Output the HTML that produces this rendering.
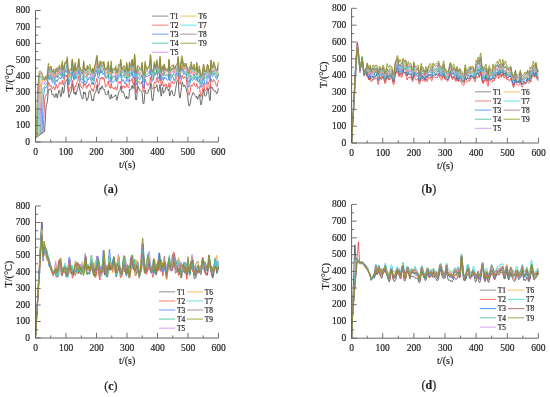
<!DOCTYPE html>
<html><head><meta charset="utf-8"><title>Temperature curves</title>
<style>
html,body{margin:0;padding:0;background:#fff;}
body{width:550px;height:397px;overflow:hidden;}
svg{display:block;}
text{font-family:"Liberation Serif","Times New Roman",serif;fill:#1e1e1e;stroke:#1e1e1e;stroke-width:0.18px;}
.tk text{font-size:9.5px;}
.ti{font-size:10.1px;}
.pl{font-size:12px;}
.lg{font-size:7.4px;}
</style></head><body>
<svg width="550" height="397" viewBox="0 0 550 397">
<defs><filter id="soft" x="-2%" y="-2%" width="104%" height="104%"><feGaussianBlur stdDeviation="0.3"/></filter></defs>
<rect width="550" height="397" fill="#fff"/>
<g fill="none" stroke-width="0.85" stroke-linejoin="round" filter="url(#soft)"><polyline points="35.5,137.1 35.8,136.9 36.1,136.7 36.4,136.5 36.7,136.3 37.0,136.1 37.3,135.9 37.6,135.7 37.9,135.6 38.2,135.4 38.5,135.2 38.9,135.0 39.2,134.8 39.5,134.6 39.8,134.4 40.1,134.2 40.4,134.0 40.7,133.9 41.0,133.7 41.3,133.5 41.6,133.3 41.9,133.1 42.2,132.9 42.5,132.7 42.8,132.5 43.1,132.3 43.4,132.2 43.7,132.0 44.0,131.8 44.3,131.6 44.6,131.4 44.9,125.5 45.3,119.8 45.6,114.2 45.9,109.2 46.2,104.8 46.5,104.5 46.8,104.0 47.1,102.7 47.4,100.5 47.7,97.9 48.0,94.3 48.3,90.6 48.6,89.2 48.9,89.8 49.2,89.9 49.5,89.3 49.8,89.1 50.1,88.8 50.4,88.9 50.7,88.8 51.0,89.7 51.4,91.1 51.7,92.6 52.0,94.1 52.3,95.0 52.6,95.0 52.9,95.0 53.2,94.7 53.5,94.4 53.8,94.8 54.1,95.9 54.4,97.2 54.7,97.5 55.0,97.0 55.3,95.7 55.6,94.4 55.9,93.5 56.2,93.6 56.5,94.8 56.8,96.3 57.1,97.8 57.4,97.9 57.8,95.8 58.1,93.7 58.4,93.0 58.7,91.9 59.0,90.6 59.3,89.9 59.6,90.5 59.9,92.1 60.2,94.3 60.5,96.2 60.8,96.8 61.1,96.6 61.4,95.4 61.7,93.2 62.0,89.9 62.3,87.0 62.6,87.7 62.9,90.4 63.2,92.4 63.5,93.4 63.8,92.7 64.2,90.6 64.5,87.3 64.8,84.5 65.1,82.8 65.4,81.7 65.7,81.1 66.0,81.0 66.3,80.9 66.6,80.1 66.9,79.2 67.2,79.4 67.5,82.7 67.8,87.5 68.1,91.6 68.4,94.6 68.7,96.6 69.0,97.4 69.3,97.1 69.6,96.0 69.9,94.3 70.3,92.8 70.6,92.0 70.9,91.9 71.2,91.9 71.5,90.5 71.8,87.4 72.1,84.6 72.4,83.5 72.7,84.5 73.0,87.0 73.3,89.7 73.6,91.9 73.9,93.1 74.2,93.9 74.5,93.9 74.8,92.7 75.1,91.9 75.4,93.1 75.7,94.7 76.0,94.8 76.3,93.6 76.7,92.0 77.0,90.6 77.3,89.4 77.6,88.7 77.9,88.1 78.2,86.8 78.5,84.2 78.8,83.4 79.1,85.6 79.4,87.8 79.7,89.2 80.0,90.6 80.3,92.1 80.6,93.6 80.9,94.9 81.2,95.6 81.5,96.3 81.8,97.5 82.1,98.4 82.4,99.0 82.7,99.1 83.1,98.1 83.4,94.3 83.7,91.9 84.0,93.5 84.3,94.1 84.6,93.2 84.9,92.4 85.2,92.6 85.5,94.2 85.8,96.2 86.1,97.9 86.4,99.6 86.7,100.8 87.0,100.3 87.3,98.7 87.6,98.5 87.9,98.8 88.2,97.9 88.5,95.5 88.8,93.0 89.2,91.5 89.5,90.7 89.8,90.5 90.1,91.0 90.4,92.0 90.7,93.2 91.0,94.8 91.3,96.6 91.6,98.6 91.9,100.2 92.2,100.4 92.5,99.2 92.8,99.5 93.1,100.8 93.4,100.6 93.7,98.9 94.0,96.9 94.3,94.9 94.6,93.5 94.9,92.8 95.2,92.8 95.6,92.6 95.9,91.5 96.2,90.0 96.5,88.2 96.8,86.1 97.1,84.8 97.4,86.2 97.7,89.2 98.0,91.6 98.3,93.0 98.6,93.7 98.9,93.4 99.2,92.2 99.5,90.5 99.8,88.9 100.1,87.6 100.4,87.9 100.7,89.3 101.0,89.4 101.3,88.2 101.6,86.9 102.0,86.0 102.3,85.9 102.6,86.8 102.9,88.4 103.2,89.4 103.5,89.2 103.8,89.1 104.1,89.2 104.4,89.3 104.7,90.4 105.0,92.3 105.3,93.9 105.6,94.8 105.9,95.1 106.2,95.1 106.5,94.9 106.8,94.6 107.1,94.2 107.4,93.8 107.7,92.9 108.1,90.9 108.4,90.6 108.7,93.3 109.0,95.7 109.3,96.8 109.6,97.3 109.9,98.2 110.2,99.0 110.5,99.0 110.8,97.3 111.1,94.6 111.4,94.6 111.7,96.8 112.0,98.2 112.3,97.8 112.6,97.2 112.9,97.2 113.2,97.0 113.5,96.9 113.8,97.0 114.1,96.5 114.5,96.2 114.8,96.0 115.1,95.7 115.4,95.3 115.7,94.7 116.0,96.1 116.3,98.5 116.6,99.8 116.9,100.3 117.2,99.4 117.5,98.1 117.8,96.4 118.1,94.7 118.4,93.2 118.7,92.0 119.0,91.4 119.3,91.3 119.6,90.9 119.9,90.5 120.2,89.5 120.5,87.1 120.9,86.0 121.2,88.2 121.5,90.7 121.8,92.1 122.1,92.4 122.4,92.0 122.7,91.4 123.0,91.2 123.3,91.8 123.6,92.8 123.9,93.3 124.2,93.8 124.5,95.7 124.8,96.9 125.1,97.1 125.4,97.5 125.7,98.3 126.0,98.9 126.3,97.7 126.6,96.0 127.0,97.0 127.3,98.7 127.6,99.1 127.9,98.7 128.2,98.4 128.5,98.5 128.8,98.2 129.1,95.7 129.4,91.3 129.7,89.3 130.0,90.1 130.3,89.8 130.6,89.2 130.9,89.3 131.2,88.9 131.5,87.9 131.8,86.3 132.1,85.3 132.4,85.9 132.7,87.6 133.0,88.7 133.4,88.3 133.7,87.1 134.0,85.7 134.3,83.8 134.6,82.5 134.9,86.2 135.2,93.0 135.5,97.5 135.8,99.6 136.1,100.2 136.4,99.9 136.7,97.8 137.0,94.4 137.3,90.8 137.6,88.2 137.9,86.8 138.2,86.3 138.5,86.9 138.8,87.9 139.1,89.0 139.4,90.0 139.8,90.4 140.1,90.3 140.4,90.4 140.7,90.9 141.0,91.3 141.3,91.4 141.6,91.3 141.9,91.5 142.2,93.5 142.5,97.2 142.8,101.0 143.1,103.2 143.4,104.0 143.7,103.7 144.0,102.3 144.3,99.9 144.6,96.2 144.9,92.0 145.2,90.3 145.5,91.6 145.8,92.8 146.2,93.1 146.5,93.4 146.8,93.7 147.1,93.9 147.4,93.7 147.7,93.2 148.0,92.4 148.3,91.0 148.6,90.0 148.9,89.4 149.2,89.1 149.5,89.2 149.8,88.6 150.1,86.3 150.4,83.5 150.7,84.3 151.0,88.8 151.3,92.9 151.6,95.7 151.9,98.4 152.3,100.4 152.6,101.0 152.9,100.3 153.2,98.6 153.5,96.7 153.8,93.6 154.1,89.9 154.4,87.4 154.7,87.0 155.0,87.4 155.3,87.5 155.6,87.4 155.9,87.3 156.2,86.7 156.5,85.4 156.8,84.7 157.1,86.0 157.4,88.7 157.7,90.5 158.0,91.4 158.3,91.8 158.7,91.7 159.0,90.6 159.3,88.7 159.6,86.3 159.9,84.6 160.2,85.4 160.5,89.4 160.8,93.8 161.1,96.1 161.4,96.1 161.7,93.8 162.0,90.4 162.3,87.7 162.6,87.5 162.9,89.4 163.2,91.9 163.5,93.3 163.8,92.8 164.1,91.6 164.4,91.3 164.7,91.4 165.1,90.7 165.4,89.2 165.7,87.6 166.0,86.5 166.3,86.3 166.6,86.9 166.9,87.8 167.2,88.5 167.5,89.1 167.8,89.4 168.1,90.2 168.4,90.7 168.7,89.3 169.0,88.9 169.3,92.7 169.6,95.8 169.9,95.9 170.2,94.8 170.5,93.2 170.8,91.8 171.2,90.9 171.5,90.4 171.8,90.2 172.1,90.7 172.4,92.1 172.7,93.6 173.0,94.7 173.3,95.0 173.6,95.4 173.9,96.0 174.2,96.0 174.5,95.3 174.8,94.1 175.1,92.6 175.4,90.7 175.7,88.6 176.0,86.8 176.3,84.8 176.6,82.9 176.9,81.5 177.2,80.8 177.6,80.2 177.9,79.5 178.2,80.6 178.5,84.6 178.8,89.8 179.1,93.6 179.4,95.9 179.7,97.6 180.0,98.1 180.3,96.7 180.6,94.0 180.9,92.3 181.2,90.6 181.5,87.6 181.8,84.2 182.1,82.3 182.4,82.3 182.7,83.1 183.0,84.8 183.3,86.1 183.6,86.5 184.0,86.4 184.3,85.7 184.6,85.1 184.9,85.1 185.2,85.9 185.5,87.3 185.8,87.9 186.1,87.8 186.4,88.9 186.7,91.0 187.0,92.5 187.3,93.6 187.6,95.5 187.9,98.3 188.2,101.3 188.5,103.8 188.8,105.5 189.1,106.2 189.4,106.0 189.7,105.1 190.1,104.2 190.4,103.0 190.7,100.7 191.0,98.4 191.3,97.1 191.6,96.5 191.9,95.9 192.2,95.1 192.5,94.2 192.8,93.1 193.1,92.5 193.4,92.8 193.7,93.2 194.0,93.3 194.3,94.1 194.6,95.1 194.9,95.3 195.2,95.6 195.5,95.9 195.8,96.4 196.1,97.5 196.5,97.4 196.8,96.4 197.1,97.7 197.4,99.4 197.7,99.3 198.0,98.3 198.3,97.3 198.6,96.6 198.9,95.6 199.2,94.4 199.5,94.7 199.8,96.7 200.1,99.6 200.4,102.3 200.7,104.0 201.0,104.9 201.3,104.6 201.6,103.4 201.9,101.5 202.2,99.2 202.5,96.9 202.9,94.4 203.2,91.8 203.5,89.6 203.8,89.0 204.1,90.8 204.4,93.4 204.7,95.5 205.0,96.3 205.3,96.2 205.6,95.8 205.9,95.4 206.2,95.3 206.5,95.0 206.8,93.6 207.1,90.9 207.4,88.7 207.7,87.9 208.0,87.7 208.3,88.7 208.6,91.3 209.0,94.6 209.3,97.7 209.6,99.8 209.9,100.7 210.2,99.8 210.5,95.7 210.8,89.4 211.1,86.6 211.4,87.2 211.7,87.1 212.0,87.0 212.3,87.4 212.6,88.0 212.9,89.1 213.2,89.8 213.5,89.8 213.8,90.4 214.1,91.0 214.4,91.1 214.7,91.1 215.0,90.9 215.4,90.8 215.7,91.4 216.0,92.2 216.3,93.0 216.6,93.7 216.9,93.7 217.2,93.1 217.5,92.1 217.8,91.0 218.1,89.6 218.4,88.1" stroke="#4d4d4d"/><polyline points="35.5,137.2 35.8,137.0 36.1,136.9 36.4,136.7 36.7,136.5 37.0,136.3 37.3,136.1 37.6,135.9 37.9,135.7 38.2,135.5 38.5,135.3 38.9,135.2 39.2,135.0 39.5,134.8 39.8,134.6 40.1,134.4 40.4,134.2 40.7,134.0 41.0,133.8 41.3,133.6 41.6,133.5 41.9,133.3 42.2,133.1 42.5,132.9 42.8,132.7 43.1,132.5 43.4,125.9 43.7,119.7 44.0,113.6 44.3,107.4 44.6,100.8 44.9,98.4 45.3,96.7 45.6,95.5 45.9,95.0 46.2,95.0 46.5,95.2 46.8,95.0 47.1,94.1 47.4,92.3 47.7,89.9 48.0,86.3 48.3,83.1 48.6,82.0 48.9,82.9 49.2,84.0 49.5,85.1 49.8,86.0 50.1,86.6 50.4,86.4 50.7,85.8 51.0,85.5 51.4,86.5 51.7,87.9 52.0,88.6 52.3,88.6 52.6,88.3 52.9,87.8 53.2,87.1 53.5,86.5 53.8,86.9 54.1,88.3 54.4,89.7 54.7,90.1 55.0,89.2 55.3,88.1 55.6,86.5 55.9,85.0 56.2,84.5 56.5,85.0 56.8,86.5 57.1,87.9 57.4,88.4 57.8,87.5 58.1,86.8 58.4,86.7 58.7,86.1 59.0,84.6 59.3,82.8 59.6,82.1 59.9,82.0 60.2,82.6 60.5,83.5 60.8,84.1 61.1,84.3 61.4,84.2 61.7,83.5 62.0,82.0 62.3,80.3 62.6,81.4 62.9,83.7 63.2,84.8 63.5,84.7 63.8,83.2 64.2,80.7 64.5,78.3 64.8,76.7 65.1,75.3 65.4,74.9 65.7,75.3 66.0,76.1 66.3,76.6 66.6,76.0 66.9,74.8 67.2,75.2 67.5,78.6 67.8,83.3 68.1,87.2 68.4,89.5 68.7,91.0 69.0,91.9 69.3,91.5 69.6,90.2 69.9,88.5 70.3,87.3 70.6,87.0 70.9,87.4 71.2,87.4 71.5,86.1 71.8,83.4 72.1,80.6 72.4,80.2 72.7,81.8 73.0,84.4 73.3,87.4 73.6,89.6 73.9,90.4 74.2,90.3 74.5,89.6 74.8,87.8 75.1,85.9 75.4,86.1 75.7,86.9 76.0,86.3 76.3,84.5 76.7,82.9 77.0,82.2 77.3,81.6 77.6,80.9 77.9,80.4 78.2,79.1 78.5,76.8 78.8,76.0 79.1,78.4 79.4,80.8 79.7,82.2 80.0,83.6 80.3,85.1 80.6,86.0 80.9,86.4 81.2,87.0 81.5,87.5 81.8,87.6 82.1,87.7 82.4,88.1 82.7,88.6 83.1,87.7 83.4,84.3 83.7,82.4 84.0,84.6 84.3,85.5 84.6,84.6 84.9,83.7 85.2,83.5 85.5,84.3 85.8,85.6 86.1,86.7 86.4,87.9 86.7,88.5 87.0,87.8 87.3,85.8 87.6,85.2 87.9,86.2 88.2,86.1 88.5,85.0 88.8,84.1 89.2,83.7 89.5,83.7 89.8,84.3 90.1,85.4 90.4,86.5 90.7,87.1 91.0,87.4 91.3,88.2 91.6,89.3 91.9,90.6 92.2,90.5 92.5,89.3 92.8,89.8 93.1,91.5 93.4,91.5 93.7,90.0 94.0,88.5 94.3,87.0 94.6,85.4 94.9,84.2 95.2,83.6 95.6,82.9 95.9,82.2 96.2,81.4 96.5,79.9 96.8,78.6 97.1,78.7 97.4,80.1 97.7,82.7 98.0,85.0 98.3,86.2 98.6,86.4 98.9,85.6 99.2,84.4 99.5,82.8 99.8,80.4 100.1,78.2 100.4,78.0 100.7,78.8 101.0,78.9 101.3,78.1 101.6,77.1 102.0,76.8 102.3,77.0 102.6,78.0 102.9,79.1 103.2,79.1 103.5,78.4 103.8,77.7 104.1,78.4 104.4,80.0 104.7,81.8 105.0,83.7 105.3,85.6 105.6,87.0 105.9,87.1 106.2,86.4 106.5,85.7 106.8,84.9 107.1,84.5 107.4,84.1 107.7,83.3 108.1,81.4 108.4,81.0 108.7,83.8 109.0,85.9 109.3,87.0 109.6,87.7 109.9,88.1 110.2,88.3 110.5,88.2 110.8,86.1 111.1,83.3 111.4,84.0 111.7,86.9 112.0,88.1 112.3,87.9 112.6,87.9 112.9,88.1 113.2,88.4 113.5,88.4 113.8,87.8 114.1,87.7 114.5,88.7 114.8,89.2 115.1,88.7 115.4,87.8 115.7,86.8 116.0,87.7 116.3,89.7 116.6,90.3 116.9,89.9 117.2,88.9 117.5,87.2 117.8,85.3 118.1,83.5 118.4,82.3 118.7,81.7 119.0,81.5 119.3,82.0 119.6,82.8 119.9,83.4 120.2,82.8 120.5,81.3 120.9,81.4 121.2,84.3 121.5,87.1 121.8,88.7 122.1,88.9 122.4,87.9 122.7,86.7 123.0,85.9 123.3,85.8 123.6,86.4 123.9,86.3 124.2,86.2 124.5,87.3 124.8,87.8 125.1,87.2 125.4,86.9 125.7,87.2 126.0,87.3 126.3,85.6 126.6,83.7 127.0,84.4 127.3,86.3 127.6,87.0 127.9,87.0 128.2,87.4 128.5,87.8 128.8,87.7 129.1,85.6 129.4,81.6 129.7,79.8 130.0,80.5 130.3,80.8 130.6,81.0 130.9,81.0 131.2,80.6 131.5,80.0 131.8,78.8 132.1,78.4 132.4,80.0 132.7,82.5 133.0,84.0 133.4,84.4 133.7,83.6 134.0,81.9 134.3,79.4 134.6,77.4 134.9,80.5 135.2,86.4 135.5,90.2 135.8,91.9 136.1,92.5 136.4,92.4 136.7,91.0 137.0,88.2 137.3,85.0 137.6,83.0 137.9,81.8 138.2,81.1 138.5,81.0 138.8,81.8 139.1,82.7 139.4,82.9 139.8,83.0 140.1,83.3 140.4,83.4 140.7,83.6 141.0,83.8 141.3,83.2 141.6,82.0 141.9,81.3 142.2,82.6 142.5,85.9 142.8,88.9 143.1,90.9 143.4,91.7 143.7,91.7 144.0,90.8 144.3,88.7 144.6,85.1 144.9,81.2 145.2,79.3 145.5,80.1 145.8,81.4 146.2,81.8 146.5,82.5 146.8,83.5 147.1,84.5 147.4,85.4 147.7,85.8 148.0,85.2 148.3,84.2 148.6,83.6 148.9,83.4 149.2,83.6 149.5,83.7 149.8,82.8 150.1,80.2 150.4,76.9 150.7,77.2 151.0,80.7 151.3,83.6 151.6,85.9 151.9,87.7 152.3,88.7 152.6,89.0 152.9,89.0 153.2,88.6 153.5,87.7 153.8,86.0 154.1,83.6 154.4,82.0 154.7,81.9 155.0,82.5 155.3,83.1 155.6,83.2 155.9,82.5 156.2,80.9 156.5,78.8 156.8,77.5 157.1,77.8 157.4,79.3 157.7,80.9 158.0,82.1 158.3,82.7 158.7,82.7 159.0,82.0 159.3,80.0 159.6,76.8 159.9,73.9 160.2,74.1 160.5,77.7 160.8,82.1 161.1,85.1 161.4,85.9 161.7,84.9 162.0,83.0 162.3,81.5 162.6,81.6 162.9,83.3 163.2,85.8 163.5,87.1 163.8,86.2 164.1,84.6 164.4,84.7 164.7,85.6 165.1,85.5 165.4,84.5 165.7,83.9 166.0,83.9 166.3,84.5 166.6,85.5 166.9,86.7 167.2,87.3 167.5,87.4 167.8,87.3 168.1,87.3 168.4,87.0 168.7,84.6 169.0,82.9 169.3,86.1 169.6,88.7 169.9,88.6 170.2,87.4 170.5,85.8 170.8,84.1 171.2,82.4 171.5,81.4 171.8,81.0 172.1,81.1 172.4,82.1 172.7,83.3 173.0,83.7 173.3,83.2 173.6,83.4 173.9,83.8 174.2,83.6 174.5,82.8 174.8,82.0 175.1,81.0 175.4,80.3 175.7,79.8 176.0,79.2 176.3,78.5 176.6,77.5 176.9,76.7 177.2,76.0 177.6,74.6 177.9,73.1 178.2,73.1 178.5,75.8 178.8,79.4 179.1,82.1 179.4,83.6 179.7,84.2 180.0,84.5 180.3,84.0 180.6,82.2 180.9,81.0 181.2,80.0 181.5,77.8 181.8,76.0 182.1,75.2 182.4,75.8 182.7,76.9 183.0,77.9 183.3,78.8 183.6,78.7 184.0,78.1 184.3,77.4 184.6,76.7 184.9,76.7 185.2,77.0 185.5,77.6 185.8,77.9 186.1,78.4 186.4,80.0 186.7,82.4 187.0,84.6 187.3,86.1 187.6,87.9 187.9,89.9 188.2,92.0 188.5,93.7 188.8,94.9 189.1,95.3 189.4,94.5 189.7,92.7 190.1,91.5 190.4,90.0 190.7,87.6 191.0,85.5 191.3,84.9 191.6,85.0 191.9,85.9 192.2,86.2 192.5,85.5 192.8,84.9 193.1,84.5 193.4,83.8 193.7,83.1 194.0,82.7 194.3,83.8 194.6,85.4 194.9,86.0 195.2,86.4 195.5,86.6 195.8,86.6 196.1,86.4 196.5,85.0 196.8,83.5 197.1,85.2 197.4,87.6 197.7,88.4 198.0,88.3 198.3,88.2 198.6,87.9 198.9,87.2 199.2,86.5 199.5,87.4 199.8,89.5 200.1,92.2 200.4,94.6 200.7,96.1 201.0,96.8 201.3,96.3 201.6,95.1 201.9,93.3 202.2,91.4 202.5,89.2 202.9,87.2 203.2,85.1 203.5,83.4 203.8,83.1 204.1,84.9 204.4,87.7 204.7,89.6 205.0,90.2 205.3,90.4 205.6,90.4 205.9,90.3 206.2,90.2 206.5,89.6 206.8,87.8 207.1,84.7 207.4,82.8 207.7,82.1 208.0,81.8 208.3,81.9 208.6,83.1 209.0,85.0 209.3,87.1 209.6,88.8 209.9,89.2 210.2,88.4 210.5,84.7 210.8,79.5 211.1,78.6 211.4,80.6 211.7,81.3 212.0,81.4 212.3,81.6 212.6,81.9 212.9,82.0 213.2,81.0 213.5,79.7 213.8,79.6 214.1,80.1 214.4,80.3 214.7,80.5 215.0,81.2 215.4,82.6 215.7,83.5 216.0,84.3 216.3,85.5 216.6,86.0 216.9,86.5 217.2,86.2 217.5,84.8 217.8,83.0 218.1,81.7 218.4,80.3" stroke="#f04242"/><polyline points="35.5,137.4 35.8,137.2 36.1,137.0 36.4,136.8 36.7,136.6 37.0,136.5 37.3,136.3 37.6,136.1 37.9,135.9 38.2,135.7 38.5,135.5 38.9,135.3 39.2,135.1 39.5,134.9 39.8,134.8 40.1,134.6 40.4,134.4 40.7,134.2 41.0,134.0 41.3,133.8 41.6,133.6 41.9,133.4 42.2,125.5 42.5,118.3 42.8,111.4 43.1,104.2 43.4,97.0 43.7,94.9 44.0,92.9 44.3,90.9 44.6,89.5 44.9,88.2 45.3,87.4 45.6,87.1 45.9,87.3 46.2,87.9 46.5,88.1 46.8,88.0 47.1,86.9 47.4,85.1 47.7,82.7 48.0,79.4 48.3,76.2 48.6,75.6 48.9,77.2 49.2,78.7 49.5,79.4 49.8,79.6 50.1,79.2 50.4,78.5 50.7,77.7 51.0,77.8 51.4,79.1 51.7,80.8 52.0,82.0 52.3,82.5 52.6,82.4 52.9,81.9 53.2,81.0 53.5,80.5 53.8,80.8 54.1,82.0 54.4,83.7 54.7,84.6 55.0,84.1 55.3,82.8 55.6,81.4 55.9,80.3 56.2,79.8 56.5,80.2 56.8,81.0 57.1,81.7 57.4,81.3 57.8,79.7 58.1,78.9 58.4,79.1 58.7,79.1 59.0,78.4 59.3,77.9 59.6,77.4 59.9,77.4 60.2,78.0 60.5,78.8 60.8,79.0 61.1,78.6 61.4,78.0 61.7,77.0 62.0,74.9 62.3,72.8 62.6,74.0 62.9,76.9 63.2,78.5 63.5,78.7 63.8,78.1 64.2,76.4 64.5,74.3 64.8,72.3 65.1,70.8 65.4,70.7 65.7,71.4 66.0,72.0 66.3,72.4 66.6,71.9 66.9,70.3 67.2,69.8 67.5,72.5 67.8,76.6 68.1,79.9 68.4,82.5 68.7,84.4 69.0,85.1 69.3,84.3 69.6,83.2 69.9,81.8 70.3,80.6 70.6,80.2 70.9,80.3 71.2,80.1 71.5,78.3 71.8,74.8 72.1,72.0 72.4,71.8 72.7,73.7 73.0,76.5 73.3,78.5 73.6,79.7 73.9,80.2 74.2,79.7 74.5,78.7 74.8,77.2 75.1,76.0 75.4,76.6 75.7,78.3 76.0,79.2 76.3,78.9 76.7,77.8 77.0,76.6 77.3,76.0 77.6,75.6 77.9,75.2 78.2,74.1 78.5,71.8 78.8,70.1 79.1,71.6 79.4,73.7 79.7,75.3 80.0,77.0 80.3,78.7 80.6,80.0 80.9,80.9 81.2,81.6 81.5,81.9 81.8,82.3 82.1,82.7 82.4,82.8 82.7,82.9 83.1,82.0 83.4,78.5 83.7,76.5 84.0,79.8 84.3,81.7 84.6,81.2 84.9,80.9 85.2,81.3 85.5,81.7 85.8,82.3 86.1,83.0 86.4,83.5 86.7,83.4 87.0,82.0 87.3,79.3 87.6,78.8 87.9,79.8 88.2,79.8 88.5,79.0 88.8,78.1 89.2,77.3 89.5,77.3 89.8,77.4 90.1,77.9 90.4,78.4 90.7,79.0 91.0,80.0 91.3,81.3 91.6,82.9 91.9,84.4 92.2,84.0 92.5,82.3 92.8,82.9 93.1,84.9 93.4,85.0 93.7,83.5 94.0,81.6 94.3,79.7 94.6,78.2 94.9,77.0 95.2,76.0 95.6,75.0 95.9,73.8 96.2,72.5 96.5,71.2 96.8,70.2 97.1,70.2 97.4,72.0 97.7,75.0 98.0,77.5 98.3,78.3 98.6,78.2 98.9,77.6 99.2,76.4 99.5,74.9 99.8,73.0 100.1,71.0 100.4,71.1 100.7,72.5 101.0,72.9 101.3,72.4 101.6,71.4 102.0,70.9 102.3,71.5 102.6,72.7 102.9,74.0 103.2,74.4 103.5,73.5 103.8,73.0 104.1,73.7 104.4,74.7 104.7,75.6 105.0,76.5 105.3,77.4 105.6,78.1 105.9,78.1 106.2,78.0 106.5,78.1 106.8,78.2 107.1,78.0 107.4,77.9 107.7,77.4 108.1,75.5 108.4,74.7 108.7,77.5 109.0,80.0 109.3,81.1 109.6,81.7 109.9,82.0 110.2,82.2 110.5,82.0 110.8,79.8 111.1,77.1 111.4,78.0 111.7,81.1 112.0,82.7 112.3,82.4 112.6,81.7 112.9,81.4 113.2,81.6 113.5,81.6 113.8,81.4 114.1,81.2 114.5,80.9 114.8,80.8 115.1,80.4 115.4,79.2 115.7,77.6 116.0,78.7 116.3,80.9 116.6,81.9 116.9,81.8 117.2,81.3 117.5,80.5 117.8,79.5 118.1,78.2 118.4,77.3 118.7,76.5 119.0,76.0 119.3,75.8 119.6,76.2 119.9,76.5 120.2,76.0 120.5,74.3 120.9,74.3 121.2,77.6 121.5,80.3 121.8,81.3 122.1,81.6 122.4,81.2 122.7,80.4 123.0,79.5 123.3,79.8 123.6,80.9 123.9,81.3 124.2,81.8 124.5,83.4 124.8,84.2 125.1,83.9 125.4,83.5 125.7,82.9 126.0,82.2 126.3,79.8 126.6,77.1 127.0,77.6 127.3,79.8 127.6,80.7 127.9,81.0 128.2,81.3 128.5,81.7 128.8,81.3 129.1,78.8 129.4,75.0 129.7,74.2 130.0,75.5 130.3,75.8 130.6,75.9 130.9,76.2 131.2,75.9 131.5,74.9 131.8,73.1 132.1,72.2 132.4,73.6 132.7,76.4 133.0,78.1 133.4,78.3 133.7,77.2 134.0,75.5 134.3,72.5 134.6,69.8 134.9,72.7 135.2,78.6 135.5,82.2 135.8,83.8 136.1,84.6 136.4,85.1 136.7,84.4 137.0,82.0 137.3,79.1 137.6,77.5 137.9,77.1 138.2,76.9 138.5,77.3 138.8,78.2 139.1,78.9 139.4,79.6 139.8,79.6 140.1,79.2 140.4,78.8 140.7,78.5 141.0,78.2 141.3,77.4 141.6,76.3 141.9,75.4 142.2,76.5 142.5,79.7 142.8,83.5 143.1,86.3 143.4,88.1 143.7,88.0 144.0,86.7 144.3,84.8 144.6,81.6 144.9,77.2 145.2,74.9 145.5,76.0 145.8,76.8 146.2,76.6 146.5,76.3 146.8,76.5 147.1,76.8 147.4,76.8 147.7,76.3 148.0,75.8 148.3,75.5 148.6,75.7 148.9,75.9 149.2,76.0 149.5,75.9 149.8,75.3 150.1,72.8 150.4,69.2 150.7,69.2 151.0,73.1 151.3,76.3 151.6,78.4 151.9,80.3 152.3,81.3 152.6,81.1 152.9,80.9 153.2,80.5 153.5,79.5 153.8,77.6 154.1,75.1 154.4,73.6 154.7,73.9 155.0,74.5 155.3,74.6 155.6,74.3 155.9,73.7 156.2,72.6 156.5,71.2 156.8,70.0 157.1,71.0 157.4,73.5 157.7,75.6 158.0,76.9 158.3,78.1 158.7,78.7 159.0,78.3 159.3,76.5 159.6,73.7 159.9,71.0 160.2,70.7 160.5,73.8 160.8,77.7 161.1,80.1 161.4,81.0 161.7,80.3 162.0,78.7 162.3,77.3 162.6,77.1 162.9,78.1 163.2,79.8 163.5,80.5 163.8,79.2 164.1,77.4 164.4,77.3 164.7,78.4 165.1,78.8 165.4,78.2 165.7,77.8 166.0,77.8 166.3,78.0 166.6,78.7 166.9,79.6 167.2,80.1 167.5,80.3 167.8,80.3 168.1,80.0 168.4,79.3 168.7,76.1 169.0,74.0 169.3,77.3 169.6,80.5 169.9,81.1 170.2,80.7 170.5,80.0 170.8,79.2 171.2,78.2 171.5,77.4 171.8,76.7 172.1,76.0 172.4,76.2 172.7,76.8 173.0,77.2 173.3,77.4 173.6,78.5 173.9,80.1 174.2,80.6 174.5,80.2 174.8,79.6 175.1,78.9 175.4,77.6 175.7,76.5 176.0,75.6 176.3,74.1 176.6,73.0 176.9,72.7 177.2,71.9 177.6,70.4 177.9,68.6 178.2,68.3 178.5,70.5 178.8,74.1 179.1,76.7 179.4,78.2 179.7,79.3 180.0,79.1 180.3,77.4 180.6,74.0 180.9,72.1 181.2,71.4 181.5,69.5 181.8,67.5 182.1,67.1 182.4,68.0 182.7,69.8 183.0,71.6 183.3,73.2 183.6,74.3 184.0,74.5 184.3,73.9 184.6,72.9 184.9,72.6 185.2,73.3 185.5,74.1 185.8,74.1 186.1,73.9 186.4,75.2 186.7,77.3 187.0,79.4 187.3,81.1 187.6,82.5 187.9,83.9 188.2,85.2 188.5,86.6 188.8,87.3 189.1,86.8 189.4,85.4 189.7,84.3 190.1,82.9 190.4,81.1 190.7,79.4 191.0,78.2 191.3,78.2 191.6,78.9 191.9,79.9 192.2,80.4 192.5,80.3 192.8,80.0 193.1,79.7 193.4,79.4 193.7,78.5 194.0,77.6 194.3,77.7 194.6,78.7 194.9,79.6 195.2,79.8 195.5,79.8 195.8,80.3 196.1,80.1 196.5,78.6 196.8,77.2 197.1,78.8 197.4,81.0 197.7,81.5 198.0,81.7 198.3,82.2 198.6,82.0 198.9,80.8 199.2,79.4 199.5,79.7 199.8,81.9 200.1,84.4 200.4,86.2 200.7,87.2 201.0,87.5 201.3,86.9 201.6,85.8 201.9,84.4 202.2,83.2 202.5,82.0 202.9,80.6 203.2,79.1 203.5,77.8 203.8,77.9 204.1,79.9 204.4,82.2 204.7,83.8 205.0,84.4 205.3,84.2 205.6,84.0 205.9,83.9 206.2,83.3 206.5,82.6 206.8,81.3 207.1,78.7 207.4,76.9 207.7,76.3 208.0,75.6 208.3,75.6 208.6,76.6 209.0,78.1 209.3,79.7 209.6,81.3 209.9,81.8 210.2,80.8 210.5,77.0 210.8,71.7 211.1,71.4 211.4,74.1 211.7,75.1 212.0,75.5 212.3,76.0 212.6,76.6 212.9,76.6 213.2,75.2 213.5,73.7 213.8,73.3 214.1,73.8 214.4,74.4 214.7,74.8 215.0,75.3 215.4,76.2 215.7,77.1 216.0,78.1 216.3,78.9 216.6,79.3 216.9,79.4 217.2,78.9 217.5,77.8 217.8,76.3 218.1,74.8 218.4,73.2" stroke="#3380ee"/><polyline points="35.5,137.6 35.8,137.4 36.1,137.2 36.4,137.0 36.7,136.8 37.0,136.6 37.3,136.4 37.6,136.2 37.9,136.0 38.2,135.9 38.5,135.7 38.9,135.5 39.2,135.3 39.5,135.1 39.8,134.9 40.1,134.7 40.4,134.5 40.7,134.3 41.0,125.3 41.3,116.4 41.6,107.6 41.9,99.2 42.2,91.5 42.5,90.3 42.8,89.7 43.1,88.6 43.4,88.0 43.7,88.1 44.0,87.6 44.3,86.6 44.6,86.4 44.9,86.1 45.3,85.4 45.6,84.7 45.9,84.3 46.2,83.9 46.5,83.6 46.8,83.3 47.1,82.6 47.4,81.8 47.7,80.0 48.0,76.9 48.3,74.5 48.6,74.6 48.9,76.2 49.2,77.2 49.5,77.7 49.8,78.3 50.1,78.0 50.4,76.5 50.7,74.7 51.0,74.2 51.4,75.4 51.7,77.4 52.0,79.0 52.3,80.0 52.6,80.2 52.9,79.2 53.2,77.7 53.5,76.6 53.8,77.1 54.1,78.8 54.4,80.1 54.7,80.6 55.0,79.8 55.3,78.4 55.6,77.1 55.9,76.0 56.2,75.3 56.5,75.9 56.8,77.1 57.1,78.0 57.4,77.9 57.8,76.5 58.1,76.2 58.4,76.8 58.7,76.2 59.0,74.1 59.3,72.7 59.6,72.3 59.9,72.3 60.2,73.5 60.5,74.7 60.8,75.4 61.1,75.4 61.4,74.8 61.7,73.3 62.0,70.7 62.3,68.9 62.6,70.6 62.9,73.6 63.2,75.5 63.5,76.1 63.8,75.8 64.2,74.5 64.5,72.3 64.8,70.4 65.1,69.8 65.4,70.0 65.7,70.1 66.0,70.1 66.3,69.5 66.6,68.5 66.9,66.9 67.2,66.4 67.5,69.7 67.8,74.4 68.1,77.4 68.4,79.5 68.7,80.9 69.0,81.5 69.3,81.2 69.6,80.2 69.9,78.9 70.3,78.1 70.6,77.5 70.9,76.9 71.2,75.6 71.5,73.1 71.8,69.7 72.1,67.2 72.4,67.3 72.7,69.9 73.0,73.5 73.3,76.5 73.6,78.4 73.9,79.0 74.2,78.3 74.5,76.3 74.8,73.7 75.1,71.9 75.4,72.9 75.7,75.5 76.0,76.6 76.3,75.7 76.7,74.5 77.0,73.3 77.3,72.5 77.6,72.1 77.9,71.7 78.2,70.5 78.5,67.6 78.8,66.0 79.1,67.8 79.4,70.0 79.7,71.1 80.0,72.4 80.3,74.3 80.6,76.5 80.9,77.9 81.2,78.5 81.5,79.1 81.8,79.1 82.1,79.0 82.4,79.6 82.7,79.9 83.1,78.4 83.4,73.7 83.7,71.5 84.0,74.6 84.3,76.6 84.6,76.4 84.9,76.1 85.2,76.4 85.5,76.7 85.8,76.7 86.1,77.0 86.4,77.8 86.7,78.5 87.0,77.7 87.3,74.9 87.6,73.8 87.9,75.1 88.2,74.9 88.5,74.2 88.8,73.7 89.2,74.0 89.5,74.5 89.8,74.4 90.1,74.1 90.4,74.2 90.7,75.1 91.0,76.7 91.3,78.3 91.6,79.8 91.9,80.4 92.2,79.7 92.5,77.9 92.8,78.5 93.1,80.6 93.4,80.7 93.7,79.6 94.0,78.0 94.3,76.3 94.6,75.0 94.9,73.9 95.2,72.8 95.6,71.1 95.9,69.6 96.2,68.6 96.5,67.4 96.8,66.2 97.1,66.2 97.4,68.1 97.7,70.9 98.0,72.7 98.3,73.3 98.6,73.8 98.9,74.5 99.2,74.5 99.5,73.4 99.8,70.8 100.1,68.5 100.4,68.9 100.7,70.9 101.0,72.4 101.3,72.8 101.6,72.4 102.0,71.6 102.3,71.1 102.6,71.5 102.9,71.6 103.2,70.7 103.5,69.2 103.8,68.4 104.1,69.6 104.4,71.9 104.7,73.7 105.0,74.7 105.3,75.6 105.6,76.7 105.9,77.3 106.2,77.2 106.5,76.7 106.8,76.1 107.1,75.4 107.4,74.7 107.7,73.7 108.1,71.6 108.4,70.8 108.7,73.9 109.0,76.4 109.3,77.2 109.6,77.2 109.9,77.3 110.2,78.2 110.5,78.7 110.8,76.8 111.1,74.0 111.4,74.7 111.7,78.0 112.0,79.4 112.3,78.7 112.6,77.6 112.9,77.0 113.2,77.3 113.5,77.0 113.8,76.5 114.1,76.2 114.5,76.6 114.8,77.2 115.1,77.4 115.4,76.5 115.7,75.5 116.0,77.5 116.3,80.1 116.6,80.5 116.9,80.2 117.2,79.8 117.5,78.9 117.8,77.1 118.1,75.1 118.4,74.2 118.7,74.3 119.0,74.2 119.3,73.7 119.6,74.0 119.9,74.6 120.2,74.1 120.5,71.8 120.9,71.2 121.2,74.3 121.5,77.0 121.8,77.9 122.1,78.0 122.4,77.7 122.7,77.3 123.0,76.8 123.3,76.3 123.6,76.0 123.9,75.0 124.2,74.6 124.5,76.2 124.8,77.7 125.1,77.8 125.4,77.6 125.7,77.9 126.0,77.1 126.3,74.3 126.6,71.6 127.0,72.8 127.3,76.1 127.6,77.8 127.9,77.6 128.2,77.3 128.5,77.0 128.8,76.9 129.1,75.0 129.4,71.5 129.7,71.1 130.0,73.4 130.3,73.9 130.6,73.4 130.9,73.7 131.2,74.0 131.5,73.1 131.8,70.7 132.1,68.9 132.4,69.2 132.7,71.1 133.0,72.4 133.4,72.4 133.7,71.9 134.0,70.8 134.3,68.0 134.6,64.8 134.9,67.3 135.2,73.6 135.5,77.9 135.8,80.1 136.1,81.3 136.4,81.2 136.7,79.9 137.0,77.6 137.3,74.9 137.6,73.4 137.9,72.8 138.2,72.6 138.5,72.7 138.8,73.5 139.1,74.7 139.4,76.0 139.8,76.6 140.1,76.6 140.4,76.5 140.7,76.6 141.0,76.9 141.3,76.8 141.6,75.8 141.9,74.3 142.2,73.8 142.5,75.5 142.8,78.4 143.1,80.9 143.4,81.9 143.7,81.8 144.0,81.0 144.3,79.4 144.6,77.2 144.9,73.9 145.2,71.7 145.5,72.8 145.8,74.2 146.2,74.5 146.5,74.3 146.8,74.0 147.1,73.9 147.4,74.0 147.7,74.0 148.0,73.7 148.3,73.7 148.6,73.5 148.9,73.1 149.2,73.1 149.5,73.0 149.8,71.9 150.1,68.7 150.4,64.4 150.7,65.0 151.0,69.8 151.3,73.5 151.6,75.7 151.9,77.5 152.3,78.6 152.6,79.3 152.9,79.5 153.2,78.8 153.5,77.4 153.8,75.0 154.1,72.7 154.4,71.7 154.7,72.5 155.0,74.1 155.3,75.0 155.6,75.0 155.9,74.2 156.2,73.0 156.5,70.7 156.8,68.6 157.1,68.7 157.4,70.5 157.7,72.0 158.0,73.0 158.3,73.8 158.7,74.0 159.0,73.8 159.3,72.2 159.6,69.3 159.9,66.1 160.2,66.3 160.5,70.3 160.8,74.9 161.1,77.4 161.4,77.2 161.7,75.8 162.0,74.1 162.3,73.0 162.6,73.4 162.9,74.7 163.2,75.7 163.5,75.2 163.8,73.1 164.1,71.4 164.4,72.1 164.7,74.4 165.1,75.8 165.4,75.9 165.7,75.3 166.0,74.9 166.3,75.0 166.6,75.2 166.9,75.3 167.2,75.5 167.5,76.1 167.8,76.6 168.1,76.4 168.4,75.5 168.7,72.3 169.0,70.2 169.3,74.0 169.6,77.7 169.9,78.0 170.2,77.0 170.5,75.1 170.8,74.0 171.2,74.3 171.5,75.4 171.8,76.1 172.1,75.9 172.4,75.7 172.7,75.4 173.0,74.4 173.3,73.6 173.6,74.1 173.9,75.3 174.2,75.7 174.5,75.8 174.8,75.8 175.1,75.4 175.4,74.6 175.7,73.7 176.0,72.7 176.3,71.5 176.6,70.7 176.9,69.9 177.2,68.9 177.6,67.7 177.9,65.6 178.2,64.8 178.5,67.8 178.8,72.5 179.1,75.9 179.4,77.2 179.7,77.3 180.0,76.4 180.3,74.3 180.6,71.0 180.9,69.2 181.2,69.1 181.5,67.8 181.8,66.5 182.1,66.5 182.4,67.0 182.7,68.2 183.0,69.7 183.3,70.9 183.6,71.5 184.0,72.0 184.3,72.3 184.6,71.9 184.9,71.3 185.2,71.0 185.5,71.2 185.8,71.6 186.1,71.5 186.4,72.7 186.7,75.5 187.0,77.2 187.3,78.0 187.6,78.7 187.9,79.5 188.2,80.7 188.5,81.7 188.8,82.6 189.1,82.5 189.4,81.1 189.7,79.6 190.1,78.5 190.4,77.4 190.7,75.9 191.0,75.2 191.3,75.6 191.6,76.5 191.9,77.5 192.2,78.3 192.5,78.2 192.8,77.7 193.1,77.1 193.4,76.3 193.7,75.0 194.0,73.9 194.3,74.5 194.6,76.7 194.9,78.2 195.2,77.8 195.5,77.3 195.8,76.8 196.1,75.9 196.5,74.2 196.8,72.9 197.1,75.2 197.4,78.2 197.7,79.3 198.0,79.4 198.3,78.8 198.6,78.0 198.9,76.7 199.2,75.3 199.5,75.7 199.8,78.3 200.1,80.6 200.4,82.3 200.7,83.4 201.0,83.9 201.3,83.9 201.6,83.5 201.9,82.2 202.2,80.5 202.5,79.5 202.9,78.5 203.2,76.7 203.5,74.0 203.8,73.0 204.1,74.9 204.4,77.4 204.7,78.7 205.0,78.7 205.3,78.2 205.6,77.5 205.9,76.9 206.2,77.2 206.5,77.4 206.8,76.3 207.1,73.6 207.4,71.8 207.7,71.9 208.0,72.2 208.3,72.8 208.6,73.8 209.0,75.1 209.3,76.3 209.6,77.6 209.9,78.3 210.2,77.8 210.5,74.2 210.8,68.3 211.1,67.7 211.4,70.8 211.7,72.4 212.0,73.0 212.3,73.8 212.6,73.9 212.9,73.0 213.2,71.5 213.5,70.7 213.8,71.1 214.1,72.3 214.4,73.2 214.7,73.5 215.0,73.4 215.4,73.6 215.7,74.1 216.0,74.4 216.3,75.0 216.6,76.1 216.9,76.9 217.2,77.4 217.5,77.0 217.8,75.8 218.1,74.2 218.4,72.7" stroke="#30b47f"/><polyline points="35.5,137.7 35.8,137.5 36.1,137.3 36.4,137.2 36.7,137.0 37.0,136.8 37.3,136.6 37.6,136.4 37.9,136.2 38.2,136.0 38.5,135.8 38.9,135.6 39.2,135.5 39.5,135.3 39.8,135.1 40.1,125.2 40.4,115.7 40.7,106.0 41.0,96.3 41.3,87.3 41.6,85.2 41.9,83.8 42.2,83.0 42.5,82.9 42.8,83.3 43.1,83.3 43.4,83.4 43.7,83.7 44.0,84.1 44.3,84.1 44.6,83.0 44.9,82.0 45.3,81.5 45.6,81.5 45.9,81.3 46.2,81.1 46.5,80.8 46.8,80.6 47.1,79.6 47.4,78.3 47.7,76.1 48.0,72.8 48.3,69.9 48.6,70.0 48.9,72.6 49.2,74.5 49.5,75.3 49.8,75.9 50.1,76.5 50.4,75.7 50.7,73.3 51.0,72.2 51.4,73.2 51.7,75.0 52.0,76.5 52.3,77.7 52.6,77.9 52.9,77.0 53.2,75.8 53.5,74.7 53.8,74.9 54.1,76.8 54.4,78.2 54.7,78.0 55.0,76.8 55.3,75.6 55.6,75.0 55.9,74.7 56.2,74.6 56.5,74.8 56.8,75.7 57.1,76.8 57.4,75.7 57.8,73.3 58.1,72.6 58.4,73.5 58.7,73.6 59.0,72.4 59.3,71.3 59.6,71.2 59.9,71.9 60.2,72.8 60.5,73.3 60.8,73.4 61.1,73.0 61.4,72.3 61.7,71.8 62.0,70.1 62.3,68.4 62.6,70.0 62.9,72.5 63.2,73.4 63.5,73.5 63.8,73.2 64.2,71.8 64.5,70.2 64.8,68.9 65.1,67.8 65.4,67.7 65.7,67.9 66.0,67.6 66.3,67.3 66.6,66.7 66.9,65.1 67.2,64.6 67.5,67.8 67.8,72.1 68.1,75.0 68.4,76.8 68.7,77.5 69.0,77.2 69.3,76.4 69.6,75.0 69.9,73.9 70.3,73.8 70.6,74.5 70.9,74.6 71.2,73.8 71.5,72.2 71.8,69.4 72.1,66.5 72.4,65.7 72.7,67.7 73.0,71.2 73.3,74.5 73.6,76.1 73.9,76.3 74.2,75.8 74.5,74.2 74.8,71.0 75.1,68.6 75.4,69.6 75.7,72.2 76.0,73.4 76.3,73.1 76.7,72.2 77.0,71.2 77.3,70.6 77.6,70.5 77.9,70.3 78.2,69.0 78.5,65.5 78.8,63.6 79.1,66.3 79.4,69.4 79.7,71.0 80.0,72.2 80.3,73.3 80.6,74.2 80.9,74.9 81.2,75.7 81.5,76.0 81.8,76.0 82.1,76.4 82.4,76.9 82.7,77.3 83.1,76.2 83.4,71.6 83.7,68.7 84.0,71.5 84.3,73.1 84.6,72.1 84.9,71.2 85.2,71.6 85.5,72.7 85.8,73.8 86.1,75.1 86.4,76.1 86.7,76.4 87.0,75.3 87.3,72.6 87.6,72.2 87.9,73.6 88.2,73.8 88.5,73.5 88.8,73.0 89.2,72.1 89.5,71.6 89.8,72.1 90.1,73.1 90.4,74.4 90.7,75.6 91.0,76.6 91.3,77.3 91.6,77.7 91.9,78.0 92.2,76.9 92.5,75.1 92.8,75.9 93.1,78.5 93.4,78.7 93.7,77.2 94.0,75.5 94.3,74.2 94.6,73.1 94.9,72.2 95.2,71.3 95.6,70.4 95.9,68.8 96.2,66.7 96.5,64.4 96.8,62.4 97.1,62.0 97.4,64.2 97.7,67.8 98.0,70.6 98.3,72.3 98.6,72.7 98.9,72.1 99.2,71.1 99.5,70.1 99.8,68.8 100.1,67.6 100.4,68.7 100.7,70.8 101.0,71.7 101.3,71.0 101.6,69.5 102.0,68.4 102.3,68.6 102.6,69.5 102.9,70.1 103.2,70.0 103.5,68.6 103.8,67.3 104.1,67.9 104.4,69.9 104.7,71.5 105.0,72.4 105.3,73.1 105.6,73.4 105.9,73.5 106.2,73.7 106.5,74.0 106.8,73.6 107.1,73.0 107.4,72.9 107.7,72.0 108.1,69.1 108.4,68.1 108.7,71.3 109.0,73.1 109.3,73.5 109.6,73.9 109.9,74.2 110.2,74.4 110.5,73.7 110.8,71.3 111.1,68.5 111.4,70.2 111.7,74.7 112.0,76.9 112.3,76.5 112.6,75.9 112.9,75.9 113.2,76.1 113.5,76.2 113.8,76.2 114.1,76.0 114.5,75.6 114.8,75.2 115.1,74.7 115.4,73.7 115.7,72.6 116.0,74.4 116.3,77.2 116.6,78.5 116.9,78.0 117.2,76.5 117.5,75.0 117.8,73.9 118.1,73.2 118.4,72.5 118.7,71.8 119.0,71.4 119.3,71.6 119.6,72.2 119.9,72.5 120.2,71.6 120.5,69.5 120.9,69.1 121.2,71.7 121.5,74.0 121.8,75.2 122.1,75.6 122.4,75.4 122.7,75.0 123.0,74.6 123.3,74.7 123.6,74.5 123.9,73.0 124.2,71.8 124.5,73.1 124.8,74.5 125.1,75.0 125.4,75.1 125.7,75.0 126.0,73.8 126.3,70.8 126.6,68.5 127.0,69.6 127.3,72.3 127.6,74.1 127.9,74.6 128.2,74.9 128.5,75.1 128.8,74.6 129.1,72.1 129.4,67.8 129.7,67.3 130.0,70.1 130.3,71.2 130.6,71.1 130.9,70.9 131.2,70.6 131.5,69.1 131.8,66.6 132.1,65.5 132.4,67.1 132.7,69.9 133.0,71.8 133.4,72.0 133.7,70.8 134.0,68.6 134.3,64.8 134.6,61.4 134.9,64.5 135.2,71.2 135.5,75.1 135.8,76.9 136.1,78.1 136.4,78.6 136.7,77.7 137.0,74.8 137.3,71.5 137.6,70.7 137.9,71.0 138.2,70.9 138.5,71.3 138.8,72.4 139.1,73.8 139.4,74.8 139.8,74.9 140.1,74.6 140.4,74.3 140.7,73.3 141.0,72.1 141.3,71.3 141.6,69.8 141.9,68.0 142.2,68.4 142.5,71.4 142.8,75.2 143.1,77.8 143.4,79.0 143.7,79.4 144.0,79.2 144.3,77.8 144.6,74.8 144.9,70.5 145.2,68.4 145.5,69.4 145.8,70.3 146.2,70.8 146.5,71.5 146.8,71.7 147.1,71.8 147.4,71.5 147.7,71.6 148.0,72.0 148.3,72.1 148.6,72.3 148.9,72.1 149.2,71.6 149.5,71.0 149.8,69.8 150.1,66.3 150.4,61.5 150.7,61.6 151.0,66.6 151.3,70.8 151.6,73.5 151.9,75.7 152.3,76.6 152.6,75.9 152.9,74.9 153.2,74.2 153.5,73.4 153.8,71.4 154.1,68.8 154.4,67.6 154.7,68.3 155.0,69.7 155.3,70.0 155.6,69.9 155.9,69.6 156.2,68.5 156.5,66.6 156.8,65.2 157.1,65.9 157.4,68.4 157.7,71.0 158.0,73.0 158.3,73.7 158.7,74.0 159.0,73.1 159.3,70.9 159.6,67.3 159.9,64.0 160.2,64.2 160.5,68.5 160.8,73.0 161.1,75.6 161.4,76.7 161.7,76.5 162.0,75.2 162.3,74.0 162.6,73.7 162.9,74.7 163.2,75.8 163.5,74.7 163.8,71.3 164.1,68.6 164.4,69.1 164.7,71.3 165.1,72.5 165.4,72.8 165.7,72.9 166.0,72.9 166.3,73.3 166.6,74.5 166.9,75.0 167.2,75.0 167.5,74.9 167.8,74.7 168.1,74.5 168.4,73.6 168.7,70.1 169.0,67.6 169.3,71.8 169.6,75.8 169.9,76.0 170.2,75.4 170.5,74.8 170.8,73.8 171.2,72.9 171.5,72.3 171.8,71.7 172.1,71.6 172.4,71.8 172.7,71.8 173.0,71.0 173.3,70.6 173.6,71.7 173.9,73.0 174.2,73.4 174.5,72.9 174.8,71.7 175.1,70.9 175.4,70.4 175.7,70.0 176.0,69.9 176.3,69.9 176.6,69.5 176.9,69.0 177.2,68.1 177.6,66.2 177.9,63.5 178.2,62.3 178.5,64.8 178.8,69.5 179.1,73.5 179.4,75.5 179.7,76.2 180.0,76.0 180.3,74.2 180.6,70.6 180.9,68.3 181.2,67.1 181.5,64.5 181.8,62.5 182.1,62.7 182.4,64.8 182.7,67.0 183.0,68.8 183.3,70.4 183.6,71.2 184.0,70.7 184.3,69.3 184.6,68.1 184.9,67.8 185.2,68.4 185.5,69.4 185.8,69.4 186.1,68.2 186.4,68.7 186.7,70.6 187.0,71.5 187.3,71.9 187.6,72.7 187.9,74.5 188.2,76.4 188.5,77.7 188.8,78.5 189.1,78.3 189.4,77.2 189.7,75.8 190.1,74.5 190.4,73.1 190.7,71.9 191.0,71.4 191.3,71.8 191.6,73.1 191.9,74.1 192.2,74.6 192.5,75.1 192.8,75.2 193.1,74.5 193.4,73.6 193.7,72.5 194.0,71.7 194.3,72.2 194.6,73.8 194.9,74.6 195.2,74.5 195.5,74.2 195.8,73.7 196.1,73.4 196.5,71.3 196.8,69.4 197.1,71.8 197.4,74.7 197.7,74.8 198.0,74.0 198.3,73.3 198.6,72.7 198.9,71.7 199.2,70.7 199.5,70.8 199.8,73.0 200.1,75.7 200.4,77.8 200.7,79.5 201.0,80.5 201.3,80.9 201.6,80.5 201.9,79.1 202.2,77.4 202.5,76.3 202.9,75.6 203.2,73.7 203.5,70.9 203.8,69.9 204.1,71.6 204.4,74.6 204.7,76.2 205.0,76.4 205.3,75.5 205.6,74.3 205.9,74.1 206.2,74.6 206.5,74.7 206.8,73.6 207.1,71.5 207.4,70.4 207.7,70.7 208.0,70.3 208.3,70.5 208.6,72.0 209.0,73.8 209.3,75.8 209.6,77.7 209.9,78.3 210.2,77.2 210.5,72.7 210.8,66.4 211.1,66.2 211.4,69.6 211.7,70.4 212.0,70.5 212.3,71.0 212.6,71.8 212.9,72.1 213.2,71.4 213.5,70.1 213.8,69.5 214.1,70.2 214.4,70.9 214.7,70.9 215.0,71.1 215.4,71.5 215.7,72.0 216.0,72.7 216.3,73.2 216.6,73.3 216.9,73.1 217.2,72.8 217.5,72.2 217.8,71.5 218.1,70.3 218.4,69.4" stroke="#c97be6"/><polyline points="35.5,137.9 35.8,137.7 36.1,137.5 36.4,137.3 36.7,137.1 37.0,136.9 37.3,136.8 37.6,136.6 37.9,136.4 38.2,136.2 38.5,136.0 38.9,135.8 39.2,125.6 39.5,115.3 39.8,105.4 40.1,95.6 40.4,86.0 40.7,83.8 41.0,82.0 41.3,80.3 41.6,79.2 41.9,78.5 42.2,79.0 42.5,80.5 42.8,81.9 43.1,82.0 43.4,81.7 43.7,81.4 44.0,81.1 44.3,80.7 44.6,80.2 44.9,80.1 45.3,80.2 45.6,79.7 45.9,79.2 46.2,79.1 46.5,79.6 46.8,80.2 47.1,79.9 47.4,78.3 47.7,76.4 48.0,73.4 48.3,70.8 48.6,70.5 48.9,71.8 49.2,72.9 49.5,73.6 49.8,73.6 50.1,73.1 50.4,72.1 50.7,70.9 51.0,70.8 51.4,72.4 51.7,74.4 52.0,75.0 52.3,75.4 52.6,75.4 52.9,74.9 53.2,73.9 53.5,73.2 53.8,73.5 54.1,74.7 54.4,75.9 54.7,76.4 55.0,75.8 55.3,74.4 55.6,73.0 55.9,72.3 56.2,72.5 56.5,73.1 56.8,73.9 57.1,74.5 57.4,73.5 57.8,71.5 58.1,70.9 58.4,71.8 58.7,72.1 59.0,71.2 59.3,70.2 59.6,69.9 59.9,70.4 60.2,71.1 60.5,71.1 60.8,70.8 61.1,70.6 61.4,70.2 61.7,68.9 62.0,66.6 62.3,64.6 62.6,66.4 62.9,70.1 63.2,72.2 63.5,72.2 63.8,70.7 64.2,69.4 64.5,68.0 64.8,66.4 65.1,65.1 65.4,64.8 65.7,65.2 66.0,65.7 66.3,65.7 66.6,64.8 66.9,62.5 67.2,61.6 67.5,64.8 67.8,69.4 68.1,72.7 68.4,75.1 68.7,76.8 69.0,77.4 69.3,76.5 69.6,74.8 69.9,73.6 70.3,73.4 70.6,73.5 70.9,73.4 71.2,72.6 71.5,70.7 71.8,67.3 72.1,64.2 72.4,63.5 72.7,65.1 73.0,67.8 73.3,70.3 73.6,71.8 73.9,72.0 74.2,71.7 74.5,71.3 74.8,69.7 75.1,68.3 75.4,69.5 75.7,72.0 76.0,73.3 76.3,73.3 76.7,72.7 77.0,71.5 77.3,70.0 77.6,69.4 77.9,69.4 78.2,68.3 78.5,65.0 78.8,63.3 79.1,65.8 79.4,68.0 79.7,68.5 80.0,69.0 80.3,70.0 80.6,71.2 80.9,72.0 81.2,72.3 81.5,72.4 81.8,72.9 82.1,73.7 82.4,74.3 82.7,74.6 83.1,73.9 83.4,70.3 83.7,67.6 84.0,70.4 84.3,72.4 84.6,72.2 84.9,72.3 85.2,72.8 85.5,73.2 85.8,73.7 86.1,74.3 86.4,74.8 86.7,75.4 87.0,74.7 87.3,71.6 87.6,71.0 87.9,72.7 88.2,72.5 88.5,71.7 88.8,70.9 89.2,70.3 89.5,70.0 89.8,70.7 90.1,71.7 90.4,73.1 90.7,73.6 91.0,73.0 91.3,72.6 91.6,73.3 91.9,74.8 92.2,74.8 92.5,72.9 92.8,73.2 93.1,75.1 93.4,75.2 93.7,73.8 94.0,72.3 94.3,70.6 94.6,69.2 94.9,68.1 95.2,66.6 95.6,65.9 95.9,65.4 96.2,64.2 96.5,62.4 96.8,60.6 97.1,60.6 97.4,63.3 97.7,67.4 98.0,70.2 98.3,71.4 98.6,71.7 98.9,71.0 99.2,69.6 99.5,67.9 99.8,66.2 100.1,65.2 100.4,66.9 100.7,69.3 101.0,69.8 101.3,69.0 101.6,68.1 102.0,67.8 102.3,67.7 102.6,67.6 102.9,67.1 103.2,66.1 103.5,64.8 103.8,64.4 104.1,65.3 104.4,66.7 104.7,68.1 105.0,69.7 105.3,71.8 105.6,73.4 105.9,73.5 106.2,72.8 106.5,72.0 106.8,71.5 107.1,71.1 107.4,70.3 107.7,69.2 108.1,66.8 108.4,66.1 108.7,69.8 109.0,72.7 109.3,73.8 109.6,73.9 109.9,73.8 110.2,73.7 110.5,73.3 110.8,71.1 111.1,68.0 111.4,68.7 111.7,72.1 112.0,73.5 112.3,73.0 112.6,72.1 112.9,71.9 113.2,72.0 113.5,72.3 113.8,72.5 114.1,72.4 114.5,72.5 114.8,72.8 115.1,73.2 115.4,72.9 115.7,71.7 116.0,72.6 116.3,74.1 116.6,74.4 116.9,74.5 117.2,74.8 117.5,74.7 117.8,73.9 118.1,73.0 118.4,71.5 118.7,70.2 119.0,69.6 119.3,69.9 119.6,70.8 119.9,71.3 120.2,69.4 120.5,65.6 120.9,64.2 121.2,67.3 121.5,70.8 121.8,72.8 122.1,73.3 122.4,72.2 122.7,71.3 123.0,70.9 123.3,71.0 123.6,71.2 123.9,70.6 124.2,70.2 124.5,71.5 124.8,72.8 125.1,73.2 125.4,73.8 125.7,74.8 126.0,74.4 126.3,71.0 126.6,67.1 127.0,67.7 127.3,71.1 127.6,72.6 127.9,73.0 128.2,74.0 128.5,75.2 128.8,75.7 129.1,73.7 129.4,69.0 129.7,67.3 130.0,69.1 130.3,70.2 130.6,70.2 130.9,69.5 131.2,68.6 131.5,66.2 131.8,63.7 132.1,63.3 132.4,65.8 132.7,68.9 133.0,70.6 133.4,70.2 133.7,68.5 134.0,66.4 134.3,63.0 134.6,59.8 134.9,63.4 135.2,70.7 135.5,74.7 135.8,76.0 136.1,76.4 136.4,76.4 136.7,75.5 137.0,73.5 137.3,71.2 137.6,70.2 137.9,69.7 138.2,69.1 138.5,69.8 138.8,71.1 139.1,72.4 139.4,72.6 139.8,72.5 140.1,72.6 140.4,72.6 140.7,72.3 141.0,71.8 141.3,71.1 141.6,70.0 141.9,69.0 142.2,69.4 142.5,71.7 142.8,74.3 143.1,76.2 143.4,77.3 143.7,77.5 144.0,77.5 144.3,76.4 144.6,73.9 144.9,69.6 145.2,67.2 145.5,67.9 145.8,69.0 146.2,69.6 146.5,70.4 146.8,70.8 147.1,70.9 147.4,70.6 147.7,69.7 148.0,68.7 148.3,68.1 148.6,68.0 148.9,68.1 149.2,67.6 149.5,67.6 149.8,67.5 150.1,64.7 150.4,60.3 150.7,60.4 151.0,65.4 151.3,69.5 151.6,71.8 151.9,73.2 152.3,73.6 152.6,73.6 152.9,73.9 153.2,74.5 153.5,74.4 153.8,72.2 154.1,68.7 154.4,67.2 154.7,68.1 155.0,69.4 155.3,69.4 155.6,68.6 155.9,67.7 156.2,66.1 156.5,63.9 156.8,62.5 157.1,63.9 157.4,67.4 157.7,70.1 158.0,71.1 158.3,71.1 158.7,70.9 159.0,70.1 159.3,67.8 159.6,64.3 159.9,61.4 160.2,61.5 160.5,65.4 160.8,70.5 161.1,74.1 161.4,74.8 161.7,73.6 162.0,71.7 162.3,70.7 162.6,70.9 162.9,72.3 163.2,73.7 163.5,73.2 163.8,70.9 164.1,69.3 164.4,69.4 164.7,70.4 165.1,70.8 165.4,70.4 165.7,70.0 166.0,69.9 166.3,70.8 166.6,71.8 166.9,72.0 167.2,71.9 167.5,71.8 167.8,72.1 168.1,72.4 168.4,71.7 168.7,68.4 169.0,65.8 169.3,69.5 169.6,73.3 169.9,73.9 170.2,73.2 170.5,72.0 170.8,71.3 171.2,70.9 171.5,70.4 171.8,69.5 172.1,69.2 172.4,70.0 172.7,70.6 173.0,70.3 173.3,70.2 173.6,71.2 173.9,72.3 174.2,72.0 174.5,71.7 174.8,71.2 175.1,70.1 175.4,69.1 175.7,68.9 176.0,69.2 176.3,69.4 176.6,68.7 176.9,68.2 177.2,68.2 177.6,66.5 177.9,63.1 178.2,61.6 178.5,63.9 178.8,67.9 179.1,71.2 179.4,73.1 179.7,73.7 180.0,73.9 180.3,72.3 180.6,68.3 180.9,66.3 181.2,65.9 181.5,64.0 181.8,62.0 182.1,62.0 182.4,63.9 182.7,66.3 183.0,68.2 183.3,69.3 183.6,69.6 184.0,69.0 184.3,67.4 184.6,66.3 184.9,66.3 185.2,67.2 185.5,68.0 185.8,67.5 186.1,66.4 186.4,67.0 186.7,68.7 187.0,69.8 187.3,70.6 187.6,71.8 187.9,73.0 188.2,74.5 188.5,76.0 188.8,76.4 189.1,75.6 189.4,74.4 189.7,73.5 190.1,72.5 190.4,70.3 190.7,67.7 191.0,66.6 191.3,68.0 191.6,70.9 191.9,72.9 192.2,73.0 192.5,72.4 192.8,72.0 193.1,72.0 193.4,71.8 193.7,70.5 194.0,68.4 194.3,68.8 194.6,71.3 194.9,73.1 195.2,73.6 195.5,74.0 195.8,74.0 196.1,72.9 196.5,70.0 196.8,67.5 197.1,69.7 197.4,72.8 197.7,73.7 198.0,73.6 198.3,73.5 198.6,73.0 198.9,71.4 199.2,70.3 199.5,71.3 199.8,73.9 200.1,76.3 200.4,77.5 200.7,78.0 201.0,78.4 201.3,78.3 201.6,77.3 201.9,76.3 202.2,75.5 202.5,74.2 202.9,72.9 203.2,71.5 203.5,70.0 203.8,69.5 204.1,71.0 204.4,73.1 204.7,74.2 205.0,74.1 205.3,73.4 205.6,72.7 205.9,72.5 206.2,72.8 206.5,72.8 206.8,71.5 207.1,69.3 207.4,68.2 207.7,68.8 208.0,69.7 208.3,70.4 208.6,71.1 209.0,72.6 209.3,74.0 209.6,75.0 209.9,75.3 210.2,74.5 210.5,71.1 210.8,65.0 211.1,64.7 211.4,68.8 211.7,70.5 212.0,70.4 212.3,70.4 212.6,70.4 212.9,69.8 213.2,68.2 213.5,66.9 213.8,66.6 214.1,67.5 214.4,68.6 214.7,69.2 215.0,69.8 215.4,70.6 215.7,71.4 216.0,72.4 216.3,73.3 216.6,73.6 216.9,73.2 217.2,72.3 217.5,71.0 217.8,69.4 218.1,68.3 218.4,67.6" stroke="#efa63c"/><polyline points="35.5,138.1 35.8,137.9 36.1,137.7 36.4,137.5 36.7,137.3 37.0,137.1 37.3,136.9 37.6,136.7 37.9,136.5 38.2,126.1 38.5,115.5 38.9,105.0 39.2,94.6 39.5,83.9 39.8,80.7 40.1,78.4 40.4,77.2 40.7,76.8 41.0,77.4 41.3,77.4 41.6,77.0 41.9,77.1 42.2,77.6 42.5,78.6 42.8,79.5 43.1,79.5 43.4,79.2 43.7,78.9 44.0,79.3 44.3,79.7 44.6,79.3 44.9,78.8 45.3,78.5 45.6,78.6 45.9,79.1 46.2,79.1 46.5,78.8 46.8,78.7 47.1,78.7 47.4,77.5 47.7,74.7 48.0,71.0 48.3,67.5 48.6,67.9 48.9,70.8 49.2,72.5 49.5,72.6 49.8,72.5 50.1,72.4 50.4,71.4 50.7,69.9 51.0,69.2 51.4,70.0 51.7,71.7 52.0,73.0 52.3,73.6 52.6,74.0 52.9,73.9 53.2,72.9 53.5,72.2 53.8,72.6 54.1,73.2 54.4,72.9 54.7,72.5 55.0,72.7 55.3,72.6 55.6,72.1 55.9,71.5 56.2,71.2 56.5,71.1 56.8,71.3 57.1,71.5 57.4,70.8 57.8,69.2 58.1,68.5 58.4,69.6 58.7,70.2 59.0,69.8 59.3,69.1 59.6,68.3 59.9,68.7 60.2,70.0 60.5,71.0 60.8,71.5 61.1,71.4 61.4,70.6 61.7,68.9 62.0,66.2 62.3,63.5 62.6,64.5 62.9,67.8 63.2,69.5 63.5,70.0 63.8,70.0 64.2,69.0 64.5,67.5 64.8,66.5 65.1,65.8 65.4,64.9 65.7,65.2 66.0,65.8 66.3,65.8 66.6,64.2 66.9,60.9 67.2,59.5 67.5,62.4 67.8,66.8 68.1,69.9 68.4,72.0 68.7,73.5 69.0,74.1 69.3,74.5 69.6,74.5 69.9,73.7 70.3,72.8 70.6,72.3 70.9,72.2 71.2,71.8 71.5,69.5 71.8,65.5 72.1,62.5 72.4,62.3 72.7,64.6 73.0,68.1 73.3,71.0 73.6,72.0 73.9,71.7 74.2,71.2 74.5,70.4 74.8,68.0 75.1,65.5 75.4,66.2 75.7,68.9 76.0,70.4 76.3,69.9 76.7,68.5 77.0,67.6 77.3,67.2 77.6,67.1 77.9,67.1 78.2,65.3 78.5,61.4 78.8,60.0 79.1,63.4 79.4,66.7 79.7,67.9 80.0,68.6 80.3,69.2 80.6,70.0 80.9,71.3 81.2,72.4 81.5,73.2 81.8,73.6 82.1,73.5 82.4,73.5 82.7,73.2 83.1,71.3 83.4,65.9 83.7,62.7 84.0,66.1 84.3,69.1 84.6,69.6 84.9,69.4 85.2,69.4 85.5,70.1 85.8,70.9 86.1,71.8 86.4,72.4 86.7,72.6 87.0,71.5 87.3,68.6 87.6,68.4 87.9,70.6 88.2,70.9 88.5,70.1 88.8,69.0 89.2,68.2 89.5,68.1 89.8,68.6 90.1,69.1 90.4,69.8 90.7,70.5 91.0,71.1 91.3,72.1 91.6,73.2 91.9,74.1 92.2,73.5 92.5,71.2 92.8,71.7 93.1,74.3 93.4,74.4 93.7,72.6 94.0,70.8 94.3,69.6 94.6,68.8 94.9,67.5 95.2,65.7 95.6,64.1 95.9,62.8 96.2,61.8 96.5,60.8 96.8,59.7 97.1,60.3 97.4,62.8 97.7,66.6 98.0,69.7 98.3,71.5 98.6,71.8 98.9,71.0 99.2,69.6 99.5,67.9 99.8,66.5 100.1,65.5 100.4,66.9 100.7,68.7 101.0,68.5 101.3,67.6 101.6,67.0 102.0,66.0 102.3,65.6 102.6,65.9 102.9,65.9 103.2,64.8 103.5,63.5 103.8,63.7 104.1,65.2 104.4,67.6 104.7,69.7 105.0,70.5 105.3,70.4 105.6,70.4 105.9,70.2 106.2,70.1 106.5,70.0 106.8,69.7 107.1,69.3 107.4,69.1 107.7,68.5 108.1,65.8 108.4,65.1 108.7,69.1 109.0,71.7 109.3,71.8 109.6,71.3 109.9,71.2 110.2,71.8 110.5,71.7 110.8,68.7 111.1,64.9 111.4,65.3 111.7,69.1 112.0,71.7 112.3,72.7 112.6,73.6 112.9,73.6 113.2,72.8 113.5,72.1 113.8,71.3 114.1,70.5 114.5,70.4 114.8,70.9 115.1,71.2 115.4,70.5 115.7,69.0 116.0,70.2 116.3,72.1 116.6,72.2 116.9,71.9 117.2,71.5 117.5,71.3 117.8,70.8 118.1,69.8 118.4,69.0 118.7,68.8 119.0,68.8 119.3,68.9 119.6,69.0 119.9,68.6 120.2,66.8 120.5,63.9 120.9,63.4 121.2,67.0 121.5,69.9 121.8,71.1 122.1,72.2 122.4,72.6 122.7,71.8 123.0,70.4 123.3,69.9 123.6,70.1 123.9,69.5 124.2,69.7 124.5,72.2 124.8,73.7 125.1,73.7 125.4,73.3 125.7,72.9 126.0,72.2 126.3,68.9 126.6,65.4 127.0,66.4 127.3,69.4 127.6,70.6 127.9,71.0 128.2,72.2 128.5,73.5 128.8,73.6 129.1,70.4 129.4,64.8 129.7,63.8 130.0,66.6 130.3,67.9 130.6,68.5 130.9,69.2 131.2,69.3 131.5,67.3 131.8,64.1 132.1,62.4 132.4,64.1 132.7,66.8 133.0,68.4 133.4,68.6 133.7,67.9 134.0,65.9 134.3,61.4 134.6,56.1 134.9,58.1 135.2,65.0 135.5,70.4 135.8,73.9 136.1,76.0 136.4,76.8 136.7,75.9 137.0,72.7 137.3,69.3 137.6,68.0 137.9,68.8 138.2,69.3 138.5,69.4 138.8,70.2 139.1,70.8 139.4,70.8 139.8,70.5 140.1,70.4 140.4,70.5 140.7,70.6 141.0,70.8 141.3,69.7 141.6,67.0 141.9,64.9 142.2,65.2 142.5,68.3 142.8,72.0 143.1,74.6 143.4,76.2 143.7,76.8 144.0,76.8 144.3,75.4 144.6,72.2 144.9,67.4 145.2,65.1 145.5,67.0 145.8,69.1 146.2,69.9 146.5,70.0 146.8,69.8 147.1,69.6 147.4,69.7 147.7,69.2 148.0,68.5 148.3,68.0 148.6,67.5 148.9,66.8 149.2,66.5 149.5,66.5 149.8,65.8 150.1,62.7 150.4,58.1 150.7,58.5 151.0,63.4 151.3,66.9 151.6,69.0 151.9,70.7 152.3,71.8 152.6,73.0 152.9,73.9 153.2,73.7 153.5,72.4 153.8,69.7 154.1,66.4 154.4,65.3 154.7,67.3 155.0,69.7 155.3,69.9 155.6,68.8 155.9,67.0 156.2,64.9 156.5,63.0 156.8,62.2 157.1,63.6 157.4,66.1 157.7,68.4 158.0,70.0 158.3,70.7 158.7,71.2 159.0,71.3 159.3,69.9 159.6,66.0 159.9,61.4 160.2,60.2 160.5,64.2 160.8,69.3 161.1,72.1 161.4,72.8 161.7,72.2 162.0,70.7 162.3,69.2 162.6,69.0 162.9,70.1 163.2,70.9 163.5,70.0 163.8,67.3 164.1,65.1 164.4,66.1 164.7,68.8 165.1,70.2 165.4,70.2 165.7,70.2 166.0,70.7 166.3,71.0 166.6,70.6 166.9,70.0 167.2,70.0 167.5,71.0 167.8,71.8 168.1,72.2 168.4,70.8 168.7,65.7 169.0,61.9 169.3,66.3 169.6,71.3 169.9,72.3 170.2,71.6 170.5,70.7 170.8,69.8 171.2,69.3 171.5,69.1 171.8,68.6 172.1,68.3 172.4,69.0 172.7,69.7 173.0,69.1 173.3,67.9 173.6,68.1 173.9,68.7 174.2,68.5 174.5,68.0 174.8,67.6 175.1,67.9 175.4,68.4 175.7,68.6 176.0,68.0 176.3,67.2 176.6,67.0 176.9,67.3 177.2,67.1 177.6,65.6 177.9,62.5 178.2,60.7 178.5,62.9 178.8,67.3 179.1,70.6 179.4,72.2 179.7,72.7 180.0,72.4 180.3,70.1 180.6,66.4 180.9,65.1 181.2,65.0 181.5,63.0 181.8,60.8 182.1,60.1 182.4,61.2 182.7,62.9 183.0,64.6 183.3,65.7 183.6,65.9 184.0,65.8 184.3,66.0 184.6,66.2 184.9,65.9 185.2,65.5 185.5,65.0 185.8,63.9 186.1,63.0 186.4,64.3 186.7,67.0 187.0,68.7 187.3,69.7 187.6,70.7 187.9,72.4 188.2,74.0 188.5,75.2 188.8,75.3 189.1,73.9 189.4,71.9 189.7,70.4 190.1,69.7 190.4,68.7 190.7,66.6 191.0,65.7 191.3,66.8 191.6,69.0 191.9,70.8 192.2,71.5 192.5,71.5 192.8,71.2 193.1,70.5 193.4,69.8 193.7,68.8 194.0,68.2 194.3,69.0 194.6,70.3 194.9,70.9 195.2,71.3 195.5,71.5 195.8,71.4 196.1,71.0 196.5,69.0 196.8,66.3 197.1,67.7 197.4,71.3 197.7,72.6 198.0,72.7 198.3,72.9 198.6,72.6 198.9,71.3 199.2,69.2 199.5,68.9 199.8,71.3 200.1,74.0 200.4,76.2 200.7,77.1 201.0,77.9 201.3,78.7 201.6,78.1 201.9,75.7 202.2,73.3 202.5,72.3 202.9,71.7 203.2,70.1 203.5,68.1 203.8,67.3 204.1,69.5 204.4,72.8 204.7,74.5 205.0,74.2 205.3,73.4 205.6,72.8 205.9,72.5 206.2,72.3 206.5,72.1 206.8,70.5 207.1,68.0 207.4,66.7 207.7,67.2 208.0,67.8 208.3,68.6 208.6,69.8 209.0,71.1 209.3,72.4 209.6,73.7 209.9,74.4 210.2,73.8 210.5,69.9 210.8,63.3 211.1,63.1 211.4,67.9 211.7,69.1 212.0,68.4 212.3,68.4 212.6,68.5 212.9,67.7 213.2,65.8 213.5,64.1 213.8,64.1 214.1,65.5 214.4,66.9 214.7,67.3 215.0,67.2 215.4,67.8 215.7,69.2 216.0,70.5 216.3,71.3 216.6,71.4 216.9,70.8 217.2,70.0 217.5,69.3 217.8,68.4 218.1,67.5 218.4,67.1" stroke="#3cd4d4"/><polyline points="35.5,138.2 35.8,138.0 36.1,137.8 36.4,137.7 36.7,137.5 37.0,137.3 37.3,127.4 37.6,117.4 37.9,106.7 38.2,95.8 38.5,84.3 38.9,80.0 39.2,77.2 39.5,75.5 39.8,74.2 40.1,73.0 40.4,72.6 40.7,73.0 41.0,74.1 41.3,74.8 41.6,74.9 41.9,75.2 42.2,76.3 42.5,77.3 42.8,78.3 43.1,78.4 43.4,79.1 43.7,80.0 44.0,80.3 44.3,79.8 44.6,78.6 44.9,77.4 45.3,76.5 45.6,76.0 45.9,76.9 46.2,78.2 46.5,79.0 46.8,79.4 47.1,78.7 47.4,77.0 47.7,74.3 48.0,70.7 48.3,67.4 48.6,66.9 48.9,68.7 49.2,70.0 49.5,70.4 49.8,70.1 50.1,69.5 50.4,68.2 50.7,66.8 51.0,66.8 51.4,68.3 51.7,69.7 52.0,70.9 52.3,71.8 52.6,72.6 52.9,72.4 53.2,71.5 53.5,70.9 53.8,70.8 54.1,71.9 54.4,73.4 54.7,74.3 55.0,74.7 55.3,73.6 55.6,71.8 55.9,69.7 56.2,68.2 56.5,68.3 56.8,70.0 57.1,71.9 57.4,72.0 57.8,70.7 58.1,69.9 58.4,70.5 58.7,70.6 59.0,69.4 59.3,68.1 59.6,67.1 59.9,67.5 60.2,68.6 60.5,69.5 60.8,69.8 61.1,69.3 61.4,68.4 61.7,67.1 62.0,65.0 62.3,63.4 62.6,65.8 62.9,69.0 63.2,70.1 63.5,70.2 63.8,69.6 64.2,67.6 64.5,65.2 64.8,63.5 65.1,62.7 65.4,62.0 65.7,61.8 66.0,62.7 66.3,63.9 66.6,63.6 66.9,60.6 67.2,59.0 67.5,62.4 67.8,66.9 68.1,69.2 68.4,70.5 68.7,72.0 69.0,73.3 69.3,73.1 69.6,71.5 69.9,69.9 70.3,69.4 70.6,69.1 70.9,69.2 71.2,69.1 71.5,67.4 71.8,63.7 72.1,60.5 72.4,60.3 72.7,62.8 73.0,66.1 73.3,68.9 73.6,70.2 73.9,70.3 74.2,69.9 74.5,69.0 74.8,66.5 75.1,64.7 75.4,66.5 75.7,69.8 76.0,71.1 76.3,70.3 76.7,69.3 77.0,68.8 77.3,68.6 77.6,67.8 77.9,67.0 78.2,65.0 78.5,61.0 78.8,59.4 79.1,63.2 79.4,66.4 79.7,67.2 80.0,68.1 80.3,69.0 80.6,69.4 80.9,69.6 81.2,70.0 81.5,71.3 81.8,73.0 82.1,74.0 82.4,74.0 82.7,73.0 83.1,70.8 83.4,65.6 83.7,62.5 84.0,66.3 84.3,69.1 84.6,68.9 84.9,68.5 85.2,69.2 85.5,70.1 85.8,70.4 86.1,70.5 86.4,70.2 86.7,70.3 87.0,69.7 87.3,67.2 87.6,66.8 87.9,68.4 88.2,68.2 88.5,67.5 88.8,67.5 89.2,67.5 89.5,68.2 89.8,68.8 90.1,68.9 90.4,69.6 90.7,70.5 91.0,71.1 91.3,71.2 91.6,71.6 91.9,72.1 92.2,70.9 92.5,68.2 92.8,68.9 93.1,72.4 93.4,73.3 93.7,72.0 94.0,70.2 94.3,68.5 94.6,67.1 94.9,65.8 95.2,64.7 95.6,63.7 95.9,62.3 96.2,60.6 96.5,58.5 96.8,56.9 97.1,57.2 97.4,59.4 97.7,63.1 98.0,66.6 98.3,68.2 98.6,68.0 98.9,67.4 99.2,66.7 99.5,65.9 99.8,64.6 100.1,62.7 100.4,62.6 100.7,64.2 101.0,64.9 101.3,65.6 101.6,66.3 102.0,66.8 102.3,66.9 102.6,66.5 102.9,65.8 103.2,64.3 103.5,62.2 103.8,61.9 104.1,63.9 104.4,66.2 104.7,67.7 105.0,68.6 105.3,69.2 105.6,69.9 105.9,70.3 106.2,69.9 106.5,68.8 106.8,68.3 107.1,68.7 107.4,68.4 107.7,66.8 108.1,63.1 108.4,62.1 108.7,66.2 109.0,69.5 109.3,70.7 109.6,71.1 109.9,71.4 110.2,71.7 110.5,71.3 110.8,68.5 111.1,65.2 111.4,66.4 111.7,70.5 112.0,72.7 112.3,72.4 112.6,71.2 112.9,70.2 113.2,69.8 113.5,69.2 113.8,68.7 114.1,68.5 114.5,69.0 114.8,69.6 115.1,69.8 115.4,69.2 115.7,68.4 116.0,69.8 116.3,71.7 116.6,72.6 116.9,73.0 117.2,72.5 117.5,72.1 117.8,71.7 118.1,70.2 118.4,68.5 118.7,67.6 119.0,67.3 119.3,66.8 119.6,66.5 119.9,66.5 120.2,65.3 120.5,62.2 120.9,61.6 121.2,65.6 121.5,68.8 121.8,69.6 122.1,69.2 122.4,68.1 122.7,67.8 123.0,68.6 123.3,69.6 123.6,70.3 123.9,70.0 124.2,70.2 124.5,71.7 124.8,72.2 125.1,71.6 125.4,71.3 125.7,70.6 126.0,69.2 126.3,66.1 126.6,63.6 127.0,65.4 127.3,69.1 127.6,71.0 127.9,71.1 128.2,71.1 128.5,71.2 128.8,70.8 129.1,68.3 129.4,63.4 129.7,63.1 130.0,66.6 130.3,67.4 130.6,66.8 130.9,66.3 131.2,65.7 131.5,63.6 131.8,61.1 132.1,59.9 132.4,61.2 132.7,64.0 133.0,66.2 133.4,66.6 133.7,66.0 134.0,64.0 134.3,59.4 134.6,55.0 134.9,58.3 135.2,65.6 135.5,70.0 135.8,72.4 136.1,73.7 136.4,73.8 136.7,72.8 137.0,70.8 137.3,67.7 137.6,66.3 137.9,66.3 138.2,66.2 138.5,66.3 138.8,66.9 139.1,67.6 139.4,68.3 139.8,69.2 140.1,69.5 140.4,69.3 140.7,69.2 141.0,69.3 141.3,69.2 141.6,67.3 141.9,65.1 142.2,66.0 142.5,69.1 142.8,71.7 143.1,72.9 143.4,73.6 143.7,74.1 144.0,74.3 144.3,73.2 144.6,70.3 144.9,66.0 145.2,63.6 145.5,65.0 145.8,66.8 146.2,67.7 146.5,68.6 146.8,68.8 147.1,68.8 147.4,68.8 147.7,68.4 148.0,68.0 148.3,67.7 148.6,67.0 148.9,66.4 149.2,66.0 149.5,65.3 149.8,63.6 150.1,59.9 150.4,55.5 150.7,56.2 151.0,61.9 151.3,66.3 151.6,68.8 151.9,70.1 152.3,70.5 152.6,70.5 152.9,70.1 153.2,69.6 153.5,68.8 153.8,67.1 154.1,64.6 154.4,63.7 154.7,64.8 155.0,66.5 155.3,67.6 155.6,68.1 155.9,67.6 156.2,66.1 156.5,63.6 156.8,61.6 157.1,62.3 157.4,64.7 157.7,66.6 158.0,67.9 158.3,68.7 158.7,69.0 159.0,68.9 159.3,67.4 159.6,64.0 159.9,59.5 160.2,58.7 160.5,63.3 160.8,68.5 161.1,70.7 161.4,70.6 161.7,69.5 162.0,68.2 162.3,67.2 162.6,67.1 162.9,68.5 163.2,70.1 163.5,69.9 163.8,67.4 164.1,65.6 164.4,66.7 164.7,69.2 165.1,70.4 165.4,69.8 165.7,69.2 166.0,69.4 166.3,69.9 166.6,70.2 166.9,70.6 167.2,70.7 167.5,70.4 167.8,70.3 168.1,70.6 168.4,69.3 168.7,64.0 169.0,60.1 169.3,64.9 169.6,70.3 169.9,71.4 170.2,71.2 170.5,71.0 170.8,70.5 171.2,69.7 171.5,68.9 171.8,68.4 172.1,68.7 172.4,69.2 172.7,68.9 173.0,67.1 173.3,65.1 173.6,65.6 173.9,67.9 174.2,69.5 174.5,69.6 174.8,69.0 175.1,68.4 175.4,67.3 175.7,66.0 176.0,65.1 176.3,64.9 176.6,64.7 176.9,64.2 177.2,63.7 177.6,61.8 177.9,58.7 178.2,57.2 178.5,60.2 178.8,65.0 179.1,68.4 179.4,70.1 179.7,71.2 180.0,71.2 180.3,69.2 180.6,65.3 180.9,63.6 181.2,63.5 181.5,61.4 181.8,58.9 182.1,58.5 182.4,60.1 182.7,61.7 183.0,63.2 183.3,64.3 183.6,65.4 184.0,66.1 184.3,66.1 184.6,65.5 184.9,65.3 185.2,65.2 185.5,65.8 185.8,66.2 186.1,65.4 186.4,65.5 186.7,66.7 187.0,67.5 187.3,68.2 187.6,69.4 187.9,70.6 188.2,71.8 188.5,72.8 188.8,73.5 189.1,73.1 189.4,71.7 189.7,70.4 190.1,69.3 190.4,68.1 190.7,66.4 191.0,64.7 191.3,64.8 191.6,66.2 191.9,67.8 192.2,69.1 192.5,69.5 192.8,69.4 193.1,69.2 193.4,68.4 193.7,66.9 194.0,65.4 194.3,66.6 194.6,69.1 194.9,70.2 195.2,70.1 195.5,70.3 195.8,70.3 196.1,68.8 196.5,65.3 196.8,62.3 197.1,65.0 197.4,69.4 197.7,71.1 198.0,71.2 198.3,70.7 198.6,70.3 198.9,69.5 199.2,68.5 199.5,68.8 199.8,70.9 200.1,73.5 200.4,75.1 200.7,75.8 201.0,76.5 201.3,77.0 201.6,76.6 201.9,75.3 202.2,73.1 202.5,71.0 202.9,69.0 203.2,66.9 203.5,64.7 203.8,64.5 204.1,66.6 204.4,69.7 204.7,71.6 205.0,71.7 205.3,71.4 205.6,71.3 205.9,71.5 206.2,71.6 206.5,71.0 206.8,69.0 207.1,66.0 207.4,64.4 207.7,64.7 208.0,65.1 208.3,66.1 208.6,68.1 209.0,70.0 209.3,71.4 209.6,71.8 209.9,71.7 210.2,70.6 210.5,66.5 210.8,60.0 211.1,60.4 211.4,65.5 211.7,67.1 212.0,66.8 212.3,67.0 212.6,67.7 212.9,67.4 213.2,65.2 213.5,62.9 213.8,62.7 214.1,64.6 214.4,66.3 214.7,66.8 215.0,66.9 215.4,67.6 215.7,68.6 216.0,69.6 216.3,70.2 216.6,70.1 216.9,69.6 217.2,69.1 217.5,68.2 217.8,66.9 218.1,65.5 218.4,64.6" stroke="#a86c6c"/><polyline points="35.5,138.4 35.8,138.2 36.1,138.0 36.4,127.5 36.7,116.8 37.0,106.2 37.3,96.2 37.6,86.4 37.9,83.9 38.2,81.8 38.5,78.3 38.9,74.5 39.2,72.0 39.5,71.2 39.8,71.4 40.1,71.2 40.4,71.0 40.7,71.0 41.0,71.7 41.3,72.4 41.6,72.5 41.9,72.4 42.2,73.3 42.5,74.8 42.8,76.4 43.1,76.6 43.4,76.5 43.7,76.8 44.0,77.8 44.3,79.3 44.6,79.8 44.9,79.5 45.3,79.0 45.6,78.1 45.9,77.0 46.2,76.8 46.5,76.6 46.8,75.8 47.1,74.8 47.4,73.4 47.7,71.2 48.0,67.2 48.3,63.6 48.6,63.3 48.9,65.5 49.2,67.5 49.5,68.4 49.8,68.5 50.1,68.2 50.4,67.7 50.7,66.5 51.0,66.0 51.4,67.3 51.7,69.3 52.0,70.5 52.3,70.9 52.6,71.4 52.9,71.9 53.2,70.4 53.5,68.8 53.8,69.0 54.1,70.3 54.4,71.0 54.7,71.3 55.0,71.7 55.3,71.1 55.6,69.8 55.9,68.7 56.2,68.6 56.5,69.2 56.8,69.4 57.1,69.5 57.4,68.7 57.8,67.1 58.1,67.0 58.4,68.2 58.7,68.4 59.0,67.0 59.3,65.2 59.6,64.8 59.9,65.8 60.2,66.8 60.5,67.0 60.8,67.6 61.1,67.9 61.4,67.8 61.7,67.0 62.0,64.0 62.3,60.7 62.6,62.8 62.9,66.7 63.2,68.6 63.5,68.8 63.8,67.8 64.2,66.2 64.5,64.4 64.8,63.0 65.1,62.3 65.4,61.9 65.7,61.9 66.0,62.0 66.3,62.2 66.6,61.2 66.9,58.1 67.2,56.7 67.5,59.9 67.8,65.3 68.1,69.1 68.4,70.9 68.7,71.1 69.0,71.1 69.3,70.9 69.6,70.8 69.9,70.2 70.3,69.5 70.6,69.3 70.9,70.0 71.2,70.2 71.5,67.7 71.8,62.9 72.1,59.4 72.4,58.9 72.7,61.5 73.0,66.3 73.3,70.7 73.6,72.5 73.9,71.9 74.2,70.5 74.5,68.8 74.8,65.7 75.1,62.3 75.4,63.1 75.7,67.0 76.0,69.3 76.3,69.2 76.7,68.8 77.0,67.8 77.3,66.7 77.6,66.2 77.9,65.6 78.2,63.5 78.5,59.5 78.8,58.5 79.1,62.9 79.4,66.1 79.7,66.5 80.0,67.0 80.3,67.8 80.6,68.8 80.9,69.9 81.2,70.3 81.5,70.5 81.8,71.0 82.1,71.0 82.4,70.5 82.7,70.0 83.1,68.5 83.4,63.8 83.7,60.7 84.0,64.1 84.3,66.2 84.6,66.7 84.9,68.0 85.2,68.9 85.5,69.9 85.8,70.8 86.1,70.9 86.4,70.2 86.7,69.3 87.0,67.7 87.3,65.1 87.6,66.0 87.9,68.4 88.2,68.5 88.5,67.7 88.8,66.6 89.2,65.5 89.5,64.7 89.8,64.3 90.1,64.5 90.4,66.3 90.7,68.8 91.0,70.3 91.3,70.1 91.6,70.0 91.9,71.4 92.2,71.4 92.5,68.6 92.8,68.1 93.1,70.7 93.4,71.7 93.7,70.9 94.0,69.2 94.3,67.1 94.6,65.4 94.9,64.7 95.2,64.3 95.6,62.8 95.9,60.5 96.2,58.4 96.5,57.0 96.8,55.6 97.1,55.0 97.4,57.1 97.7,60.9 98.0,64.1 98.3,65.9 98.6,67.1 98.9,67.8 99.2,67.0 99.5,65.1 99.8,62.8 100.1,60.7 100.4,61.3 100.7,64.0 101.0,65.1 101.3,64.2 101.6,62.4 102.0,61.5 102.3,62.1 102.6,63.2 102.9,63.9 103.2,63.6 103.5,62.2 103.8,61.6 104.1,63.3 104.4,66.3 104.7,68.1 105.0,68.6 105.3,68.6 105.6,68.5 105.9,68.6 106.2,68.8 106.5,68.3 106.8,67.4 107.1,66.4 107.4,65.9 107.7,65.5 108.1,62.6 108.4,61.5 108.7,65.5 109.0,68.5 109.3,68.7 109.6,68.0 109.9,68.7 110.2,70.4 110.5,70.1 110.8,66.1 111.1,60.9 111.4,61.5 111.7,66.8 112.0,70.5 112.3,70.9 112.6,69.7 112.9,68.5 113.2,68.4 113.5,68.7 113.8,68.8 114.1,68.5 114.5,68.9 114.8,69.6 115.1,69.3 115.4,67.8 115.7,65.9 116.0,67.3 116.3,70.7 116.6,72.4 116.9,72.8 117.2,72.1 117.5,70.5 117.8,68.7 118.1,66.6 118.4,64.9 118.7,64.2 119.0,64.9 119.3,65.9 119.6,66.0 119.9,65.7 120.2,63.9 120.5,60.0 120.9,59.0 121.2,63.0 121.5,66.8 121.8,68.7 122.1,69.7 122.4,69.7 122.7,68.1 123.0,66.6 123.3,66.9 123.6,67.5 123.9,66.0 124.2,65.4 124.5,68.1 124.8,69.9 125.1,70.8 125.4,71.5 125.7,71.1 126.0,69.2 126.3,65.6 126.6,62.4 127.0,63.5 127.3,66.7 127.6,68.4 127.9,68.7 128.2,68.9 128.5,70.3 128.8,70.9 129.1,67.7 129.4,62.2 129.7,61.6 130.0,64.9 130.3,65.4 130.6,64.8 130.9,65.0 131.2,65.3 131.5,63.8 131.8,60.5 132.1,59.1 132.4,61.4 132.7,64.7 133.0,66.7 133.4,66.8 133.7,65.1 134.0,61.9 134.3,57.3 134.6,53.8 134.9,58.2 135.2,66.4 135.5,70.6 135.8,71.6 136.1,72.0 136.4,72.1 136.7,71.1 137.0,68.4 137.3,65.7 137.6,65.4 137.9,66.1 138.2,66.4 138.5,66.5 138.8,66.7 139.1,67.3 139.4,68.4 139.8,69.2 140.1,69.4 140.4,69.0 140.7,68.9 141.0,68.5 141.3,66.8 141.6,64.2 141.9,62.2 142.2,62.4 142.5,65.0 142.8,68.9 143.1,72.2 143.4,74.4 143.7,75.3 144.0,74.6 144.3,72.4 144.6,67.9 144.9,62.6 145.2,61.3 145.5,63.5 145.8,65.4 146.2,66.9 146.5,68.3 146.8,68.8 147.1,68.6 147.4,68.1 147.7,67.7 148.0,67.3 148.3,66.8 148.6,66.3 148.9,66.2 149.2,66.3 149.5,65.8 149.8,64.1 150.1,59.6 150.4,54.5 150.7,55.7 151.0,62.0 151.3,66.6 151.6,69.3 151.9,71.0 152.3,72.2 152.6,72.2 152.9,71.6 153.2,70.7 153.5,69.1 153.8,66.2 154.1,63.0 154.4,61.4 154.7,62.7 155.0,65.5 155.3,67.3 155.6,67.4 155.9,66.0 156.2,63.7 156.5,61.3 156.8,59.6 157.1,60.8 157.4,63.6 157.7,65.4 158.0,66.6 158.3,66.8 158.7,66.5 159.0,66.2 159.3,64.7 159.6,60.8 159.9,56.2 160.2,56.6 160.5,61.9 160.8,67.6 161.1,70.9 161.4,71.7 161.7,70.3 162.0,67.6 162.3,65.9 162.6,65.9 162.9,67.7 163.2,69.2 163.5,69.1 163.8,66.4 164.1,64.0 164.4,64.2 164.7,65.6 165.1,67.0 165.4,68.4 165.7,68.7 166.0,68.4 166.3,68.6 166.6,69.3 166.9,69.0 167.2,68.3 167.5,68.7 167.8,69.6 168.1,69.8 168.4,67.8 168.7,62.5 169.0,59.1 169.3,64.5 169.6,69.8 169.9,70.7 170.2,69.6 170.5,68.2 170.8,66.8 171.2,66.1 171.5,65.8 171.8,65.7 172.1,66.1 172.4,66.0 172.7,65.3 173.0,64.6 173.3,64.6 173.6,65.7 173.9,66.5 174.2,66.7 174.5,67.3 174.8,67.8 175.1,67.9 175.4,67.4 175.7,66.6 176.0,65.6 176.3,65.2 176.6,65.2 176.9,64.9 177.2,64.1 177.6,62.1 177.9,58.4 178.2,56.4 178.5,59.1 178.8,64.6 179.1,68.6 179.4,70.1 179.7,70.6 180.0,70.3 180.3,68.1 180.6,63.7 180.9,61.2 181.2,60.1 181.5,57.6 181.8,55.7 182.1,56.1 182.4,57.8 182.7,59.6 183.0,61.4 183.3,63.8 183.6,66.3 184.0,67.4 184.3,66.4 184.6,64.2 184.9,63.1 185.2,63.9 185.5,64.8 185.8,64.7 186.1,63.8 186.4,64.7 186.7,66.5 187.0,66.7 187.3,66.6 187.6,67.3 187.9,68.3 188.2,69.0 188.5,70.0 188.8,70.6 189.1,69.9 189.4,68.1 189.7,66.6 190.1,66.0 190.4,65.6 190.7,64.0 191.0,61.9 191.3,61.7 191.6,63.0 191.9,65.6 192.2,68.2 192.5,69.4 192.8,68.8 193.1,67.7 193.4,66.5 193.7,65.1 194.0,64.2 194.3,65.5 194.6,67.8 194.9,69.2 195.2,69.3 195.5,69.1 195.8,69.1 196.1,68.6 196.5,66.0 196.8,63.7 197.1,66.6 197.4,70.8 197.7,72.0 198.0,71.9 198.3,71.5 198.6,70.2 198.9,68.1 199.2,66.0 199.5,65.9 199.8,68.4 200.1,71.6 200.4,73.7 200.7,74.6 201.0,74.9 201.3,74.7 201.6,74.7 201.9,74.8 202.2,73.6 202.5,71.5 202.9,68.9 203.2,66.1 203.5,64.4 203.8,64.8 204.1,67.5 204.4,69.9 204.7,70.9 205.0,71.5 205.3,71.6 205.6,70.7 205.9,69.6 206.2,69.5 206.5,69.7 206.8,68.3 207.1,65.7 207.4,64.4 207.7,64.8 208.0,64.9 208.3,65.6 208.6,67.5 209.0,69.8 209.3,71.3 209.6,71.8 209.9,72.2 210.2,71.7 210.5,67.6 210.8,60.7 211.1,60.5 211.4,65.1 211.7,66.8 212.0,66.9 212.3,67.1 212.6,67.0 212.9,65.9 213.2,63.9 213.5,62.0 213.8,61.6 214.1,62.5 214.4,63.6 214.7,64.5 215.0,65.9 215.4,67.4 215.7,68.9 216.0,69.6 216.3,70.1 216.6,70.6 216.9,70.1 217.2,69.2 217.5,68.3 217.8,66.3 218.1,63.8 218.4,62.1" stroke="#8e8e22"/></g>
<path d="M35.50,10.50V142.00H218.40" fill="none" stroke="#626262" stroke-width="1"/><path d="M35.50,142.00h5.2M35.50,133.78h2.6M35.50,125.56h5.2M35.50,117.34h2.6M35.50,109.12h5.2M35.50,100.91h2.6M35.50,92.69h5.2M35.50,84.47h2.6M35.50,76.25h5.2M35.50,68.03h2.6M35.50,59.81h5.2M35.50,51.59h2.6M35.50,43.38h5.2M35.50,35.16h2.6M35.50,26.94h5.2M35.50,18.72h2.6M35.50,10.50h5.2M35.50,142.00v-5.2M50.74,142.00v-2.6M65.98,142.00v-5.2M81.22,142.00v-2.6M96.47,142.00v-5.2M111.71,142.00v-2.6M126.95,142.00v-5.2M142.19,142.00v-2.6M157.43,142.00v-5.2M172.68,142.00v-2.6M187.92,142.00v-5.2M203.16,142.00v-2.6M218.40,142.00v-5.2" fill="none" stroke="#626262" stroke-width="0.9"/><g class="tk"><text x="30.10" y="144.70" text-anchor="end">0</text><text x="30.10" y="128.26" text-anchor="end">100</text><text x="30.10" y="111.83" text-anchor="end">200</text><text x="30.10" y="95.39" text-anchor="end">300</text><text x="30.10" y="78.95" text-anchor="end">400</text><text x="30.10" y="62.51" text-anchor="end">500</text><text x="30.10" y="46.08" text-anchor="end">600</text><text x="30.10" y="29.64" text-anchor="end">700</text><text x="30.10" y="13.20" text-anchor="end">800</text><text x="35.50" y="154.50" text-anchor="middle">0</text><text x="65.98" y="154.50" text-anchor="middle">100</text><text x="96.47" y="154.50" text-anchor="middle">200</text><text x="126.95" y="154.50" text-anchor="middle">300</text><text x="157.43" y="154.50" text-anchor="middle">400</text><text x="187.92" y="154.50" text-anchor="middle">500</text><text x="218.40" y="154.50" text-anchor="middle">600</text></g><text class="ti" x="127.15" y="167.50" text-anchor="middle">t/(s)</text><text class="ti" transform="translate(12.80,78.30) rotate(-90)" text-anchor="middle">T/(°C)</text><text class="pl" x="110.80" y="193.10" text-anchor="middle">(<tspan font-weight="bold">a</tspan>)</text><g><path d="M152.20,16.10h16.2" stroke="#a8a8a8" stroke-width="1.3"/><text class="lg" x="170.20" y="18.80">T1</text><path d="M152.20,25.15h16.2" stroke="#ff9a9a" stroke-width="1.3"/><text class="lg" x="170.20" y="27.85">T2</text><path d="M152.20,34.20h16.2" stroke="#8ab4f8" stroke-width="1.3"/><text class="lg" x="170.20" y="36.90">T3</text><path d="M152.20,43.25h16.2" stroke="#86d8b4" stroke-width="1.3"/><text class="lg" x="170.20" y="45.95">T4</text><path d="M152.20,52.30h16.2" stroke="#e2b0f4" stroke-width="1.3"/><text class="lg" x="170.20" y="55.00">T5</text><path d="M180.40,16.10h16.2" stroke="#f4cf8a" stroke-width="1.3"/><text class="lg" x="198.40" y="18.80">T6</text><path d="M180.40,25.15h16.2" stroke="#8ae8e8" stroke-width="1.3"/><text class="lg" x="198.40" y="27.85">T7</text><path d="M180.40,34.20h16.2" stroke="#caa8a8" stroke-width="1.3"/><text class="lg" x="198.40" y="36.90">T8</text><path d="M180.40,43.25h16.2" stroke="#bcbc70" stroke-width="1.3"/><text class="lg" x="198.40" y="45.95">T9</text></g>
<g fill="none" stroke-width="0.85" stroke-linejoin="round" filter="url(#soft)"><polyline points="351.6,142.5 351.9,137.4 352.2,132.2 352.5,127.1 352.8,122.0 353.2,116.8 353.5,111.7 353.8,106.6 354.1,101.4 354.4,95.7 354.7,88.0 355.0,80.3 355.3,72.6 355.6,64.8 356.0,59.4 356.3,55.3 356.6,51.2 356.9,47.2 357.2,43.1 357.5,44.0 357.8,48.0 358.1,52.1 358.5,56.2 358.8,58.8 359.1,61.3 359.4,63.9 359.7,66.5 360.0,69.1 360.3,67.7 360.6,66.3 360.9,64.9 361.3,63.5 361.6,62.1 361.9,60.7 362.2,59.3 362.5,62.1 362.8,64.9 363.1,67.6 363.4,70.4 363.7,73.2 364.1,76.0 364.4,74.9 364.7,73.8 365.0,72.7 365.3,71.6 365.6,71.9 365.9,72.4 366.2,74.1 366.6,74.3 366.9,73.3 367.2,72.9 367.5,74.2 367.8,75.2 368.1,75.7 368.4,76.9 368.7,78.8 369.0,79.8 369.4,79.4 369.7,77.8 370.0,76.3 370.3,76.4 370.6,76.6 370.9,76.8 371.2,77.2 371.5,76.8 371.8,76.7 372.2,76.9 372.5,76.3 372.8,75.8 373.1,76.6 373.4,77.6 373.7,78.3 374.0,78.0 374.3,77.4 374.7,76.8 375.0,76.8 375.3,77.0 375.6,76.4 375.9,75.9 376.2,75.0 376.5,74.1 376.8,74.6 377.1,75.8 377.5,77.2 377.8,78.5 378.1,79.9 378.4,80.4 378.7,80.4 379.0,78.7 379.3,76.4 379.6,75.9 379.9,76.9 380.3,78.1 380.6,78.6 380.9,78.5 381.2,78.3 381.5,78.4 381.8,77.9 382.1,77.3 382.4,76.8 382.8,76.7 383.1,77.2 383.4,77.7 383.7,78.1 384.0,78.8 384.3,80.1 384.6,80.9 384.9,81.4 385.2,81.7 385.6,81.5 385.9,80.7 386.2,78.8 386.5,77.0 386.8,76.1 387.1,75.6 387.4,76.0 387.7,77.3 388.0,78.5 388.4,79.0 388.7,78.9 389.0,79.4 389.3,79.4 389.6,78.6 389.9,77.8 390.2,77.5 390.5,76.7 390.8,75.9 391.2,75.3 391.5,75.3 391.8,76.5 392.1,77.6 392.4,78.5 392.7,79.7 393.0,81.3 393.3,82.1 393.7,82.0 394.0,81.5 394.3,79.8 394.6,77.9 394.9,75.8 395.2,74.1 395.5,72.5 395.8,72.5 396.1,72.6 396.5,71.6 396.8,70.0 397.1,68.2 397.4,68.0 397.7,67.8 398.0,68.9 398.3,70.8 398.6,73.3 398.9,74.5 399.3,73.8 399.6,73.2 399.9,73.1 400.2,73.1 400.5,73.2 400.8,73.4 401.1,73.6 401.4,73.9 401.8,74.5 402.1,74.3 402.4,73.7 402.7,72.4 403.0,70.0 403.3,69.4 403.6,70.9 403.9,72.5 404.2,72.7 404.6,72.7 404.9,73.4 405.2,73.3 405.5,72.3 405.8,71.8 406.1,72.2 406.4,73.6 406.7,75.4 407.0,76.0 407.4,75.8 407.7,74.8 408.0,73.4 408.3,73.2 408.6,74.0 408.9,74.6 409.2,74.8 409.5,74.6 409.9,74.9 410.2,74.9 410.5,75.1 410.8,74.7 411.1,74.6 411.4,75.1 411.7,76.2 412.0,77.6 412.3,79.3 412.7,79.9 413.0,79.0 413.3,76.6 413.6,73.7 413.9,72.6 414.2,74.0 414.5,75.5 414.8,75.9 415.1,75.8 415.5,75.9 415.8,76.1 416.1,76.3 416.4,76.2 416.7,76.0 417.0,76.2 417.3,76.1 417.6,76.0 417.9,75.7 418.3,75.8 418.6,77.9 418.9,80.3 419.2,81.1 419.5,81.1 419.8,80.7 420.1,79.8 420.4,78.1 420.8,76.1 421.1,74.9 421.4,74.6 421.7,75.5 422.0,77.1 422.3,78.3 422.6,78.6 422.9,78.6 423.2,77.9 423.6,77.1 423.9,77.3 424.2,78.4 424.5,79.8 424.8,80.1 425.1,79.3 425.4,77.9 425.7,77.1 426.0,76.4 426.4,76.5 426.7,77.1 427.0,77.6 427.3,77.5 427.6,76.9 427.9,76.4 428.2,75.8 428.5,75.0 428.9,74.4 429.2,74.6 429.5,75.5 429.8,75.4 430.1,75.0 430.4,75.3 430.7,75.7 431.0,76.6 431.3,77.5 431.7,77.8 432.0,77.5 432.3,77.0 432.6,75.9 432.9,75.0 433.2,74.9 433.5,75.2 433.8,75.4 434.1,74.8 434.5,74.4 434.8,74.7 435.1,74.7 435.4,75.2 435.7,75.4 436.0,74.9 436.3,74.7 436.6,75.0 437.0,75.3 437.3,75.5 437.6,75.6 437.9,74.8 438.2,73.7 438.5,73.2 438.8,72.9 439.1,73.0 439.4,74.4 439.8,75.5 440.1,75.4 440.4,75.1 440.7,75.5 441.0,76.4 441.3,76.8 441.6,77.1 441.9,77.4 442.2,77.7 442.6,77.4 442.9,76.7 443.2,76.0 443.5,74.4 443.8,73.9 444.1,76.1 444.4,77.6 444.7,77.4 445.1,77.0 445.4,77.5 445.7,78.3 446.0,79.4 446.3,79.5 446.6,79.2 446.9,79.5 447.2,79.8 447.5,79.5 447.9,79.6 448.2,78.8 448.5,77.9 448.8,77.3 449.1,76.2 449.4,74.4 449.7,73.6 450.0,73.0 450.3,72.4 450.7,72.9 451.0,74.0 451.3,75.7 451.6,77.1 451.9,77.4 452.2,77.9 452.5,77.9 452.8,77.3 453.1,76.6 453.5,76.1 453.8,76.0 454.1,76.7 454.4,77.3 454.7,77.5 455.0,77.5 455.3,77.9 455.6,78.9 456.0,79.7 456.3,79.0 456.6,77.7 456.9,76.8 457.2,76.9 457.5,78.1 457.8,79.7 458.1,80.7 458.4,80.8 458.8,80.0 459.1,78.8 459.4,77.9 459.7,77.7 460.0,77.8 460.3,77.8 460.6,78.0 460.9,78.4 461.2,79.3 461.6,80.4 461.9,81.3 462.2,81.8 462.5,82.0 462.8,82.0 463.1,82.0 463.4,81.9 463.7,82.3 464.1,81.9 464.4,80.3 464.7,78.1 465.0,76.2 465.3,76.7 465.6,78.4 465.9,78.9 466.2,79.6 466.5,79.7 466.9,78.7 467.2,78.2 467.5,77.9 467.8,77.6 468.1,77.9 468.4,78.3 468.7,78.4 469.0,78.8 469.3,79.1 469.7,79.1 470.0,78.0 470.3,75.6 470.6,75.0 470.9,76.0 471.2,75.9 471.5,75.5 471.8,76.1 472.2,76.6 472.5,76.9 472.8,76.9 473.1,76.4 473.4,76.1 473.7,76.7 474.0,78.1 474.3,78.6 474.6,79.0 475.0,79.2 475.3,77.4 475.6,76.0 475.9,74.6 476.2,73.2 476.5,73.6 476.8,73.6 477.1,74.3 477.4,74.0 477.8,73.1 478.1,72.5 478.4,73.4 478.7,74.8 479.0,76.2 479.3,77.0 479.6,76.6 479.9,75.1 480.2,73.0 480.6,71.4 480.9,71.9 481.2,74.1 481.5,76.5 481.8,78.1 482.1,79.9 482.4,80.9 482.7,81.8 483.1,82.4 483.4,81.8 483.7,80.6 484.0,80.3 484.3,80.6 484.6,80.4 484.9,79.9 485.2,78.7 485.5,77.0 485.9,75.6 486.2,76.0 486.5,77.8 486.8,79.1 487.1,79.6 487.4,80.4 487.7,81.1 488.0,81.3 488.3,80.6 488.7,78.2 489.0,76.9 489.3,77.8 489.6,78.1 489.9,78.1 490.2,78.9 490.5,79.7 490.8,79.9 491.2,79.7 491.5,79.3 491.8,79.4 492.1,79.2 492.4,78.4 492.7,77.6 493.0,76.9 493.3,77.5 493.6,78.5 494.0,79.1 494.3,79.3 494.6,78.5 494.9,77.3 495.2,76.4 495.5,75.0 495.8,74.3 496.1,74.3 496.4,74.6 496.8,74.3 497.1,73.5 497.4,72.5 497.7,72.7 498.0,73.7 498.3,75.1 498.6,75.3 498.9,75.3 499.3,75.0 499.6,74.2 499.9,73.0 500.2,72.2 500.5,73.2 500.8,74.3 501.1,75.1 501.4,75.7 501.7,75.5 502.1,74.5 502.4,73.4 502.7,72.5 503.0,72.2 503.3,73.4 503.6,74.8 503.9,75.5 504.2,75.4 504.5,75.1 504.9,74.7 505.2,73.7 505.5,73.0 505.8,73.7 506.1,75.2 506.4,76.5 506.7,77.5 507.0,78.5 507.4,78.1 507.7,77.4 508.0,77.6 508.3,77.9 508.6,77.7 508.9,76.6 509.2,75.6 509.5,75.8 509.8,76.5 510.2,76.6 510.5,76.1 510.8,76.0 511.1,76.9 511.4,78.7 511.7,80.5 512.0,81.4 512.3,81.9 512.6,82.5 513.0,83.8 513.3,84.9 513.6,85.5 513.9,84.0 514.2,82.5 514.5,81.5 514.8,81.0 515.1,80.0 515.4,78.9 515.8,80.0 516.1,82.0 516.4,82.4 516.7,82.3 517.0,82.7 517.3,83.0 517.6,82.5 517.9,81.7 518.3,81.3 518.6,82.2 518.9,82.7 519.2,81.9 519.5,81.1 519.8,80.1 520.1,79.4 520.4,80.0 520.7,81.6 521.1,82.9 521.4,84.1 521.7,84.6 522.0,84.6 522.3,83.5 522.6,83.3 522.9,83.6 523.2,83.1 523.5,82.9 523.9,82.9 524.2,82.8 524.5,82.4 524.8,83.1 525.1,83.6 525.4,83.8 525.7,82.7 526.0,82.0 526.4,81.8 526.7,81.6 527.0,81.2 527.3,79.7 527.6,78.9 527.9,79.7 528.2,80.5 528.5,80.2 528.8,80.2 529.2,80.8 529.5,81.2 529.8,80.3 530.1,78.6 530.4,78.5 530.7,79.1 531.0,78.7 531.3,77.1 531.6,75.5 532.0,75.2 532.3,75.3 532.6,74.7 532.9,74.0 533.2,72.9 533.5,72.7 533.8,73.7 534.1,75.1 534.5,76.4 534.8,76.8 535.1,75.7 535.4,74.0 535.7,72.6 536.0,72.4 536.3,73.2 536.6,74.8 536.9,76.7 537.3,77.7 537.6,78.3 537.9,78.4 538.2,77.9 538.5,78.1" stroke="#4d4d4d"/><polyline points="351.6,142.5 351.9,136.5 352.2,130.5 352.5,124.5 352.8,118.5 353.2,112.5 353.5,106.5 353.8,100.5 354.1,95.4 354.4,90.4 354.7,85.4 355.0,80.4 355.3,75.4 355.6,70.4 356.0,65.4 356.3,60.4 356.6,55.4 356.9,50.3 357.2,45.2 357.5,42.1 357.8,45.6 358.1,49.2 358.5,52.7 358.8,56.1 359.1,59.4 359.4,62.8 359.7,66.1 360.0,69.5 360.3,67.7 360.6,65.8 360.9,64.0 361.3,62.2 361.6,60.4 361.9,58.6 362.2,56.8 362.5,59.5 362.8,62.1 363.1,64.8 363.4,67.4 363.7,70.1 364.1,72.8 364.4,72.0 364.7,71.2 365.0,70.4 365.3,69.7 365.6,71.1 365.9,72.3 366.2,75.0 366.6,76.3 366.9,75.4 367.2,74.7 367.5,76.0 367.8,77.4 368.1,78.1 368.4,79.0 368.7,79.6 369.0,79.9 369.4,79.8 369.7,78.8 370.0,77.1 370.3,77.6 370.6,79.6 370.9,81.2 371.2,81.6 371.5,81.5 371.8,81.3 372.2,80.1 372.5,79.5 372.8,79.1 373.1,78.9 373.4,79.4 373.7,80.1 374.0,79.8 374.3,78.8 374.7,78.6 375.0,78.8 375.3,78.8 375.6,78.5 375.9,77.7 376.2,77.8 376.5,78.3 376.8,78.6 377.1,79.3 377.5,81.3 377.8,83.6 378.1,84.5 378.4,84.0 378.7,83.0 379.0,80.9 379.3,78.6 379.6,77.5 379.9,77.5 380.3,77.8 380.6,78.4 380.9,78.5 381.2,79.1 381.5,79.8 381.8,79.3 382.1,78.6 382.4,77.4 382.8,76.5 383.1,76.0 383.4,77.0 383.7,78.5 384.0,79.3 384.3,80.7 384.6,82.2 384.9,83.7 385.2,83.4 385.6,82.5 385.9,81.0 386.2,79.5 386.5,78.3 386.8,77.9 387.1,77.5 387.4,77.7 387.7,78.1 388.0,79.0 388.4,79.6 388.7,79.8 389.0,79.9 389.3,79.9 389.6,79.7 389.9,79.8 390.2,79.5 390.5,79.0 390.8,78.3 391.2,77.6 391.5,77.3 391.8,77.3 392.1,78.4 392.4,80.3 392.7,82.1 393.0,83.5 393.3,84.3 393.7,84.8 394.0,84.0 394.3,82.5 394.6,80.2 394.9,77.8 395.2,75.7 395.5,73.9 395.8,73.5 396.1,73.6 396.5,73.2 396.8,71.9 397.1,70.8 397.4,71.7 397.7,72.2 398.0,73.1 398.3,74.6 398.6,76.2 398.9,76.7 399.3,76.4 399.6,75.0 399.9,73.6 400.2,73.8 400.5,74.8 400.8,75.9 401.1,76.8 401.4,77.6 401.8,77.4 402.1,76.0 402.4,74.8 402.7,73.2 403.0,71.6 403.3,71.1 403.6,71.7 403.9,72.5 404.2,73.0 404.6,73.2 404.9,73.0 405.2,73.0 405.5,73.9 405.8,74.9 406.1,76.0 406.4,77.6 406.7,79.0 407.0,80.0 407.4,79.7 407.7,78.4 408.0,77.1 408.3,77.0 408.6,77.3 408.9,77.8 409.2,77.8 409.5,77.4 409.9,77.6 410.2,78.2 410.5,77.5 410.8,76.7 411.1,76.9 411.4,77.4 411.7,78.7 412.0,80.4 412.3,81.7 412.7,81.6 413.0,80.9 413.3,78.4 413.6,75.1 413.9,73.9 414.2,75.5 414.5,77.3 414.8,78.3 415.1,78.7 415.5,78.9 415.8,79.6 416.1,80.0 416.4,80.2 416.7,79.9 417.0,79.0 417.3,78.7 417.6,78.2 417.9,78.4 418.3,79.9 418.6,81.3 418.9,83.1 419.2,84.1 419.5,84.0 419.8,83.8 420.1,82.6 420.4,81.0 420.8,79.2 421.1,77.6 421.4,77.0 421.7,78.5 422.0,80.2 422.3,80.8 422.6,80.5 422.9,79.5 423.2,79.5 423.6,79.7 423.9,80.1 424.2,80.8 424.5,81.0 424.8,81.4 425.1,81.1 425.4,80.0 425.7,78.8 426.0,78.2 426.4,78.7 426.7,80.5 427.0,81.6 427.3,81.0 427.6,80.2 427.9,79.7 428.2,78.6 428.5,77.6 428.9,77.6 429.2,78.0 429.5,78.2 429.8,77.7 430.1,77.0 430.4,77.3 430.7,78.1 431.0,79.2 431.3,80.2 431.7,80.8 432.0,80.6 432.3,79.8 432.6,78.4 432.9,77.1 433.2,76.8 433.5,77.1 433.8,77.3 434.1,77.2 434.5,76.9 434.8,76.7 435.1,76.7 435.4,77.3 435.7,77.8 436.0,77.9 436.3,77.6 436.6,77.8 437.0,78.1 437.3,77.5 437.6,77.5 437.9,77.5 438.2,75.7 438.5,74.8 438.8,74.3 439.1,74.8 439.4,76.3 439.8,77.7 440.1,78.2 440.4,77.8 440.7,78.3 441.0,79.1 441.3,79.7 441.6,80.4 441.9,79.9 442.2,78.6 442.6,77.7 442.9,77.0 443.2,75.9 443.5,74.4 443.8,74.0 444.1,76.7 444.4,79.2 444.7,78.9 445.1,78.8 445.4,78.6 445.7,78.8 446.0,79.4 446.3,80.0 446.6,80.4 446.9,81.0 447.2,81.4 447.5,81.2 447.9,80.9 448.2,80.6 448.5,80.0 448.8,78.9 449.1,77.8 449.4,77.3 449.7,76.4 450.0,74.9 450.3,74.5 450.7,74.9 451.0,76.4 451.3,77.9 451.6,78.3 451.9,78.6 452.2,79.4 452.5,79.5 452.8,78.8 453.1,77.2 453.5,75.9 453.8,76.1 454.1,78.1 454.4,78.9 454.7,79.0 455.0,79.5 455.3,80.4 455.6,81.3 456.0,81.7 456.3,81.1 456.6,79.9 456.9,79.2 457.2,78.6 457.5,79.4 457.8,80.5 458.1,81.0 458.4,81.3 458.8,81.4 459.1,81.1 459.4,80.5 459.7,79.8 460.0,79.9 460.3,80.9 460.6,81.8 460.9,82.1 461.2,82.4 461.6,83.3 461.9,83.9 462.2,84.0 462.5,84.7 462.8,85.1 463.1,85.3 463.4,85.5 463.7,85.4 464.1,84.3 464.4,82.2 464.7,79.5 465.0,76.7 465.3,76.2 465.6,78.0 465.9,80.4 466.2,81.6 466.5,82.2 466.9,82.2 467.2,81.8 467.5,81.6 467.8,81.7 468.1,81.2 468.4,80.2 468.7,79.7 469.0,80.0 469.3,80.7 469.7,81.2 470.0,80.6 470.3,78.8 470.6,77.7 470.9,77.5 471.2,78.1 471.5,78.6 471.8,78.6 472.2,78.3 472.5,77.8 472.8,77.5 473.1,77.7 473.4,77.5 473.7,78.4 474.0,79.6 474.3,80.5 474.6,81.3 475.0,81.9 475.3,80.8 475.6,79.1 475.9,77.0 476.2,76.0 476.5,76.7 476.8,77.1 477.1,78.2 477.4,78.3 477.8,77.3 478.1,76.7 478.4,76.7 478.7,76.8 479.0,77.1 479.3,77.5 479.6,76.7 479.9,75.5 480.2,73.7 480.6,72.2 480.9,72.5 481.2,74.1 481.5,76.3 481.8,78.9 482.1,81.3 482.4,82.0 482.7,83.1 483.1,83.6 483.4,82.7 483.7,81.5 484.0,80.4 484.3,80.7 484.6,81.3 484.9,81.4 485.2,80.2 485.5,78.1 485.9,77.0 486.2,77.9 486.5,79.9 486.8,81.5 487.1,83.3 487.4,84.8 487.7,85.6 488.0,86.3 488.3,85.6 488.7,82.0 489.0,79.5 489.3,79.1 489.6,79.2 489.9,79.5 490.2,80.3 490.5,81.1 490.8,81.2 491.2,81.4 491.5,82.0 491.8,82.3 492.1,82.0 492.4,81.7 492.7,80.7 493.0,79.6 493.3,80.0 493.6,80.9 494.0,80.9 494.3,80.8 494.6,80.4 494.9,79.3 495.2,78.3 495.5,78.0 495.8,77.9 496.1,77.1 496.4,76.3 496.8,76.2 497.1,75.5 497.4,74.0 497.7,74.2 498.0,76.2 498.3,78.1 498.6,79.0 498.9,78.4 499.3,76.9 499.6,75.6 499.9,74.6 500.2,74.7 500.5,75.3 500.8,76.1 501.1,77.3 501.4,77.6 501.7,77.3 502.1,75.8 502.4,74.8 502.7,73.5 503.0,73.1 503.3,74.8 503.6,76.3 503.9,77.5 504.2,78.2 504.5,77.5 504.9,76.5 505.2,75.5 505.5,75.6 505.8,75.9 506.1,77.2 506.4,78.3 506.7,79.0 507.0,79.9 507.4,79.6 507.7,79.2 508.0,79.9 508.3,79.9 508.6,79.6 508.9,80.0 509.2,80.8 509.5,81.1 509.8,80.5 510.2,79.7 510.5,78.8 510.8,78.0 511.1,78.4 511.4,79.7 511.7,80.9 512.0,82.4 512.3,83.5 512.6,84.8 513.0,85.9 513.3,87.2 513.6,87.7 513.9,86.9 514.2,85.6 514.5,83.6 514.8,82.5 515.1,81.3 515.4,80.0 515.8,81.0 516.1,83.4 516.4,84.2 516.7,83.9 517.0,83.9 517.3,84.3 517.6,84.4 517.9,84.6 518.3,85.3 518.6,85.3 518.9,85.2 519.2,84.6 519.5,83.6 519.8,82.9 520.1,82.3 520.4,81.7 520.7,82.7 521.1,84.8 521.4,86.5 521.7,86.9 522.0,87.3 522.3,87.1 522.6,86.4 522.9,86.6 523.2,85.7 523.5,84.8 523.9,84.3 524.2,83.5 524.5,82.6 524.8,82.6 525.1,83.0 525.4,83.4 525.7,83.3 526.0,83.3 526.4,83.4 526.7,82.9 527.0,82.3 527.3,81.6 527.6,81.5 527.9,82.0 528.2,82.4 528.5,82.7 528.8,83.2 529.2,83.1 529.5,82.8 529.8,82.1 530.1,80.4 530.4,81.1 530.7,82.1 531.0,81.4 531.3,79.8 531.6,78.6 532.0,77.9 532.3,77.2 532.6,76.8 532.9,76.0 533.2,75.1 533.5,75.5 533.8,76.5 534.1,77.0 534.5,77.0 534.8,77.0 535.1,76.5 535.4,75.7 535.7,74.7 536.0,74.4 536.3,75.2 536.6,76.7 536.9,78.7 537.3,80.0 537.6,80.3 537.9,79.9 538.2,79.9 538.5,80.0" stroke="#f04242"/><polyline points="351.6,142.5 351.9,136.6 352.2,130.7 352.5,124.8 352.8,118.9 353.2,113.0 353.5,107.1 353.8,101.2 354.1,95.3 354.4,89.3 354.7,83.4 355.0,77.4 355.3,71.4 355.6,65.5 356.0,60.7 356.3,56.8 356.6,52.9 356.9,49.0 357.2,45.0 357.5,43.9 357.8,48.4 358.1,52.8 358.5,57.2 358.8,59.8 359.1,62.3 359.4,64.8 359.7,67.3 360.0,69.8 360.3,68.1 360.6,66.4 360.9,64.7 361.3,62.9 361.6,61.2 361.9,59.5 362.2,57.8 362.5,60.8 362.8,63.8 363.1,66.8 363.4,69.9 363.7,72.9 364.1,75.9 364.4,74.9 364.7,74.0 365.0,73.0 365.3,72.1 365.6,72.4 365.9,72.7 366.2,74.2 366.6,74.4 366.9,72.7 367.2,71.6 367.5,72.9 367.8,74.5 368.1,75.4 368.4,76.1 368.7,76.9 369.0,77.2 369.4,76.7 369.7,74.9 370.0,74.0 370.3,75.1 370.6,77.4 370.9,78.7 371.2,79.0 371.5,78.9 371.8,78.4 372.2,77.8 372.5,76.9 372.8,76.4 373.1,76.3 373.4,76.9 373.7,77.2 374.0,76.9 374.3,75.7 374.7,73.8 375.0,72.3 375.3,72.1 375.6,72.2 375.9,72.0 376.2,72.0 376.5,73.0 376.8,74.3 377.1,75.4 377.5,76.9 377.8,78.2 378.1,79.3 378.4,79.8 378.7,78.7 379.0,76.9 379.3,74.9 379.6,74.1 379.9,74.4 380.3,74.5 380.6,74.7 380.9,75.2 381.2,75.9 381.5,76.6 381.8,76.4 382.1,75.5 382.4,74.2 382.8,73.3 383.1,73.7 383.4,74.2 383.7,74.2 384.0,74.7 384.3,76.0 384.6,77.5 384.9,78.5 385.2,79.1 385.6,79.3 385.9,78.8 386.2,77.6 386.5,75.9 386.8,74.7 387.1,74.2 387.4,74.5 387.7,75.6 388.0,77.0 388.4,77.9 388.7,77.8 389.0,77.0 389.3,76.0 389.6,75.4 389.9,75.3 390.2,75.7 390.5,75.1 390.8,74.3 391.2,74.0 391.5,74.0 391.8,74.6 392.1,75.4 392.4,77.3 392.7,78.6 393.0,80.3 393.3,81.1 393.7,81.1 394.0,80.2 394.3,78.1 394.6,75.3 394.9,72.8 395.2,71.3 395.5,70.1 395.8,69.7 396.1,69.6 396.5,69.4 396.8,68.4 397.1,66.2 397.4,65.9 397.7,66.1 398.0,66.6 398.3,67.9 398.6,70.6 398.9,72.7 399.3,72.2 399.6,71.2 399.9,71.0 400.2,70.9 400.5,71.3 400.8,71.9 401.1,72.7 401.4,73.7 401.8,73.6 402.1,72.2 402.4,71.1 402.7,69.7 403.0,67.3 403.3,66.6 403.6,68.0 403.9,69.1 404.2,69.6 404.6,70.1 404.9,70.2 405.2,69.6 405.5,68.9 405.8,68.6 406.1,69.2 406.4,71.4 406.7,73.9 407.0,75.0 407.4,74.5 407.7,73.4 408.0,72.2 408.3,72.1 408.6,72.8 408.9,72.8 409.2,72.8 409.5,73.3 409.9,73.6 410.2,73.3 410.5,73.2 410.8,72.8 411.1,73.4 411.4,74.0 411.7,75.7 412.0,77.4 412.3,78.0 412.7,78.1 413.0,77.5 413.3,75.4 413.6,73.0 413.9,72.1 414.2,73.5 414.5,74.9 414.8,74.6 415.1,73.3 415.5,72.5 415.8,72.9 416.1,73.9 416.4,74.1 416.7,74.0 417.0,73.9 417.3,73.6 417.6,73.3 417.9,73.5 418.3,74.7 418.6,76.8 418.9,79.1 419.2,80.7 419.5,81.3 419.8,81.1 420.1,79.7 420.4,77.0 420.8,74.6 421.1,73.6 421.4,73.6 421.7,74.5 422.0,76.0 422.3,76.8 422.6,77.0 422.9,76.6 423.2,76.3 423.6,76.5 423.9,77.3 424.2,77.9 424.5,78.2 424.8,78.5 425.1,77.9 425.4,76.7 425.7,75.6 426.0,75.6 426.4,76.1 426.7,76.9 427.0,77.6 427.3,77.8 427.6,77.7 427.9,76.4 428.2,75.4 428.5,75.3 428.9,75.1 429.2,75.1 429.5,75.4 429.8,75.1 430.1,74.4 430.4,74.0 430.7,74.4 431.0,75.0 431.3,75.4 431.7,76.1 432.0,76.2 432.3,75.6 432.6,74.3 432.9,73.0 433.2,72.3 433.5,72.2 433.8,72.2 434.1,72.3 434.5,73.0 434.8,73.0 435.1,73.0 435.4,73.8 435.7,74.9 436.0,75.2 436.3,74.1 436.6,73.1 437.0,72.4 437.3,71.9 437.6,72.0 437.9,71.7 438.2,70.8 438.5,70.2 438.8,70.2 439.1,71.3 439.4,72.6 439.8,73.6 440.1,74.2 440.4,74.1 440.7,74.4 441.0,75.4 441.3,76.3 441.6,76.5 441.9,75.7 442.2,75.0 442.6,74.2 442.9,73.5 443.2,72.3 443.5,71.0 443.8,71.1 444.1,72.8 444.4,74.4 444.7,75.3 445.1,75.1 445.4,75.5 445.7,76.1 446.0,77.1 446.3,77.4 446.6,77.8 446.9,78.4 447.2,79.0 447.5,79.6 447.9,79.6 448.2,79.3 448.5,78.7 448.8,77.6 449.1,76.5 449.4,74.7 449.7,73.1 450.0,72.6 450.3,71.9 450.7,71.4 451.0,72.2 451.3,73.4 451.6,73.9 451.9,74.2 452.2,74.7 452.5,74.7 452.8,74.4 453.1,73.7 453.5,72.7 453.8,73.2 454.1,74.6 454.4,75.3 454.7,75.2 455.0,75.4 455.3,76.1 455.6,76.7 456.0,77.1 456.3,77.3 456.6,76.0 456.9,74.6 457.2,74.3 457.5,75.5 457.8,76.7 458.1,78.0 458.4,79.4 458.8,79.6 459.1,79.0 459.4,77.7 459.7,76.4 460.0,75.9 460.3,76.4 460.6,77.3 460.9,77.7 461.2,78.3 461.6,78.9 461.9,79.7 462.2,80.2 462.5,80.4 462.8,80.8 463.1,81.2 463.4,81.0 463.7,80.7 464.1,80.2 464.4,78.9 464.7,77.0 465.0,75.3 465.3,75.5 465.6,76.9 465.9,78.0 466.2,78.6 466.5,78.9 466.9,79.0 467.2,78.6 467.5,77.7 467.8,76.3 468.1,75.7 468.4,75.4 468.7,75.6 469.0,76.3 469.3,77.0 469.7,77.1 470.0,76.7 470.3,75.8 470.6,76.0 470.9,77.2 471.2,77.0 471.5,76.5 471.8,75.8 472.2,75.2 472.5,75.0 472.8,75.0 473.1,75.0 473.4,74.9 473.7,75.5 474.0,76.5 474.3,77.3 474.6,77.7 475.0,78.0 475.3,77.6 475.6,76.6 475.9,74.9 476.2,73.7 476.5,74.3 476.8,73.9 477.1,73.2 477.4,71.8 477.8,70.3 478.1,69.4 478.4,69.6 478.7,71.1 479.0,72.4 479.3,72.7 479.6,72.7 479.9,71.6 480.2,69.5 480.6,68.1 480.9,68.9 481.2,70.9 481.5,73.0 481.8,75.8 482.1,77.8 482.4,78.9 482.7,79.6 483.1,79.5 483.4,78.8 483.7,78.0 484.0,77.5 484.3,77.8 484.6,78.5 484.9,78.7 485.2,77.9 485.5,76.9 485.9,76.2 486.2,76.1 486.5,77.2 486.8,78.3 487.1,79.1 487.4,79.5 487.7,79.7 488.0,80.1 488.3,80.1 488.7,77.7 489.0,75.3 489.3,75.3 489.6,76.6 489.9,77.5 490.2,78.2 490.5,78.9 490.8,79.2 491.2,78.7 491.5,78.7 491.8,78.3 492.1,78.1 492.4,77.5 492.7,76.3 493.0,75.0 493.3,75.5 493.6,75.9 494.0,75.8 494.3,75.8 494.6,76.0 494.9,75.9 495.2,74.6 495.5,73.6 495.8,73.3 496.1,73.0 496.4,72.6 496.8,71.9 497.1,71.8 497.4,71.7 497.7,71.9 498.0,73.0 498.3,74.3 498.6,74.5 498.9,72.9 499.3,71.3 499.6,70.6 499.9,70.3 500.2,70.2 500.5,70.6 500.8,71.9 501.1,72.6 501.4,72.4 501.7,72.8 502.1,72.2 502.4,70.6 502.7,69.4 503.0,69.8 503.3,71.6 503.6,72.8 503.9,73.6 504.2,73.7 504.5,73.5 504.9,73.1 505.2,72.3 505.5,72.1 505.8,72.5 506.1,73.0 506.4,74.0 506.7,75.0 507.0,75.2 507.4,75.4 507.7,75.8 508.0,76.3 508.3,76.8 508.6,76.5 508.9,75.8 509.2,75.4 509.5,75.6 509.8,75.1 510.2,74.4 510.5,73.9 510.8,74.1 511.1,75.8 511.4,77.2 511.7,78.3 512.0,79.5 512.3,81.0 512.6,82.3 513.0,83.3 513.3,84.2 513.6,84.6 513.9,84.0 514.2,82.4 514.5,80.6 514.8,79.6 515.1,78.3 515.4,77.7 515.8,79.6 516.1,81.3 516.4,81.9 516.7,82.4 517.0,82.6 517.3,82.4 517.6,81.6 517.9,81.6 518.3,82.3 518.6,82.2 518.9,82.0 519.2,81.4 519.5,80.0 519.8,78.4 520.1,77.4 520.4,77.8 520.7,79.6 521.1,81.7 521.4,82.5 521.7,83.7 522.0,84.5 522.3,84.0 522.6,83.3 522.9,82.9 523.2,82.7 523.5,81.8 523.9,81.3 524.2,81.1 524.5,81.4 524.8,81.8 525.1,81.4 525.4,81.2 525.7,80.8 526.0,80.4 526.4,80.3 526.7,80.4 527.0,79.9 527.3,78.3 527.6,77.7 527.9,79.1 528.2,79.7 528.5,79.4 528.8,79.3 529.2,79.3 529.5,79.3 529.8,77.9 530.1,75.3 530.4,75.8 530.7,77.1 531.0,76.9 531.3,76.0 531.6,75.2 532.0,74.6 532.3,74.2 532.6,73.7 532.9,72.4 533.2,71.2 533.5,71.7 533.8,73.2 534.1,74.2 534.5,74.5 534.8,74.8 535.1,74.2 535.4,72.8 535.7,72.3 536.0,72.3 536.3,73.2 536.6,75.1 536.9,76.4 537.3,77.2 537.6,77.6 537.9,77.8 538.2,78.4 538.5,78.7" stroke="#3380ee"/><polyline points="351.6,142.5 351.9,137.1 352.2,131.8 352.5,126.4 352.8,121.1 353.2,115.7 353.5,110.4 353.8,105.0 354.1,99.6 354.4,94.2 354.7,88.7 355.0,83.2 355.3,77.6 355.6,72.1 356.0,66.6 356.3,61.1 356.6,55.8 356.9,50.6 357.2,45.3 357.5,47.6 357.8,51.2 358.1,54.8 358.5,58.4 358.8,60.6 359.1,62.8 359.4,65.0 359.7,67.2 360.0,69.4 360.3,67.6 360.6,65.8 360.9,64.0 361.3,62.1 361.6,60.3 361.9,58.5 362.2,56.7 362.5,59.4 362.8,62.1 363.1,64.8 363.4,67.6 363.7,70.3 364.1,73.0 364.4,71.9 364.7,70.8 365.0,69.7 365.3,68.6 365.6,69.1 365.9,69.5 366.2,71.5 366.6,72.1 366.9,71.3 367.2,70.9 367.5,71.5 367.8,71.8 368.1,72.2 368.4,72.6 368.7,73.3 369.0,73.6 369.4,73.2 369.7,72.1 370.0,71.1 370.3,71.6 370.6,73.1 370.9,74.2 371.2,74.5 371.5,74.1 371.8,73.5 372.2,73.2 372.5,73.3 372.8,73.1 373.1,73.7 373.4,74.7 373.7,75.0 374.0,74.6 374.3,74.0 374.7,72.8 375.0,71.6 375.3,71.4 375.6,71.7 375.9,71.6 376.2,71.3 376.5,71.5 376.8,73.0 377.1,74.8 377.5,76.3 377.8,78.3 378.1,79.3 378.4,79.3 378.7,77.9 379.0,75.4 379.3,73.0 379.6,72.2 379.9,72.0 380.3,72.1 380.6,72.4 380.9,73.5 381.2,74.4 381.5,74.9 381.8,75.2 382.1,75.1 382.4,74.3 382.8,73.8 383.1,74.0 383.4,74.3 383.7,75.3 384.0,76.4 384.3,77.4 384.6,78.8 384.9,79.4 385.2,78.9 385.6,78.2 385.9,77.5 386.2,76.4 386.5,74.6 386.8,73.0 387.1,72.5 387.4,72.4 387.7,73.7 388.0,75.6 388.4,76.6 388.7,77.0 389.0,76.7 389.3,75.9 389.6,74.9 389.9,73.9 390.2,73.4 390.5,73.9 390.8,74.1 391.2,73.6 391.5,73.0 391.8,73.6 392.1,74.8 392.4,76.1 392.7,77.7 393.0,78.9 393.3,79.6 393.7,79.1 394.0,77.6 394.3,75.6 394.6,73.4 394.9,70.7 395.2,69.2 395.5,68.0 395.8,67.1 396.1,66.2 396.5,65.3 396.8,64.7 397.1,63.9 397.4,64.4 397.7,65.0 398.0,66.0 398.3,67.6 398.6,69.6 398.9,70.5 399.3,69.9 399.6,69.1 399.9,68.9 400.2,69.3 400.5,69.8 400.8,70.5 401.1,71.2 401.4,71.6 401.8,71.4 402.1,70.6 402.4,69.3 402.7,67.5 403.0,65.2 403.3,65.3 403.6,67.1 403.9,68.0 404.2,68.2 404.6,68.0 404.9,68.0 405.2,67.7 405.5,67.4 405.8,67.9 406.1,69.4 406.4,71.0 406.7,72.4 407.0,73.1 407.4,73.4 407.7,72.3 408.0,71.1 408.3,70.7 408.6,70.7 408.9,70.7 409.2,71.1 409.5,71.6 409.9,71.3 410.2,71.0 410.5,70.8 410.8,70.3 411.1,70.0 411.4,70.5 411.7,72.1 412.0,73.2 412.3,74.0 412.7,74.6 413.0,74.6 413.3,74.1 413.6,72.3 413.9,71.6 414.2,73.5 414.5,75.0 414.8,74.7 415.1,74.3 415.5,74.4 415.8,74.6 416.1,74.6 416.4,74.9 416.7,74.9 417.0,74.6 417.3,74.0 417.6,73.4 417.9,73.1 418.3,73.9 418.6,75.7 418.9,78.1 419.2,79.7 419.5,80.4 419.8,80.1 420.1,79.5 420.4,78.1 420.8,75.4 421.1,73.3 421.4,72.6 421.7,72.5 422.0,73.4 422.3,74.1 422.6,73.7 422.9,73.4 423.2,73.6 423.6,73.9 423.9,74.4 424.2,75.5 424.5,76.0 424.8,76.5 425.1,76.6 425.4,76.0 425.7,74.6 426.0,73.6 426.4,73.6 426.7,73.9 427.0,75.1 427.3,75.8 427.6,75.2 427.9,73.6 428.2,72.5 428.5,72.1 428.9,72.2 429.2,72.5 429.5,72.2 429.8,71.6 430.1,71.6 430.4,72.1 430.7,72.4 431.0,73.1 431.3,74.2 431.7,75.1 432.0,74.7 432.3,73.4 432.6,71.2 432.9,70.0 433.2,69.7 433.5,70.2 433.8,71.0 434.1,71.8 434.5,72.2 434.8,72.1 435.1,72.2 435.4,72.1 435.7,71.6 436.0,71.1 436.3,70.8 436.6,70.3 437.0,70.5 437.3,71.6 437.6,71.7 437.9,70.4 438.2,69.3 438.5,68.3 438.8,68.2 439.1,69.5 439.4,71.0 439.8,72.1 440.1,72.6 440.4,72.4 440.7,72.7 441.0,73.1 441.3,73.4 441.6,74.3 441.9,74.4 442.2,73.5 442.6,72.3 442.9,71.1 443.2,69.7 443.5,68.0 443.8,67.7 444.1,70.6 444.4,73.6 444.7,74.8 445.1,74.9 445.4,74.8 445.7,75.1 446.0,75.8 446.3,76.3 446.6,76.6 446.9,77.3 447.2,77.5 447.5,77.0 447.9,76.8 448.2,77.0 448.5,76.6 448.8,76.0 449.1,75.8 449.4,74.9 449.7,73.3 450.0,71.5 450.3,70.4 450.7,70.3 451.0,71.2 451.3,72.2 451.6,72.7 451.9,73.1 452.2,73.2 452.5,73.3 452.8,73.5 453.1,73.2 453.5,72.3 453.8,72.2 454.1,72.9 454.4,73.4 454.7,73.4 455.0,73.5 455.3,74.3 455.6,75.2 456.0,75.7 456.3,74.9 456.6,73.4 456.9,72.9 457.2,73.2 457.5,74.4 457.8,75.5 458.1,76.7 458.4,77.2 458.8,76.3 459.1,75.5 459.4,74.5 459.7,74.5 460.0,75.1 460.3,75.1 460.6,75.1 460.9,75.9 461.2,77.0 461.6,77.8 461.9,78.7 462.2,79.5 462.5,80.2 462.8,80.8 463.1,81.2 463.4,81.5 463.7,80.9 464.1,79.5 464.4,77.7 464.7,74.7 465.0,71.8 465.3,71.2 465.6,72.4 465.9,73.7 466.2,75.0 466.5,75.9 466.9,76.2 467.2,76.0 467.5,75.1 467.8,74.7 468.1,74.2 468.4,74.0 468.7,74.3 469.0,74.4 469.3,74.5 469.7,74.6 470.0,73.7 470.3,72.0 470.6,72.0 470.9,73.7 471.2,74.3 471.5,73.9 471.8,73.4 472.2,73.3 472.5,73.3 472.8,72.7 473.1,72.2 473.4,72.3 473.7,73.5 474.0,75.8 474.3,77.5 474.6,78.3 475.0,78.2 475.3,75.6 475.6,73.1 475.9,71.2 476.2,69.8 476.5,69.9 476.8,70.2 477.1,70.8 477.4,69.6 477.8,68.6 478.1,68.0 478.4,68.2 478.7,69.7 479.0,70.7 479.3,70.6 479.6,70.9 479.9,70.0 480.2,67.4 480.6,65.2 480.9,64.9 481.2,67.2 481.5,71.7 481.8,74.5 482.1,75.4 482.4,76.4 482.7,77.6 483.1,77.7 483.4,76.7 483.7,75.5 484.0,75.5 484.3,76.5 484.6,77.2 484.9,77.3 485.2,76.5 485.5,74.9 485.9,73.8 486.2,73.8 486.5,74.7 486.8,76.1 487.1,77.6 487.4,78.5 487.7,79.0 488.0,79.3 488.3,77.9 488.7,74.9 489.0,72.1 489.3,71.5 489.6,72.7 489.9,73.6 490.2,74.9 490.5,76.0 490.8,76.3 491.2,76.0 491.5,76.2 491.8,76.6 492.1,76.9 492.4,76.0 492.7,74.3 493.0,72.7 493.3,72.7 493.6,73.8 494.0,75.1 494.3,75.6 494.6,74.8 494.9,73.7 495.2,73.0 495.5,71.8 495.8,70.8 496.1,70.5 496.4,69.8 496.8,69.8 497.1,69.4 497.4,68.9 497.7,69.2 498.0,70.4 498.3,72.1 498.6,72.5 498.9,71.6 499.3,70.6 499.6,69.3 499.9,68.6 500.2,69.3 500.5,69.8 500.8,70.7 501.1,72.3 501.4,72.9 501.7,73.1 502.1,72.3 502.4,71.0 502.7,70.0 503.0,70.5 503.3,72.1 503.6,73.2 503.9,73.1 504.2,72.2 504.5,71.3 504.9,70.6 505.2,70.5 505.5,70.6 505.8,70.7 506.1,71.7 506.4,73.8 506.7,75.2 507.0,75.2 507.4,74.5 507.7,74.5 508.0,74.9 508.3,74.8 508.6,74.6 508.9,74.4 509.2,74.3 509.5,73.9 509.8,73.5 510.2,72.9 510.5,72.0 510.8,72.3 511.1,74.1 511.4,76.3 511.7,77.7 512.0,78.5 512.3,79.4 512.6,80.1 513.0,80.3 513.3,80.9 513.6,81.1 513.9,80.1 514.2,79.3 514.5,78.5 514.8,77.7 515.1,76.8 515.4,76.1 515.8,77.1 516.1,78.7 516.4,79.6 516.7,80.6 517.0,81.3 517.3,81.4 517.6,81.1 517.9,80.6 518.3,80.0 518.6,79.8 518.9,79.8 519.2,79.7 519.5,78.9 519.8,77.3 520.1,76.0 520.4,76.2 520.7,77.6 521.1,79.9 521.4,81.6 521.7,82.1 522.0,82.1 522.3,81.2 522.6,81.0 522.9,80.9 523.2,81.5 523.5,81.6 523.9,80.4 524.2,79.6 524.5,79.4 524.8,79.1 525.1,78.7 525.4,78.1 525.7,77.7 526.0,78.2 526.4,78.8 526.7,79.3 527.0,79.1 527.3,78.3 527.6,77.1 527.9,77.3 528.2,77.9 528.5,78.0 528.8,78.0 529.2,78.7 529.5,78.6 529.8,76.4 530.1,74.6 530.4,75.5 530.7,76.7 531.0,76.4 531.3,74.9 531.6,74.3 532.0,74.0 532.3,73.4 532.6,72.6 532.9,70.9 533.2,70.0 533.5,70.0 533.8,70.4 534.1,70.4 534.5,70.6 534.8,71.0 535.1,71.3 535.4,70.7 535.7,69.7 536.0,69.6 536.3,70.7 536.6,72.9 536.9,75.2 537.3,76.4 537.6,77.1 537.9,77.1 538.2,76.3 538.5,76.1" stroke="#30b47f"/><polyline points="351.6,142.5 351.9,136.9 352.2,131.2 352.5,125.6 352.8,120.0 353.2,114.3 353.5,108.7 353.8,103.0 354.1,97.4 354.4,91.8 354.7,86.1 355.0,80.5 355.3,74.8 355.6,69.2 356.0,63.5 356.3,58.1 356.6,53.1 356.9,48.0 357.2,45.0 357.5,47.5 357.8,50.0 358.1,52.5 358.5,55.0 358.8,58.6 359.1,62.2 359.4,65.8 359.7,69.4 360.0,73.0 360.3,71.1 360.6,69.1 360.9,67.2 361.3,65.3 361.6,63.4 361.9,61.5 362.2,59.5 362.5,61.8 362.8,64.1 363.1,66.4 363.4,68.7 363.7,71.0 364.1,73.3 364.4,72.5 364.7,71.6 365.0,70.8 365.3,70.0 365.6,70.2 365.9,70.3 366.2,71.2 366.6,71.3 366.9,69.8 367.2,68.5 367.5,69.6 367.8,70.5 368.1,70.8 368.4,72.4 368.7,74.0 369.0,74.9 369.4,74.1 369.7,72.6 370.0,71.4 370.3,72.3 370.6,74.0 370.9,75.0 371.2,75.5 371.5,75.6 371.8,75.0 372.2,73.6 372.5,72.6 372.8,71.6 373.1,71.4 373.4,72.0 373.7,72.7 374.0,72.8 374.3,72.2 374.7,70.6 375.0,69.7 375.3,69.4 375.6,69.6 375.9,69.8 376.2,69.7 376.5,69.6 376.8,70.7 377.1,72.3 377.5,74.6 377.8,77.4 378.1,78.4 378.4,78.4 378.7,77.1 379.0,74.8 379.3,72.3 379.6,70.2 379.9,70.0 380.3,71.4 380.6,72.2 380.9,72.6 381.2,74.0 381.5,75.1 381.8,75.0 382.1,73.6 382.4,71.9 382.8,71.2 383.1,72.0 383.4,72.7 383.7,73.1 384.0,73.7 384.3,74.7 384.6,75.7 384.9,76.2 385.2,76.7 385.6,76.9 385.9,76.4 386.2,74.8 386.5,73.5 386.8,72.6 387.1,72.2 387.4,72.5 387.7,73.1 388.0,73.7 388.4,74.5 388.7,75.3 389.0,75.1 389.3,73.5 389.6,72.3 389.9,71.9 390.2,72.1 390.5,72.7 390.8,72.5 391.2,72.2 391.5,72.0 391.8,71.9 392.1,72.8 392.4,73.8 392.7,74.8 393.0,76.2 393.3,77.9 393.7,78.4 394.0,77.3 394.3,75.4 394.6,72.7 394.9,70.4 395.2,68.8 395.5,67.1 395.8,67.1 396.1,67.0 396.5,66.4 396.8,64.6 397.1,62.6 397.4,62.4 397.7,62.2 398.0,63.1 398.3,65.2 398.6,67.6 398.9,69.8 399.3,70.3 399.6,69.3 399.9,67.8 400.2,67.5 400.5,68.7 400.8,70.0 401.1,70.7 401.4,71.1 401.8,71.0 402.1,69.6 402.4,66.8 402.7,64.8 403.0,63.4 403.3,63.2 403.6,64.7 403.9,66.1 404.2,66.5 404.6,66.3 404.9,65.7 405.2,66.0 405.5,66.3 405.8,66.7 406.1,68.1 406.4,70.0 406.7,71.5 407.0,72.6 407.4,72.3 407.7,71.8 408.0,71.2 408.3,69.9 408.6,70.2 408.9,71.2 409.2,71.5 409.5,71.5 409.9,71.0 410.2,71.0 410.5,71.3 410.8,70.7 411.1,69.8 411.4,69.7 411.7,70.8 412.0,73.0 412.3,74.3 412.7,74.6 413.0,74.1 413.3,72.2 413.6,69.0 413.9,67.4 414.2,68.9 414.5,71.1 414.8,72.1 415.1,72.1 415.5,71.7 415.8,71.7 416.1,72.3 416.4,72.2 416.7,71.8 417.0,72.4 417.3,73.2 417.6,73.1 417.9,72.5 418.3,72.3 418.6,73.8 418.9,76.0 419.2,77.4 419.5,78.1 419.8,78.5 420.1,77.9 420.4,76.1 420.8,73.3 421.1,71.5 421.4,71.5 421.7,72.8 422.0,74.7 422.3,75.9 422.6,75.7 422.9,75.2 423.2,74.9 423.6,75.1 423.9,76.0 424.2,75.7 424.5,75.6 424.8,75.8 425.1,75.4 425.4,74.1 425.7,72.9 426.0,72.6 426.4,73.6 426.7,74.5 427.0,75.5 427.3,76.1 427.6,75.0 427.9,73.7 428.2,72.8 428.5,72.1 428.9,71.5 429.2,71.3 429.5,71.2 429.8,71.4 430.1,71.2 430.4,70.6 430.7,70.5 431.0,71.7 431.3,72.6 431.7,72.6 432.0,72.1 432.3,71.0 432.6,70.0 432.9,69.7 433.2,69.9 433.5,70.4 433.8,70.5 434.1,70.0 434.5,69.5 434.8,69.4 435.1,69.9 435.4,70.5 435.7,70.5 436.0,69.7 436.3,69.1 436.6,69.4 437.0,69.7 437.3,69.6 437.6,69.4 437.9,68.8 438.2,67.3 438.5,66.1 438.8,66.1 439.1,67.5 439.4,69.4 439.8,70.9 440.1,71.6 440.4,72.0 440.7,72.1 441.0,72.8 441.3,74.3 441.6,74.4 441.9,73.1 442.2,71.1 442.6,69.6 442.9,68.7 443.2,68.3 443.5,67.1 443.8,66.9 444.1,69.3 444.4,71.3 444.7,72.1 445.1,72.5 445.4,72.5 445.7,73.0 446.0,73.9 446.3,74.1 446.6,74.7 446.9,75.5 447.2,75.8 447.5,76.3 447.9,76.7 448.2,76.0 448.5,75.3 448.8,74.1 449.1,73.1 449.4,71.9 449.7,70.2 450.0,68.4 450.3,67.5 450.7,67.8 451.0,69.2 451.3,70.7 451.6,71.6 451.9,72.4 452.2,73.0 452.5,73.0 452.8,72.2 453.1,71.0 453.5,70.2 453.8,69.9 454.1,71.0 454.4,71.5 454.7,70.7 455.0,71.3 455.3,73.4 455.6,74.7 456.0,74.7 456.3,73.4 456.6,72.1 456.9,71.5 457.2,71.4 457.5,72.2 457.8,73.9 458.1,75.5 458.4,75.9 458.8,75.6 459.1,74.6 459.4,73.7 459.7,73.5 460.0,73.7 460.3,74.4 460.6,74.8 460.9,75.0 461.2,75.8 461.6,76.6 461.9,77.7 462.2,78.3 462.5,78.2 462.8,78.6 463.1,79.0 463.4,79.0 463.7,78.6 464.1,78.2 464.4,76.7 464.7,73.7 465.0,71.3 465.3,71.3 465.6,72.8 465.9,74.1 466.2,75.6 466.5,76.1 466.9,75.4 467.2,74.3 467.5,73.5 467.8,73.1 468.1,72.3 468.4,71.9 468.7,72.4 469.0,73.1 469.3,73.6 469.7,73.2 470.0,72.2 470.3,70.8 470.6,71.2 470.9,72.5 471.2,72.5 471.5,71.8 471.8,71.7 472.2,71.4 472.5,70.7 472.8,70.8 473.1,71.3 473.4,71.6 473.7,72.5 474.0,73.7 474.3,74.4 474.6,75.0 475.0,76.1 475.3,74.2 475.6,72.2 475.9,70.5 476.2,68.9 476.5,68.8 476.8,68.3 477.1,68.2 477.4,67.4 477.8,66.0 478.1,65.9 478.4,66.1 478.7,66.5 479.0,67.7 479.3,68.2 479.6,67.6 479.9,65.9 480.2,63.5 480.6,62.5 480.9,62.9 481.2,65.3 481.5,68.7 481.8,71.5 482.1,74.0 482.4,75.5 482.7,75.9 483.1,75.9 483.4,74.5 483.7,73.1 484.0,72.6 484.3,73.3 484.6,74.4 484.9,75.1 485.2,74.4 485.5,72.4 485.9,70.5 486.2,70.6 486.5,72.0 486.8,72.7 487.1,73.8 487.4,75.3 487.7,77.2 488.0,77.9 488.3,77.1 488.7,74.4 489.0,71.9 489.3,71.8 489.6,72.4 489.9,72.6 490.2,73.2 490.5,73.4 490.8,73.1 491.2,73.1 491.5,73.7 491.8,75.2 492.1,76.2 492.4,75.4 492.7,73.1 493.0,71.4 493.3,71.5 493.6,72.7 494.0,73.2 494.3,72.5 494.6,72.4 494.9,72.5 495.2,72.0 495.5,70.9 495.8,69.5 496.1,68.7 496.4,69.0 496.8,69.1 497.1,69.2 497.4,68.8 497.7,68.8 498.0,69.9 498.3,71.2 498.6,70.9 498.9,69.6 499.3,68.3 499.6,67.2 499.9,66.7 500.2,67.0 500.5,67.8 500.8,68.3 501.1,68.8 501.4,69.2 501.7,70.0 502.1,69.8 502.4,67.7 502.7,66.4 503.0,66.7 503.3,68.2 503.6,69.7 503.9,70.8 504.2,71.3 504.5,70.7 504.9,70.1 505.2,70.4 505.5,70.4 505.8,70.2 506.1,70.9 506.4,71.6 506.7,72.0 507.0,72.9 507.4,73.2 507.7,73.3 508.0,73.9 508.3,74.5 508.6,73.3 508.9,72.0 509.2,71.8 509.5,71.6 509.8,71.4 510.2,70.4 510.5,69.2 510.8,69.6 511.1,71.3 511.4,73.3 511.7,75.8 512.0,77.9 512.3,78.7 512.6,79.0 513.0,79.7 513.3,80.0 513.6,79.9 513.9,79.7 514.2,79.0 514.5,78.6 514.8,78.4 515.1,76.1 515.4,74.8 515.8,76.4 516.1,78.9 516.4,79.9 516.7,79.5 517.0,79.1 517.3,79.3 517.6,79.2 517.9,78.6 518.3,78.3 518.6,78.0 518.9,77.6 519.2,76.7 519.5,76.3 519.8,74.7 520.1,73.0 520.4,73.2 520.7,75.1 521.1,77.7 521.4,80.0 521.7,80.7 522.0,80.4 522.3,80.7 522.6,80.8 522.9,80.6 523.2,80.5 523.5,79.7 523.9,79.3 524.2,78.9 524.5,78.6 524.8,78.2 525.1,78.4 525.4,78.4 525.7,77.9 526.0,77.7 526.4,77.4 526.7,78.1 527.0,77.8 527.3,75.9 527.6,74.7 527.9,75.2 528.2,75.8 528.5,75.7 528.8,75.6 529.2,76.1 529.5,76.5 529.8,75.4 530.1,73.4 530.4,73.6 530.7,74.5 531.0,73.8 531.3,72.8 531.6,72.8 532.0,72.5 532.3,72.3 532.6,71.5 532.9,69.8 533.2,68.7 533.5,69.1 533.8,70.4 534.1,71.6 534.5,72.4 534.8,72.7 535.1,71.5 535.4,69.0 535.7,67.3 536.0,66.6 536.3,67.0 536.6,69.2 536.9,71.7 537.3,74.2 537.6,75.2 537.9,74.9 538.2,74.7 538.5,74.7" stroke="#c97be6"/><polyline points="351.6,142.5 351.9,137.5 352.2,132.6 352.5,127.6 352.8,122.6 353.2,117.6 353.5,112.7 353.8,107.7 354.1,102.7 354.4,96.7 354.7,89.6 355.0,82.4 355.3,75.3 355.6,68.1 356.0,62.2 356.3,57.0 356.6,51.8 356.9,46.6 357.2,47.0 357.5,48.8 357.8,50.5 358.1,52.2 358.5,54.0 358.8,56.7 359.1,59.4 359.4,62.1 359.7,64.8 360.0,67.5 360.3,66.3 360.6,65.1 360.9,63.9 361.3,62.7 361.6,61.5 361.9,60.3 362.2,59.1 362.5,61.8 362.8,64.5 363.1,67.2 363.4,69.9 363.7,72.7 364.1,75.4 364.4,74.6 364.7,73.9 365.0,73.2 365.3,72.4 365.6,72.1 365.9,71.4 366.2,70.8 366.6,69.6 366.9,67.2 367.2,66.2 367.5,67.7 367.8,69.0 368.1,70.3 368.4,71.8 368.7,72.9 369.0,73.2 369.4,72.4 369.7,70.7 370.0,69.4 370.3,69.1 370.6,70.5 370.9,72.2 371.2,72.9 371.5,72.9 371.8,72.7 372.2,71.9 372.5,71.2 372.8,70.7 373.1,71.4 373.4,72.0 373.7,72.1 374.0,71.6 374.3,70.6 374.7,69.4 375.0,69.0 375.3,69.7 375.6,70.5 375.9,70.4 376.2,69.9 376.5,69.7 376.8,70.4 377.1,72.0 377.5,74.3 377.8,76.1 378.1,77.0 378.4,76.6 378.7,75.5 379.0,73.8 379.3,71.7 379.6,70.2 379.9,69.6 380.3,69.8 380.6,70.3 380.9,71.3 381.2,72.2 381.5,73.3 381.8,73.8 382.1,72.8 382.4,70.9 382.8,68.9 383.1,68.5 383.4,69.8 383.7,71.4 384.0,72.3 384.3,73.1 384.6,74.4 384.9,76.0 385.2,76.1 385.6,75.5 385.9,74.6 386.2,72.6 386.5,71.1 386.8,70.3 387.1,69.8 387.4,70.8 387.7,72.0 388.0,73.4 388.4,74.5 388.7,74.5 389.0,73.1 389.3,71.4 389.6,70.8 389.9,71.0 390.2,71.5 390.5,71.8 390.8,71.7 391.2,71.0 391.5,70.2 391.8,70.9 392.1,72.1 392.4,73.6 392.7,75.5 393.0,77.1 393.3,77.9 393.7,77.0 394.0,75.8 394.3,74.3 394.6,71.3 394.9,68.3 395.2,66.2 395.5,64.8 395.8,64.3 396.1,63.6 396.5,63.0 396.8,62.4 397.1,61.4 397.4,62.0 397.7,61.9 398.0,61.6 398.3,62.8 398.6,64.5 398.9,65.6 399.3,65.5 399.6,65.0 399.9,64.7 400.2,65.2 400.5,66.1 400.8,67.2 401.1,68.1 401.4,69.1 401.8,69.3 402.1,68.5 402.4,67.9 402.7,66.1 403.0,63.4 403.3,63.6 403.6,64.6 403.9,65.2 404.2,65.7 404.6,65.3 404.9,64.6 405.2,64.8 405.5,65.1 405.8,65.9 406.1,66.9 406.4,68.6 406.7,70.8 407.0,72.2 407.4,71.3 407.7,69.8 408.0,68.9 408.3,68.7 408.6,68.9 408.9,69.3 409.2,69.6 409.5,69.2 409.9,68.8 410.2,68.9 410.5,69.2 410.8,68.8 411.1,68.3 411.4,68.7 411.7,70.0 412.0,71.0 412.3,71.7 412.7,71.6 413.0,71.1 413.3,70.0 413.6,67.4 413.9,66.5 414.2,68.5 414.5,70.3 414.8,71.1 415.1,71.3 415.5,70.8 415.8,70.3 416.1,70.6 416.4,71.2 416.7,71.3 417.0,71.1 417.3,70.5 417.6,69.7 417.9,69.5 418.3,69.3 418.6,70.3 418.9,72.5 419.2,74.5 419.5,75.9 419.8,76.1 420.1,75.1 420.4,72.7 420.8,70.0 421.1,68.0 421.4,67.3 421.7,68.5 422.0,70.3 422.3,71.0 422.6,70.9 422.9,70.8 423.2,71.1 423.6,71.2 423.9,72.1 424.2,73.8 424.5,75.2 424.8,75.8 425.1,75.6 425.4,73.9 425.7,72.0 426.0,71.2 426.4,71.4 426.7,72.2 427.0,73.2 427.3,72.7 427.6,71.7 427.9,70.8 428.2,69.5 428.5,69.2 428.9,69.8 429.2,70.3 429.5,70.8 429.8,70.6 430.1,69.9 430.4,69.9 430.7,69.6 431.0,70.3 431.3,71.4 431.7,72.1 432.0,72.1 432.3,70.8 432.6,68.8 432.9,67.6 433.2,67.9 433.5,68.0 433.8,68.4 434.1,68.6 434.5,69.0 434.8,69.6 435.1,69.5 435.4,69.1 435.7,69.0 436.0,68.8 436.3,68.5 436.6,67.8 437.0,67.4 437.3,68.2 437.6,68.3 437.9,67.3 438.2,65.9 438.5,65.0 438.8,64.7 439.1,65.5 439.4,66.5 439.8,67.8 440.1,68.6 440.4,69.2 440.7,69.9 441.0,71.0 441.3,71.8 441.6,72.2 441.9,72.4 442.2,71.8 442.6,70.4 442.9,69.4 443.2,68.5 443.5,66.8 443.8,66.5 444.1,68.9 444.4,70.9 444.7,71.7 445.1,71.7 445.4,71.7 445.7,72.3 446.0,73.0 446.3,73.8 446.6,74.6 446.9,75.2 447.2,75.3 447.5,75.5 447.9,75.3 448.2,74.7 448.5,74.1 448.8,72.9 449.1,71.4 449.4,70.0 449.7,68.3 450.0,66.5 450.3,65.7 450.7,66.6 451.0,68.1 451.3,69.1 451.6,70.0 451.9,71.1 452.2,71.7 452.5,71.4 452.8,70.6 453.1,69.4 453.5,68.5 453.8,69.4 454.1,70.6 454.4,70.9 454.7,70.5 455.0,70.3 455.3,71.3 455.6,72.3 456.0,72.7 456.3,72.0 456.6,70.2 456.9,68.7 457.2,68.8 457.5,69.6 457.8,71.0 458.1,72.4 458.4,72.7 458.8,73.2 459.1,73.3 459.4,72.7 459.7,72.5 460.0,72.8 460.3,72.9 460.6,73.7 460.9,74.6 461.2,75.1 461.6,75.3 461.9,76.0 462.2,76.9 462.5,77.2 462.8,77.7 463.1,78.4 463.4,78.3 463.7,77.9 464.1,77.3 464.4,75.8 464.7,72.9 465.0,70.0 465.3,69.2 465.6,70.4 465.9,71.8 466.2,73.3 466.5,74.2 466.9,74.1 467.2,73.8 467.5,73.0 467.8,72.5 468.1,72.3 468.4,71.9 468.7,71.9 469.0,72.5 469.3,73.1 469.7,72.6 470.0,71.4 470.3,69.2 470.6,69.3 470.9,70.6 471.2,71.0 471.5,70.8 471.8,71.0 472.2,71.7 472.5,71.4 472.8,71.1 473.1,70.6 473.4,69.8 473.7,70.4 474.0,72.3 474.3,73.6 474.6,74.1 475.0,74.5 475.3,72.5 475.6,70.3 475.9,68.6 476.2,66.7 476.5,67.5 476.8,67.7 477.1,67.2 477.4,65.8 477.8,63.9 478.1,61.9 478.4,61.7 478.7,63.0 479.0,64.4 479.3,65.1 479.6,65.4 479.9,64.5 480.2,62.4 480.6,60.5 480.9,60.7 481.2,62.6 481.5,65.7 481.8,69.0 482.1,71.4 482.4,73.0 482.7,73.7 483.1,73.2 483.4,72.2 483.7,71.2 484.0,70.9 484.3,71.3 484.6,72.2 484.9,72.7 485.2,72.3 485.5,71.0 485.9,70.1 486.2,71.0 486.5,71.8 486.8,72.3 487.1,73.3 487.4,74.8 487.7,76.1 488.0,76.8 488.3,75.4 488.7,71.9 489.0,69.7 489.3,70.9 489.6,72.4 489.9,72.7 490.2,73.6 490.5,74.5 490.8,74.5 491.2,74.4 491.5,74.3 491.8,74.1 492.1,73.9 492.4,73.4 492.7,72.0 493.0,70.4 493.3,70.6 493.6,71.5 494.0,72.1 494.3,72.4 494.6,71.8 494.9,70.5 495.2,69.1 495.5,67.9 495.8,67.2 496.1,66.9 496.4,66.8 496.8,66.5 497.1,65.7 497.4,65.1 497.7,65.1 498.0,66.2 498.3,67.3 498.6,67.5 498.9,67.2 499.3,66.5 499.6,66.0 499.9,65.9 500.2,66.0 500.5,66.7 500.8,67.9 501.1,69.4 501.4,70.2 501.7,69.6 502.1,68.4 502.4,66.7 502.7,65.5 503.0,65.8 503.3,67.0 503.6,68.4 503.9,68.7 504.2,68.5 504.5,68.1 504.9,67.7 505.2,67.2 505.5,67.0 505.8,67.2 506.1,67.8 506.4,69.1 506.7,71.0 507.0,71.9 507.4,72.1 507.7,72.6 508.0,73.2 508.3,73.5 508.6,72.8 508.9,71.9 509.2,71.8 509.5,72.3 509.8,72.2 510.2,71.5 510.5,70.3 510.8,69.1 511.1,69.9 511.4,72.2 511.7,74.3 512.0,75.7 512.3,77.2 512.6,78.7 513.0,79.8 513.3,79.4 513.6,78.7 513.9,77.7 514.2,76.3 514.5,75.0 514.8,74.9 515.1,74.9 515.4,74.6 515.8,76.6 516.1,78.4 516.4,79.2 516.7,79.1 517.0,78.8 517.3,78.9 517.6,78.5 517.9,78.3 518.3,78.4 518.6,78.0 518.9,77.5 519.2,76.7 519.5,76.1 519.8,74.5 520.1,72.5 520.4,72.4 520.7,74.5 521.1,76.6 521.4,78.5 521.7,80.0 522.0,80.2 522.3,79.9 522.6,79.7 522.9,79.2 523.2,78.9 523.5,78.4 523.9,77.7 524.2,77.4 524.5,77.2 524.8,77.3 525.1,77.7 525.4,78.2 525.7,78.3 526.0,78.0 526.4,78.0 526.7,78.4 527.0,78.0 527.3,75.9 527.6,74.8 527.9,76.1 528.2,76.9 528.5,76.9 528.8,76.6 529.2,76.1 529.5,76.1 529.8,74.7 530.1,72.2 530.4,72.6 530.7,73.7 531.0,73.2 531.3,71.9 531.6,70.8 532.0,70.6 532.3,70.5 532.6,69.9 532.9,68.3 533.2,66.7 533.5,66.5 533.8,67.7 534.1,68.8 534.5,69.5 534.8,70.3 535.1,70.6 535.4,68.7 535.7,66.5 536.0,65.7 536.3,66.7 536.6,69.1 536.9,71.6 537.3,72.9 537.6,73.6 537.9,73.9 538.2,73.6 538.5,73.1" stroke="#efa63c"/><polyline points="351.6,142.5 351.9,137.6 352.2,132.7 352.5,127.8 352.8,122.9 353.2,118.0 353.5,113.1 353.8,108.2 354.1,103.3 354.4,98.3 354.7,93.0 355.0,87.8 355.3,82.5 355.6,77.2 356.0,71.9 356.3,66.7 356.6,62.0 356.9,57.3 357.2,52.5 357.5,48.8 357.8,51.9 358.1,55.0 358.5,58.1 358.8,60.1 359.1,62.1 359.4,64.1 359.7,66.1 360.0,68.1 360.3,66.9 360.6,65.7 360.9,64.5 361.3,63.4 361.6,62.2 361.9,61.0 362.2,59.8 362.5,62.5 362.8,65.3 363.1,68.0 363.4,70.7 363.7,73.5 364.1,76.2 364.4,75.0 364.7,73.8 365.0,72.6 365.3,71.4 365.6,70.9 365.9,70.2 366.2,70.3 366.6,69.6 366.9,67.0 367.2,65.6 367.5,66.8 367.8,67.4 368.1,67.9 368.4,69.2 368.7,70.6 369.0,71.4 369.4,70.9 369.7,69.5 370.0,68.5 370.3,68.5 370.6,70.0 370.9,71.1 371.2,72.3 371.5,72.5 371.8,71.1 372.2,69.5 372.5,68.6 372.8,68.0 373.1,68.0 373.4,69.2 373.7,70.2 374.0,70.0 374.3,68.8 374.7,67.7 375.0,67.6 375.3,68.1 375.6,69.0 375.9,69.7 376.2,69.3 376.5,68.1 376.8,68.2 377.1,71.0 377.5,74.6 377.8,76.5 378.1,76.7 378.4,76.2 378.7,74.8 379.0,72.6 379.3,70.6 379.6,69.4 379.9,68.9 380.3,68.9 380.6,70.2 380.9,71.3 381.2,72.0 381.5,72.5 381.8,72.4 382.1,70.9 382.4,69.0 382.8,67.7 383.1,67.8 383.4,68.4 383.7,69.3 384.0,70.9 384.3,72.6 384.6,73.5 384.9,74.5 385.2,75.4 385.6,74.9 385.9,73.9 386.2,72.3 386.5,70.4 386.8,69.3 387.1,68.8 387.4,69.0 387.7,70.0 388.0,71.4 388.4,72.1 388.7,71.8 389.0,71.2 389.3,70.8 389.6,71.1 389.9,71.3 390.2,71.6 390.5,71.6 390.8,70.9 391.2,70.6 391.5,70.4 391.8,70.6 392.1,71.8 392.4,73.3 392.7,74.5 393.0,75.7 393.3,76.4 393.7,76.8 394.0,76.0 394.3,73.9 394.6,71.2 394.9,68.1 395.2,66.2 395.5,64.7 395.8,63.7 396.1,62.8 396.5,62.1 396.8,61.8 397.1,60.2 397.4,59.9 397.7,59.9 398.0,60.8 398.3,62.6 398.6,65.1 398.9,67.3 399.3,67.6 399.6,66.2 399.9,65.0 400.2,64.8 400.5,65.6 400.8,66.8 401.1,68.4 401.4,69.7 401.8,69.3 402.1,68.4 402.4,66.7 402.7,64.8 403.0,63.0 403.3,63.0 403.6,63.4 403.9,63.9 404.2,63.9 404.6,63.8 404.9,62.8 405.2,61.9 405.5,62.5 405.8,63.8 406.1,65.1 406.4,66.7 406.7,68.2 407.0,69.3 407.4,69.8 407.7,68.9 408.0,67.5 408.3,67.7 408.6,68.8 408.9,69.5 409.2,69.4 409.5,68.8 409.9,68.4 410.2,68.2 410.5,67.6 410.8,66.7 411.1,66.5 411.4,67.3 411.7,68.6 412.0,70.1 412.3,71.6 412.7,72.3 413.0,71.5 413.3,69.7 413.6,67.2 413.9,65.9 414.2,67.2 414.5,69.1 414.8,69.9 415.1,69.3 415.5,69.4 415.8,70.1 416.1,70.5 416.4,70.0 416.7,69.3 417.0,69.7 417.3,70.1 417.6,69.4 417.9,69.3 418.3,70.3 418.6,72.0 418.9,74.1 419.2,75.6 419.5,76.3 419.8,76.3 420.1,74.9 420.4,72.7 420.8,70.2 421.1,68.1 421.4,67.8 421.7,69.3 422.0,71.0 422.3,71.8 422.6,71.1 422.9,70.1 423.2,69.9 423.6,70.4 423.9,71.3 424.2,72.5 424.5,73.1 424.8,73.1 425.1,72.9 425.4,72.5 425.7,71.1 426.0,70.0 426.4,70.7 426.7,71.7 427.0,72.5 427.3,72.8 427.6,72.0 427.9,70.8 428.2,70.2 428.5,69.9 428.9,69.2 429.2,68.6 429.5,67.9 429.8,67.4 430.1,67.6 430.4,68.0 430.7,68.7 431.0,69.8 431.3,70.7 431.7,71.1 432.0,70.7 432.3,69.8 432.6,68.5 432.9,67.1 433.2,66.3 433.5,66.6 433.8,67.2 434.1,67.4 434.5,68.3 434.8,69.0 435.1,69.5 435.4,69.4 435.7,68.9 436.0,68.5 436.3,68.0 436.6,67.7 437.0,67.3 437.3,67.0 437.6,67.0 437.9,66.3 438.2,64.6 438.5,63.7 438.8,63.6 439.1,64.9 439.4,67.2 439.8,68.8 440.1,69.4 440.4,68.8 440.7,68.9 441.0,70.5 441.3,72.4 441.6,73.2 441.9,72.4 442.2,70.3 442.6,68.2 442.9,67.2 443.2,66.7 443.5,65.0 443.8,64.6 444.1,67.3 444.4,69.1 444.7,69.8 445.1,70.7 445.4,70.9 445.7,71.1 446.0,71.5 446.3,72.4 446.6,73.4 446.9,73.7 447.2,73.8 447.5,74.0 447.9,73.7 448.2,73.3 448.5,73.0 448.8,72.0 449.1,70.3 449.4,68.6 449.7,66.9 450.0,65.4 450.3,65.2 450.7,65.8 451.0,66.6 451.3,67.9 451.6,69.3 451.9,70.1 452.2,69.9 452.5,69.7 452.8,69.7 453.1,68.6 453.5,67.6 453.8,67.6 454.1,68.3 454.4,69.1 454.7,69.3 455.0,70.3 455.3,72.2 455.6,73.5 456.0,73.6 456.3,72.6 456.6,70.9 456.9,70.0 457.2,70.5 457.5,72.2 457.8,73.4 458.1,73.9 458.4,74.1 458.8,74.3 459.1,73.3 459.4,71.4 459.7,70.5 460.0,70.9 460.3,71.7 460.6,72.8 460.9,72.9 461.2,73.7 461.6,74.7 461.9,75.6 462.2,76.4 462.5,76.1 462.8,76.1 463.1,77.1 463.4,77.7 463.7,77.0 464.1,75.8 464.4,74.3 464.7,71.7 465.0,69.1 465.3,68.9 465.6,70.6 465.9,72.4 466.2,73.5 466.5,73.8 466.9,74.0 467.2,73.6 467.5,72.5 467.8,71.8 468.1,70.9 468.4,70.2 468.7,69.8 469.0,69.9 469.3,71.2 469.7,71.9 470.0,70.6 470.3,68.6 470.6,68.7 470.9,69.8 471.2,69.9 471.5,69.4 471.8,69.5 472.2,69.6 472.5,69.6 472.8,69.8 473.1,69.6 473.4,69.2 473.7,69.9 474.0,72.2 474.3,74.4 474.6,75.0 475.0,74.5 475.3,72.7 475.6,70.8 475.9,68.2 476.2,65.5 476.5,65.9 476.8,66.0 477.1,65.6 477.4,64.4 477.8,62.7 478.1,61.9 478.4,62.7 478.7,64.2 479.0,65.1 479.3,65.3 479.6,65.2 479.9,63.3 480.2,60.1 480.6,57.9 480.9,57.9 481.2,59.3 481.5,62.3 481.8,65.5 482.1,68.1 482.4,69.8 482.7,71.5 483.1,71.9 483.4,70.9 483.7,69.7 484.0,69.8 484.3,70.5 484.6,72.0 484.9,72.5 485.2,71.3 485.5,69.5 485.9,68.2 486.2,68.6 486.5,69.8 486.8,70.7 487.1,71.2 487.4,72.4 487.7,74.4 488.0,75.2 488.3,74.6 488.7,71.9 489.0,69.1 489.3,68.8 489.6,70.3 489.9,71.5 490.2,72.5 490.5,73.6 490.8,73.8 491.2,73.9 491.5,73.7 491.8,73.5 492.1,73.5 492.4,72.6 492.7,70.5 493.0,69.3 493.3,69.6 493.6,71.1 494.0,72.4 494.3,72.5 494.6,72.3 494.9,71.9 495.2,70.3 495.5,68.7 495.8,67.5 496.1,67.1 496.4,66.4 496.8,66.3 497.1,65.5 497.4,64.5 497.7,64.4 498.0,66.2 498.3,67.8 498.6,67.7 498.9,66.7 499.3,65.5 499.6,64.5 499.9,64.1 500.2,64.5 500.5,65.1 500.8,66.2 501.1,66.9 501.4,67.9 501.7,68.3 502.1,67.5 502.4,66.1 502.7,64.6 503.0,64.4 503.3,65.8 503.6,67.3 503.9,67.9 504.2,68.1 504.5,68.1 504.9,67.9 505.2,67.2 505.5,66.8 505.8,66.5 506.1,67.3 506.4,68.0 506.7,68.5 507.0,68.7 507.4,68.7 507.7,68.8 508.0,70.1 508.3,71.0 508.6,70.5 508.9,69.5 509.2,69.0 509.5,69.2 509.8,69.4 510.2,69.0 510.5,67.3 510.8,66.8 511.1,68.1 511.4,70.0 511.7,72.3 512.0,73.9 512.3,75.2 512.6,76.6 513.0,77.4 513.3,78.1 513.6,78.4 513.9,77.5 514.2,75.8 514.5,74.2 514.8,73.0 515.1,71.7 515.4,71.4 515.8,73.8 516.1,75.7 516.4,76.5 516.7,77.2 517.0,77.6 517.3,77.5 517.6,77.2 517.9,77.3 518.3,77.6 518.6,77.3 518.9,77.1 519.2,77.0 519.5,76.3 519.8,74.9 520.1,72.8 520.4,72.1 520.7,74.3 521.1,77.0 521.4,77.8 521.7,78.7 522.0,79.5 522.3,79.4 522.6,79.3 522.9,79.0 523.2,78.8 523.5,78.6 523.9,77.8 524.2,77.0 524.5,76.9 524.8,77.8 525.1,77.4 525.4,76.2 525.7,75.6 526.0,74.6 526.4,74.2 526.7,74.4 527.0,74.5 527.3,73.5 527.6,72.5 527.9,73.2 528.2,74.3 528.5,74.4 528.8,74.5 529.2,75.2 529.5,75.0 529.8,73.5 530.1,72.0 530.4,73.3 530.7,74.7 531.0,74.5 531.3,73.4 531.6,72.2 532.0,71.1 532.3,71.0 532.6,70.9 532.9,68.9 533.2,67.4 533.5,67.5 533.8,68.1 534.1,68.9 534.5,69.4 534.8,69.5 535.1,68.6 535.4,67.2 535.7,65.7 536.0,64.6 536.3,65.6 536.6,68.3 536.9,70.8 537.3,72.0 537.6,72.6 537.9,72.6 538.2,72.3 538.5,71.5" stroke="#3cd4d4"/><polyline points="351.6,142.5 351.9,137.3 352.2,132.2 352.5,127.0 352.8,121.9 353.2,116.8 353.5,111.6 353.8,106.5 354.1,101.3 354.4,96.1 354.7,90.7 355.0,85.3 355.3,79.9 355.6,74.5 356.0,69.1 356.3,63.7 356.6,57.9 356.9,52.1 357.2,46.7 357.5,48.2 357.8,49.7 358.1,51.1 358.5,52.6 358.8,56.4 359.1,60.2 359.4,64.0 359.7,67.8 360.0,71.5 360.3,70.0 360.6,68.5 360.9,67.0 361.3,65.5 361.6,64.0 361.9,62.5 362.2,60.9 362.5,63.3 362.8,65.7 363.1,68.1 363.4,70.4 363.7,72.8 364.1,75.2 364.4,74.4 364.7,73.6 365.0,72.8 365.3,72.0 365.6,71.0 365.9,69.9 366.2,68.8 366.6,67.5 366.9,65.1 367.2,63.3 367.5,65.2 367.8,66.7 368.1,68.0 368.4,69.1 368.7,69.3 369.0,69.6 369.4,69.3 369.7,68.0 370.0,66.9 370.3,67.7 370.6,69.9 370.9,71.6 371.2,72.1 371.5,71.9 371.8,71.1 372.2,69.4 372.5,68.1 372.8,67.6 373.1,67.7 373.4,68.6 373.7,69.7 374.0,70.6 374.3,70.6 374.7,69.3 375.0,68.6 375.3,68.9 375.6,69.3 375.9,68.8 376.2,68.1 376.5,68.1 376.8,68.6 377.1,69.9 377.5,71.4 377.8,73.1 378.1,74.5 378.4,74.3 378.7,72.6 379.0,70.6 379.3,68.8 379.6,67.7 379.9,67.7 380.3,68.9 380.6,69.8 380.9,70.0 381.2,70.1 381.5,70.5 381.8,70.3 382.1,70.0 382.4,68.9 382.8,67.8 383.1,67.5 383.4,67.8 383.7,69.4 384.0,71.0 384.3,71.9 384.6,72.9 384.9,74.0 385.2,74.0 385.6,73.4 385.9,72.2 386.2,70.1 386.5,68.6 386.8,68.5 387.1,68.6 387.4,69.2 387.7,70.4 388.0,71.2 388.4,71.3 388.7,71.1 389.0,70.6 389.3,69.5 389.6,68.7 389.9,69.1 390.2,69.2 390.5,69.4 390.8,69.3 391.2,69.1 391.5,68.5 391.8,68.9 392.1,69.9 392.4,70.8 392.7,72.5 393.0,74.6 393.3,76.0 393.7,75.9 394.0,74.5 394.3,72.0 394.6,69.0 394.9,66.2 395.2,64.5 395.5,63.0 395.8,62.2 396.1,61.6 396.5,61.3 396.8,60.1 397.1,58.1 397.4,58.1 397.7,59.0 398.0,60.4 398.3,62.5 398.6,64.5 398.9,65.6 399.3,65.5 399.6,64.9 399.9,64.4 400.2,64.4 400.5,65.3 400.8,66.3 401.1,66.5 401.4,66.4 401.8,65.5 402.1,64.0 402.4,62.8 402.7,61.6 403.0,59.7 403.3,59.3 403.6,60.1 403.9,61.4 404.2,62.2 404.6,62.0 404.9,61.1 405.2,60.6 405.5,60.4 405.8,60.9 406.1,62.6 406.4,64.7 406.7,66.2 407.0,67.6 407.4,67.8 407.7,67.2 408.0,66.2 408.3,65.8 408.6,66.2 408.9,67.1 409.2,67.3 409.5,67.3 409.9,66.4 410.2,65.9 410.5,66.1 410.8,66.0 411.1,66.1 411.4,67.6 411.7,68.9 412.0,69.9 412.3,70.1 412.7,69.7 413.0,69.4 413.3,68.3 413.6,65.3 413.9,63.1 414.2,64.8 414.5,67.0 414.8,67.2 415.1,66.6 415.5,66.5 415.8,67.3 416.1,68.0 416.4,68.8 416.7,69.7 417.0,69.9 417.3,68.8 417.6,67.9 417.9,67.3 418.3,67.6 418.6,69.9 418.9,73.2 419.2,75.4 419.5,75.9 419.8,75.9 420.1,74.8 420.4,72.3 420.8,69.4 421.1,66.9 421.4,66.0 421.7,67.6 422.0,69.9 422.3,70.8 422.6,70.8 422.9,70.3 423.2,70.2 423.6,70.9 423.9,71.9 424.2,72.9 424.5,74.1 424.8,74.5 425.1,73.8 425.4,71.8 425.7,69.8 426.0,69.4 426.4,70.2 426.7,71.3 427.0,72.4 427.3,72.4 427.6,70.9 427.9,68.9 428.2,67.6 428.5,66.5 428.9,66.0 429.2,65.8 429.5,66.2 429.8,66.5 430.1,66.8 430.4,67.4 430.7,68.0 431.0,69.3 431.3,70.6 431.7,71.0 432.0,70.0 432.3,68.3 432.6,66.9 432.9,66.1 433.2,65.9 433.5,65.8 433.8,65.9 434.1,65.8 434.5,65.9 434.8,65.9 435.1,66.1 435.4,66.4 435.7,65.9 436.0,65.4 436.3,65.3 436.6,65.2 437.0,65.8 437.3,66.4 437.6,66.4 437.9,65.9 438.2,64.5 438.5,63.3 438.8,63.4 439.1,64.8 439.4,65.6 439.8,66.1 440.1,66.3 440.4,66.5 440.7,67.2 441.0,68.3 441.3,69.2 441.6,69.6 441.9,69.1 442.2,67.9 442.6,66.5 442.9,65.9 443.2,65.3 443.5,63.8 443.8,64.1 444.1,67.2 444.4,68.6 444.7,69.4 445.1,69.5 445.4,69.5 445.7,70.2 446.0,71.3 446.3,71.5 446.6,72.1 446.9,72.9 447.2,73.7 447.5,74.1 447.9,73.3 448.2,72.1 448.5,70.6 448.8,69.5 449.1,68.1 449.4,66.4 449.7,64.7 450.0,63.6 450.3,63.4 450.7,64.2 451.0,65.5 451.3,67.2 451.6,68.7 451.9,70.1 452.2,71.2 452.5,70.9 452.8,69.5 453.1,68.5 453.5,67.6 453.8,67.3 454.1,68.6 454.4,69.2 454.7,68.9 455.0,69.0 455.3,70.2 455.6,71.1 456.0,71.0 456.3,70.5 456.6,69.3 456.9,68.7 457.2,68.8 457.5,69.4 457.8,71.1 458.1,72.0 458.4,72.3 458.8,71.8 459.1,70.3 459.4,69.3 459.7,69.2 460.0,69.1 460.3,70.0 460.6,71.6 460.9,72.9 461.2,73.6 461.6,73.8 461.9,74.2 462.2,74.2 462.5,73.8 462.8,74.8 463.1,76.2 463.4,76.6 463.7,76.7 464.1,76.3 464.4,74.5 464.7,71.0 465.0,67.9 465.3,67.5 465.6,69.7 465.9,72.4 466.2,73.6 466.5,74.5 466.9,74.5 467.2,73.6 467.5,72.7 467.8,71.7 468.1,70.2 468.4,69.7 468.7,69.6 469.0,69.7 469.3,69.9 469.7,70.2 470.0,69.3 470.3,67.2 470.6,66.8 470.9,68.2 471.2,68.7 471.5,68.9 471.8,68.6 472.2,68.0 472.5,68.1 472.8,68.4 473.1,67.5 473.4,67.1 473.7,68.3 474.0,70.2 474.3,71.7 474.6,71.6 475.0,71.5 475.3,69.3 475.6,67.7 475.9,66.1 476.2,64.4 476.5,64.9 476.8,64.7 477.1,64.2 477.4,62.9 477.8,61.4 478.1,59.8 478.4,59.9 478.7,61.4 479.0,62.9 479.3,63.8 479.6,63.3 479.9,61.9 480.2,59.6 480.6,57.5 480.9,58.0 481.2,60.9 481.5,64.2 481.8,67.4 482.1,69.5 482.4,70.3 482.7,70.4 483.1,70.5 483.4,69.6 483.7,68.6 484.0,68.5 484.3,68.5 484.6,69.1 484.9,69.8 485.2,69.6 485.5,68.8 485.9,68.1 486.2,68.8 486.5,69.9 486.8,71.1 487.1,72.4 487.4,73.4 487.7,74.4 488.0,75.2 488.3,74.2 488.7,71.2 489.0,68.4 489.3,68.5 489.6,69.5 489.9,70.4 490.2,71.0 490.5,71.7 490.8,71.9 491.2,72.1 491.5,72.5 491.8,72.3 492.1,72.1 492.4,71.0 492.7,69.1 493.0,67.2 493.3,67.2 493.6,68.0 494.0,68.6 494.3,69.4 494.6,69.8 494.9,69.1 495.2,67.9 495.5,66.6 495.8,65.5 496.1,65.5 496.4,65.4 496.8,65.3 497.1,64.9 497.4,64.5 497.7,64.9 498.0,66.4 498.3,68.0 498.6,67.6 498.9,66.2 499.3,65.3 499.6,64.8 499.9,64.2 500.2,63.8 500.5,64.7 500.8,66.3 501.1,67.1 501.4,67.0 501.7,66.7 502.1,66.1 502.4,65.0 502.7,63.5 503.0,63.4 503.3,64.9 503.6,66.2 503.9,66.8 504.2,67.1 504.5,67.5 504.9,67.1 505.2,66.1 505.5,66.0 505.8,66.9 506.1,67.7 506.4,68.1 506.7,68.7 507.0,69.1 507.4,68.3 507.7,68.4 508.0,70.3 508.3,70.7 508.6,70.3 508.9,70.2 509.2,70.3 509.5,69.9 509.8,69.5 510.2,69.2 510.5,68.5 510.8,68.1 511.1,68.9 511.4,70.5 511.7,72.5 512.0,74.2 512.3,75.4 512.6,76.3 513.0,77.4 513.3,78.1 513.6,78.2 513.9,77.6 514.2,76.8 514.5,75.4 514.8,74.2 515.1,72.4 515.4,71.0 515.8,73.3 516.1,76.4 516.4,77.2 516.7,76.8 517.0,76.7 517.3,77.5 517.6,77.7 517.9,77.3 518.3,76.9 518.6,76.7 518.9,76.8 519.2,76.1 519.5,75.0 519.8,73.4 520.1,71.7 520.4,71.9 520.7,73.7 521.1,76.3 521.4,79.0 521.7,80.0 522.0,79.5 522.3,79.0 522.6,78.6 522.9,77.6 523.2,77.1 523.5,76.8 523.9,76.3 524.2,75.7 524.5,75.5 524.8,75.1 525.1,75.2 525.4,75.2 525.7,74.3 526.0,74.1 526.4,74.2 526.7,73.9 527.0,73.4 527.3,71.6 527.6,70.2 527.9,71.1 528.2,72.2 528.5,72.7 528.8,74.0 529.2,75.2 529.5,75.0 529.8,72.8 530.1,70.6 530.4,70.7 530.7,71.4 531.0,70.9 531.3,70.3 531.6,70.4 532.0,70.5 532.3,69.7 532.6,68.3 532.9,66.4 533.2,65.0 533.5,65.2 533.8,66.3 534.1,66.9 534.5,67.3 534.8,67.8 535.1,67.6 535.4,66.2 535.7,64.4 536.0,63.5 536.3,64.1 536.6,66.2 536.9,69.0 537.3,71.2 537.6,72.2 537.9,71.8 538.2,71.1 538.5,70.6" stroke="#a86c6c"/><polyline points="351.6,142.5 351.9,136.2 352.2,129.9 352.5,123.6 352.8,117.3 353.2,111.0 353.5,104.7 353.8,98.4 354.1,93.4 354.4,88.6 354.7,83.9 355.0,79.1 355.3,74.3 355.6,69.6 356.0,65.0 356.3,60.8 356.6,56.7 356.9,52.5 357.2,48.3 357.5,49.3 357.8,51.1 358.1,52.9 358.5,54.7 358.8,57.4 359.1,60.1 359.4,62.8 359.7,65.5 360.0,68.2 360.3,66.8 360.6,65.5 360.9,64.2 361.3,62.9 361.6,61.6 361.9,60.3 362.2,58.9 362.5,61.6 362.8,64.3 363.1,66.9 363.4,69.6 363.7,72.3 364.1,74.9 364.4,73.6 364.7,72.3 365.0,71.0 365.3,69.7 365.6,68.9 365.9,68.1 366.2,68.1 366.6,67.3 366.9,64.9 367.2,63.0 367.5,63.4 367.8,64.6 368.1,65.6 368.4,66.8 368.7,67.7 369.0,68.0 369.4,67.7 369.7,66.3 370.0,64.9 370.3,65.5 370.6,67.4 370.9,69.2 371.2,70.2 371.5,70.2 371.8,69.2 372.2,67.7 372.5,66.3 372.8,65.2 373.1,65.0 373.4,65.6 373.7,66.7 374.0,67.3 374.3,67.1 374.7,67.1 375.0,66.4 375.3,65.3 375.6,66.0 375.9,66.5 376.2,65.7 376.5,65.1 376.8,65.1 377.1,66.6 377.5,69.3 377.8,71.2 378.1,72.0 378.4,72.0 378.7,70.8 379.0,68.6 379.3,66.9 379.6,66.0 379.9,66.7 380.3,67.4 380.6,67.9 380.9,68.8 381.2,69.8 381.5,70.1 381.8,69.6 382.1,68.1 382.4,66.2 382.8,65.1 383.1,65.2 383.4,65.9 383.7,66.9 384.0,67.7 384.3,68.9 384.6,70.3 384.9,71.5 385.2,72.2 385.6,72.1 385.9,70.8 386.2,69.0 386.5,67.1 386.8,65.2 387.1,63.6 387.4,63.7 387.7,65.5 388.0,67.1 388.4,67.8 388.7,67.8 389.0,67.5 389.3,66.5 389.6,65.2 389.9,65.4 390.2,66.5 390.5,67.2 390.8,66.5 391.2,66.3 391.5,66.5 391.8,66.7 392.1,68.2 392.4,69.1 392.7,70.0 393.0,71.4 393.3,73.0 393.7,73.7 394.0,72.3 394.3,69.7 394.6,66.8 394.9,64.1 395.2,62.3 395.5,60.6 395.8,60.0 396.1,59.6 396.5,58.8 396.8,57.2 397.1,55.7 397.4,55.7 397.7,55.6 398.0,56.5 398.3,59.3 398.6,61.8 398.9,62.7 399.3,61.9 399.6,60.4 399.9,59.3 400.2,59.5 400.5,60.1 400.8,61.0 401.1,62.4 401.4,63.8 401.8,64.0 402.1,63.1 402.4,61.3 402.7,59.4 403.0,58.3 403.3,58.9 403.6,59.7 403.9,60.3 404.2,61.1 404.6,61.7 404.9,61.3 405.2,60.7 405.5,60.2 405.8,60.2 406.1,61.3 406.4,63.3 406.7,65.4 407.0,66.3 407.4,65.1 407.7,63.6 408.0,62.1 408.3,61.6 408.6,62.5 408.9,64.1 409.2,65.3 409.5,65.6 409.9,64.6 410.2,63.4 410.5,63.0 410.8,63.2 411.1,63.7 411.4,64.8 411.7,67.0 412.0,68.7 412.3,69.8 412.7,70.2 413.0,69.2 413.3,66.6 413.6,63.2 413.9,61.7 414.2,63.2 414.5,65.2 414.8,65.9 415.1,66.4 415.5,66.7 415.8,66.8 416.1,66.7 416.4,66.6 416.7,66.7 417.0,66.4 417.3,65.5 417.6,65.4 417.9,65.2 418.3,65.1 418.6,67.4 418.9,70.7 419.2,73.2 419.5,74.5 419.8,74.3 420.1,73.1 420.4,70.0 420.8,66.3 421.1,64.0 421.4,63.3 421.7,65.0 422.0,67.2 422.3,68.2 422.6,68.0 422.9,67.4 423.2,67.6 423.6,69.0 423.9,69.9 424.2,70.7 424.5,71.8 424.8,71.9 425.1,70.3 425.4,68.4 425.7,66.7 426.0,66.4 426.4,67.5 426.7,69.2 427.0,70.7 427.3,70.9 427.6,69.5 427.9,67.8 428.2,66.4 428.5,65.3 428.9,65.1 429.2,64.7 429.5,64.8 429.8,64.5 430.1,63.7 430.4,63.3 430.7,64.1 431.0,65.9 431.3,67.2 431.7,67.4 432.0,66.9 432.3,66.0 432.6,64.4 432.9,63.1 433.2,63.1 433.5,64.0 433.8,64.9 434.1,65.0 434.5,64.6 434.8,64.5 435.1,64.6 435.4,64.2 435.7,63.8 436.0,63.6 436.3,63.6 436.6,63.6 437.0,63.3 437.3,63.4 437.6,63.0 437.9,62.3 438.2,61.4 438.5,60.8 438.8,61.0 439.1,62.7 439.4,64.4 439.8,65.5 440.1,65.9 440.4,66.0 440.7,65.9 441.0,66.4 441.3,67.2 441.6,67.7 441.9,68.0 442.2,66.9 442.6,65.8 442.9,64.9 443.2,63.3 443.5,61.1 443.8,60.9 444.1,64.1 444.4,67.8 444.7,69.4 445.1,68.9 445.4,68.5 445.7,69.3 446.0,70.0 446.3,70.3 446.6,70.9 446.9,71.5 447.2,71.6 447.5,71.8 447.9,71.2 448.2,70.6 448.5,69.8 448.8,68.9 449.1,67.6 449.4,66.9 449.7,66.0 450.0,63.9 450.3,62.6 450.7,62.6 451.0,63.8 451.3,65.3 451.6,66.4 451.9,67.4 452.2,67.7 452.5,67.3 452.8,66.1 453.1,64.7 453.5,63.8 453.8,64.4 454.1,65.5 454.4,66.5 454.7,67.4 455.0,67.8 455.3,68.9 455.6,70.3 456.0,70.5 456.3,69.6 456.6,68.1 456.9,66.4 457.2,66.3 457.5,67.4 457.8,69.3 458.1,70.8 458.4,71.5 458.8,71.0 459.1,69.7 459.4,69.2 459.7,68.5 460.0,68.7 460.3,69.4 460.6,70.2 460.9,70.7 461.2,71.3 461.6,71.3 461.9,71.7 462.2,72.7 462.5,73.6 462.8,74.0 463.1,74.2 463.4,74.1 463.7,73.6 464.1,72.9 464.4,71.0 464.7,67.8 465.0,65.0 465.3,64.8 465.6,66.3 465.9,68.1 466.2,70.1 466.5,71.4 466.9,71.0 467.2,70.2 467.5,69.6 467.8,68.9 468.1,68.3 468.4,67.6 468.7,67.5 469.0,67.9 469.3,68.1 469.7,68.8 470.0,68.4 470.3,66.5 470.6,66.1 470.9,67.7 471.2,68.4 471.5,67.8 471.8,67.2 472.2,66.6 472.5,66.0 472.8,66.1 473.1,66.7 473.4,67.1 473.7,68.5 474.0,70.7 474.3,72.1 474.6,72.2 475.0,71.9 475.3,68.9 475.6,65.8 475.9,62.7 476.2,60.1 476.5,61.4 476.8,62.4 477.1,62.1 477.4,60.3 477.8,57.9 478.1,57.0 478.4,57.2 478.7,58.3 479.0,60.1 479.3,61.0 479.6,60.2 479.9,57.6 480.2,54.7 480.6,53.0 480.9,53.7 481.2,57.2 481.5,61.4 481.8,64.3 482.1,66.0 482.4,67.6 482.7,68.9 483.1,69.0 483.4,68.3 483.7,67.1 484.0,66.5 484.3,66.9 484.6,67.8 484.9,68.2 485.2,66.9 485.5,65.2 485.9,64.1 486.2,64.8 486.5,66.7 486.8,68.1 487.1,68.8 487.4,70.4 487.7,72.8 488.0,74.0 488.3,72.4 488.7,68.6 489.0,65.6 489.3,65.7 489.6,66.6 489.9,67.4 490.2,68.2 490.5,69.5 490.8,70.0 491.2,70.4 491.5,70.7 491.8,69.9 492.1,69.0 492.4,67.7 492.7,65.4 493.0,64.2 493.3,65.0 493.6,66.7 494.0,67.5 494.3,67.4 494.6,66.9 494.9,65.9 495.2,64.6 495.5,64.0 495.8,63.7 496.1,63.5 496.4,63.2 496.8,63.0 497.1,62.3 497.4,61.1 497.7,61.2 498.0,62.8 498.3,64.3 498.6,64.0 498.9,62.3 499.3,60.7 499.6,59.3 499.9,59.2 500.2,60.0 500.5,61.0 500.8,62.8 501.1,64.3 501.4,64.9 501.7,64.5 502.1,63.6 502.4,61.4 502.7,59.4 503.0,59.5 503.3,61.4 503.6,64.0 503.9,65.3 504.2,65.1 504.5,63.8 504.9,62.0 505.2,61.0 505.5,60.8 505.8,61.5 506.1,63.2 506.4,65.1 506.7,66.3 507.0,66.5 507.4,66.2 507.7,66.3 508.0,67.6 508.3,68.4 508.6,68.3 508.9,67.6 509.2,67.0 509.5,67.6 509.8,68.3 510.2,67.9 510.5,66.8 510.8,66.4 511.1,67.4 511.4,69.6 511.7,71.4 512.0,72.9 512.3,74.0 512.6,74.6 513.0,75.1 513.3,75.9 513.6,76.2 513.9,75.0 514.2,73.8 514.5,73.3 514.8,72.9 515.1,71.5 515.4,70.0 515.8,72.1 516.1,74.4 516.4,75.1 516.7,75.3 517.0,75.7 517.3,75.7 517.6,74.9 517.9,74.4 518.3,74.4 518.6,74.4 518.9,74.5 519.2,74.6 519.5,73.8 519.8,72.2 520.1,70.4 520.4,69.9 520.7,71.4 521.1,73.5 521.4,74.7 521.7,75.4 522.0,76.4 522.3,76.1 522.6,75.3 522.9,75.3 523.2,75.3 523.5,74.7 523.9,74.1 524.2,73.1 524.5,72.5 524.8,73.2 525.1,73.6 525.4,72.8 525.7,72.1 526.0,71.9 526.4,72.4 526.7,73.3 527.0,73.5 527.3,71.7 527.6,70.5 527.9,71.1 528.2,71.7 528.5,71.8 528.8,72.2 529.2,72.8 529.5,71.8 529.8,69.2 530.1,67.1 530.4,68.1 530.7,69.1 531.0,68.4 531.3,67.0 531.6,66.4 532.0,66.1 532.3,65.6 532.6,65.1 532.9,63.4 533.2,61.5 533.5,61.0 533.8,62.2 534.1,63.3 534.5,64.6 534.8,65.8 535.1,65.9 535.4,64.8 535.7,63.1 536.0,62.3 536.3,63.4 536.6,65.5 536.9,67.8 537.3,70.2 537.6,71.2 537.9,71.0 538.2,70.5 538.5,69.9" stroke="#8e8e22"/></g>
<path d="M351.60,8.30V143.00H538.50" fill="none" stroke="#626262" stroke-width="1"/><path d="M351.60,143.00h5.2M351.60,134.58h2.6M351.60,126.16h5.2M351.60,117.74h2.6M351.60,109.33h5.2M351.60,100.91h2.6M351.60,92.49h5.2M351.60,84.07h2.6M351.60,75.65h5.2M351.60,67.23h2.6M351.60,58.81h5.2M351.60,50.39h2.6M351.60,41.98h5.2M351.60,33.56h2.6M351.60,25.14h5.2M351.60,16.72h2.6M351.60,8.30h5.2M351.60,143.00v-5.2M367.18,143.00v-2.6M382.75,143.00v-5.2M398.33,143.00v-2.6M413.90,143.00v-5.2M429.48,143.00v-2.6M445.05,143.00v-5.2M460.62,143.00v-2.6M476.20,143.00v-5.2M491.77,143.00v-2.6M507.35,143.00v-5.2M522.92,143.00v-2.6M538.50,143.00v-5.2" fill="none" stroke="#626262" stroke-width="0.9"/><g class="tk"><text x="346.20" y="145.70" text-anchor="end">0</text><text x="346.20" y="128.86" text-anchor="end">100</text><text x="346.20" y="112.03" text-anchor="end">200</text><text x="346.20" y="95.19" text-anchor="end">300</text><text x="346.20" y="78.35" text-anchor="end">400</text><text x="346.20" y="61.51" text-anchor="end">500</text><text x="346.20" y="44.68" text-anchor="end">600</text><text x="346.20" y="27.84" text-anchor="end">700</text><text x="346.20" y="11.00" text-anchor="end">800</text><text x="351.60" y="155.50" text-anchor="middle">0</text><text x="382.75" y="155.50" text-anchor="middle">100</text><text x="413.90" y="155.50" text-anchor="middle">200</text><text x="445.05" y="155.50" text-anchor="middle">300</text><text x="476.20" y="155.50" text-anchor="middle">400</text><text x="507.35" y="155.50" text-anchor="middle">500</text><text x="538.50" y="155.50" text-anchor="middle">600</text></g><text class="ti" x="445.25" y="168.50" text-anchor="middle">t/(s)</text><text class="ti" transform="translate(327.30,74.80) rotate(-90)" text-anchor="middle">T/(°C)</text><text class="pl" x="428.80" y="193.20" text-anchor="middle">(<tspan font-weight="bold">b</tspan>)</text><g><path d="M475.00,91.80h16.2" stroke="#a8a8a8" stroke-width="1.3"/><text class="lg" x="493.00" y="94.50">T1</text><path d="M475.00,100.95h16.2" stroke="#ff9a9a" stroke-width="1.3"/><text class="lg" x="493.00" y="103.65">T2</text><path d="M475.00,110.10h16.2" stroke="#8ab4f8" stroke-width="1.3"/><text class="lg" x="493.00" y="112.80">T3</text><path d="M475.00,119.25h16.2" stroke="#86d8b4" stroke-width="1.3"/><text class="lg" x="493.00" y="121.95">T4</text><path d="M475.00,128.40h16.2" stroke="#e2b0f4" stroke-width="1.3"/><text class="lg" x="493.00" y="131.10">T5</text><path d="M503.60,91.80h16.2" stroke="#f4cf8a" stroke-width="1.3"/><text class="lg" x="521.60" y="94.50">T6</text><path d="M503.60,100.95h16.2" stroke="#8ae8e8" stroke-width="1.3"/><text class="lg" x="521.60" y="103.65">T7</text><path d="M503.60,110.10h16.2" stroke="#caa8a8" stroke-width="1.3"/><text class="lg" x="521.60" y="112.80">T8</text><path d="M503.60,119.25h16.2" stroke="#bcbc70" stroke-width="1.3"/><text class="lg" x="521.60" y="121.95">T9</text></g>
<g fill="none" stroke-width="0.85" stroke-linejoin="round" filter="url(#soft)"><polyline points="35.5,338.0 35.8,332.2 36.1,326.4 36.4,320.6 36.7,314.8 37.0,309.0 37.3,303.2 37.6,297.4 37.9,291.6 38.2,285.8 38.5,280.0 38.9,274.2 39.2,268.4 39.5,262.6 39.8,256.8 40.1,251.0 40.4,245.2 40.7,239.5 41.0,233.7 41.3,227.9 41.6,222.1 41.9,223.7 42.2,232.6 42.5,241.4 42.8,250.3 43.1,259.2 43.4,257.5 43.7,255.8 44.0,254.1 44.3,252.4 44.6,252.3 45.0,252.2 45.3,252.1 45.6,252.0 45.9,251.9 46.2,251.8 46.5,251.7 46.8,252.9 47.1,254.2 47.4,255.4 47.7,256.6 48.0,257.8 48.3,259.1 48.6,260.3 48.9,261.5 49.2,262.7 49.5,263.9 49.8,265.0 50.1,266.1 50.4,267.2 50.8,268.3 51.1,269.5 51.4,270.6 51.7,271.2 52.0,271.9 52.3,272.5 52.6,273.2 52.9,273.8 53.2,274.5 53.5,273.8 53.8,273.1 54.1,272.8 54.4,272.5 54.7,271.8 55.0,270.8 55.3,270.4 55.6,271.1 55.9,272.1 56.2,273.7 56.5,274.8 56.8,274.0 57.2,273.2 57.5,272.3 57.8,271.0 58.1,269.2 58.4,268.5 58.7,268.1 59.0,268.4 59.3,268.3 59.6,267.0 59.9,264.5 60.2,262.2 60.5,263.0 60.8,264.6 61.1,265.6 61.4,266.9 61.7,268.5 62.0,270.6 62.3,271.5 62.6,270.2 63.0,268.8 63.3,269.2 63.6,269.5 63.9,269.6 64.2,269.9 64.5,270.5 64.8,271.3 65.1,272.1 65.4,273.3 65.7,273.9 66.0,272.4 66.3,270.3 66.6,268.5 66.9,267.9 67.2,268.9 67.5,270.8 67.8,271.5 68.1,270.8 68.4,268.2 68.7,266.4 69.0,265.0 69.4,264.7 69.7,265.1 70.0,266.0 70.3,267.2 70.6,269.6 70.9,272.6 71.2,273.3 71.5,272.9 71.8,272.6 72.1,273.1 72.4,273.9 72.7,273.9 73.0,274.5 73.3,274.4 73.6,274.1 73.9,274.0 74.2,272.9 74.5,270.2 74.8,267.3 75.2,266.3 75.5,266.1 75.8,265.4 76.1,265.1 76.4,267.0 76.7,270.6 77.0,271.8 77.3,272.4 77.6,273.3 77.9,272.5 78.2,270.6 78.5,271.5 78.8,273.2 79.1,272.9 79.4,270.7 79.7,268.8 80.0,268.8 80.3,269.3 80.6,269.2 80.9,269.8 81.2,268.6 81.6,267.1 81.9,266.7 82.2,267.8 82.5,269.4 82.8,270.9 83.1,271.5 83.4,270.5 83.7,269.2 84.0,269.1 84.3,267.7 84.6,264.6 84.9,260.3 85.2,256.7 85.5,255.2 85.8,257.2 86.1,261.5 86.4,265.3 86.7,268.0 87.0,268.8 87.3,267.8 87.7,267.3 88.0,267.8 88.3,267.4 88.6,267.6 88.9,268.5 89.2,268.5 89.5,269.1 89.8,270.3 90.1,270.8 90.4,271.0 90.7,271.1 91.0,269.3 91.3,266.1 91.6,263.7 91.9,262.7 92.2,262.9 92.5,263.3 92.8,264.8 93.1,268.4 93.4,271.5 93.8,272.8 94.1,273.4 94.4,274.5 94.7,275.0 95.0,274.3 95.3,275.2 95.6,275.6 95.9,273.5 96.2,268.0 96.5,263.0 96.8,258.1 97.1,256.1 97.4,256.7 97.7,258.3 98.0,260.2 98.3,262.9 98.6,264.8 98.9,266.2 99.2,266.6 99.5,266.5 99.9,268.3 100.2,270.9 100.5,271.4 100.8,270.0 101.1,268.5 101.4,267.6 101.7,268.0 102.0,267.9 102.3,266.0 102.6,263.8 102.9,261.8 103.2,261.8 103.5,263.7 103.8,268.1 104.1,272.1 104.4,274.3 104.7,275.0 105.0,274.0 105.3,274.1 105.6,274.3 106.0,273.3 106.3,272.6 106.6,273.4 106.9,274.1 107.2,276.0 107.5,276.1 107.8,275.0 108.1,271.2 108.4,265.7 108.7,262.7 109.0,262.7 109.3,264.2 109.6,268.2 109.9,270.4 110.2,269.6 110.5,267.4 110.8,265.6 111.1,264.9 111.4,265.4 111.8,265.2 112.1,263.7 112.4,262.2 112.7,262.9 113.0,262.9 113.3,260.3 113.6,257.9 113.9,256.7 114.2,257.1 114.5,260.4 114.8,263.2 115.1,267.0 115.4,271.8 115.7,274.4 116.0,275.9 116.3,276.9 116.6,276.2 116.9,274.5 117.2,272.5 117.5,269.6 117.8,265.6 118.2,263.4 118.5,263.6 118.8,266.0 119.1,269.8 119.4,272.0 119.7,271.8 120.0,271.0 120.3,269.3 120.6,267.9 120.9,268.6 121.2,271.8 121.5,274.5 121.8,275.5 122.1,274.1 122.4,271.3 122.7,268.0 123.0,264.6 123.3,264.8 123.6,266.8 124.0,267.1 124.3,266.0 124.6,266.0 124.9,265.9 125.2,266.8 125.5,268.4 125.8,269.8 126.1,272.5 126.4,273.7 126.7,272.7 127.0,270.9 127.3,268.9 127.6,268.0 127.9,268.1 128.2,269.7 128.5,270.7 128.8,270.7 129.1,270.5 129.4,270.7 129.7,270.7 130.1,270.9 130.4,269.7 130.7,268.0 131.0,265.4 131.3,262.3 131.6,261.3 131.9,261.6 132.2,260.8 132.5,262.0 132.8,264.7 133.1,266.4 133.4,266.9 133.7,266.9 134.0,267.6 134.3,269.3 134.6,270.4 134.9,271.4 135.2,271.3 135.5,270.1 135.8,268.6 136.1,267.6 136.5,267.0 136.8,265.8 137.1,263.4 137.4,261.5 137.7,261.6 138.0,264.7 138.3,269.7 138.6,273.7 138.9,275.8 139.2,275.9 139.5,274.9 139.8,273.7 140.1,273.9 140.4,273.1 140.7,270.8 141.0,268.5 141.3,265.9 141.6,263.7 141.9,260.7 142.2,257.3 142.6,253.7 142.9,249.9 143.2,249.6 143.5,254.1 143.8,260.2 144.1,265.6 144.4,269.7 144.7,272.1 145.0,272.6 145.3,273.2 145.6,272.8 145.9,272.8 146.2,271.4 146.5,269.1 146.8,266.1 147.1,264.5 147.4,264.4 147.7,262.7 148.0,259.4 148.3,259.4 148.7,260.8 149.0,261.5 149.3,262.2 149.6,263.6 149.9,266.1 150.2,267.8 150.5,267.4 150.8,266.8 151.1,268.3 151.4,269.4 151.7,270.5 152.0,271.9 152.3,272.5 152.6,272.4 152.9,272.1 153.2,270.9 153.5,270.0 153.8,269.4 154.1,268.0 154.4,267.0 154.8,267.3 155.1,269.6 155.4,272.0 155.7,273.8 156.0,274.7 156.3,274.6 156.6,273.7 156.9,271.9 157.2,270.8 157.5,269.3 157.8,269.5 158.1,269.2 158.4,266.9 158.7,263.4 159.0,258.2 159.3,254.3 159.6,253.5 159.9,255.6 160.2,258.9 160.6,259.8 160.9,259.6 161.2,261.5 161.5,264.0 161.8,266.0 162.1,268.0 162.4,268.7 162.7,268.5 163.0,269.2 163.3,268.5 163.6,266.7 163.9,266.6 164.2,267.7 164.5,268.4 164.8,267.6 165.1,266.4 165.4,267.5 165.7,270.7 166.0,274.3 166.3,277.5 166.7,278.5 167.0,277.0 167.3,274.7 167.6,271.7 167.9,268.3 168.2,265.1 168.5,261.9 168.8,259.7 169.1,259.6 169.4,261.8 169.7,264.3 170.0,265.9 170.3,266.5 170.6,268.0 170.9,269.3 171.2,270.3 171.5,271.1 171.8,270.4 172.1,269.5 172.4,269.5 172.8,268.7 173.1,266.8 173.4,263.0 173.7,258.5 174.0,255.7 174.3,254.2 174.6,255.0 174.9,257.2 175.2,258.9 175.5,259.9 175.8,260.5 176.1,261.1 176.4,262.5 176.7,264.2 177.0,264.8 177.3,265.9 177.6,267.2 177.9,268.5 178.2,269.9 178.5,271.6 178.8,271.7 179.2,269.1 179.5,266.2 179.8,265.5 180.1,266.2 180.4,267.5 180.7,268.5 181.0,270.4 181.3,272.5 181.6,273.6 181.9,273.5 182.2,272.6 182.5,271.0 182.8,269.9 183.1,270.3 183.4,271.0 183.7,271.0 184.0,272.1 184.3,272.3 184.6,270.5 184.9,268.5 185.3,266.9 185.6,268.0 185.9,271.7 186.2,274.1 186.5,275.0 186.8,274.3 187.1,270.8 187.4,267.7 187.7,266.1 188.0,264.7 188.3,263.5 188.6,263.2 188.9,265.6 189.2,269.7 189.5,272.0 189.8,273.7 190.1,273.5 190.4,271.8 190.7,268.3 191.0,264.0 191.4,260.2 191.7,258.0 192.0,257.1 192.3,258.9 192.6,261.9 192.9,264.4 193.2,268.1 193.5,271.8 193.8,274.6 194.1,276.8 194.4,278.5 194.7,278.8 195.0,277.8 195.3,276.5 195.6,274.8 195.9,272.6 196.2,271.5 196.5,271.0 196.8,271.9 197.2,273.1 197.5,273.2 197.8,273.3 198.1,273.3 198.4,272.4 198.7,271.0 199.0,269.3 199.3,268.9 199.6,269.2 199.9,270.3 200.2,272.5 200.5,274.0 200.8,274.0 201.1,272.9 201.4,270.9 201.7,267.2 202.0,263.2 202.3,260.2 202.6,258.8 202.9,258.3 203.2,259.9 203.6,262.4 203.9,263.3 204.2,265.2 204.5,268.0 204.8,270.1 205.1,271.3 205.4,271.8 205.7,273.3 206.0,274.7 206.3,275.2 206.6,274.9 206.9,274.2 207.2,274.4 207.5,273.3 207.8,270.6 208.1,267.1 208.4,262.9 208.7,258.6 209.0,255.9 209.3,256.0 209.7,260.9 210.0,265.5 210.3,268.8 210.6,271.3 210.9,270.2 211.2,269.2 211.5,270.5 211.8,272.0 212.1,274.9 212.4,277.0 212.7,278.1 213.0,277.7 213.3,275.3 213.6,272.0 213.9,269.2 214.2,266.1 214.5,263.2 214.8,260.6 215.1,259.6 215.4,260.6 215.8,262.4 216.1,265.3 216.4,270.4 216.7,272.6 217.0,271.1 217.3,270.2 217.6,269.7 217.9,268.3 218.2,267.4 218.5,267.5" stroke="#4d4d4d"/><polyline points="35.5,338.0 35.8,332.5 36.1,327.0 36.4,321.4 36.7,315.9 37.0,310.4 37.3,304.9 37.6,299.3 37.9,293.8 38.2,288.3 38.5,282.8 38.9,277.3 39.2,271.7 39.5,266.2 39.8,260.7 40.1,255.2 40.4,249.7 40.7,244.1 41.0,238.6 41.3,233.1 41.6,227.6 41.9,222.0 42.2,228.7 42.5,238.1 42.8,247.5 43.1,256.9 43.4,255.5 43.7,254.2 44.0,252.9 44.3,251.5 44.6,251.2 45.0,250.8 45.3,250.4 45.6,250.0 45.9,249.6 46.2,249.2 46.5,248.8 46.8,250.7 47.1,252.5 47.4,254.3 47.7,256.1 48.0,257.9 48.3,259.7 48.6,261.5 48.9,263.3 49.2,265.1 49.5,265.8 49.8,266.4 50.1,267.0 50.4,267.7 50.8,268.3 51.1,269.0 51.4,269.6 51.7,270.1 52.0,270.6 52.3,271.2 52.6,271.7 52.9,272.2 53.2,272.8 53.5,272.4 53.8,272.0 54.1,272.0 54.4,271.8 54.7,271.2 55.0,271.1 55.3,271.4 55.6,273.5 55.9,275.9 56.2,277.2 56.5,277.0 56.8,277.3 57.2,276.5 57.5,275.4 57.8,274.0 58.1,269.4 58.4,263.5 58.7,260.4 59.0,260.1 59.3,260.2 59.6,261.0 59.9,261.2 60.2,260.7 60.5,261.6 60.8,265.5 61.1,270.0 61.4,273.8 61.7,275.7 62.0,276.1 62.3,274.7 62.6,272.9 63.0,271.4 63.3,270.3 63.6,270.3 63.9,270.2 64.2,268.6 64.5,266.7 64.8,266.6 65.1,268.0 65.4,269.1 65.7,269.5 66.0,270.0 66.3,270.9 66.6,271.5 66.9,272.3 67.2,273.9 67.5,275.5 67.8,276.2 68.1,275.8 68.4,275.1 68.7,274.3 69.0,272.2 69.4,269.0 69.7,267.7 70.0,268.1 70.3,269.6 70.6,270.6 70.9,271.1 71.2,272.2 71.5,273.6 71.8,274.6 72.1,276.3 72.4,278.2 72.7,277.9 73.0,275.9 73.3,274.7 73.6,273.2 73.9,271.9 74.2,271.4 74.5,272.3 74.8,273.8 75.2,275.4 75.5,274.9 75.8,273.0 76.1,271.3 76.4,270.1 76.7,268.9 77.0,268.1 77.3,267.8 77.6,268.1 77.9,268.5 78.2,270.3 78.5,272.4 78.8,273.6 79.1,272.3 79.4,270.6 79.7,270.8 80.0,272.2 80.3,272.1 80.6,272.6 80.9,273.9 81.2,273.8 81.6,273.8 81.9,273.4 82.2,273.1 82.5,272.9 82.8,272.6 83.1,271.8 83.4,269.7 83.7,267.4 84.0,265.4 84.3,263.6 84.6,262.4 84.9,260.6 85.2,259.7 85.5,261.5 85.8,265.2 86.1,270.0 86.4,271.7 86.7,271.8 87.0,273.3 87.3,273.6 87.7,272.8 88.0,273.3 88.3,274.0 88.6,273.6 88.9,272.8 89.2,273.4 89.5,273.7 89.8,271.9 90.1,270.4 90.4,269.4 90.7,268.0 91.0,265.1 91.3,261.6 91.6,261.0 91.9,261.5 92.2,264.7 92.5,269.2 92.8,272.4 93.1,273.9 93.4,274.7 93.8,274.8 94.1,275.2 94.4,276.1 94.7,276.9 95.0,277.0 95.3,276.8 95.6,277.5 95.9,276.7 96.2,275.0 96.5,273.9 96.8,272.0 97.1,270.6 97.4,270.0 97.7,268.6 98.0,268.0 98.3,268.9 98.6,270.3 98.9,272.9 99.2,276.5 99.5,279.6 99.9,279.9 100.2,278.9 100.5,277.5 100.8,276.5 101.1,276.3 101.4,275.9 101.7,275.0 102.0,273.4 102.3,271.7 102.6,269.4 102.9,267.7 103.2,266.1 103.5,264.2 103.8,265.8 104.1,269.8 104.4,272.6 104.7,274.0 105.0,272.7 105.3,270.4 105.6,268.8 106.0,268.3 106.3,270.2 106.6,272.8 106.9,274.9 107.2,275.5 107.5,273.6 107.8,270.3 108.1,266.7 108.4,264.3 108.7,262.2 109.0,260.6 109.3,261.4 109.6,263.3 109.9,265.0 110.2,266.4 110.5,267.3 110.8,267.8 111.1,268.5 111.4,269.0 111.8,269.3 112.1,270.3 112.4,270.9 112.7,270.2 113.0,268.1 113.3,267.9 113.6,268.6 113.9,269.2 114.2,269.4 114.5,269.5 114.8,269.9 115.1,270.7 115.4,271.8 115.7,273.3 116.0,273.0 116.3,272.1 116.6,272.6 116.9,272.5 117.2,272.7 117.5,271.5 117.8,270.4 118.2,270.2 118.5,268.5 118.8,265.8 119.1,264.2 119.4,264.8 119.7,269.4 120.0,274.5 120.3,277.3 120.6,278.0 120.9,277.3 121.2,276.8 121.5,274.4 121.8,272.4 122.1,272.1 122.4,272.6 122.7,271.8 123.0,268.5 123.3,264.6 123.6,262.3 124.0,262.2 124.3,262.5 124.6,262.1 124.9,263.4 125.2,267.2 125.5,270.9 125.8,273.2 126.1,274.1 126.4,273.8 126.7,273.9 127.0,274.4 127.3,273.1 127.6,271.7 127.9,270.6 128.2,269.8 128.5,271.0 128.8,273.5 129.1,275.8 129.4,277.3 129.7,277.2 130.1,275.9 130.4,273.7 130.7,270.7 131.0,266.4 131.3,261.4 131.6,258.5 131.9,258.4 132.2,260.9 132.5,264.6 132.8,267.5 133.1,269.7 133.4,269.6 133.7,268.9 134.0,268.6 134.3,269.7 134.6,271.7 134.9,273.3 135.2,275.2 135.5,276.0 135.8,275.9 136.1,275.0 136.5,273.1 136.8,272.1 137.1,272.5 137.4,272.4 137.7,271.7 138.0,271.6 138.3,272.8 138.6,275.0 138.9,277.7 139.2,278.3 139.5,277.1 139.8,275.9 140.1,274.6 140.4,272.7 140.7,270.9 141.0,270.9 141.3,270.8 141.6,268.6 141.9,265.8 142.2,261.6 142.6,255.8 142.9,251.5 143.2,250.9 143.5,255.7 143.8,262.8 144.1,269.3 144.4,272.8 144.7,272.9 145.0,273.3 145.3,273.1 145.6,272.3 145.9,272.1 146.2,273.4 146.5,274.3 146.8,273.1 147.1,271.4 147.4,269.5 147.7,268.5 148.0,269.4 148.3,270.0 148.7,268.7 149.0,266.1 149.3,264.0 149.6,264.2 149.9,266.5 150.2,267.9 150.5,269.6 150.8,271.2 151.1,272.2 151.4,272.4 151.7,272.5 152.0,273.5 152.3,274.8 152.6,276.0 152.9,277.3 153.2,276.6 153.5,273.7 153.8,270.4 154.1,267.8 154.4,266.5 154.8,266.0 155.1,266.4 155.4,267.9 155.7,269.7 156.0,270.4 156.3,270.9 156.6,270.6 156.9,269.4 157.2,268.0 157.5,266.6 157.8,266.2 158.1,266.7 158.4,268.7 158.7,270.2 159.0,270.6 159.3,269.2 159.6,265.5 159.9,262.3 160.2,261.0 160.6,261.5 160.9,263.9 161.2,266.4 161.5,267.5 161.8,269.1 162.1,270.8 162.4,273.9 162.7,275.9 163.0,275.3 163.3,273.2 163.6,270.6 163.9,269.5 164.2,269.3 164.5,269.4 164.8,269.0 165.1,270.1 165.4,272.2 165.7,273.7 166.0,275.1 166.3,276.0 166.7,276.0 167.0,275.5 167.3,274.1 167.6,271.5 167.9,269.7 168.2,269.1 168.5,268.5 168.8,268.2 169.1,267.1 169.4,265.5 169.7,264.7 170.0,263.3 170.3,263.0 170.6,263.7 170.9,264.1 171.2,265.0 171.5,266.3 171.8,266.7 172.1,264.9 172.4,261.7 172.8,258.5 173.1,255.9 173.4,253.9 173.7,252.8 174.0,252.2 174.3,254.0 174.6,257.8 174.9,261.8 175.2,264.2 175.5,265.3 175.8,266.4 176.1,267.4 176.4,268.0 176.7,267.1 177.0,267.0 177.3,268.2 177.6,269.5 177.9,271.6 178.2,274.2 178.5,275.4 178.8,274.5 179.2,273.3 179.5,272.8 179.8,273.4 180.1,274.2 180.4,275.5 180.7,277.0 181.0,278.0 181.3,278.1 181.6,277.1 181.9,275.7 182.2,274.4 182.5,272.3 182.8,269.5 183.1,266.5 183.4,264.1 183.7,264.1 184.0,266.1 184.3,268.3 184.6,270.2 184.9,270.3 185.3,268.5 185.6,267.8 185.9,268.9 186.2,272.9 186.5,277.3 186.8,279.2 187.1,278.8 187.4,275.5 187.7,271.3 188.0,268.0 188.3,265.8 188.6,266.8 188.9,269.2 189.2,270.9 189.5,271.7 189.8,272.2 190.1,271.7 190.4,271.0 190.7,268.9 191.0,267.3 191.4,267.8 191.7,267.6 192.0,268.2 192.3,269.8 192.6,271.5 192.9,271.9 193.2,272.3 193.5,272.3 193.8,271.9 194.1,271.9 194.4,271.5 194.7,271.1 195.0,273.1 195.3,275.8 195.6,277.2 195.9,277.2 196.2,275.8 196.5,273.4 196.8,270.8 197.2,267.8 197.5,266.2 197.8,265.4 198.1,265.3 198.4,265.5 198.7,267.3 199.0,269.2 199.3,270.2 199.6,271.6 199.9,272.5 200.2,272.5 200.5,271.5 200.8,272.0 201.1,271.7 201.4,269.2 201.7,265.7 202.0,262.1 202.3,258.5 202.6,257.4 202.9,258.4 203.2,260.0 203.6,262.2 203.9,266.2 204.2,269.3 204.5,270.7 204.8,270.9 205.1,271.0 205.4,272.0 205.7,273.4 206.0,274.1 206.3,272.9 206.6,272.8 206.9,273.6 207.2,275.1 207.5,275.4 207.8,272.1 208.1,268.5 208.4,266.2 208.7,263.6 209.0,262.4 209.3,261.9 209.7,262.3 210.0,263.9 210.3,266.6 210.6,269.4 210.9,271.6 211.2,273.2 211.5,275.0 211.8,275.8 212.1,275.6 212.4,274.8 212.7,274.1 213.0,274.1 213.3,275.4 213.6,275.8 213.9,273.0 214.2,269.9 214.5,267.5 214.8,266.0 215.1,264.2 215.4,264.4 215.8,266.4 216.1,268.6 216.4,269.7 216.7,271.0 217.0,272.6 217.3,272.6 217.6,270.5 217.9,268.2 218.2,265.9 218.5,264.4" stroke="#f04242"/><polyline points="35.5,338.0 35.8,332.5 36.1,327.0 36.4,321.5 36.7,316.0 37.0,310.5 37.3,305.0 37.6,299.5 37.9,294.0 38.2,288.5 38.5,283.0 38.9,277.5 39.2,272.0 39.5,266.5 39.8,261.0 40.1,255.5 40.4,250.0 40.7,244.5 41.0,239.0 41.3,233.5 41.6,227.9 41.9,223.5 42.2,232.8 42.5,242.2 42.8,251.6 43.1,260.9 43.4,258.6 43.7,256.2 44.0,253.8 44.3,251.4 44.6,251.4 45.0,251.4 45.3,251.4 45.6,251.4 45.9,251.4 46.2,251.5 46.5,251.5 46.8,253.1 47.1,254.8 47.4,256.5 47.7,258.2 48.0,259.9 48.3,261.6 48.6,263.3 48.9,265.0 49.2,266.7 49.5,266.9 49.8,267.2 50.1,267.5 50.4,267.8 50.8,268.0 51.1,268.3 51.4,268.6 51.7,269.4 52.0,270.2 52.3,271.1 52.6,271.9 52.9,272.7 53.2,273.5 53.5,273.0 53.8,272.5 54.1,271.7 54.4,270.9 54.7,270.1 55.0,269.1 55.3,268.6 55.6,270.9 55.9,272.2 56.2,270.5 56.5,269.9 56.8,271.6 57.2,272.0 57.5,272.0 57.8,271.4 58.1,269.7 58.4,267.2 58.7,265.9 59.0,264.4 59.3,263.0 59.6,262.3 59.9,262.4 60.2,262.8 60.5,262.0 60.8,262.4 61.1,265.0 61.4,267.7 61.7,268.9 62.0,268.5 62.3,269.3 62.6,270.1 63.0,269.8 63.3,269.1 63.6,269.0 63.9,269.1 64.2,268.0 64.5,267.0 64.8,267.1 65.1,267.9 65.4,270.8 65.7,274.4 66.0,277.1 66.3,275.7 66.6,272.4 66.9,270.2 67.2,269.6 67.5,269.4 67.8,269.1 68.1,267.1 68.4,263.1 68.7,258.9 69.0,257.2 69.4,257.3 69.7,258.1 70.0,261.2 70.3,264.6 70.6,266.7 70.9,268.2 71.2,269.3 71.5,269.5 71.8,269.3 72.1,268.7 72.4,268.6 72.7,268.7 73.0,269.5 73.3,270.2 73.6,271.1 73.9,271.4 74.2,270.6 74.5,270.6 74.8,270.7 75.2,271.0 75.5,271.3 75.8,271.6 76.1,271.5 76.4,270.4 76.7,268.9 77.0,267.1 77.3,265.5 77.6,264.1 77.9,264.4 78.2,265.9 78.5,267.9 78.8,269.1 79.1,268.4 79.4,266.4 79.7,264.6 80.0,264.4 80.3,265.5 80.6,266.6 80.9,267.5 81.2,270.0 81.6,270.4 81.9,269.2 82.2,269.3 82.5,269.9 82.8,270.1 83.1,269.1 83.4,267.2 83.7,265.4 84.0,264.6 84.3,265.1 84.6,265.8 84.9,264.5 85.2,261.8 85.5,259.3 85.8,258.7 86.1,261.0 86.4,263.5 86.7,265.0 87.0,265.9 87.3,266.6 87.7,267.7 88.0,268.7 88.3,269.0 88.6,268.2 88.9,267.5 89.2,267.1 89.5,266.5 89.8,266.3 90.1,267.0 90.4,267.3 90.7,265.4 91.0,264.6 91.3,265.2 91.6,265.4 91.9,266.9 92.2,268.2 92.5,269.4 92.8,269.6 93.1,268.6 93.4,268.8 93.8,270.7 94.1,272.1 94.4,272.1 94.7,272.3 95.0,271.5 95.3,270.1 95.6,269.2 95.9,268.1 96.2,266.2 96.5,263.8 96.8,261.8 97.1,260.6 97.4,259.2 97.7,257.3 98.0,256.7 98.3,257.5 98.6,259.3 98.9,261.0 99.2,261.9 99.5,263.2 99.9,265.9 100.2,267.7 100.5,268.8 100.8,268.7 101.1,268.7 101.4,268.6 101.7,267.8 102.0,266.4 102.3,264.3 102.6,260.6 102.9,254.5 103.2,250.5 103.5,251.2 103.8,256.6 104.1,263.7 104.4,269.9 104.7,273.7 105.0,275.2 105.3,275.0 105.6,274.8 106.0,275.6 106.3,275.8 106.6,277.0 106.9,277.1 107.2,276.1 107.5,275.1 107.8,273.1 108.1,269.0 108.4,264.8 108.7,259.9 109.0,254.6 109.3,250.0 109.6,249.4 109.9,252.4 110.2,256.7 110.5,261.2 110.8,264.2 111.1,265.1 111.4,265.3 111.8,265.4 112.1,264.2 112.4,262.4 112.7,261.0 113.0,259.7 113.3,258.0 113.6,258.1 113.9,259.5 114.2,261.4 114.5,264.1 114.8,266.9 115.1,268.8 115.4,270.1 115.7,271.3 116.0,272.1 116.3,272.0 116.6,271.8 116.9,273.1 117.2,272.3 117.5,268.4 117.8,265.2 118.2,262.9 118.5,260.3 118.8,259.3 119.1,259.8 119.4,261.7 119.7,264.6 120.0,267.8 120.3,270.0 120.6,270.3 120.9,270.7 121.2,272.0 121.5,272.8 121.8,273.4 122.1,274.4 122.4,274.9 122.7,273.4 123.0,270.7 123.3,267.7 123.6,265.4 124.0,263.1 124.3,261.4 124.6,262.2 124.9,264.6 125.2,268.0 125.5,271.3 125.8,273.9 126.1,276.1 126.4,275.9 126.7,275.0 127.0,272.3 127.3,267.4 127.6,265.0 127.9,265.0 128.2,266.8 128.5,268.2 128.8,269.0 129.1,269.0 129.4,268.1 129.7,265.4 130.1,262.3 130.4,259.3 130.7,258.1 131.0,257.9 131.3,259.3 131.6,260.6 131.9,261.8 132.2,263.7 132.5,265.4 132.8,267.5 133.1,267.0 133.4,264.5 133.7,263.4 134.0,264.4 134.3,263.7 134.6,264.3 134.9,266.9 135.2,269.0 135.5,269.6 135.8,269.3 136.1,268.5 136.5,267.3 136.8,264.9 137.1,262.9 137.4,262.1 137.7,262.9 138.0,266.2 138.3,270.1 138.6,271.3 138.9,271.2 139.2,270.6 139.5,270.4 139.8,270.9 140.1,271.6 140.4,271.3 140.7,270.2 141.0,269.4 141.3,267.7 141.6,266.3 141.9,264.7 142.2,260.5 142.6,252.9 142.9,246.7 143.2,243.9 143.5,247.2 143.8,255.3 144.1,261.8 144.4,265.9 144.7,267.4 145.0,267.1 145.3,266.4 145.6,265.9 145.9,265.4 146.2,265.0 146.5,264.8 146.8,265.5 147.1,266.2 147.4,266.0 147.7,265.5 148.0,264.2 148.3,261.5 148.7,259.2 149.0,259.6 149.3,261.6 149.6,264.7 149.9,267.3 150.2,269.5 150.5,271.7 150.8,272.6 151.1,273.2 151.4,272.8 151.7,271.3 152.0,269.6 152.3,267.4 152.6,266.4 152.9,266.1 153.2,265.7 153.5,265.6 153.8,266.3 154.1,269.4 154.4,271.8 154.8,273.2 155.1,274.2 155.4,274.5 155.7,274.6 156.0,273.1 156.3,271.7 156.6,270.6 156.9,268.8 157.2,265.6 157.5,263.4 157.8,261.9 158.1,260.2 158.4,258.4 158.7,255.6 159.0,252.7 159.3,253.0 159.6,256.5 159.9,260.7 160.2,263.1 160.6,263.9 160.9,264.5 161.2,264.7 161.5,265.4 161.8,267.1 162.1,269.5 162.4,271.3 162.7,271.6 163.0,270.7 163.3,268.9 163.6,267.4 163.9,268.4 164.2,269.9 164.5,270.0 164.8,269.6 165.1,267.5 165.4,265.0 165.7,264.5 166.0,266.7 166.3,271.8 166.7,275.1 167.0,273.9 167.3,272.1 167.6,268.7 167.9,265.2 168.2,263.8 168.5,264.4 168.8,264.5 169.1,263.4 169.4,264.2 169.7,264.5 170.0,265.7 170.3,265.9 170.6,265.8 170.9,267.4 171.2,269.0 171.5,270.2 171.8,270.3 172.1,268.8 172.4,267.9 172.8,267.0 173.1,265.4 173.4,262.9 173.7,260.1 174.0,258.7 174.3,259.4 174.6,261.6 174.9,264.5 175.2,267.3 175.5,268.3 175.8,269.5 176.1,269.9 176.4,269.1 176.7,268.9 177.0,268.5 177.3,267.5 177.6,266.7 177.9,265.2 178.2,263.3 178.5,262.4 178.8,262.9 179.2,265.8 179.5,269.3 179.8,272.4 180.1,273.8 180.4,274.9 180.7,276.5 181.0,277.3 181.3,276.3 181.6,275.3 181.9,273.1 182.2,270.7 182.5,269.6 182.8,268.6 183.1,266.9 183.4,265.3 183.7,262.5 184.0,261.9 184.3,263.2 184.6,263.0 184.9,263.7 185.3,266.2 185.6,269.1 185.9,271.8 186.2,272.8 186.5,271.8 186.8,269.3 187.1,266.1 187.4,263.7 187.7,261.0 188.0,260.4 188.3,261.8 188.6,264.5 188.9,268.3 189.2,271.5 189.5,272.9 189.8,273.2 190.1,271.8 190.4,270.3 190.7,269.7 191.0,269.3 191.4,268.6 191.7,267.1 192.0,265.3 192.3,264.9 192.6,266.3 192.9,267.7 193.2,268.9 193.5,271.2 193.8,274.0 194.1,275.5 194.4,275.0 194.7,274.4 195.0,274.3 195.3,274.6 195.6,273.9 195.9,272.8 196.2,270.8 196.5,268.7 196.8,267.7 197.2,267.0 197.5,266.4 197.8,266.9 198.1,266.8 198.4,266.6 198.7,267.0 199.0,266.9 199.3,266.3 199.6,267.4 199.9,268.8 200.2,270.4 200.5,271.7 200.8,271.3 201.1,271.1 201.4,271.1 201.7,269.5 202.0,267.2 202.3,265.1 202.6,262.9 202.9,263.0 203.2,264.3 203.6,266.4 203.9,268.8 204.2,269.3 204.5,269.1 204.8,268.5 205.1,268.2 205.4,269.3 205.7,270.3 206.0,270.4 206.3,270.2 206.6,270.4 206.9,270.5 207.2,270.8 207.5,269.9 207.8,267.4 208.1,264.9 208.4,263.2 208.7,262.5 209.0,263.9 209.3,266.5 209.7,267.4 210.0,267.2 210.3,266.3 210.6,265.5 210.9,266.2 211.2,269.5 211.5,272.5 211.8,273.4 212.1,274.3 212.4,274.9 212.7,275.1 213.0,273.9 213.3,271.7 213.6,269.9 213.9,267.6 214.2,264.3 214.5,262.7 214.8,261.3 215.1,260.0 215.4,259.2 215.8,259.6 216.1,261.9 216.4,264.2 216.7,267.8 217.0,270.2 217.3,271.5 217.6,270.9 217.9,269.9 218.2,269.0 218.5,267.3" stroke="#3380ee"/><polyline points="35.5,338.0 35.8,332.5 36.1,327.0 36.4,321.4 36.7,315.9 37.0,310.4 37.3,304.9 37.6,299.4 37.9,293.9 38.2,288.3 38.5,282.8 38.9,277.3 39.2,271.8 39.5,266.3 39.8,260.8 40.1,255.2 40.4,249.7 40.7,244.2 41.0,238.7 41.3,233.2 41.6,227.7 41.9,227.7 42.2,234.6 42.5,241.4 42.8,248.2 43.1,255.0 43.4,252.4 43.7,249.7 44.0,247.1 44.3,244.4 44.6,245.2 45.0,246.0 45.3,246.8 45.6,247.6 45.9,248.3 46.2,249.1 46.5,249.9 46.8,251.0 47.1,252.0 47.4,253.0 47.7,254.1 48.0,255.1 48.3,256.2 48.6,257.2 48.9,258.3 49.2,259.3 49.5,260.7 49.8,262.0 50.1,263.3 50.4,264.6 50.8,266.0 51.1,267.3 51.4,268.6 51.7,269.3 52.0,269.9 52.3,270.5 52.6,271.1 52.9,271.7 53.2,272.4 53.5,272.0 53.8,271.7 54.1,270.8 54.4,269.9 54.7,269.7 55.0,270.7 55.3,272.0 55.6,273.7 55.9,275.3 56.2,274.9 56.5,274.9 56.8,275.4 57.2,276.2 57.5,276.2 57.8,275.4 58.1,276.4 58.4,276.5 58.7,275.4 59.0,272.6 59.3,270.3 59.6,268.4 59.9,264.3 60.2,261.0 60.5,260.1 60.8,262.5 61.1,266.3 61.4,269.3 61.7,271.4 62.0,271.7 62.3,271.4 62.6,271.1 63.0,271.0 63.3,269.9 63.6,267.8 63.9,266.2 64.2,266.0 64.5,266.3 64.8,267.6 65.1,268.5 65.4,268.7 65.7,267.7 66.0,266.6 66.3,268.3 66.6,270.6 66.9,271.7 67.2,272.3 67.5,272.0 67.8,271.7 68.1,271.1 68.4,269.7 68.7,268.6 69.0,267.6 69.4,266.6 69.7,267.0 70.0,267.9 70.3,268.7 70.6,269.0 70.9,268.0 71.2,266.0 71.5,265.4 71.8,265.7 72.1,266.6 72.4,267.8 72.7,269.6 73.0,270.5 73.3,270.7 73.6,271.5 73.9,272.2 74.2,271.4 74.5,271.3 74.8,271.5 75.2,271.6 75.5,271.9 75.8,270.8 76.1,268.7 76.4,266.6 76.7,266.8 77.0,267.7 77.3,269.1 77.6,270.1 77.9,270.0 78.2,270.4 78.5,272.0 78.8,272.0 79.1,270.7 79.4,268.7 79.7,267.4 80.0,268.1 80.3,269.9 80.6,272.6 80.9,274.5 81.2,273.3 81.6,270.8 81.9,267.9 82.2,265.8 82.5,265.6 82.8,266.4 83.1,268.9 83.4,271.1 83.7,271.3 84.0,270.9 84.3,271.0 84.6,269.6 84.9,267.3 85.2,264.6 85.5,265.0 85.8,267.2 86.1,269.9 86.4,272.7 86.7,274.3 87.0,275.1 87.3,274.2 87.7,272.4 88.0,271.6 88.3,272.9 88.6,274.1 88.9,274.3 89.2,274.4 89.5,274.4 89.8,273.3 90.1,270.5 90.4,265.4 90.7,259.8 91.0,256.6 91.3,255.1 91.6,255.7 91.9,258.0 92.2,262.0 92.5,266.9 92.8,270.2 93.1,272.6 93.4,274.1 93.8,274.9 94.1,276.4 94.4,275.9 94.7,273.6 95.0,272.0 95.3,270.9 95.6,270.8 95.9,270.2 96.2,268.5 96.5,265.6 96.8,261.8 97.1,258.8 97.4,257.0 97.7,257.3 98.0,260.1 98.3,263.5 98.6,266.2 98.9,269.7 99.2,273.4 99.5,275.7 99.9,276.8 100.2,276.2 100.5,275.4 100.8,274.0 101.1,271.5 101.4,270.0 101.7,270.1 102.0,269.9 102.3,269.5 102.6,269.5 102.9,269.1 103.2,268.5 103.5,265.4 103.8,261.0 104.1,260.2 104.4,261.8 104.7,264.2 105.0,267.2 105.3,268.7 105.6,267.9 106.0,268.3 106.3,270.0 106.6,272.4 106.9,275.3 107.2,277.2 107.5,276.9 107.8,274.6 108.1,270.3 108.4,265.4 108.7,261.4 109.0,258.3 109.3,256.5 109.6,257.1 109.9,261.1 110.2,264.2 110.5,264.5 110.8,264.4 111.1,264.7 111.4,266.3 111.8,267.4 112.1,266.2 112.4,264.4 112.7,263.3 113.0,261.0 113.3,259.7 113.6,260.3 113.9,261.7 114.2,264.5 114.5,268.1 114.8,270.5 115.1,271.0 115.4,269.9 115.7,269.2 116.0,269.2 116.3,270.4 116.6,271.7 116.9,271.1 117.2,269.1 117.5,266.7 117.8,264.2 118.2,261.0 118.5,258.6 118.8,257.0 119.1,257.4 119.4,261.5 119.7,266.5 120.0,269.6 120.3,271.6 120.6,273.3 120.9,274.9 121.2,276.1 121.5,275.8 121.8,275.2 122.1,272.6 122.4,268.4 122.7,264.7 123.0,261.7 123.3,259.5 123.6,258.6 124.0,259.5 124.3,261.4 124.6,262.5 124.9,263.3 125.2,264.7 125.5,266.7 125.8,268.8 126.1,270.7 126.4,271.7 126.7,270.8 127.0,269.2 127.3,267.0 127.6,265.8 127.9,265.8 128.2,267.8 128.5,271.4 128.8,275.7 129.1,277.7 129.4,277.0 129.7,275.9 130.1,274.6 130.4,272.0 130.7,268.4 131.0,266.2 131.3,264.4 131.6,261.7 131.9,259.4 132.2,258.5 132.5,259.8 132.8,262.7 133.1,264.9 133.4,264.8 133.7,264.2 134.0,263.7 134.3,262.4 134.6,260.1 134.9,259.2 135.2,261.2 135.5,265.7 135.8,269.9 136.1,272.7 136.5,273.6 136.8,272.3 137.1,269.3 137.4,265.6 137.7,263.4 138.0,265.0 138.3,267.6 138.6,270.3 138.9,273.4 139.2,273.9 139.5,272.1 139.8,270.6 140.1,270.0 140.4,269.1 140.7,269.7 141.0,270.4 141.3,267.9 141.6,262.0 141.9,254.3 142.2,248.7 142.6,246.5 142.9,247.5 143.2,252.7 143.5,258.5 143.8,262.6 144.1,265.5 144.4,267.9 144.7,269.3 145.0,269.8 145.3,269.2 145.6,268.5 145.9,268.2 146.2,268.5 146.5,269.2 146.8,268.5 147.1,267.2 147.4,266.7 147.7,266.8 148.0,265.7 148.3,264.7 148.7,261.9 149.0,258.9 149.3,258.4 149.6,259.5 149.9,262.3 150.2,264.6 150.5,266.8 150.8,268.9 151.1,269.6 151.4,269.2 151.7,267.9 152.0,266.0 152.3,264.8 152.6,263.5 152.9,261.9 153.2,260.0 153.5,259.4 153.8,260.6 154.1,264.2 154.4,268.3 154.8,270.7 155.1,272.5 155.4,273.6 155.7,273.5 156.0,272.9 156.3,271.0 156.6,270.2 156.9,270.8 157.2,269.7 157.5,268.6 157.8,267.8 158.1,267.5 158.4,267.2 158.7,266.5 159.0,264.8 159.3,263.3 159.6,260.8 159.9,259.0 160.2,259.3 160.6,259.6 160.9,260.2 161.2,262.4 161.5,264.6 161.8,266.4 162.1,268.3 162.4,269.1 162.7,267.1 163.0,266.3 163.3,267.3 163.6,267.8 163.9,268.8 164.2,269.1 164.5,268.2 164.8,266.8 165.1,268.1 165.4,271.4 165.7,274.8 166.0,275.4 166.3,274.5 166.7,272.2 167.0,270.5 167.3,269.1 167.6,266.8 167.9,264.4 168.2,262.1 168.5,260.3 168.8,258.7 169.1,258.1 169.4,259.4 169.7,261.6 170.0,263.7 170.3,265.7 170.6,265.6 170.9,265.6 171.2,266.3 171.5,266.7 171.8,265.8 172.1,264.5 172.4,263.7 172.8,263.1 173.1,260.0 173.4,257.3 173.7,255.9 174.0,256.2 174.3,257.8 174.6,260.2 174.9,264.4 175.2,268.1 175.5,269.0 175.8,269.5 176.1,271.2 176.4,272.3 176.7,272.2 177.0,272.3 177.3,271.2 177.6,270.0 177.9,270.3 178.2,270.4 178.5,269.9 178.8,270.4 179.2,271.7 179.5,271.0 179.8,271.4 180.1,273.8 180.4,275.8 180.7,276.4 181.0,275.6 181.3,274.8 181.6,272.7 181.9,270.6 182.2,269.0 182.5,267.0 182.8,266.0 183.1,265.8 183.4,267.0 183.7,268.1 184.0,268.0 184.3,267.9 184.6,266.8 184.9,264.6 185.3,262.9 185.6,262.3 185.9,262.6 186.2,263.4 186.5,264.8 186.8,265.8 187.1,265.9 187.4,266.1 187.7,265.4 188.0,264.6 188.3,266.0 188.6,267.9 188.9,271.2 189.2,274.3 189.5,275.6 189.8,275.7 190.1,274.6 190.4,272.0 190.7,269.4 191.0,266.4 191.4,264.0 191.7,262.7 192.0,262.6 192.3,263.4 192.6,264.7 192.9,266.7 193.2,268.0 193.5,268.5 193.8,267.9 194.1,266.3 194.4,266.8 194.7,269.5 195.0,272.6 195.3,275.3 195.6,274.7 195.9,272.8 196.2,272.1 196.5,271.5 196.8,269.7 197.2,267.4 197.5,266.2 197.8,265.6 198.1,266.3 198.4,266.4 198.7,266.8 199.0,267.8 199.3,268.3 199.6,268.9 199.9,270.5 200.2,272.0 200.5,273.3 200.8,274.3 201.1,274.2 201.4,272.3 201.7,270.0 202.0,265.6 202.3,261.0 202.6,259.4 202.9,260.6 203.2,262.9 203.6,266.4 203.9,268.4 204.2,268.2 204.5,267.3 204.8,267.2 205.1,268.0 205.4,268.0 205.7,267.7 206.0,268.5 206.3,268.5 206.6,269.3 206.9,270.5 207.2,271.8 207.5,272.1 207.8,270.9 208.1,267.9 208.4,262.8 208.7,258.2 209.0,257.3 209.3,258.0 209.7,259.3 210.0,260.5 210.3,261.4 210.6,263.9 210.9,266.9 211.2,268.8 211.5,269.7 211.8,270.7 212.1,271.2 212.4,270.9 212.7,270.1 213.0,269.3 213.3,268.9 213.6,269.0 213.9,267.8 214.2,265.2 214.5,262.7 214.8,260.7 215.1,258.0 215.4,258.3 215.8,261.8 216.1,267.0 216.4,271.1 216.7,273.4 217.0,273.9 217.3,273.6 217.6,271.6 217.9,267.5 218.2,263.5 218.5,261.4" stroke="#30b47f"/><polyline points="35.5,338.0 35.8,332.8 36.1,327.7 36.4,322.5 36.7,317.3 37.0,312.2 37.3,307.0 37.6,301.8 37.9,296.6 38.2,291.5 38.5,286.3 38.9,281.1 39.2,276.0 39.5,270.8 39.8,265.6 40.1,260.5 40.4,255.3 40.7,250.1 41.0,245.0 41.3,239.8 41.6,234.6 41.9,229.4 42.2,230.7 42.5,240.9 42.8,251.0 43.1,261.1 43.4,257.9 43.7,254.7 44.0,251.5 44.3,248.3 44.6,249.4 45.0,250.4 45.3,251.5 45.6,252.6 45.9,253.7 46.2,254.8 46.5,255.9 46.8,256.5 47.1,257.1 47.4,257.6 47.7,258.2 48.0,258.8 48.3,259.4 48.6,259.9 48.9,260.5 49.2,261.1 49.5,262.0 49.8,262.9 50.1,263.9 50.4,264.8 50.8,265.7 51.1,266.6 51.4,267.6 51.7,269.0 52.0,270.3 52.3,271.7 52.6,273.1 52.9,274.5 53.2,275.9 53.5,275.0 53.8,274.0 54.1,273.0 54.4,271.5 54.7,268.9 55.0,265.6 55.3,262.7 55.6,261.4 55.9,262.7 56.2,264.7 56.5,267.2 56.8,269.1 57.2,269.6 57.5,270.7 57.8,273.0 58.1,272.8 58.4,271.1 58.7,269.0 59.0,267.0 59.3,266.1 59.6,265.2 59.9,263.5 60.2,262.6 60.5,262.7 60.8,264.7 61.1,268.7 61.4,272.0 61.7,273.2 62.0,274.4 62.3,274.8 62.6,273.9 63.0,271.5 63.3,268.7 63.6,268.4 63.9,268.6 64.2,269.0 64.5,269.1 64.8,269.1 65.1,270.3 65.4,271.2 65.7,272.9 66.0,273.3 66.3,272.7 66.6,271.9 66.9,271.8 67.2,272.7 67.5,272.6 67.8,271.1 68.1,268.4 68.4,265.2 68.7,262.3 69.0,260.5 69.4,258.5 69.7,258.4 70.0,259.5 70.3,260.9 70.6,263.7 70.9,266.2 71.2,267.5 71.5,268.5 71.8,270.5 72.1,271.5 72.4,272.4 72.7,273.2 73.0,274.6 73.3,275.8 73.6,274.5 73.9,272.8 74.2,270.3 74.5,267.5 74.8,265.9 75.2,266.2 75.5,266.2 75.8,264.9 76.1,263.8 76.4,263.6 76.7,263.9 77.0,265.2 77.3,266.5 77.6,266.2 77.9,264.8 78.2,264.8 78.5,264.9 78.8,265.9 79.1,266.5 79.4,266.1 79.7,265.2 80.0,264.7 80.3,265.1 80.6,265.2 80.9,265.3 81.2,265.0 81.6,264.0 81.9,264.4 82.2,266.4 82.5,268.1 82.8,269.7 83.1,271.2 83.4,272.1 83.7,271.8 84.0,268.9 84.3,264.1 84.6,259.5 84.9,255.2 85.2,253.5 85.5,256.5 85.8,262.0 86.1,267.4 86.4,271.0 86.7,272.6 87.0,271.6 87.3,270.3 87.7,268.2 88.0,266.4 88.3,265.8 88.6,264.8 88.9,264.7 89.2,264.4 89.5,263.7 89.8,263.7 90.1,264.5 90.4,264.8 90.7,265.6 91.0,266.7 91.3,266.2 91.6,263.9 91.9,262.7 92.2,263.5 92.5,265.6 92.8,267.5 93.1,268.9 93.4,270.9 93.8,271.4 94.1,271.8 94.4,272.6 94.7,272.1 95.0,270.2 95.3,269.4 95.6,268.3 95.9,265.6 96.2,262.3 96.5,258.5 96.8,256.4 97.1,255.9 97.4,258.3 97.7,259.5 98.0,260.6 98.3,264.9 98.6,269.6 98.9,271.4 99.2,272.0 99.5,273.0 99.9,273.2 100.2,274.2 100.5,272.7 100.8,270.2 101.1,268.3 101.4,267.7 101.7,267.9 102.0,267.0 102.3,265.9 102.6,266.3 102.9,266.2 103.2,264.2 103.5,261.9 103.8,258.5 104.1,255.6 104.4,254.6 104.7,257.2 105.0,262.1 105.3,264.7 105.6,265.6 106.0,264.8 106.3,265.0 106.6,266.0 106.9,266.3 107.2,266.0 107.5,266.5 107.8,267.2 108.1,267.9 108.4,267.6 108.7,264.4 109.0,261.3 109.3,259.9 109.6,259.7 109.9,260.9 110.2,262.8 110.5,264.6 110.8,265.4 111.1,265.3 111.4,266.5 111.8,268.1 112.1,268.7 112.4,268.1 112.7,266.5 113.0,265.6 113.3,265.5 113.6,265.5 113.9,264.8 114.2,265.9 114.5,269.2 114.8,271.2 115.1,272.0 115.4,272.9 115.7,273.1 116.0,272.3 116.3,270.3 116.6,269.1 116.9,266.5 117.2,263.1 117.5,260.5 117.8,258.3 118.2,255.4 118.5,254.4 118.8,258.5 119.1,263.9 119.4,267.4 119.7,269.3 120.0,270.2 120.3,271.2 120.6,271.0 120.9,271.0 121.2,271.2 121.5,270.6 121.8,270.4 122.1,269.9 122.4,268.4 122.7,266.8 123.0,264.2 123.3,262.4 123.6,260.5 124.0,258.1 124.3,256.1 124.6,256.0 124.9,257.1 125.2,258.6 125.5,259.6 125.8,260.8 126.1,262.7 126.4,264.8 126.7,266.1 127.0,266.9 127.3,266.4 127.6,265.6 127.9,266.7 128.2,268.1 128.5,271.3 128.8,273.7 129.1,274.7 129.4,275.6 129.7,274.3 130.1,271.0 130.4,266.5 130.7,261.8 131.0,258.3 131.3,256.0 131.6,255.3 131.9,257.0 132.2,258.4 132.5,258.9 132.8,259.6 133.1,262.3 133.4,265.2 133.7,266.2 134.0,266.5 134.3,269.0 134.6,271.0 134.9,271.5 135.2,271.3 135.5,270.5 135.8,270.8 136.1,270.9 136.5,271.7 136.8,271.6 137.1,270.6 137.4,268.4 137.7,266.8 138.0,266.2 138.3,266.5 138.6,268.5 138.9,269.4 139.2,270.1 139.5,270.5 139.8,269.9 140.1,268.5 140.4,266.3 140.7,263.8 141.0,261.1 141.3,257.0 141.6,250.9 141.9,244.7 142.2,242.8 142.6,246.3 142.9,252.9 143.2,259.4 143.5,264.1 143.8,266.7 144.1,268.9 144.4,269.9 144.7,270.7 145.0,272.4 145.3,273.9 145.6,273.1 145.9,271.4 146.2,269.9 146.5,268.6 146.8,268.7 147.1,269.2 147.4,268.4 147.7,265.7 148.0,262.6 148.3,258.1 148.7,253.6 149.0,251.5 149.3,251.4 149.6,253.4 149.9,257.6 150.2,262.3 150.5,265.9 150.8,268.8 151.1,271.4 151.4,271.8 151.7,269.5 152.0,267.7 152.3,267.8 152.6,267.7 152.9,266.2 153.2,263.7 153.5,261.5 153.8,260.4 154.1,261.6 154.4,263.5 154.8,264.6 155.1,266.4 155.4,267.9 155.7,268.1 156.0,268.2 156.3,267.8 156.6,266.9 156.9,266.2 157.2,264.0 157.5,263.8 157.8,264.8 158.1,265.5 158.4,266.9 158.7,267.6 159.0,266.8 159.3,264.6 159.6,263.4 159.9,263.0 160.2,263.3 160.6,264.9 160.9,266.5 161.2,267.6 161.5,268.2 161.8,270.1 162.1,270.4 162.4,269.6 162.7,269.7 163.0,270.3 163.3,271.2 163.6,270.3 163.9,269.1 164.2,269.2 164.5,269.0 164.8,267.5 165.1,265.3 165.4,262.6 165.7,262.7 166.0,264.8 166.3,266.4 166.7,268.0 167.0,268.6 167.3,268.2 167.6,266.9 167.9,264.7 168.2,261.6 168.5,259.6 168.8,257.8 169.1,256.7 169.4,257.3 169.7,259.6 170.0,262.2 170.3,264.0 170.6,265.6 170.9,267.6 171.2,269.5 171.5,270.1 171.8,269.6 172.1,268.5 172.4,266.3 172.8,262.8 173.1,258.2 173.4,254.1 173.7,252.8 174.0,255.6 174.3,259.1 174.6,262.1 174.9,264.6 175.2,265.6 175.5,266.1 175.8,266.6 176.1,266.4 176.4,267.1 176.7,267.9 177.0,267.6 177.3,268.3 177.6,269.5 177.9,268.4 178.2,265.2 178.5,263.5 178.8,262.1 179.2,260.8 179.5,260.4 179.8,261.8 180.1,265.0 180.4,267.8 180.7,269.3 181.0,270.4 181.3,270.5 181.6,270.9 181.9,270.8 182.2,270.0 182.5,268.9 182.8,268.2 183.1,267.3 183.4,266.9 183.7,268.2 184.0,269.9 184.3,272.4 184.6,273.5 184.9,272.1 185.3,270.6 185.6,270.0 185.9,270.9 186.2,271.9 186.5,271.5 186.8,269.7 187.1,267.7 187.4,265.6 187.7,263.9 188.0,263.4 188.3,265.5 188.6,267.8 188.9,270.6 189.2,271.4 189.5,271.3 189.8,270.6 190.1,269.9 190.4,267.8 190.7,266.2 191.0,264.2 191.4,260.0 191.7,255.6 192.0,254.3 192.3,255.2 192.6,256.9 192.9,258.4 193.2,260.5 193.5,263.3 193.8,265.4 194.1,266.7 194.4,267.4 194.7,268.2 195.0,270.7 195.3,273.3 195.6,275.5 195.9,277.2 196.2,276.3 196.5,274.4 196.8,273.3 197.2,271.5 197.5,269.9 197.8,269.2 198.1,269.8 198.4,270.4 198.7,270.9 199.0,271.7 199.3,271.7 199.6,271.4 199.9,271.9 200.2,273.6 200.5,274.8 200.8,274.9 201.1,273.5 201.4,271.4 201.7,269.6 202.0,268.6 202.3,265.7 202.6,263.4 202.9,263.7 203.2,264.7 203.6,265.9 203.9,266.8 204.2,267.1 204.5,266.2 204.8,263.9 205.1,262.4 205.4,261.9 205.7,263.5 206.0,266.5 206.3,268.3 206.6,268.1 206.9,268.5 207.2,268.9 207.5,268.9 207.8,267.0 208.1,263.1 208.4,258.6 208.7,255.4 209.0,254.7 209.3,256.8 209.7,260.4 210.0,264.1 210.3,267.3 210.6,270.2 210.9,270.3 211.2,269.3 211.5,270.3 211.8,271.9 212.1,272.4 212.4,272.3 212.7,271.6 213.0,270.9 213.3,269.4 213.6,268.2 213.9,266.7 214.2,266.8 214.5,266.8 214.8,266.0 215.1,264.6 215.4,263.8 215.8,264.0 216.1,265.0 216.4,265.6 216.7,265.2 217.0,264.9 217.3,264.4 217.6,264.8 217.9,263.3 218.2,261.7 218.5,261.7" stroke="#c97be6"/><polyline points="35.5,338.0 35.8,333.0 36.1,327.9 36.4,322.9 36.7,317.8 37.0,312.8 37.3,307.8 37.6,302.7 37.9,297.7 38.2,292.6 38.5,287.6 38.9,282.6 39.2,277.5 39.5,272.5 39.8,267.5 40.1,262.4 40.4,257.4 40.7,252.3 41.0,247.3 41.3,242.3 41.6,237.2 41.9,232.2 42.2,230.2 42.5,238.8 42.8,247.5 43.1,256.1 43.4,253.8 43.7,251.4 44.0,249.0 44.3,246.7 44.6,248.2 45.0,249.8 45.3,251.3 45.6,252.9 45.9,254.4 46.2,255.9 46.5,257.5 46.8,258.2 47.1,258.9 47.4,259.6 47.7,260.3 48.0,261.0 48.3,261.7 48.6,262.4 48.9,263.1 49.2,263.9 49.5,264.2 49.8,264.5 50.1,264.9 50.4,265.2 50.8,265.6 51.1,265.9 51.4,266.3 51.7,267.8 52.0,269.4 52.3,270.9 52.6,272.5 52.9,274.1 53.2,275.6 53.5,274.7 53.8,273.9 54.1,272.9 54.4,271.9 54.7,270.9 55.0,268.9 55.3,265.9 55.6,264.5 55.9,265.4 56.2,268.0 56.5,270.8 56.8,272.0 57.2,272.1 57.5,272.3 57.8,273.7 58.1,274.1 58.4,272.4 58.7,270.9 59.0,271.1 59.3,270.9 59.6,268.6 59.9,265.1 60.2,262.2 60.5,259.7 60.8,257.9 61.1,258.4 61.4,260.9 61.7,264.8 62.0,268.7 62.3,272.0 62.6,273.2 63.0,272.8 63.3,272.0 63.6,272.9 63.9,272.3 64.2,271.5 64.5,270.6 64.8,268.5 65.1,266.3 65.4,266.1 65.7,266.8 66.0,268.1 66.3,269.9 66.6,271.4 66.9,272.1 67.2,273.1 67.5,273.2 67.8,272.3 68.1,270.5 68.4,268.4 68.7,266.5 69.0,264.5 69.4,263.4 69.7,262.0 70.0,262.4 70.3,264.4 70.6,267.6 70.9,270.5 71.2,270.4 71.5,268.7 71.8,267.4 72.1,268.1 72.4,269.4 72.7,271.6 73.0,273.4 73.3,274.5 73.6,273.8 73.9,273.2 74.2,273.2 74.5,271.6 74.8,271.0 75.2,270.3 75.5,269.6 75.8,268.7 76.1,268.2 76.4,267.3 76.7,265.7 77.0,265.7 77.3,264.4 77.6,263.1 77.9,264.1 78.2,265.4 78.5,267.3 78.8,269.4 79.1,271.2 79.4,272.5 79.7,272.3 80.0,271.4 80.3,269.2 80.6,267.9 80.9,266.8 81.2,266.1 81.6,265.0 81.9,262.7 82.2,261.7 82.5,261.6 82.8,262.5 83.1,265.1 83.4,269.4 83.7,273.3 84.0,274.3 84.3,271.7 84.6,267.8 84.9,264.0 85.2,260.7 85.5,260.3 85.8,263.2 86.1,265.8 86.4,267.3 86.7,269.1 87.0,269.2 87.3,267.7 87.7,266.3 88.0,266.1 88.3,265.9 88.6,266.9 88.9,269.4 89.2,271.4 89.5,270.5 89.8,269.3 90.1,267.9 90.4,267.4 90.7,267.4 91.0,265.1 91.3,262.2 91.6,259.5 91.9,258.8 92.2,261.7 92.5,265.5 92.8,268.0 93.1,267.3 93.4,263.9 93.8,262.1 94.1,262.7 94.4,264.5 94.7,267.7 95.0,269.2 95.3,269.6 95.6,269.2 95.9,268.6 96.2,267.6 96.5,267.1 96.8,268.1 97.1,269.4 97.4,270.7 97.7,269.1 98.0,265.9 98.3,263.9 98.6,265.3 98.9,267.7 99.2,270.8 99.5,273.8 99.9,275.1 100.2,274.2 100.5,271.9 100.8,270.0 101.1,272.5 101.4,274.6 101.7,273.2 102.0,272.0 102.3,270.5 102.6,269.2 102.9,267.7 103.2,263.1 103.5,256.3 103.8,253.0 104.1,255.4 104.4,260.0 104.7,266.2 105.0,270.7 105.3,270.7 105.6,269.2 106.0,269.1 106.3,268.5 106.6,268.9 106.9,270.7 107.2,272.6 107.5,273.8 107.8,274.5 108.1,274.5 108.4,271.5 108.7,265.5 109.0,260.0 109.3,257.6 109.6,258.3 109.9,261.3 110.2,264.0 110.5,264.3 110.8,263.6 111.1,263.4 111.4,263.1 111.8,264.1 112.1,267.0 112.4,270.4 112.7,272.8 113.0,272.1 113.3,269.8 113.6,268.1 113.9,267.6 114.2,267.6 114.5,268.3 114.8,269.6 115.1,270.7 115.4,270.4 115.7,269.0 116.0,268.0 116.3,269.4 116.6,272.2 116.9,272.7 117.2,271.8 117.5,269.4 117.8,264.9 118.2,260.9 118.5,258.1 118.8,256.3 119.1,257.7 119.4,262.3 119.7,267.8 120.0,271.2 120.3,271.8 120.6,271.9 120.9,273.1 121.2,273.9 121.5,275.1 121.8,276.2 122.1,276.3 122.4,274.0 122.7,271.3 123.0,268.6 123.3,265.4 123.6,262.7 124.0,260.9 124.3,260.3 124.6,261.5 124.9,263.1 125.2,264.4 125.5,266.5 125.8,268.5 126.1,268.0 126.4,266.8 126.7,266.7 127.0,266.3 127.3,266.1 127.6,265.8 127.9,265.8 128.2,267.4 128.5,271.6 128.8,275.8 129.1,277.4 129.4,278.7 129.7,277.9 130.1,275.6 130.4,274.0 130.7,272.7 131.0,270.3 131.3,267.1 131.6,262.6 131.9,259.6 132.2,259.3 132.5,259.5 132.8,259.8 133.1,260.7 133.4,262.9 133.7,265.2 134.0,266.5 134.3,268.2 134.6,271.0 134.9,273.2 135.2,273.7 135.5,272.2 135.8,269.2 136.1,265.6 136.5,262.2 136.8,260.1 137.1,261.0 137.4,264.0 137.7,267.1 138.0,269.5 138.3,271.9 138.6,272.3 138.9,271.7 139.2,270.8 139.5,271.3 139.8,271.2 140.1,269.1 140.4,266.5 140.7,264.4 141.0,263.5 141.3,262.1 141.6,261.8 141.9,262.2 142.2,262.0 142.6,260.8 142.9,258.9 143.2,258.7 143.5,260.6 143.8,262.9 144.1,265.9 144.4,268.2 144.7,269.6 145.0,269.4 145.3,269.4 145.6,269.6 145.9,269.0 146.2,267.4 146.5,265.7 146.8,265.3 147.1,264.4 147.4,263.2 147.7,261.2 148.0,259.1 148.3,257.6 148.7,257.9 149.0,260.5 149.3,262.6 149.6,264.7 149.9,267.8 150.2,269.4 150.5,269.7 150.8,269.7 151.1,269.3 151.4,269.6 151.7,271.3 152.0,271.0 152.3,269.4 152.6,268.7 152.9,267.9 153.2,268.3 153.5,269.1 153.8,269.1 154.1,267.7 154.4,265.4 154.8,264.7 155.1,265.6 155.4,266.7 155.7,267.9 156.0,269.0 156.3,269.9 156.6,268.2 156.9,265.0 157.2,263.3 157.5,262.4 157.8,261.5 158.1,261.6 158.4,263.2 158.7,263.2 159.0,262.3 159.3,262.0 159.6,264.8 159.9,268.0 160.2,268.4 160.6,267.1 160.9,266.1 161.2,263.7 161.5,262.0 161.8,263.0 162.1,263.5 162.4,262.9 162.7,263.2 163.0,265.5 163.3,267.6 163.6,267.7 163.9,267.6 164.2,265.5 164.5,262.0 164.8,260.8 165.1,263.5 165.4,268.0 165.7,273.3 166.0,277.4 166.3,279.1 166.7,279.7 167.0,279.2 167.3,276.7 167.6,273.0 167.9,270.7 168.2,268.4 168.5,265.4 168.8,263.4 169.1,262.8 169.4,262.6 169.7,262.8 170.0,264.2 170.3,265.1 170.6,266.0 170.9,266.8 171.2,268.1 171.5,268.3 171.8,267.2 172.1,266.3 172.4,264.7 172.8,262.9 173.1,261.9 173.4,261.0 173.7,260.2 174.0,261.5 174.3,263.2 174.6,265.6 174.9,267.8 175.2,267.7 175.5,267.7 175.8,267.1 176.1,267.3 176.4,268.4 176.7,268.7 177.0,268.7 177.3,268.5 177.6,266.5 177.9,263.1 178.2,259.8 178.5,257.6 178.8,258.2 179.2,260.2 179.5,263.7 179.8,267.1 180.1,270.0 180.4,273.4 180.7,276.2 181.0,275.7 181.3,274.5 181.6,274.3 181.9,273.6 182.2,271.3 182.5,268.8 182.8,267.2 183.1,267.1 183.4,268.6 183.7,270.2 184.0,270.6 184.3,270.6 184.6,270.3 184.9,270.3 185.3,269.9 185.6,271.1 185.9,272.7 186.2,271.9 186.5,269.9 186.8,268.4 187.1,266.4 187.4,264.6 187.7,265.0 188.0,266.1 188.3,268.7 188.6,270.0 188.9,269.6 189.2,269.6 189.5,270.1 189.8,269.8 190.1,268.4 190.4,267.3 190.7,264.4 191.0,261.5 191.4,260.1 191.7,259.0 192.0,257.8 192.3,258.1 192.6,259.4 192.9,262.0 193.2,263.3 193.5,264.2 193.8,266.1 194.1,269.5 194.4,273.6 194.7,276.4 195.0,277.1 195.3,278.1 195.6,277.7 195.9,275.3 196.2,273.4 196.5,272.7 196.8,272.5 197.2,272.2 197.5,271.4 197.8,269.9 198.1,268.4 198.4,266.2 198.7,265.7 199.0,267.7 199.3,269.5 199.6,271.7 199.9,272.9 200.2,272.4 200.5,270.6 200.8,269.1 201.1,266.9 201.4,265.4 201.7,265.1 202.0,265.1 202.3,264.8 202.6,265.7 202.9,266.2 203.2,267.2 203.6,269.0 203.9,270.0 204.2,270.0 204.5,270.4 204.8,271.3 205.1,271.1 205.4,270.7 205.7,268.8 206.0,266.5 206.3,265.0 206.6,265.0 206.9,266.4 207.2,268.5 207.5,269.2 207.8,269.0 208.1,266.6 208.4,265.0 208.7,265.8 209.0,266.2 209.3,264.9 209.7,265.6 210.0,267.7 210.3,269.0 210.6,269.1 210.9,267.8 211.2,267.7 211.5,269.0 211.8,269.0 212.1,270.3 212.4,272.1 212.7,272.5 213.0,271.7 213.3,270.0 213.6,268.9 213.9,268.6 214.2,267.5 214.5,267.3 214.8,268.0 215.1,266.4 215.4,263.1 215.8,260.2 216.1,258.0 216.4,256.0 216.7,255.4 217.0,256.7 217.3,260.2 217.6,263.3 217.9,264.6 218.2,266.2 218.5,266.3" stroke="#efa63c"/><polyline points="35.5,338.0 35.8,332.6 36.1,327.2 36.4,321.8 36.7,316.4 37.0,311.1 37.3,305.7 37.6,300.3 37.9,294.9 38.2,289.5 38.5,284.1 38.9,278.7 39.2,273.3 39.5,267.9 39.8,262.6 40.1,257.2 40.4,251.8 40.7,246.4 41.0,241.0 41.3,235.6 41.6,230.2 41.9,235.7 42.2,241.4 42.5,247.1 42.8,252.8 43.1,258.5 43.4,256.3 43.7,254.1 44.0,251.9 44.3,249.7 44.6,250.0 45.0,250.2 45.3,250.5 45.6,250.7 45.9,251.0 46.2,251.2 46.5,251.5 46.8,252.4 47.1,253.3 47.4,254.1 47.7,255.0 48.0,255.9 48.3,256.8 48.6,257.7 48.9,258.6 49.2,259.5 49.5,261.0 49.8,262.5 50.1,264.0 50.4,265.5 50.8,267.0 51.1,268.5 51.4,270.0 51.7,270.3 52.0,270.6 52.3,270.8 52.6,271.1 52.9,271.3 53.2,271.6 53.5,271.4 53.8,271.2 54.1,270.3 54.4,269.6 54.7,269.1 55.0,269.3 55.3,269.6 55.6,269.6 55.9,270.2 56.2,272.8 56.5,275.3 56.8,275.2 57.2,275.6 57.5,277.3 57.8,277.2 58.1,275.3 58.4,273.4 58.7,270.6 59.0,267.3 59.3,264.4 59.6,262.3 59.9,260.8 60.2,259.8 60.5,260.3 60.8,261.4 61.1,263.6 61.4,266.2 61.7,267.2 62.0,267.7 62.3,269.0 62.6,271.0 63.0,272.0 63.3,271.3 63.6,269.9 63.9,268.8 64.2,266.7 64.5,264.2 64.8,263.4 65.1,263.1 65.4,264.7 65.7,266.9 66.0,269.2 66.3,272.6 66.6,275.2 66.9,275.5 67.2,276.6 67.5,277.1 67.8,278.1 68.1,276.1 68.4,272.4 68.7,268.7 69.0,266.7 69.4,266.6 69.7,265.9 70.0,264.6 70.3,264.6 70.6,267.0 70.9,270.2 71.2,269.8 71.5,268.2 71.8,266.8 72.1,265.4 72.4,266.8 72.7,270.5 73.0,273.3 73.3,274.0 73.6,273.2 73.9,272.3 74.2,272.0 74.5,271.8 74.8,271.4 75.2,271.0 75.5,270.7 75.8,270.9 76.1,271.9 76.4,271.5 76.7,272.5 77.0,273.3 77.3,271.6 77.6,269.6 77.9,269.2 78.2,270.1 78.5,271.2 78.8,271.6 79.1,271.2 79.4,269.7 79.7,267.9 80.0,268.1 80.3,269.3 80.6,269.8 80.9,270.5 81.2,269.6 81.6,268.6 81.9,266.7 82.2,266.8 82.5,268.8 82.8,270.2 83.1,271.7 83.4,273.2 83.7,273.7 84.0,273.0 84.3,269.8 84.6,265.5 84.9,261.6 85.2,258.9 85.5,257.2 85.8,258.3 86.1,261.8 86.4,265.7 86.7,266.8 87.0,266.4 87.3,265.5 87.7,264.3 88.0,264.9 88.3,266.2 88.6,266.8 88.9,267.4 89.2,268.2 89.5,269.5 89.8,269.4 90.1,268.8 90.4,267.7 90.7,265.5 91.0,263.6 91.3,262.9 91.6,261.1 91.9,260.2 92.2,261.6 92.5,264.1 92.8,264.9 93.1,266.6 93.4,269.6 93.8,270.8 94.1,271.7 94.4,271.8 94.7,269.5 95.0,267.1 95.3,265.4 95.6,263.2 95.9,260.3 96.2,259.9 96.5,262.1 96.8,265.1 97.1,265.9 97.4,265.1 97.7,263.6 98.0,261.7 98.3,261.7 98.6,263.6 98.9,266.2 99.2,270.1 99.5,273.3 99.9,274.2 100.2,274.1 100.5,274.6 100.8,274.3 101.1,272.8 101.4,272.3 101.7,272.4 102.0,271.8 102.3,268.9 102.6,265.5 102.9,261.7 103.2,258.7 103.5,258.9 103.8,261.2 104.1,263.7 104.4,267.0 104.7,268.8 105.0,270.3 105.3,271.3 105.6,270.5 106.0,270.7 106.3,271.7 106.6,273.3 106.9,275.1 107.2,274.8 107.5,273.8 107.8,273.5 108.1,271.9 108.4,267.7 108.7,264.3 109.0,261.1 109.3,257.9 109.6,258.1 109.9,260.3 110.2,261.2 110.5,261.4 110.8,261.3 111.1,261.3 111.4,263.6 111.8,265.5 112.1,267.2 112.4,268.0 112.7,267.8 113.0,267.9 113.3,266.9 113.6,264.7 113.9,263.0 114.2,262.4 114.5,263.9 114.8,265.3 115.1,267.2 115.4,268.9 115.7,269.5 116.0,271.2 116.3,273.6 116.6,275.8 116.9,274.6 117.2,272.2 117.5,271.1 117.8,268.5 118.2,265.3 118.5,263.9 118.8,263.1 119.1,264.0 119.4,266.4 119.7,268.4 120.0,268.7 120.3,269.3 120.6,270.8 120.9,272.3 121.2,273.6 121.5,273.8 121.8,273.5 122.1,273.0 122.4,271.4 122.7,266.9 123.0,262.6 123.3,258.7 123.6,255.8 124.0,255.7 124.3,256.5 124.6,259.4 124.9,262.3 125.2,264.3 125.5,267.7 125.8,270.2 126.1,270.9 126.4,271.0 126.7,270.9 127.0,269.6 127.3,268.1 127.6,266.9 127.9,265.5 128.2,266.0 128.5,268.2 128.8,271.0 129.1,274.0 129.4,275.2 129.7,275.4 130.1,274.1 130.4,270.3 130.7,266.3 131.0,261.7 131.3,258.2 131.6,256.5 131.9,256.0 132.2,254.8 132.5,254.9 132.8,255.5 133.1,256.8 133.4,259.4 133.7,263.2 134.0,265.2 134.3,266.3 134.6,267.1 134.9,267.5 135.2,267.6 135.5,266.9 135.8,266.3 136.1,265.9 136.5,266.3 136.8,266.3 137.1,265.8 137.4,265.7 137.7,266.6 138.0,268.3 138.3,270.8 138.6,274.8 138.9,276.3 139.2,275.6 139.5,275.8 139.8,275.6 140.1,275.4 140.4,273.8 140.7,272.7 141.0,272.1 141.3,269.7 141.6,266.6 141.9,261.9 142.2,255.2 142.6,251.1 142.9,249.9 143.2,250.0 143.5,253.7 143.8,258.4 144.1,262.3 144.4,265.3 144.7,266.6 145.0,266.6 145.3,267.7 145.6,269.2 145.9,268.4 146.2,266.7 146.5,264.1 146.8,261.2 147.1,259.2 147.4,257.0 147.7,254.4 148.0,253.3 148.3,255.3 148.7,256.9 149.0,258.2 149.3,260.9 149.6,263.2 149.9,265.5 150.2,268.1 150.5,269.6 150.8,269.9 151.1,269.0 151.4,270.1 151.7,271.0 152.0,270.2 152.3,268.7 152.6,268.4 152.9,268.3 153.2,268.0 153.5,268.3 153.8,268.6 154.1,269.1 154.4,268.2 154.8,266.7 155.1,264.8 155.4,264.1 155.7,264.1 156.0,264.4 156.3,265.6 156.6,266.5 156.9,267.8 157.2,268.0 157.5,266.7 157.8,266.6 158.1,266.9 158.4,267.1 158.7,266.7 159.0,265.7 159.3,263.8 159.6,263.8 159.9,265.5 160.2,267.7 160.6,269.8 160.9,270.4 161.2,269.2 161.5,267.7 161.8,265.2 162.1,264.9 162.4,266.9 162.7,268.7 163.0,268.7 163.3,268.5 163.6,267.5 163.9,265.7 164.2,266.1 164.5,264.9 164.8,264.7 165.1,265.8 165.4,266.6 165.7,267.3 166.0,269.3 166.3,271.1 166.7,271.2 167.0,271.6 167.3,271.0 167.6,269.5 167.9,267.8 168.2,265.9 168.5,262.6 168.8,259.1 169.1,255.9 169.4,255.4 169.7,257.3 170.0,260.4 170.3,263.0 170.6,264.6 170.9,265.3 171.2,266.1 171.5,267.7 171.8,269.2 172.1,269.4 172.4,268.3 172.8,267.4 173.1,265.6 173.4,263.8 173.7,261.4 174.0,259.3 174.3,260.2 174.6,262.3 174.9,263.8 175.2,264.7 175.5,265.2 175.8,265.3 176.1,265.7 176.4,266.5 176.7,266.7 177.0,264.2 177.3,260.4 177.6,259.5 177.9,261.3 178.2,262.4 178.5,262.3 178.8,264.0 179.2,264.9 179.5,265.2 179.8,265.9 180.1,267.1 180.4,268.5 180.7,270.7 181.0,273.6 181.3,276.0 181.6,276.7 181.9,275.3 182.2,272.2 182.5,269.8 182.8,268.0 183.1,266.2 183.4,264.3 183.7,262.9 184.0,263.3 184.3,263.9 184.6,264.6 184.9,266.2 185.3,267.3 185.6,269.7 185.9,272.9 186.2,272.2 186.5,271.5 186.8,271.0 187.1,268.0 187.4,264.2 187.7,260.3 188.0,258.4 188.3,259.5 188.6,263.2 188.9,268.0 189.2,271.5 189.5,272.0 189.8,271.2 190.1,270.4 190.4,268.9 190.7,266.3 191.0,263.4 191.4,261.1 191.7,260.0 192.0,259.3 192.3,259.7 192.6,262.1 192.9,266.3 193.2,269.9 193.5,271.4 193.8,271.3 194.1,273.1 194.4,273.3 194.7,272.6 195.0,274.6 195.3,276.4 195.6,277.2 195.9,277.7 196.2,277.2 196.5,276.0 196.8,274.8 197.2,272.4 197.5,269.8 197.8,269.6 198.1,268.7 198.4,267.4 198.7,266.5 199.0,266.1 199.3,266.3 199.6,268.1 199.9,269.2 200.2,269.4 200.5,270.8 200.8,271.3 201.1,271.1 201.4,269.9 201.7,267.8 202.0,265.8 202.3,264.2 202.6,262.8 202.9,262.0 203.2,261.9 203.6,262.1 203.9,262.2 204.2,262.7 204.5,263.5 204.8,265.9 205.1,267.3 205.4,267.3 205.7,267.8 206.0,267.1 206.3,266.8 206.6,268.2 206.9,268.4 207.2,267.6 207.5,267.1 207.8,267.2 208.1,265.9 208.4,262.5 208.7,258.6 209.0,256.8 209.3,258.0 209.7,261.0 210.0,264.2 210.3,266.4 210.6,268.1 210.9,269.7 211.2,268.6 211.5,267.0 211.8,267.5 212.1,268.8 212.4,270.5 212.7,272.5 213.0,272.9 213.3,271.2 213.6,268.6 213.9,267.3 214.2,266.2 214.5,264.9 214.8,263.6 215.1,261.6 215.4,260.3 215.8,260.7 216.1,262.1 216.4,265.3 216.7,268.6 217.0,270.0 217.3,270.1 217.6,268.8 217.9,266.4 218.2,264.3 218.5,264.0" stroke="#3cd4d4"/><polyline points="35.5,338.0 35.8,333.1 36.1,328.2 36.4,323.3 36.7,318.4 37.0,313.5 37.3,308.6 37.6,303.7 37.9,298.8 38.2,293.8 38.5,288.9 38.9,284.0 39.2,279.1 39.5,274.2 39.8,269.3 40.1,264.4 40.4,259.5 40.7,254.6 41.0,249.7 41.3,244.8 41.6,239.9 41.9,235.0 42.2,234.5 42.5,241.5 42.8,248.5 43.1,255.4 43.4,253.3 43.7,251.2 44.0,249.0 44.3,246.9 44.6,247.8 45.0,248.8 45.3,249.7 45.6,250.7 45.9,251.7 46.2,252.6 46.5,253.6 46.8,254.3 47.1,255.1 47.4,255.9 47.7,256.7 48.0,257.5 48.3,258.2 48.6,259.0 48.9,259.8 49.2,260.6 49.5,261.5 49.8,262.5 50.1,263.5 50.4,264.4 50.8,265.4 51.1,266.4 51.4,267.3 51.7,268.6 52.0,269.9 52.3,271.2 52.6,272.4 52.9,273.7 53.2,275.0 53.5,274.2 53.8,273.4 54.1,272.2 54.4,271.4 54.7,270.8 55.0,270.6 55.3,270.2 55.6,269.5 55.9,270.4 56.2,271.5 56.5,271.8 56.8,272.7 57.2,272.4 57.5,270.6 57.8,267.9 58.1,265.5 58.4,264.0 58.7,263.5 59.0,262.9 59.3,262.2 59.6,261.8 59.9,262.5 60.2,264.5 60.5,266.0 60.8,267.9 61.1,271.2 61.4,274.6 61.7,275.1 62.0,275.0 62.3,273.6 62.6,273.1 63.0,273.3 63.3,272.1 63.6,270.0 63.9,268.2 64.2,268.5 64.5,269.1 64.8,268.1 65.1,267.9 65.4,267.7 65.7,268.6 66.0,270.8 66.3,273.7 66.6,274.2 66.9,274.3 67.2,273.9 67.5,273.9 67.8,274.1 68.1,273.7 68.4,272.3 68.7,270.1 69.0,266.1 69.4,262.5 69.7,260.6 70.0,261.9 70.3,265.5 70.6,269.1 70.9,272.3 71.2,273.9 71.5,274.0 71.8,273.4 72.1,272.2 72.4,272.2 72.7,273.1 73.0,274.4 73.3,275.6 73.6,275.1 73.9,272.9 74.2,270.6 74.5,268.7 74.8,267.3 75.2,265.2 75.5,263.4 75.8,264.2 76.1,265.1 76.4,265.3 76.7,265.3 77.0,265.7 77.3,264.9 77.6,263.2 77.9,262.4 78.2,262.9 78.5,263.9 78.8,265.0 79.1,265.9 79.4,266.2 79.7,267.2 80.0,268.0 80.3,268.7 80.6,269.0 80.9,269.9 81.2,270.4 81.6,270.2 81.9,269.1 82.2,268.6 82.5,268.4 82.8,267.7 83.1,267.3 83.4,266.8 83.7,266.5 84.0,267.3 84.3,268.2 84.6,269.5 84.9,268.5 85.2,265.4 85.5,261.1 85.8,257.4 86.1,257.2 86.4,260.6 86.7,264.3 87.0,266.2 87.3,267.4 87.7,267.5 88.0,266.3 88.3,265.8 88.6,266.4 88.9,268.6 89.2,270.6 89.5,270.7 89.8,269.1 90.1,267.4 90.4,266.5 90.7,266.8 91.0,266.7 91.3,266.6 91.6,265.8 91.9,265.9 92.2,268.1 92.5,269.8 92.8,270.8 93.1,269.7 93.4,268.8 93.8,271.8 94.1,273.0 94.4,271.4 94.7,269.5 95.0,267.6 95.3,267.8 95.6,269.7 95.9,270.9 96.2,269.3 96.5,267.6 96.8,267.1 97.1,265.5 97.4,263.5 97.7,261.9 98.0,264.1 98.3,267.9 98.6,270.8 98.9,273.5 99.2,275.5 99.5,275.7 99.9,274.7 100.2,273.1 100.5,271.2 100.8,270.7 101.1,272.2 101.4,272.9 101.7,272.0 102.0,272.2 102.3,272.1 102.6,271.7 102.9,269.3 103.2,264.7 103.5,261.3 103.8,259.6 104.1,261.5 104.4,266.7 104.7,271.9 105.0,273.0 105.3,272.6 105.6,271.0 106.0,269.8 106.3,268.0 106.6,266.3 106.9,267.2 107.2,268.6 107.5,269.8 107.8,270.4 108.1,268.9 108.4,266.1 108.7,264.6 109.0,264.5 109.3,266.0 109.6,268.2 109.9,269.6 110.2,269.9 110.5,268.9 110.8,268.0 111.1,268.2 111.4,269.5 111.8,270.2 112.1,269.4 112.4,268.7 112.7,267.6 113.0,265.0 113.3,263.5 113.6,262.2 113.9,259.4 114.2,258.1 114.5,260.9 114.8,264.6 115.1,267.2 115.4,267.9 115.7,268.2 116.0,269.8 116.3,271.1 116.6,272.7 116.9,273.0 117.2,272.1 117.5,271.3 117.8,271.0 118.2,270.4 118.5,268.8 118.8,267.8 119.1,266.7 119.4,265.7 119.7,267.1 120.0,271.4 120.3,273.4 120.6,274.3 120.9,274.3 121.2,274.5 121.5,274.6 121.8,274.4 122.1,274.2 122.4,272.6 122.7,270.0 123.0,266.0 123.3,264.5 123.6,265.7 124.0,267.0 124.3,269.1 124.6,271.3 124.9,272.0 125.2,270.0 125.5,267.8 125.8,267.5 126.1,269.0 126.4,269.8 126.7,270.0 127.0,270.3 127.3,269.6 127.6,268.8 127.9,268.2 128.2,268.9 128.5,271.1 128.8,274.7 129.1,277.4 129.4,276.9 129.7,273.7 130.1,269.9 130.4,265.5 130.7,260.4 131.0,257.3 131.3,257.1 131.6,258.2 131.9,260.6 132.2,262.4 132.5,263.9 132.8,265.2 133.1,265.7 133.4,266.4 133.7,267.8 134.0,269.2 134.3,269.9 134.6,271.2 134.9,271.4 135.2,270.9 135.5,269.4 135.8,268.6 136.1,268.3 136.5,266.9 136.8,265.8 137.1,266.2 137.4,268.0 137.7,270.0 138.0,271.6 138.3,272.5 138.6,272.7 138.9,272.9 139.2,271.5 139.5,271.3 139.8,271.3 140.1,271.4 140.4,271.6 140.7,271.9 141.0,270.9 141.3,269.5 141.6,267.1 141.9,261.8 142.2,256.3 142.6,253.9 142.9,252.9 143.2,253.0 143.5,253.6 143.8,257.0 144.1,262.0 144.4,267.3 144.7,270.6 145.0,271.6 145.3,270.5 145.6,269.7 145.9,268.8 146.2,268.7 146.5,269.3 146.8,270.6 147.1,271.7 147.4,270.9 147.7,268.7 148.0,266.6 148.3,265.8 148.7,264.6 149.0,263.0 149.3,263.7 149.6,265.6 149.9,267.2 150.2,268.7 150.5,268.7 150.8,268.8 151.1,269.9 151.4,270.8 151.7,271.2 152.0,271.8 152.3,270.9 152.6,270.4 152.9,269.2 153.2,267.0 153.5,263.4 153.8,261.1 154.1,260.0 154.4,259.6 154.8,261.7 155.1,266.2 155.4,270.2 155.7,271.9 156.0,272.4 156.3,272.5 156.6,272.7 156.9,270.8 157.2,268.6 157.5,266.9 157.8,266.0 158.1,264.6 158.4,262.8 158.7,260.6 159.0,259.0 159.3,259.6 159.6,262.0 159.9,265.3 160.2,268.5 160.6,270.4 160.9,271.5 161.2,270.3 161.5,268.5 161.8,267.4 162.1,267.9 162.4,268.0 162.7,266.7 163.0,265.9 163.3,266.2 163.6,263.8 163.9,259.3 164.2,256.8 164.5,256.1 164.8,259.4 165.1,265.1 165.4,269.4 165.7,271.8 166.0,273.7 166.3,275.2 166.7,275.2 167.0,273.9 167.3,272.7 167.6,270.1 167.9,267.8 168.2,266.6 168.5,265.3 168.8,265.3 169.1,266.3 169.4,266.5 169.7,267.8 170.0,270.2 170.3,270.8 170.6,270.9 170.9,271.0 171.2,270.7 171.5,270.2 171.8,270.3 172.1,270.5 172.4,269.0 172.8,266.3 173.1,264.8 173.4,263.1 173.7,261.6 174.0,262.2 174.3,264.4 174.6,266.9 174.9,268.7 175.2,271.5 175.5,273.4 175.8,273.1 176.1,272.2 176.4,271.5 176.7,270.4 177.0,269.5 177.3,268.1 177.6,267.7 177.9,268.1 178.2,268.7 178.5,269.3 178.8,270.9 179.2,272.4 179.5,273.9 179.8,273.7 180.1,271.1 180.4,267.6 180.7,264.6 181.0,262.6 181.3,263.1 181.6,265.7 181.9,267.0 182.2,267.5 182.5,266.5 182.8,266.0 183.1,266.2 183.4,265.2 183.7,264.1 184.0,266.0 184.3,267.3 184.6,267.0 184.9,268.0 185.3,269.6 185.6,270.9 185.9,271.9 186.2,272.3 186.5,272.1 186.8,270.4 187.1,268.3 187.4,266.4 187.7,266.6 188.0,267.3 188.3,267.4 188.6,269.1 188.9,271.9 189.2,272.9 189.5,271.7 189.8,269.4 190.1,267.1 190.4,265.2 190.7,262.6 191.0,261.3 191.4,262.1 191.7,264.1 192.0,264.0 192.3,262.1 192.6,260.2 192.9,259.9 193.2,261.7 193.5,264.5 193.8,267.8 194.1,270.6 194.4,271.3 194.7,271.7 195.0,272.6 195.3,272.9 195.6,274.7 195.9,275.7 196.2,275.1 196.5,273.8 196.8,271.3 197.2,270.2 197.5,271.1 197.8,271.9 198.1,271.9 198.4,271.6 198.7,271.3 199.0,270.9 199.3,270.8 199.6,270.1 199.9,269.2 200.2,268.8 200.5,268.2 200.8,266.2 201.1,265.0 201.4,265.4 201.7,264.1 202.0,263.7 202.3,263.8 202.6,262.0 202.9,261.3 203.2,262.1 203.6,263.1 203.9,265.8 204.2,268.9 204.5,271.0 204.8,272.2 205.1,273.0 205.4,271.2 205.7,269.3 206.0,267.9 206.3,266.4 206.6,265.4 206.9,265.6 207.2,266.7 207.5,268.3 207.8,268.5 208.1,266.7 208.4,263.6 208.7,261.5 209.0,259.6 209.3,258.8 209.7,260.3 210.0,261.5 210.3,262.5 210.6,265.5 210.9,268.2 211.2,269.0 211.5,270.0 211.8,270.4 212.1,270.2 212.4,270.6 212.7,270.1 213.0,269.4 213.3,268.8 213.6,268.2 213.9,267.7 214.2,267.7 214.5,267.9 214.8,267.5 215.1,266.5 215.4,266.5 215.8,267.1 216.1,267.5 216.4,268.2 216.7,270.3 217.0,271.9 217.3,272.0 217.6,271.3 217.9,269.9 218.2,268.6 218.5,267.6" stroke="#a86c6c"/><polyline points="35.5,338.0 35.8,332.9 36.1,327.8 36.4,322.7 36.7,317.6 37.0,312.5 37.3,307.4 37.6,302.3 37.9,297.2 38.2,292.1 38.5,287.0 38.9,281.9 39.2,276.8 39.5,271.7 39.8,266.6 40.1,261.5 40.4,256.4 40.7,251.3 41.0,246.2 41.3,241.1 41.6,236.0 41.9,236.5 42.2,241.4 42.5,246.4 42.8,251.4 43.1,256.3 43.4,252.5 43.7,248.7 44.0,244.8 44.3,241.0 44.6,243.5 45.0,246.0 45.3,248.5 45.6,251.0 45.9,253.5 46.2,256.0 46.5,258.5 46.8,259.0 47.1,259.5 47.4,260.0 47.7,260.5 48.0,261.1 48.3,261.6 48.6,262.1 48.9,262.6 49.2,263.1 49.5,264.3 49.8,265.4 50.1,266.6 50.4,267.8 50.8,269.0 51.1,270.2 51.4,271.4 51.7,272.0 52.0,272.7 52.3,273.3 52.6,274.0 52.9,274.6 53.2,275.3 53.5,274.5 53.8,273.6 54.1,272.4 54.4,271.6 54.7,271.0 55.0,270.9 55.3,270.3 55.6,269.0 55.9,268.3 56.2,268.5 56.5,269.9 56.8,271.2 57.2,272.1 57.5,272.3 57.8,271.0 58.1,268.6 58.4,266.5 58.7,264.4 59.0,263.1 59.3,262.2 59.6,261.1 59.9,259.4 60.2,258.3 60.5,259.1 60.8,260.6 61.1,262.8 61.4,265.2 61.7,267.0 62.0,267.6 62.3,268.7 62.6,270.4 63.0,271.8 63.3,272.2 63.6,271.0 63.9,271.0 64.2,271.8 64.5,272.1 64.8,272.6 65.1,273.3 65.4,273.8 65.7,273.2 66.0,273.6 66.3,274.3 66.6,275.3 66.9,275.1 67.2,276.3 67.5,275.4 67.8,272.4 68.1,270.6 68.4,269.5 68.7,269.1 69.0,268.6 69.4,268.6 69.7,267.7 70.0,265.9 70.3,266.8 70.6,268.5 70.9,268.3 71.2,268.7 71.5,268.8 71.8,269.9 72.1,271.0 72.4,272.7 72.7,273.5 73.0,274.5 73.3,274.3 73.6,271.5 73.9,269.9 74.2,268.3 74.5,266.5 74.8,265.6 75.2,263.2 75.5,261.1 75.8,261.5 76.1,261.9 76.4,262.5 76.7,263.0 77.0,264.8 77.3,264.8 77.6,264.8 77.9,266.1 78.2,267.2 78.5,269.0 78.8,270.6 79.1,271.4 79.4,272.0 79.7,270.7 80.0,269.7 80.3,268.2 80.6,266.9 80.9,268.0 81.2,269.4 81.6,270.0 81.9,270.6 82.2,270.8 82.5,271.5 82.8,272.7 83.1,275.0 83.4,275.7 83.7,274.2 84.0,272.2 84.3,270.3 84.6,267.4 84.9,262.1 85.2,258.4 85.5,257.1 85.8,259.9 86.1,265.0 86.4,269.0 86.7,270.5 87.0,270.0 87.3,268.9 87.7,267.1 88.0,266.0 88.3,266.9 88.6,268.4 88.9,269.3 89.2,269.4 89.5,270.3 89.8,269.8 90.1,268.0 90.4,267.3 90.7,266.2 91.0,265.0 91.3,263.9 91.6,262.5 91.9,262.9 92.2,264.6 92.5,264.9 92.8,264.2 93.1,264.7 93.4,266.7 93.8,269.6 94.1,273.4 94.4,275.7 94.7,274.8 95.0,272.1 95.3,270.0 95.6,269.6 95.9,269.1 96.2,269.2 96.5,270.1 96.8,269.9 97.1,268.6 97.4,267.2 97.7,263.7 98.0,260.5 98.3,259.3 98.6,259.4 98.9,262.5 99.2,267.2 99.5,269.7 99.9,270.4 100.2,270.9 100.5,271.6 100.8,271.6 101.1,272.1 101.4,271.6 101.7,270.4 102.0,270.0 102.3,270.2 102.6,268.7 102.9,265.9 103.2,261.4 103.5,255.0 103.8,250.4 104.1,250.1 104.4,253.9 104.7,259.5 105.0,264.1 105.3,267.2 105.6,269.1 106.0,271.4 106.3,274.2 106.6,274.1 106.9,273.5 107.2,271.7 107.5,270.9 107.8,270.7 108.1,269.7 108.4,267.2 108.7,263.7 109.0,262.5 109.3,262.7 109.6,264.2 109.9,266.3 110.2,267.4 110.5,267.4 110.8,266.1 111.1,265.9 111.4,266.4 111.8,266.1 112.1,267.6 112.4,268.1 112.7,267.2 113.0,265.1 113.3,263.3 113.6,261.8 113.9,259.6 114.2,259.0 114.5,259.5 114.8,261.1 115.1,265.3 115.4,270.1 115.7,273.2 116.0,273.0 116.3,269.4 116.6,265.2 116.9,263.2 117.2,263.2 117.5,263.9 117.8,264.9 118.2,266.0 118.5,266.2 118.8,265.6 119.1,265.6 119.4,267.1 119.7,269.6 120.0,271.3 120.3,272.1 120.6,273.0 120.9,272.8 121.2,272.8 121.5,272.8 121.8,272.3 122.1,270.3 122.4,267.3 122.7,265.1 123.0,262.7 123.3,260.3 123.6,258.5 124.0,257.6 124.3,256.6 124.6,255.8 124.9,258.2 125.2,262.4 125.5,266.7 125.8,271.0 126.1,272.6 126.4,272.9 126.7,273.9 127.0,271.5 127.3,267.2 127.6,264.7 127.9,265.4 128.2,269.6 128.5,272.2 128.8,273.1 129.1,273.9 129.4,274.3 129.7,275.0 130.1,274.9 130.4,272.5 130.7,269.6 131.0,265.0 131.3,260.1 131.6,257.3 131.9,255.8 132.2,255.3 132.5,255.7 132.8,258.5 133.1,263.0 133.4,265.0 133.7,264.7 134.0,264.4 134.3,264.5 134.6,266.5 134.9,269.6 135.2,270.8 135.5,269.7 135.8,269.0 136.1,269.1 136.5,267.1 136.8,265.4 137.1,266.2 137.4,267.2 137.7,267.6 138.0,269.6 138.3,271.9 138.6,273.7 138.9,274.8 139.2,275.4 139.5,274.3 139.8,273.4 140.1,272.0 140.4,269.2 140.7,265.3 141.0,260.1 141.3,254.8 141.6,251.1 141.9,247.5 142.2,242.3 142.6,237.8 142.9,238.9 143.2,244.4 143.5,251.6 143.8,259.5 144.1,267.2 144.4,271.3 144.7,272.8 145.0,272.3 145.3,271.0 145.6,268.6 145.9,265.2 146.2,263.2 146.5,262.2 146.8,261.0 147.1,259.2 147.4,256.4 147.7,255.0 148.0,255.0 148.3,256.6 148.7,258.4 149.0,260.2 149.3,262.7 149.6,265.1 149.9,268.0 150.2,270.4 150.5,271.2 150.8,271.2 151.1,271.0 151.4,270.1 151.7,269.5 152.0,269.1 152.3,268.8 152.6,268.6 152.9,267.0 153.2,264.9 153.5,261.8 153.8,259.5 154.1,258.5 154.4,260.3 154.8,263.5 155.1,266.9 155.4,270.4 155.7,273.0 156.0,273.8 156.3,272.9 156.6,270.7 156.9,266.6 157.2,263.4 157.5,262.5 157.8,262.2 158.1,263.3 158.4,266.5 158.7,268.2 159.0,266.1 159.3,262.3 159.6,260.3 159.9,260.9 160.2,261.6 160.6,263.1 160.9,265.6 161.2,267.4 161.5,267.7 161.8,265.2 162.1,262.6 162.4,262.9 162.7,264.9 163.0,267.5 163.3,269.8 163.6,269.4 163.9,267.2 164.2,263.7 164.5,261.5 164.8,261.7 165.1,263.7 165.4,267.3 165.7,271.0 166.0,273.1 166.3,273.6 166.7,274.1 167.0,274.3 167.3,272.3 167.6,269.0 167.9,266.3 168.2,263.9 168.5,261.8 168.8,259.6 169.1,258.2 169.4,259.8 169.7,261.6 170.0,263.0 170.3,265.0 170.6,266.9 170.9,266.6 171.2,264.5 171.5,262.4 171.8,259.7 172.1,257.2 172.4,255.0 172.8,253.8 173.1,254.4 173.4,258.1 173.7,261.2 174.0,261.6 174.3,261.4 174.6,261.3 174.9,261.5 175.2,263.1 175.5,264.7 175.8,265.1 176.1,265.6 176.4,266.7 176.7,267.5 177.0,267.8 177.3,267.6 177.6,268.5 177.9,270.1 178.2,271.3 178.5,272.4 178.8,272.3 179.2,272.0 179.5,271.5 179.8,272.2 180.1,273.3 180.4,274.6 180.7,276.3 181.0,277.1 181.3,276.2 181.6,273.3 181.9,270.3 182.2,267.9 182.5,265.1 182.8,264.6 183.1,266.4 183.4,267.6 183.7,269.1 184.0,269.7 184.3,270.0 184.6,270.9 184.9,272.0 185.3,272.7 185.6,272.9 185.9,272.1 186.2,270.7 186.5,269.4 186.8,268.4 187.1,266.9 187.4,263.5 187.7,258.9 188.0,256.7 188.3,258.5 188.6,262.9 188.9,267.3 189.2,270.8 189.5,271.9 189.8,272.0 190.1,271.3 190.4,268.7 190.7,266.0 191.0,264.5 191.4,263.1 191.7,262.2 192.0,263.4 192.3,263.5 192.6,263.8 192.9,264.8 193.2,266.2 193.5,269.3 193.8,272.1 194.1,273.1 194.4,274.8 194.7,274.8 195.0,273.3 195.3,271.1 195.6,267.1 195.9,263.8 196.2,262.8 196.5,262.4 196.8,262.5 197.2,262.3 197.5,262.0 197.8,261.2 198.1,262.1 198.4,265.4 198.7,267.9 199.0,270.0 199.3,271.2 199.6,273.0 199.9,272.5 200.2,271.3 200.5,271.4 200.8,271.9 201.1,271.7 201.4,270.7 201.7,268.9 202.0,265.9 202.3,262.1 202.6,260.5 202.9,261.2 203.2,262.4 203.6,264.1 203.9,263.9 204.2,262.2 204.5,261.4 204.8,261.7 205.1,261.9 205.4,263.7 205.7,264.9 206.0,265.0 206.3,266.1 206.6,267.5 206.9,267.5 207.2,268.6 207.5,269.9 207.8,268.6 208.1,263.9 208.4,259.1 208.7,255.6 209.0,255.1 209.3,257.4 209.7,261.3 210.0,264.6 210.3,266.9 210.6,268.2 210.9,268.4 211.2,267.9 211.5,267.5 211.8,266.6 212.1,266.7 212.4,268.9 212.7,270.2 213.0,271.1 213.3,272.1 213.6,272.8 213.9,271.6 214.2,270.7 214.5,270.1 214.8,269.3 215.1,267.7 215.4,267.0 215.8,267.2 216.1,267.3 216.4,267.1 216.7,267.6 217.0,269.0 217.3,268.2 217.6,267.5 217.9,268.1 218.2,268.0 218.5,267.5" stroke="#8e8e22"/></g>
<path d="M35.50,206.00V338.00H218.50" fill="none" stroke="#626262" stroke-width="1"/><path d="M35.50,338.00h5.2M35.50,329.75h2.6M35.50,321.50h5.2M35.50,313.25h2.6M35.50,305.00h5.2M35.50,296.75h2.6M35.50,288.50h5.2M35.50,280.25h2.6M35.50,272.00h5.2M35.50,263.75h2.6M35.50,255.50h5.2M35.50,247.25h2.6M35.50,239.00h5.2M35.50,230.75h2.6M35.50,222.50h5.2M35.50,214.25h2.6M35.50,206.00h5.2M35.50,338.00v-5.2M50.75,338.00v-2.6M66.00,338.00v-5.2M81.25,338.00v-2.6M96.50,338.00v-5.2M111.75,338.00v-2.6M127.00,338.00v-5.2M142.25,338.00v-2.6M157.50,338.00v-5.2M172.75,338.00v-2.6M188.00,338.00v-5.2M203.25,338.00v-2.6M218.50,338.00v-5.2" fill="none" stroke="#626262" stroke-width="0.9"/><g class="tk"><text x="30.10" y="340.70" text-anchor="end">0</text><text x="30.10" y="324.20" text-anchor="end">100</text><text x="30.10" y="307.70" text-anchor="end">200</text><text x="30.10" y="291.20" text-anchor="end">300</text><text x="30.10" y="274.70" text-anchor="end">400</text><text x="30.10" y="258.20" text-anchor="end">500</text><text x="30.10" y="241.70" text-anchor="end">600</text><text x="30.10" y="225.20" text-anchor="end">700</text><text x="30.10" y="208.70" text-anchor="end">800</text><text x="35.50" y="350.50" text-anchor="middle">0</text><text x="66.00" y="350.50" text-anchor="middle">100</text><text x="96.50" y="350.50" text-anchor="middle">200</text><text x="127.00" y="350.50" text-anchor="middle">300</text><text x="157.50" y="350.50" text-anchor="middle">400</text><text x="188.00" y="350.50" text-anchor="middle">500</text><text x="218.50" y="350.50" text-anchor="middle">600</text></g><text class="ti" x="127.20" y="363.50" text-anchor="middle">t/(s)</text><text class="ti" transform="translate(12.40,274.20) rotate(-90)" text-anchor="middle">T/(°C)</text><text class="pl" x="110.90" y="389.60" text-anchor="middle">(<tspan font-weight="bold">c</tspan>)</text><g><path d="M159.00,291.80h16.2" stroke="#a8a8a8" stroke-width="1.3"/><text class="lg" x="177.00" y="294.50">T1</text><path d="M159.00,300.90h16.2" stroke="#ff9a9a" stroke-width="1.3"/><text class="lg" x="177.00" y="303.60">T2</text><path d="M159.00,310.00h16.2" stroke="#8ab4f8" stroke-width="1.3"/><text class="lg" x="177.00" y="312.70">T3</text><path d="M159.00,319.10h16.2" stroke="#86d8b4" stroke-width="1.3"/><text class="lg" x="177.00" y="321.80">T4</text><path d="M159.00,328.20h16.2" stroke="#e2b0f4" stroke-width="1.3"/><text class="lg" x="177.00" y="330.90">T5</text><path d="M186.80,291.80h16.2" stroke="#f4cf8a" stroke-width="1.3"/><text class="lg" x="204.80" y="294.50">T6</text><path d="M186.80,300.90h16.2" stroke="#8ae8e8" stroke-width="1.3"/><text class="lg" x="204.80" y="303.60">T7</text><path d="M186.80,310.00h16.2" stroke="#caa8a8" stroke-width="1.3"/><text class="lg" x="204.80" y="312.70">T8</text><path d="M186.80,319.10h16.2" stroke="#bcbc70" stroke-width="1.3"/><text class="lg" x="204.80" y="321.80">T9</text></g>
<g fill="none" stroke-width="0.85" stroke-linejoin="round" filter="url(#soft)"><polyline points="351.6,338.2 351.9,327.9 352.2,317.5 352.5,307.2 352.8,298.5 353.2,289.8 353.5,281.1 353.8,272.4 354.1,263.6 354.4,254.9 354.7,246.2 355.0,244.8 355.3,250.6 355.6,256.4 356.0,259.4 356.3,259.7 356.6,260.0 356.9,260.4 357.2,260.7 357.5,261.0 357.8,261.3 358.1,261.6 358.4,261.9 358.8,262.2 359.1,262.5 359.4,262.8 359.7,263.1 360.0,263.0 360.3,262.9 360.6,262.8 360.9,262.7 361.3,262.6 361.6,262.5 361.9,262.3 362.2,262.2 362.5,262.1 362.8,262.6 363.1,263.1 363.4,263.6 363.7,264.1 364.1,264.6 364.4,265.1 364.7,265.6 365.0,266.1 365.3,266.6 365.6,267.0 365.9,267.5 366.2,267.9 366.5,268.3 366.9,268.8 367.2,269.2 367.5,269.6 367.8,270.1 368.1,270.8 368.4,271.5 368.7,272.3 369.0,273.0 369.3,273.7 369.7,274.4 370.0,275.5 370.3,276.6 370.6,277.7 370.9,278.8 371.2,279.9 371.5,279.5 371.8,279.2 372.1,278.8 372.5,278.4 372.8,278.1 373.1,277.5 373.4,277.1 373.7,277.1 374.0,277.4 374.3,277.5 374.6,277.2 375.0,275.5 375.3,272.9 375.6,270.8 375.9,271.0 376.2,271.9 376.5,273.1 376.8,274.4 377.1,274.9 377.4,274.6 377.8,273.9 378.1,273.2 378.4,272.0 378.7,270.9 379.0,270.4 379.3,271.0 379.6,272.3 379.9,273.8 380.2,275.1 380.6,276.3 380.9,277.4 381.2,277.9 381.5,278.3 381.8,278.3 382.1,277.6 382.4,276.1 382.7,274.7 383.0,274.0 383.4,273.3 383.7,272.6 384.0,272.1 384.3,271.7 384.6,270.8 384.9,269.3 385.2,268.8 385.5,269.5 385.8,271.2 386.2,273.0 386.5,274.2 386.8,275.3 387.1,275.8 387.4,276.1 387.7,277.0 388.0,278.4 388.3,279.5 388.6,280.3 389.0,281.2 389.3,281.9 389.6,281.5 389.9,279.6 390.2,276.8 390.5,273.8 390.8,271.3 391.1,270.5 391.5,271.2 391.8,272.5 392.1,274.2 392.4,275.8 392.7,277.2 393.0,278.7 393.3,279.8 393.6,280.4 393.9,281.2 394.3,281.6 394.6,281.2 394.9,280.5 395.2,280.5 395.5,280.4 395.8,279.6 396.1,278.1 396.4,276.2 396.7,274.8 397.1,274.2 397.4,273.4 397.7,273.4 398.0,274.1 398.3,274.3 398.6,274.3 398.9,274.6 399.2,275.4 399.5,276.2 399.9,277.3 400.2,278.1 400.5,278.6 400.8,278.7 401.1,277.7 401.4,275.2 401.7,272.2 402.0,270.0 402.3,268.9 402.7,269.1 403.0,270.8 403.3,273.4 403.6,276.3 403.9,278.8 404.2,280.5 404.5,280.9 404.8,280.8 405.1,280.8 405.5,279.8 405.8,278.7 406.1,277.5 406.4,275.6 406.7,274.0 407.0,273.2 407.3,272.2 407.6,271.3 408.0,270.7 408.3,271.1 408.6,272.6 408.9,274.2 409.2,275.6 409.5,277.0 409.8,278.3 410.1,278.6 410.4,277.9 410.8,277.1 411.1,276.6 411.4,276.1 411.7,276.1 412.0,276.2 412.3,276.2 412.6,276.6 412.9,276.9 413.2,276.9 413.6,276.7 413.9,276.4 414.2,276.6 414.5,277.2 414.8,277.6 415.1,277.6 415.4,277.9 415.7,278.5 416.0,278.7 416.4,278.3 416.7,278.1 417.0,278.0 417.3,277.8 417.6,278.0 417.9,278.8 418.2,279.9 418.5,281.2 418.8,282.3 419.2,282.8 419.5,282.6 419.8,282.2 420.1,281.3 420.4,279.5 420.7,277.0 421.0,274.4 421.3,272.4 421.6,271.1 422.0,270.8 422.3,271.8 422.6,272.7 422.9,273.2 423.2,274.1 423.5,275.4 423.8,276.9 424.1,277.8 424.5,278.5 424.8,279.5 425.1,280.4 425.4,280.6 425.7,280.5 426.0,280.0 426.3,279.1 426.6,277.8 426.9,276.1 427.3,274.6 427.6,273.8 427.9,273.4 428.2,274.0 428.5,275.4 428.8,276.8 429.1,277.4 429.4,277.4 429.7,277.2 430.1,276.3 430.4,275.5 430.7,275.3 431.0,275.2 431.3,274.9 431.6,274.9 431.9,275.1 432.2,276.1 432.5,277.0 432.9,277.3 433.2,277.1 433.5,276.4 433.8,275.9 434.1,276.0 434.4,277.0 434.7,277.5 435.0,277.6 435.3,278.1 435.7,278.6 436.0,278.8 436.3,279.0 436.6,279.7 436.9,280.7 437.2,280.9 437.5,280.5 437.8,280.0 438.2,279.4 438.5,278.2 438.8,276.7 439.1,275.1 439.4,273.5 439.7,271.7 440.0,270.2 440.3,269.7 440.6,270.1 441.0,271.4 441.3,273.4 441.6,274.6 441.9,275.6 442.2,276.7 442.5,277.6 442.8,278.2 443.1,278.3 443.4,278.5 443.8,278.6 444.1,278.4 444.4,278.2 444.7,278.2 445.0,277.8 445.3,276.5 445.6,274.8 445.9,273.3 446.2,272.5 446.6,272.4 446.9,273.2 447.2,275.0 447.5,276.7 447.8,278.0 448.1,279.2 448.4,280.2 448.7,280.5 449.0,280.3 449.4,280.0 449.7,280.0 450.0,280.0 450.3,280.3 450.6,281.0 450.9,281.5 451.2,281.2 451.5,280.9 451.8,281.5 452.2,281.6 452.5,281.1 452.8,280.4 453.1,280.2 453.4,279.9 453.7,279.0 454.0,277.7 454.3,277.4 454.7,277.8 455.0,277.9 455.3,278.3 455.6,278.9 455.9,279.5 456.2,279.4 456.5,278.9 456.8,278.5 457.1,277.8 457.5,277.0 457.8,276.2 458.1,275.4 458.4,274.9 458.7,275.3 459.0,276.6 459.3,277.8 459.6,278.0 459.9,276.8 460.3,274.2 460.6,270.2 460.9,266.1 461.2,263.3 461.5,262.7 461.8,264.5 462.1,267.5 462.4,270.8 462.7,273.9 463.1,276.4 463.4,278.3 463.7,279.7 464.0,280.4 464.3,280.7 464.6,281.0 464.9,281.0 465.2,280.4 465.5,279.7 465.9,279.1 466.2,278.1 466.5,276.9 466.8,275.7 467.1,275.1 467.4,274.4 467.7,273.9 468.0,274.0 468.4,274.1 468.7,274.4 469.0,275.4 469.3,277.0 469.6,278.2 469.9,278.8 470.2,278.8 470.5,278.4 470.8,278.0 471.2,277.5 471.5,276.8 471.8,276.5 472.1,276.6 472.4,276.2 472.7,275.3 473.0,274.4 473.3,274.0 473.6,274.4 474.0,275.1 474.3,276.2 474.6,277.8 474.9,279.5 475.2,281.2 475.5,281.9 475.8,281.8 476.1,281.3 476.4,280.6 476.8,279.6 477.1,278.6 477.4,277.2 477.7,276.4 478.0,276.8 478.3,278.2 478.6,279.8 478.9,281.4 479.2,282.4 479.6,282.6 479.9,282.3 480.2,281.7 480.5,280.6 480.8,278.6 481.1,276.2 481.4,273.3 481.7,271.0 482.0,270.0 482.4,269.5 482.7,269.5 483.0,270.7 483.3,273.0 483.6,275.5 483.9,277.6 484.2,279.2 484.5,280.7 484.9,281.6 485.2,281.4 485.5,280.6 485.8,279.1 486.1,277.8 486.4,277.3 486.7,277.1 487.0,277.5 487.3,278.9 487.7,280.7 488.0,281.5 488.3,282.0 488.6,282.4 488.9,282.2 489.2,280.8 489.5,279.1 489.8,277.8 490.1,277.1 490.5,276.6 490.8,275.7 491.1,274.3 491.4,273.3 491.7,273.6 492.0,274.3 492.3,274.8 492.6,275.1 492.9,275.6 493.3,276.2 493.6,277.0 493.9,277.9 494.2,278.7 494.5,279.3 494.8,279.6 495.1,279.1 495.4,278.4 495.7,277.5 496.1,276.1 496.4,274.9 496.7,274.0 497.0,273.7 497.3,273.8 497.6,274.1 497.9,274.6 498.2,274.7 498.5,274.9 498.9,275.2 499.2,275.1 499.5,274.6 499.8,274.3 500.1,273.5 500.4,272.4 500.7,272.1 501.0,272.4 501.4,272.5 501.7,272.2 502.0,272.2 502.3,272.1 502.6,272.4 502.9,273.6 503.2,275.1 503.5,276.5 503.8,277.7 504.2,278.5 504.5,278.9 504.8,278.9 505.1,278.7 505.4,277.7 505.7,276.0 506.0,274.1 506.3,272.2 506.6,271.0 507.0,271.1 507.3,272.5 507.6,274.7 507.9,277.0 508.2,278.9 508.5,279.9 508.8,279.9 509.1,279.2 509.4,278.2 509.8,276.8 510.1,275.6 510.4,274.8 510.7,274.7 511.0,274.6 511.3,274.4 511.6,275.4 511.9,276.7 512.2,277.5 512.6,278.5 512.9,279.5 513.2,279.9 513.5,280.5 513.8,280.9 514.1,281.4 514.4,281.4 514.7,281.0 515.0,280.8 515.4,280.4 515.7,279.3 516.0,277.2 516.3,275.3 516.6,274.4 516.9,274.5 517.2,274.9 517.5,275.6 517.9,277.1 518.2,278.4 518.5,279.2 518.8,279.6 519.1,279.4 519.4,278.7 519.7,278.3 520.0,278.0 520.3,277.9 520.7,277.4 521.0,276.4 521.3,275.2 521.6,273.9 521.9,272.9 522.2,272.1 522.5,272.4 522.8,274.2 523.1,276.1 523.5,278.2 523.8,280.2 524.1,280.4 524.4,279.5 524.7,279.3 525.0,280.0 525.3,280.5 525.6,280.4 525.9,279.8 526.3,278.9 526.6,277.7 526.9,277.4 527.2,277.5 527.5,277.9 527.8,278.8 528.1,280.1 528.4,281.1 528.7,281.4 529.1,281.6 529.4,281.1 529.7,279.9 530.0,278.6 530.3,277.4 530.6,275.7 530.9,273.7 531.2,271.9 531.6,271.1 531.9,271.4 532.2,272.6 532.5,273.6 532.8,274.6 533.1,276.5 533.4,278.2 533.7,279.2 534.0,279.9 534.4,279.8 534.7,279.1 535.0,278.5 535.3,278.3 535.6,277.9 535.9,277.5 536.2,277.2 536.5,277.1 536.8,276.5 537.2,275.4 537.5,274.2 537.8,273.4 538.1,273.3 538.4,274.6" stroke="#4d4d4d"/><polyline points="351.6,338.2 351.9,330.5 352.2,322.9 352.5,315.2 352.8,311.3 353.2,307.5 353.5,303.6 353.8,299.8 354.1,295.9 354.4,292.0 354.7,288.2 355.0,284.3 355.3,280.5 355.6,276.6 356.0,272.7 356.3,268.9 356.6,265.0 356.9,261.2 357.2,257.3 357.5,253.4 357.8,249.6 358.1,245.7 358.4,241.9 358.8,247.6 359.1,253.4 359.4,259.1 359.7,263.2 360.0,263.0 360.3,262.9 360.6,262.8 360.9,262.6 361.3,262.5 361.6,262.4 361.9,262.2 362.2,262.1 362.5,262.0 362.8,262.5 363.1,263.1 363.4,263.7 363.7,264.3 364.1,264.9 364.4,265.4 364.7,266.0 365.0,266.6 365.3,267.2 365.6,267.7 365.9,268.1 366.2,268.5 366.5,268.8 366.9,269.2 367.2,269.6 367.5,269.9 367.8,270.3 368.1,270.9 368.4,271.5 368.7,272.1 369.0,272.7 369.3,273.3 369.7,273.9 370.0,274.8 370.3,275.7 370.6,276.6 370.9,277.4 371.2,278.3 371.5,278.2 371.8,278.2 372.1,278.1 372.5,278.1 372.8,278.0 373.1,276.8 373.4,276.0 373.7,275.9 374.0,275.8 374.3,275.6 374.6,275.6 375.0,275.3 375.3,273.9 375.6,271.8 375.9,271.1 376.2,271.8 376.5,272.5 376.8,273.4 377.1,273.9 377.4,273.4 377.8,272.7 378.1,271.6 378.4,270.3 378.7,269.5 379.0,269.9 379.3,270.7 379.6,272.0 379.9,273.9 380.2,275.1 380.6,275.8 380.9,276.1 381.2,275.6 381.5,274.8 381.8,274.0 382.1,273.7 382.4,273.6 382.7,273.9 383.0,273.7 383.4,272.9 383.7,272.6 384.0,272.3 384.3,271.2 384.6,269.7 384.9,268.8 385.2,268.8 385.5,268.8 385.8,269.4 386.2,270.9 386.5,272.9 386.8,274.6 387.1,275.2 387.4,275.6 387.7,276.7 388.0,278.3 388.3,279.6 388.6,280.2 389.0,280.6 389.3,280.6 389.6,279.9 389.9,278.6 390.2,276.9 390.5,274.7 390.8,273.0 391.1,272.5 391.5,272.5 391.8,272.8 392.1,273.7 392.4,274.9 392.7,276.6 393.0,278.1 393.3,278.9 393.6,279.2 393.9,279.2 394.3,278.8 394.6,278.2 394.9,278.1 395.2,277.9 395.5,277.4 395.8,277.0 396.1,275.6 396.4,273.7 396.7,271.8 397.1,270.6 397.4,270.3 397.7,270.9 398.0,272.5 398.3,274.1 398.6,274.9 398.9,274.7 399.2,274.8 399.5,275.9 399.9,277.4 400.2,278.4 400.5,278.5 400.8,277.9 401.1,276.4 401.4,274.3 401.7,272.5 402.0,270.8 402.3,268.7 402.7,267.3 403.0,267.4 403.3,269.1 403.6,271.4 403.9,273.4 404.2,275.8 404.5,278.1 404.8,278.9 405.1,278.7 405.5,278.1 405.8,277.2 406.1,275.7 406.4,274.1 406.7,272.9 407.0,271.7 407.3,270.9 407.6,270.7 408.0,271.3 408.3,272.7 408.6,273.7 408.9,274.4 409.2,275.1 409.5,276.4 409.8,277.3 410.1,276.8 410.4,275.8 410.8,274.8 411.1,274.0 411.4,273.4 411.7,273.2 412.0,272.7 412.3,272.1 412.6,272.2 412.9,272.8 413.2,273.1 413.6,273.2 413.9,273.3 414.2,273.1 414.5,273.2 414.8,273.1 415.1,273.2 415.4,273.3 415.7,273.6 416.0,274.1 416.4,274.3 416.7,274.2 417.0,274.2 417.3,274.3 417.6,274.7 417.9,275.5 418.2,276.6 418.5,278.1 418.8,279.9 419.2,281.0 419.5,280.7 419.8,279.9 420.1,279.1 420.4,277.9 420.7,276.5 421.0,274.7 421.3,273.0 421.6,272.2 422.0,272.6 422.3,273.4 422.6,274.5 422.9,275.7 423.2,276.4 423.5,277.0 423.8,277.5 424.1,277.9 424.5,278.5 424.8,278.4 425.1,277.7 425.4,277.0 425.7,276.4 426.0,276.0 426.3,275.6 426.6,274.7 426.9,273.5 427.3,272.6 427.6,271.8 427.9,271.4 428.2,272.3 428.5,274.0 428.8,275.9 429.1,277.6 429.4,277.8 429.7,277.3 430.1,277.4 430.4,277.2 430.7,276.7 431.0,275.8 431.3,275.8 431.6,276.2 431.9,276.4 432.2,276.4 432.5,276.4 432.9,275.7 433.2,274.8 433.5,274.3 433.8,274.0 434.1,274.3 434.4,275.3 434.7,276.1 435.0,276.5 435.3,276.5 435.7,276.3 436.0,276.1 436.3,276.3 436.6,277.1 436.9,277.6 437.2,277.9 437.5,277.9 437.8,278.0 438.2,277.8 438.5,277.0 438.8,275.9 439.1,274.5 439.4,273.0 439.7,270.9 440.0,268.8 440.3,267.3 440.6,267.0 441.0,267.4 441.3,268.3 441.6,269.6 441.9,270.8 442.2,271.8 442.5,272.5 442.8,273.3 443.1,274.1 443.4,275.1 443.8,276.6 444.1,277.7 444.4,278.0 444.7,278.1 445.0,277.7 445.3,276.1 445.6,274.2 445.9,272.6 446.2,271.6 446.6,270.9 446.9,270.9 447.2,271.9 447.5,273.4 447.8,274.8 448.1,275.4 448.4,275.6 448.7,275.8 449.0,275.8 449.4,275.8 449.7,276.3 450.0,276.5 450.3,276.0 450.6,275.5 450.9,275.5 451.2,275.9 451.5,276.3 451.8,276.5 452.2,277.0 452.5,277.6 452.8,278.1 453.1,278.0 453.4,277.7 453.7,277.7 454.0,277.0 454.3,275.7 454.7,274.8 455.0,274.8 455.3,275.0 455.6,275.2 455.9,275.3 456.2,275.3 456.5,275.5 456.8,275.3 457.1,274.5 457.5,273.3 457.8,272.3 458.1,272.1 458.4,273.0 458.7,274.6 459.0,276.2 459.3,277.4 459.6,277.8 459.9,277.7 460.3,276.2 460.6,273.0 460.9,268.4 461.2,263.0 461.5,258.4 461.8,256.1 462.1,256.7 462.4,259.9 462.7,264.4 463.1,269.1 463.4,273.1 463.7,276.1 464.0,278.4 464.3,279.7 464.6,280.1 464.9,279.7 465.2,278.9 465.5,277.8 465.9,276.3 466.2,274.0 466.5,271.9 466.8,270.9 467.1,270.6 467.4,270.3 467.7,270.0 468.0,271.0 468.4,272.4 468.7,273.4 469.0,274.4 469.3,276.1 469.6,277.6 469.9,278.2 470.2,277.9 470.5,277.1 470.8,276.3 471.2,275.3 471.5,273.9 471.8,272.8 472.1,272.5 472.4,272.2 472.7,271.9 473.0,272.5 473.3,273.3 473.6,274.3 474.0,275.3 474.3,276.3 474.6,276.6 474.9,277.2 475.2,278.2 475.5,278.7 475.8,278.7 476.1,279.1 476.4,279.2 476.8,278.7 477.1,277.9 477.4,276.9 477.7,276.0 478.0,275.4 478.3,275.6 478.6,276.1 478.9,276.5 479.2,277.5 479.6,278.5 479.9,278.6 480.2,278.1 480.5,277.0 480.8,275.0 481.1,272.5 481.4,269.8 481.7,267.0 482.0,265.1 482.4,264.3 482.7,264.8 483.0,266.5 483.3,268.7 483.6,271.5 483.9,274.7 484.2,277.8 484.5,280.0 484.9,280.6 485.2,280.4 485.5,279.0 485.8,276.9 486.1,274.9 486.4,273.7 486.7,274.1 487.0,275.7 487.3,277.8 487.7,279.7 488.0,280.2 488.3,280.2 488.6,279.8 488.9,279.5 489.2,279.1 489.5,278.2 489.8,277.1 490.1,275.5 490.5,274.2 490.8,273.1 491.1,271.7 491.4,271.0 491.7,271.1 492.0,271.8 492.3,272.6 492.6,273.4 492.9,274.2 493.3,275.7 493.6,277.3 493.9,278.2 494.2,278.8 494.5,278.6 494.8,277.8 495.1,277.2 495.4,276.4 495.7,275.4 496.1,275.3 496.4,275.4 496.7,274.9 497.0,274.4 497.3,273.7 497.6,273.5 497.9,273.7 498.2,273.7 498.5,273.3 498.9,272.8 499.2,272.8 499.5,272.6 499.8,272.1 500.1,271.4 500.4,270.8 500.7,270.6 501.0,270.9 501.4,271.3 501.7,270.9 502.0,270.3 502.3,270.3 502.6,270.7 502.9,271.1 503.2,272.1 503.5,274.1 503.8,276.3 504.2,277.4 504.5,278.1 504.8,278.7 505.1,278.1 505.4,276.6 505.7,274.9 506.0,273.1 506.3,271.3 506.6,270.0 507.0,270.2 507.3,271.8 507.6,274.2 507.9,275.9 508.2,276.6 508.5,276.8 508.8,277.0 509.1,276.2 509.4,275.4 509.8,274.9 510.1,274.3 510.4,273.3 510.7,272.7 511.0,273.3 511.3,274.5 511.6,275.8 511.9,276.6 512.2,276.6 512.6,276.3 512.9,276.4 513.2,277.1 513.5,277.8 513.8,277.8 514.1,278.2 514.4,279.3 514.7,279.6 515.0,279.1 515.4,278.5 515.7,277.4 516.0,275.9 516.3,274.6 516.6,273.9 516.9,273.7 517.2,273.9 517.5,274.3 517.9,274.9 518.2,275.4 518.5,275.9 518.8,276.4 519.1,276.7 519.4,277.0 519.7,276.7 520.0,276.3 520.3,275.5 520.7,274.6 521.0,273.5 521.3,271.4 521.6,269.3 521.9,268.5 522.2,269.2 522.5,270.5 522.8,272.2 523.1,273.9 523.5,275.0 523.8,276.0 524.1,276.7 524.4,276.9 524.7,276.6 525.0,276.2 525.3,275.8 525.6,275.1 525.9,274.5 526.3,274.4 526.6,274.2 526.9,274.1 527.2,274.6 527.5,275.5 527.8,276.6 528.1,277.7 528.4,279.0 528.7,280.1 529.1,280.7 529.4,280.3 529.7,279.2 530.0,278.1 530.3,276.7 530.6,275.0 530.9,273.2 531.2,271.4 531.6,270.7 531.9,271.2 532.2,272.3 532.5,273.5 532.8,274.0 533.1,274.4 533.4,274.9 533.7,275.3 534.0,276.1 534.4,277.1 534.7,277.4 535.0,277.2 535.3,277.1 535.6,276.8 535.9,276.1 536.2,275.8 536.5,275.2 536.8,274.3 537.2,273.3 537.5,272.5 537.8,272.2 538.1,272.9 538.4,274.2" stroke="#f04242"/><polyline points="351.6,338.2 351.9,331.8 352.2,325.4 352.5,319.0 352.8,313.5 353.2,307.9 353.5,302.4 353.8,296.8 354.1,291.3 354.4,285.7 354.7,280.1 355.0,274.6 355.3,269.0 355.6,263.5 356.0,257.9 356.3,259.2 356.6,260.4 356.9,261.7 357.2,261.8 357.5,261.8 357.8,261.9 358.1,261.9 358.4,262.0 358.8,262.0 359.1,262.1 359.4,262.1 359.7,262.2 360.0,262.2 360.3,262.3 360.6,262.3 360.9,262.3 361.3,262.4 361.6,262.4 361.9,262.4 362.2,262.5 362.5,262.5 362.8,262.9 363.1,263.3 363.4,263.8 363.7,264.2 364.1,264.6 364.4,265.0 364.7,265.4 365.0,265.9 365.3,266.3 365.6,266.7 365.9,267.2 366.2,267.8 366.5,268.3 366.9,268.9 367.2,269.4 367.5,269.9 367.8,270.5 368.1,271.0 368.4,271.6 368.7,272.1 369.0,272.7 369.3,273.3 369.7,273.8 370.0,274.9 370.3,276.1 370.6,277.2 370.9,278.3 371.2,279.5 371.5,279.0 371.8,278.6 372.1,278.1 372.5,277.6 372.8,277.2 373.1,276.6 373.4,276.6 373.7,276.9 374.0,277.4 374.3,277.8 374.6,277.4 375.0,275.4 375.3,272.9 375.6,271.0 375.9,270.2 376.2,270.3 376.5,270.6 376.8,271.0 377.1,271.2 377.4,270.6 377.8,269.3 378.1,267.6 378.4,266.1 378.7,265.6 379.0,266.0 379.3,267.1 379.6,268.9 379.9,271.3 380.2,272.7 380.6,273.0 380.9,273.1 381.2,273.6 381.5,273.9 381.8,273.9 382.1,273.3 382.4,272.0 382.7,271.1 383.0,270.8 383.4,271.2 383.7,271.7 384.0,271.8 384.3,271.7 384.6,270.6 384.9,269.2 385.2,268.7 385.5,269.4 385.8,271.3 386.2,273.2 386.5,274.5 386.8,275.3 387.1,275.9 387.4,276.2 387.7,276.5 388.0,276.8 388.3,277.0 388.6,276.8 389.0,276.7 389.3,276.8 389.6,276.5 389.9,275.3 390.2,273.5 390.5,271.5 390.8,269.8 391.1,268.3 391.5,267.8 391.8,268.5 392.1,269.9 392.4,271.7 392.7,273.4 393.0,274.9 393.3,276.3 393.6,277.4 393.9,277.9 394.3,277.9 394.6,278.1 394.9,277.6 395.2,276.4 395.5,275.8 395.8,274.6 396.1,272.5 396.4,270.7 396.7,269.6 397.1,269.1 397.4,269.8 397.7,271.0 398.0,271.9 398.3,271.7 398.6,270.9 398.9,270.0 399.2,269.8 399.5,270.2 399.9,271.3 400.2,272.3 400.5,273.2 400.8,273.7 401.1,273.3 401.4,272.3 401.7,270.6 402.0,269.0 402.3,267.8 402.7,266.9 403.0,266.7 403.3,267.6 403.6,269.6 403.9,271.9 404.2,273.9 404.5,275.1 404.8,275.2 405.1,274.6 405.5,273.8 405.8,272.7 406.1,271.9 406.4,271.1 406.7,270.6 407.0,270.0 407.3,268.8 407.6,268.1 408.0,268.4 408.3,269.4 408.6,270.8 408.9,272.8 409.2,275.2 409.5,276.6 409.8,276.6 410.1,275.8 410.4,274.8 410.8,273.6 411.1,272.4 411.4,271.4 411.7,271.0 412.0,270.7 412.3,270.8 412.6,271.4 412.9,272.6 413.2,273.5 413.6,274.0 413.9,274.0 414.2,273.3 414.5,273.3 414.8,273.3 415.1,272.8 415.4,271.9 415.7,271.8 416.0,272.4 416.4,273.1 416.7,273.8 417.0,274.8 417.3,275.6 417.6,275.9 417.9,276.2 418.2,277.1 418.5,278.2 418.8,278.9 419.2,279.5 419.5,279.3 419.8,278.2 420.1,276.3 420.4,273.9 420.7,271.5 421.0,269.7 421.3,268.5 421.6,267.7 422.0,268.0 422.3,269.4 422.6,271.2 422.9,272.5 423.2,273.9 423.5,275.0 423.8,275.4 424.1,275.9 424.5,276.9 424.8,277.8 425.1,278.2 425.4,278.2 425.7,277.7 426.0,276.5 426.3,274.7 426.6,272.5 426.9,270.8 427.3,270.0 427.6,269.8 427.9,270.5 428.2,272.3 428.5,274.2 428.8,275.2 429.1,275.9 429.4,276.4 429.7,276.5 430.1,276.3 430.4,275.4 430.7,274.0 431.0,273.6 431.3,273.6 431.6,273.4 431.9,273.7 432.2,274.1 432.5,274.2 432.9,273.9 433.2,273.2 433.5,272.6 433.8,273.0 434.1,274.1 434.4,275.2 434.7,276.0 435.0,275.8 435.3,275.3 435.7,275.1 436.0,275.5 436.3,275.7 436.6,275.9 436.9,276.9 437.2,278.1 437.5,279.0 437.8,278.9 438.2,277.6 438.5,276.0 438.8,274.0 439.1,271.6 439.4,269.3 439.7,267.5 440.0,266.5 440.3,266.9 440.6,268.4 441.0,269.8 441.3,271.1 441.6,272.8 441.9,274.4 442.2,274.6 442.5,274.2 442.8,274.9 443.1,275.7 443.4,276.2 443.8,276.7 444.1,277.0 444.4,276.6 444.7,275.6 445.0,274.8 445.3,273.8 445.6,272.2 445.9,270.2 446.2,268.8 446.6,268.6 446.9,269.0 447.2,269.9 447.5,271.3 447.8,272.7 448.1,273.9 448.4,274.9 448.7,275.5 449.0,276.0 449.4,276.6 449.7,277.3 450.0,277.7 450.3,277.5 450.6,277.0 450.9,277.0 451.2,277.3 451.5,277.2 451.8,277.3 452.2,278.1 452.5,278.8 452.8,278.3 453.1,276.7 453.4,275.3 453.7,274.2 454.0,273.0 454.3,272.1 454.7,271.7 455.0,272.0 455.3,272.3 455.6,272.4 455.9,272.9 456.2,273.2 456.5,273.4 456.8,273.2 457.1,273.0 457.5,272.6 457.8,272.2 458.1,272.4 458.4,272.7 458.7,273.0 459.0,273.6 459.3,274.2 459.6,273.9 459.9,272.4 460.3,269.6 460.6,265.4 460.9,260.7 461.2,256.3 461.5,254.3 461.8,255.9 462.1,259.9 462.4,264.2 462.7,268.2 463.1,272.0 463.4,274.7 463.7,276.4 464.0,278.0 464.3,279.3 464.6,279.8 464.9,280.1 465.2,280.1 465.5,279.5 465.9,278.7 466.2,278.0 466.5,276.5 466.8,274.5 467.1,272.2 467.4,269.9 467.7,268.8 468.0,268.5 468.4,268.7 468.7,269.6 469.0,271.4 469.3,273.3 469.6,275.1 469.9,276.2 470.2,276.4 470.5,276.3 470.8,276.5 471.2,276.2 471.5,275.2 471.8,274.4 472.1,273.9 472.4,272.8 472.7,271.7 473.0,271.6 473.3,271.8 473.6,272.1 474.0,272.8 474.3,273.8 474.6,275.4 474.9,277.0 475.2,277.5 475.5,277.5 475.8,278.0 476.1,277.7 476.4,276.6 476.8,275.6 477.1,274.9 477.4,274.5 477.7,274.7 478.0,274.9 478.3,275.0 478.6,275.9 478.9,277.1 479.2,278.3 479.6,279.3 479.9,279.4 480.2,278.6 480.5,277.4 480.8,275.8 481.1,273.6 481.4,270.7 481.7,268.1 482.0,266.0 482.4,264.1 482.7,263.4 483.0,264.4 483.3,266.7 483.6,270.0 483.9,273.5 484.2,276.5 484.5,278.5 484.9,279.4 485.2,279.5 485.5,278.9 485.8,277.1 486.1,274.8 486.4,273.2 486.7,272.6 487.0,272.7 487.3,273.6 487.7,275.1 488.0,276.2 488.3,276.8 488.6,277.3 488.9,277.3 489.2,276.6 489.5,275.8 489.8,275.0 490.1,274.2 490.5,273.1 490.8,271.5 491.1,269.9 491.4,268.7 491.7,268.6 492.0,269.2 492.3,270.0 492.6,271.0 492.9,272.0 493.3,273.0 493.6,274.0 493.9,275.1 494.2,276.3 494.5,277.0 494.8,277.4 495.1,277.9 495.4,276.9 495.7,274.8 496.1,273.6 496.4,273.2 496.7,272.6 497.0,272.1 497.3,271.3 497.6,270.7 497.9,270.6 498.2,271.3 498.5,271.7 498.9,271.7 499.2,271.7 499.5,271.4 499.8,271.4 500.1,271.5 500.4,271.0 500.7,270.8 501.0,270.9 501.4,270.7 501.7,269.6 502.0,267.8 502.3,266.4 502.6,266.5 502.9,267.9 503.2,269.6 503.5,271.7 503.8,274.0 504.2,276.5 504.5,278.0 504.8,278.3 505.1,277.6 505.4,276.0 505.7,273.8 506.0,272.3 506.3,270.8 506.6,270.0 507.0,270.1 507.3,271.5 507.6,273.2 507.9,275.0 508.2,277.1 508.5,278.3 508.8,278.4 509.1,277.7 509.4,276.6 509.8,275.1 510.1,273.5 510.4,272.6 510.7,272.5 511.0,273.0 511.3,274.0 511.6,275.0 511.9,275.3 512.2,275.3 512.6,275.0 512.9,274.6 513.2,274.2 513.5,274.0 513.8,274.1 514.1,274.5 514.4,274.9 514.7,274.8 515.0,274.9 515.4,274.7 515.7,274.1 516.0,273.7 516.3,273.3 516.6,272.7 516.9,272.3 517.2,272.1 517.5,272.2 517.9,272.9 518.2,274.1 518.5,275.2 518.8,276.3 519.1,276.6 519.4,277.0 519.7,277.6 520.0,277.5 520.3,277.0 520.7,276.4 521.0,275.7 521.3,274.9 521.6,273.5 521.9,272.1 522.2,271.6 522.5,272.2 522.8,273.3 523.1,274.3 523.5,275.5 523.8,276.5 524.1,276.6 524.4,276.3 524.7,276.1 525.0,276.3 525.3,276.8 525.6,277.4 525.9,276.7 526.3,274.5 526.6,272.9 526.9,272.6 527.2,272.5 527.5,272.6 527.8,273.5 528.1,275.3 528.4,277.1 528.7,278.5 529.1,279.6 529.4,279.8 529.7,279.2 530.0,277.5 530.3,274.7 530.6,271.7 530.9,269.5 531.2,267.8 531.6,266.4 531.9,266.6 532.2,267.5 532.5,268.8 532.8,270.3 533.1,272.3 533.4,274.5 533.7,276.4 534.0,276.8 534.4,275.8 534.7,274.9 535.0,274.5 535.3,273.8 535.6,273.0 535.9,272.6 536.2,272.9 536.5,273.4 536.8,273.1 537.2,272.9 537.5,273.1 537.8,273.2 538.1,273.3 538.4,273.8" stroke="#3380ee"/><polyline points="351.6,338.2 351.9,329.3 352.2,320.3 352.5,311.4 352.8,307.4 353.2,303.4 353.5,299.5 353.8,295.5 354.1,291.5 354.4,287.5 354.7,283.5 355.0,279.5 355.3,275.5 355.6,271.6 356.0,267.6 356.3,263.6 356.6,259.6 356.9,260.2 357.2,260.8 357.5,261.4 357.8,261.8 358.1,262.1 358.4,262.5 358.8,262.9 359.1,263.3 359.4,263.6 359.7,264.0 360.0,264.0 360.3,263.9 360.6,263.9 360.9,263.8 361.3,263.7 361.6,263.7 361.9,263.6 362.2,263.6 362.5,263.5 362.8,263.7 363.1,263.9 363.4,264.1 363.7,264.3 364.1,264.5 364.4,264.7 364.7,264.9 365.0,265.1 365.3,265.3 365.6,265.6 365.9,266.3 366.2,267.0 366.5,267.8 366.9,268.5 367.2,269.2 367.5,270.0 367.8,270.7 368.1,271.2 368.4,271.7 368.7,272.2 369.0,272.7 369.3,273.2 369.7,273.7 370.0,274.5 370.3,275.4 370.6,276.2 370.9,277.0 371.2,277.8 371.5,278.0 371.8,278.1 372.1,278.3 372.5,278.4 372.8,278.6 373.1,276.8 373.4,275.4 373.7,274.6 374.0,274.2 374.3,273.8 374.6,273.0 375.0,272.4 375.3,271.0 375.6,269.2 375.9,268.6 376.2,268.8 376.5,269.6 376.8,271.1 377.1,271.8 377.4,271.7 377.8,270.3 378.1,268.7 378.4,267.7 378.7,267.1 379.0,267.2 379.3,268.3 379.6,269.9 379.9,271.2 380.2,271.8 380.6,272.2 380.9,272.3 381.2,272.2 381.5,272.6 381.8,272.5 382.1,272.1 382.4,271.7 382.7,271.2 383.0,270.6 383.4,270.3 383.7,270.4 384.0,270.8 384.3,270.2 384.6,269.0 384.9,267.9 385.2,267.3 385.5,267.6 385.8,268.8 386.2,270.4 386.5,272.2 386.8,274.4 387.1,276.1 387.4,276.5 387.7,276.8 388.0,278.1 388.3,279.2 388.6,279.5 389.0,279.3 389.3,278.7 389.6,277.4 389.9,275.6 390.2,273.9 390.5,272.4 390.8,271.1 391.1,269.8 391.5,269.0 391.8,269.3 392.1,270.3 392.4,272.3 392.7,274.3 393.0,275.6 393.3,276.4 393.6,277.1 393.9,277.2 394.3,276.8 394.6,276.4 394.9,275.9 395.2,275.6 395.5,275.8 395.8,276.4 396.1,276.6 396.4,275.8 396.7,274.4 397.1,273.4 397.4,272.6 397.7,272.0 398.0,271.8 398.3,271.4 398.6,270.5 398.9,269.8 399.2,270.2 399.5,271.7 399.9,273.4 400.2,274.7 400.5,275.5 400.8,275.4 401.1,273.9 401.4,271.7 401.7,269.6 402.0,267.9 402.3,267.0 402.7,267.1 403.0,268.4 403.3,270.4 403.6,272.4 403.9,274.0 404.2,275.1 404.5,275.7 404.8,276.3 405.1,276.5 405.5,275.5 405.8,273.8 406.1,272.0 406.4,270.3 406.7,269.1 407.0,268.7 407.3,268.6 407.6,268.5 408.0,268.6 408.3,268.9 408.6,269.8 408.9,271.2 409.2,272.6 409.5,274.1 409.8,275.1 410.1,275.5 410.4,275.3 410.8,274.1 411.1,272.6 411.4,271.8 411.7,271.1 412.0,270.0 412.3,269.9 412.6,270.5 412.9,270.9 413.2,271.8 413.6,272.9 413.9,273.3 414.2,273.5 414.5,273.7 414.8,274.2 415.1,274.8 415.4,275.4 415.7,275.7 416.0,275.6 416.4,275.3 416.7,275.0 417.0,274.6 417.3,274.5 417.6,274.4 417.9,274.9 418.2,276.3 418.5,278.0 418.8,279.7 419.2,280.5 419.5,279.9 419.8,278.6 420.1,277.0 420.4,275.0 420.7,273.1 421.0,271.1 421.3,269.4 421.6,268.8 422.0,269.2 422.3,270.4 422.6,271.8 422.9,273.2 423.2,274.5 423.5,275.0 423.8,275.1 424.1,275.6 424.5,276.7 424.8,277.9 425.1,278.6 425.4,278.6 425.7,278.3 426.0,278.1 426.3,277.4 426.6,275.9 426.9,273.7 427.3,271.3 427.6,269.8 427.9,269.1 428.2,268.8 428.5,269.1 428.8,270.4 429.1,272.1 429.4,273.0 429.7,273.0 430.1,273.2 430.4,273.1 430.7,272.3 431.0,271.9 431.3,271.9 431.6,271.9 431.9,272.4 432.2,272.8 432.5,272.7 432.9,272.5 433.2,272.2 433.5,271.2 433.8,271.1 434.1,271.9 434.4,272.7 434.7,273.4 435.0,273.4 435.3,273.3 435.7,273.1 436.0,273.0 436.3,273.6 436.6,274.4 436.9,274.9 437.2,275.1 437.5,275.5 437.8,275.9 438.2,275.3 438.5,274.0 438.8,272.6 439.1,270.7 439.4,268.7 439.7,267.8 440.0,267.4 440.3,267.0 440.6,266.9 441.0,267.5 441.3,268.6 441.6,270.1 441.9,271.3 442.2,272.5 442.5,273.4 442.8,274.0 443.1,273.7 443.4,273.3 443.8,273.4 444.1,273.9 444.4,274.3 444.7,274.1 445.0,272.9 445.3,271.1 445.6,269.2 445.9,267.4 446.2,266.2 446.6,266.0 446.9,267.0 447.2,269.1 447.5,271.5 447.8,273.2 448.1,274.2 448.4,275.0 448.7,275.3 449.0,274.8 449.4,274.4 449.7,274.3 450.0,274.7 450.3,274.7 450.6,274.6 450.9,274.6 451.2,275.0 451.5,275.8 451.8,276.8 452.2,277.0 452.5,276.9 452.8,276.5 453.1,275.8 453.4,274.7 453.7,273.2 454.0,272.0 454.3,270.8 454.7,270.0 455.0,270.0 455.3,270.4 455.6,270.7 455.9,271.2 456.2,272.5 456.5,273.3 456.8,273.4 457.1,273.8 457.5,274.1 457.8,273.6 458.1,273.1 458.4,273.4 458.7,274.6 459.0,276.3 459.3,276.9 459.6,276.4 459.9,275.1 460.3,272.5 460.6,268.5 460.9,264.1 461.2,260.2 461.5,257.8 461.8,258.2 462.1,261.5 462.4,266.0 462.7,270.1 463.1,273.3 463.4,275.1 463.7,276.1 464.0,277.1 464.3,277.9 464.6,277.9 464.9,277.4 465.2,277.2 465.5,276.8 465.9,275.2 466.2,273.3 466.5,271.9 466.8,270.6 467.1,269.1 467.4,267.3 467.7,265.6 468.0,264.9 468.4,265.7 468.7,267.2 469.0,268.4 469.3,269.8 469.6,271.4 469.9,272.4 470.2,272.7 470.5,272.3 470.8,272.2 471.2,272.4 471.5,272.3 471.8,272.2 472.1,271.5 472.4,270.9 472.7,270.7 473.0,270.8 473.3,270.7 473.6,271.4 474.0,272.7 474.3,273.5 474.6,274.3 474.9,275.8 475.2,276.9 475.5,277.5 475.8,277.4 476.1,277.3 476.4,277.6 476.8,277.5 477.1,277.2 477.4,276.3 477.7,274.9 478.0,274.2 478.3,274.4 478.6,275.0 478.9,276.1 479.2,277.4 479.6,277.7 479.9,277.3 480.2,276.4 480.5,275.0 480.8,273.4 481.1,271.7 481.4,270.2 481.7,268.5 482.0,266.7 482.4,265.5 482.7,265.3 483.0,265.9 483.3,267.6 483.6,269.5 483.9,271.8 484.2,273.9 484.5,275.5 484.9,276.6 485.2,276.5 485.5,275.7 485.8,275.2 486.1,274.1 486.4,272.6 486.7,272.2 487.0,272.6 487.3,274.0 487.7,276.0 488.0,278.0 488.3,278.9 488.6,279.0 488.9,278.7 489.2,277.2 489.5,275.2 489.8,273.4 490.1,272.5 490.5,272.3 490.8,271.8 491.1,271.6 491.4,271.5 491.7,271.4 492.0,271.3 492.3,271.6 492.6,272.5 492.9,273.2 493.3,273.2 493.6,273.7 493.9,274.2 494.2,274.3 494.5,274.5 494.8,275.0 495.1,275.0 495.4,274.7 495.7,274.3 496.1,274.0 496.4,273.9 496.7,273.6 497.0,272.5 497.3,271.6 497.6,271.2 497.9,271.3 498.2,271.5 498.5,271.4 498.9,271.2 499.2,270.9 499.5,270.5 499.8,269.7 500.1,269.0 500.4,268.7 500.7,269.3 501.0,269.4 501.4,269.0 501.7,268.7 502.0,268.1 502.3,267.8 502.6,267.8 502.9,267.9 503.2,268.8 503.5,270.7 503.8,272.3 504.2,273.4 504.5,274.2 504.8,274.1 505.1,273.3 505.4,272.2 505.7,270.8 506.0,269.0 506.3,267.6 506.6,267.4 507.0,268.1 507.3,269.9 507.6,271.9 507.9,274.0 508.2,276.4 508.5,278.2 508.8,278.0 509.1,276.1 509.4,274.2 509.8,272.2 510.1,270.7 510.4,270.2 510.7,270.3 511.0,270.3 511.3,270.5 511.6,271.3 511.9,272.5 512.2,273.5 512.6,274.6 512.9,275.1 513.2,275.7 513.5,276.2 513.8,276.3 514.1,276.5 514.4,276.8 514.7,276.7 515.0,276.0 515.4,275.5 515.7,274.9 516.0,274.5 516.3,274.1 516.6,273.4 516.9,272.7 517.2,272.4 517.5,272.3 517.9,272.7 518.2,273.5 518.5,273.8 518.8,273.8 519.1,274.2 519.4,275.1 519.7,275.9 520.0,276.3 520.3,275.9 520.7,274.9 521.0,273.6 521.3,272.2 521.6,270.7 521.9,269.3 522.2,269.0 522.5,270.2 522.8,272.8 523.1,275.7 523.5,277.4 523.8,277.9 524.1,277.7 524.4,276.8 524.7,275.7 525.0,275.1 525.3,275.0 525.6,274.7 525.9,273.6 526.3,271.7 526.6,270.2 526.9,268.9 527.2,269.1 527.5,270.4 527.8,272.2 528.1,274.2 528.4,276.0 528.7,276.8 529.1,277.1 529.4,277.4 529.7,277.1 530.0,276.4 530.3,274.8 530.6,272.0 530.9,269.4 531.2,267.6 531.6,266.4 531.9,265.9 532.2,266.7 532.5,269.0 532.8,271.5 533.1,272.9 533.4,274.0 533.7,275.2 534.0,276.1 534.4,276.3 534.7,276.4 535.0,276.1 535.3,275.3 535.6,274.8 535.9,274.9 536.2,275.0 536.5,274.7 536.8,273.5 537.2,272.2 537.5,271.6 537.8,271.5 538.1,271.4 538.4,272.2" stroke="#30b47f"/><polyline points="351.6,338.2 351.9,330.7 352.2,323.2 352.5,315.7 352.8,311.2 353.2,306.7 353.5,302.1 353.8,297.6 354.1,293.0 354.4,288.5 354.7,284.0 355.0,279.4 355.3,274.9 355.6,270.3 356.0,265.8 356.3,261.3 356.6,261.7 356.9,262.2 357.2,262.7 357.5,262.6 357.8,262.5 358.1,262.4 358.4,262.3 358.8,262.1 359.1,262.0 359.4,261.9 359.7,261.8 360.0,261.8 360.3,261.8 360.6,261.9 360.9,261.9 361.3,261.9 361.6,261.9 361.9,261.9 362.2,261.9 362.5,262.0 362.8,262.3 363.1,262.6 363.4,262.9 363.7,263.3 364.1,263.6 364.4,263.9 364.7,264.2 365.0,264.5 365.3,264.9 365.6,265.2 365.9,265.8 366.2,266.4 366.5,267.0 366.9,267.6 367.2,268.2 367.5,268.9 367.8,269.5 368.1,270.1 368.4,270.7 368.7,271.3 369.0,271.9 369.3,272.5 369.7,273.1 370.0,274.6 370.3,276.0 370.6,277.4 370.9,278.8 371.2,280.2 371.5,279.9 371.8,279.7 372.1,279.4 372.5,279.1 372.8,278.8 373.1,277.0 373.4,275.7 373.7,274.8 374.0,274.5 374.3,274.3 374.6,273.7 375.0,273.4 375.3,272.7 375.6,271.6 375.9,270.8 376.2,270.4 376.5,270.7 376.8,271.4 377.1,271.9 377.4,272.0 377.8,270.9 378.1,269.5 378.4,268.9 378.7,268.7 379.0,268.6 379.3,269.0 379.6,270.1 379.9,270.8 380.2,271.3 380.6,271.4 380.9,271.7 381.2,272.3 381.5,272.2 381.8,271.7 382.1,270.7 382.4,270.1 382.7,269.7 383.0,270.1 383.4,270.6 383.7,270.4 384.0,269.8 384.3,268.4 384.6,266.6 384.9,265.4 385.2,265.3 385.5,265.8 385.8,267.2 386.2,269.7 386.5,272.0 386.8,272.9 387.1,273.3 387.4,273.7 387.7,274.0 388.0,274.5 388.3,275.0 388.6,275.6 389.0,276.5 389.3,276.9 389.6,275.9 389.9,274.6 390.2,273.1 390.5,271.5 390.8,269.7 391.1,268.8 391.5,268.5 391.8,268.9 392.1,270.4 392.4,272.3 392.7,274.2 393.0,275.4 393.3,275.7 393.6,275.9 393.9,275.2 394.3,274.2 394.6,274.1 394.9,274.4 395.2,274.3 395.5,273.5 395.8,272.1 396.1,270.5 396.4,269.0 396.7,268.0 397.1,267.5 397.4,267.6 397.7,268.4 398.0,269.3 398.3,269.8 398.6,269.6 398.9,269.4 399.2,269.9 399.5,270.4 399.9,271.0 400.2,272.2 400.5,273.0 400.8,272.8 401.1,271.8 401.4,270.7 401.7,269.6 402.0,268.1 402.3,266.5 402.7,265.5 403.0,265.4 403.3,266.4 403.6,268.5 403.9,270.7 404.2,273.0 404.5,275.0 404.8,276.4 405.1,277.0 405.5,276.9 405.8,276.0 406.1,274.7 406.4,273.4 406.7,272.2 407.0,271.1 407.3,269.7 407.6,268.9 408.0,268.8 408.3,269.2 408.6,270.3 408.9,272.1 409.2,273.7 409.5,274.9 409.8,275.3 410.1,274.4 410.4,273.6 410.8,273.2 411.1,272.3 411.4,271.6 411.7,271.4 412.0,271.7 412.3,271.5 412.6,270.7 412.9,270.5 413.2,271.1 413.6,271.0 413.9,270.2 414.2,269.3 414.5,269.2 414.8,270.0 415.1,270.8 415.4,271.7 415.7,272.8 416.0,273.6 416.4,274.6 416.7,275.4 417.0,275.9 417.3,276.3 417.6,276.1 417.9,275.8 418.2,276.3 418.5,277.0 418.8,277.8 419.2,278.6 419.5,279.1 419.8,278.2 420.1,276.9 420.4,275.5 420.7,273.8 421.0,271.6 421.3,269.3 421.6,267.3 422.0,266.9 422.3,267.4 422.6,268.6 422.9,270.0 423.2,271.6 423.5,272.7 423.8,273.6 424.1,274.6 424.5,275.1 424.8,275.9 425.1,276.6 425.4,276.6 425.7,276.2 426.0,275.2 426.3,273.9 426.6,272.1 426.9,270.8 427.3,270.1 427.6,269.4 427.9,269.7 428.2,270.5 428.5,271.7 428.8,273.1 429.1,274.0 429.4,274.5 429.7,274.1 430.1,273.0 430.4,272.2 430.7,271.3 431.0,270.7 431.3,270.8 431.6,271.7 431.9,272.8 432.2,273.5 432.5,274.0 432.9,273.9 433.2,273.7 433.5,273.2 433.8,272.6 434.1,272.4 434.4,272.7 434.7,273.5 435.0,273.7 435.3,273.8 435.7,273.8 436.0,273.7 436.3,273.8 436.6,274.7 436.9,275.7 437.2,276.1 437.5,276.2 437.8,276.0 438.2,275.8 438.5,275.3 438.8,273.7 439.1,271.8 439.4,270.4 439.7,269.6 440.0,268.8 440.3,267.5 440.6,266.5 441.0,266.5 441.3,267.2 441.6,268.1 441.9,269.2 442.2,270.2 442.5,271.8 442.8,273.1 443.1,274.0 443.4,275.0 443.8,275.3 444.1,275.9 444.4,276.2 444.7,275.9 445.0,274.8 445.3,272.8 445.6,270.1 445.9,267.7 446.2,265.9 446.6,266.0 446.9,267.2 447.2,268.8 447.5,271.0 447.8,272.8 448.1,273.7 448.4,273.8 448.7,273.8 449.0,273.8 449.4,273.4 449.7,272.9 450.0,272.2 450.3,272.0 450.6,272.4 450.9,273.5 451.2,274.7 451.5,276.2 451.8,277.4 452.2,277.0 452.5,276.3 452.8,275.9 453.1,275.6 453.4,274.9 453.7,273.5 454.0,272.0 454.3,271.3 454.7,270.8 455.0,271.0 455.3,271.3 455.6,271.8 455.9,272.3 456.2,272.6 456.5,272.6 456.8,272.1 457.1,271.0 457.5,268.9 457.8,267.2 458.1,266.7 458.4,267.5 458.7,269.1 459.0,271.1 459.3,272.7 459.6,273.7 459.9,273.7 460.3,272.3 460.6,269.3 460.9,265.1 461.2,260.5 461.5,257.2 461.8,256.5 462.1,258.7 462.4,262.5 462.7,266.5 463.1,270.4 463.4,273.6 463.7,275.8 464.0,277.5 464.3,278.3 464.6,278.3 464.9,277.9 465.2,277.3 465.5,276.6 465.9,274.6 466.2,272.5 466.5,271.1 466.8,269.6 467.1,268.3 467.4,267.9 467.7,268.3 468.0,268.9 468.4,269.7 468.7,271.2 469.0,272.9 469.3,274.5 469.6,275.8 469.9,276.9 470.2,277.7 470.5,277.1 470.8,275.8 471.2,275.1 471.5,274.5 471.8,273.4 472.1,272.0 472.4,271.0 472.7,269.9 473.0,269.3 473.3,269.0 473.6,269.8 474.0,270.8 474.3,272.0 474.6,273.5 474.9,275.1 475.2,276.6 475.5,277.2 475.8,276.8 476.1,276.5 476.4,276.5 476.8,276.3 477.1,275.3 477.4,274.2 477.7,272.8 478.0,272.0 478.3,272.4 478.6,272.9 478.9,273.8 479.2,275.1 479.6,275.8 479.9,276.0 480.2,275.8 480.5,274.9 480.8,273.8 481.1,272.5 481.4,270.7 481.7,267.7 482.0,265.0 482.4,263.1 482.7,261.9 483.0,262.7 483.3,265.3 483.6,268.4 483.9,271.6 484.2,274.4 484.5,276.2 484.9,277.1 485.2,277.2 485.5,276.5 485.8,275.3 486.1,274.2 486.4,272.7 486.7,271.6 487.0,271.4 487.3,271.8 487.7,272.3 488.0,272.7 488.3,273.8 488.6,274.9 488.9,275.0 489.2,274.2 489.5,273.5 489.8,272.9 490.1,272.3 490.5,271.5 490.8,270.6 491.1,269.8 491.4,268.7 491.7,268.4 492.0,269.3 492.3,270.0 492.6,270.4 492.9,270.9 493.3,271.4 493.6,272.3 493.9,273.2 494.2,274.3 494.5,275.3 494.8,275.4 495.1,275.0 495.4,274.2 495.7,273.4 496.1,272.7 496.4,272.2 496.7,270.9 497.0,269.2 497.3,268.1 497.6,267.8 497.9,268.2 498.2,268.4 498.5,268.7 498.9,269.6 499.2,270.2 499.5,270.6 499.8,270.9 500.1,270.9 500.4,270.6 500.7,269.6 501.0,268.4 501.4,267.8 501.7,267.8 502.0,267.5 502.3,266.9 502.6,266.5 502.9,267.0 503.2,267.9 503.5,269.6 503.8,271.8 504.2,273.8 504.5,275.7 504.8,276.9 505.1,276.3 505.4,274.4 505.7,272.2 506.0,270.1 506.3,268.5 506.6,267.2 507.0,267.1 507.3,268.6 507.6,270.3 507.9,271.7 508.2,273.0 508.5,273.7 508.8,274.2 509.1,274.1 509.4,272.8 509.8,271.2 510.1,270.1 510.4,269.7 510.7,269.2 511.0,269.0 511.3,269.4 511.6,269.8 511.9,270.2 512.2,271.0 512.6,271.2 512.9,271.5 513.2,272.0 513.5,272.1 513.8,272.3 514.1,272.6 514.4,272.8 514.7,272.9 515.0,273.5 515.4,274.3 515.7,274.5 516.0,273.7 516.3,272.6 516.6,271.7 516.9,271.1 517.2,270.9 517.5,271.3 517.9,272.3 518.2,273.8 518.5,275.7 518.8,277.2 519.1,278.0 519.4,278.2 519.7,277.7 520.0,277.1 520.3,276.4 520.7,275.2 521.0,273.6 521.3,272.1 521.6,271.0 521.9,269.7 522.2,269.2 522.5,270.3 522.8,271.8 523.1,273.3 523.5,274.2 523.8,274.9 524.1,275.3 524.4,275.2 524.7,274.8 525.0,274.0 525.3,272.6 525.6,271.4 525.9,270.6 526.3,270.4 526.6,270.1 526.9,269.8 527.2,270.3 527.5,271.5 527.8,272.7 528.1,274.0 528.4,275.8 528.7,276.5 529.1,276.1 529.4,276.5 529.7,276.6 530.0,276.3 530.3,275.4 530.6,273.4 530.9,271.1 531.2,268.8 531.6,267.0 531.9,265.8 532.2,265.9 532.5,267.3 532.8,269.3 533.1,271.1 533.4,272.4 533.7,272.9 534.0,273.1 534.4,273.5 534.7,273.5 535.0,274.1 535.3,274.8 535.6,274.7 535.9,274.0 536.2,273.5 536.5,273.3 536.8,272.6 537.2,271.2 537.5,269.9 537.8,269.7 538.1,270.3 538.4,271.7" stroke="#c97be6"/><polyline points="351.6,338.2 351.9,328.3 352.2,318.5 352.5,308.6 352.8,304.8 353.2,301.1 353.5,297.3 353.8,293.5 354.1,289.7 354.4,286.0 354.7,282.2 355.0,278.4 355.3,274.7 355.6,270.9 356.0,267.1 356.3,263.4 356.6,259.6 356.9,260.8 357.2,262.0 357.5,263.2 357.8,262.9 358.1,262.7 358.4,262.5 358.8,262.3 359.1,262.1 359.4,261.9 359.7,261.7 360.0,261.9 360.3,262.1 360.6,262.4 360.9,262.6 361.3,262.8 361.6,263.0 361.9,263.3 362.2,263.5 362.5,263.7 362.8,263.8 363.1,263.9 363.4,264.0 363.7,264.1 364.1,264.2 364.4,264.2 364.7,264.3 365.0,264.4 365.3,264.5 365.6,264.6 365.9,265.6 366.2,266.5 366.5,267.4 366.9,268.4 367.2,269.3 367.5,270.3 367.8,271.2 368.1,271.9 368.4,272.5 368.7,273.1 369.0,273.7 369.3,274.4 369.7,275.0 370.0,275.6 370.3,276.3 370.6,276.9 370.9,277.5 371.2,278.1 371.5,277.9 371.8,277.7 372.1,277.4 372.5,277.2 372.8,277.0 373.1,275.8 373.4,275.1 373.7,274.5 374.0,274.0 374.3,273.5 374.6,272.6 375.0,271.1 375.3,268.9 375.6,267.0 375.9,266.3 376.2,266.5 376.5,267.6 376.8,268.9 377.1,269.3 377.4,269.2 377.8,268.8 378.1,268.3 378.4,267.5 378.7,267.3 379.0,267.6 379.3,268.3 379.6,269.3 379.9,270.8 380.2,272.1 380.6,272.7 380.9,272.0 381.2,271.6 381.5,271.8 381.8,271.2 382.1,270.2 382.4,269.5 382.7,269.4 383.0,269.7 383.4,269.7 383.7,270.2 384.0,270.5 384.3,269.4 384.6,268.2 384.9,267.3 385.2,266.4 385.5,266.6 385.8,267.6 386.2,269.1 386.5,270.3 386.8,270.9 387.1,271.2 387.4,271.5 387.7,271.7 388.0,271.9 388.3,272.6 388.6,273.9 389.0,274.8 389.3,275.1 389.6,274.2 389.9,272.7 390.2,271.4 390.5,270.3 390.8,269.3 391.1,268.6 391.5,268.6 391.8,269.2 392.1,270.6 392.4,272.1 392.7,273.5 393.0,274.4 393.3,275.1 393.6,275.7 393.9,275.5 394.3,274.7 394.6,273.9 394.9,273.3 395.2,272.9 395.5,272.0 395.8,271.3 396.1,270.9 396.4,270.3 396.7,268.9 397.1,268.1 397.4,268.4 397.7,269.0 398.0,269.8 398.3,270.2 398.6,270.1 398.9,270.1 399.2,270.3 399.5,270.3 399.9,270.9 400.2,272.0 400.5,272.8 400.8,272.8 401.1,272.1 401.4,271.2 401.7,269.7 402.0,267.9 402.3,266.7 402.7,266.2 403.0,266.8 403.3,268.4 403.6,271.0 403.9,273.4 404.2,274.9 404.5,276.0 404.8,276.4 405.1,275.9 405.5,275.1 405.8,274.0 406.1,272.9 406.4,271.5 406.7,269.7 407.0,268.6 407.3,268.4 407.6,267.8 408.0,267.4 408.3,268.4 408.6,270.1 408.9,272.0 409.2,273.8 409.5,274.6 409.8,274.4 410.1,273.6 410.4,272.2 410.8,270.3 411.1,269.0 411.4,268.7 411.7,268.7 412.0,268.7 412.3,268.7 412.6,269.3 412.9,270.1 413.2,270.8 413.6,271.2 413.9,270.9 414.2,270.6 414.5,270.3 414.8,270.4 415.1,270.7 415.4,271.2 415.7,272.0 416.0,272.3 416.4,271.9 416.7,271.9 417.0,272.8 417.3,274.2 417.6,275.0 417.9,275.7 418.2,277.0 418.5,277.9 418.8,278.4 419.2,278.5 419.5,278.1 419.8,277.3 420.1,275.6 420.4,272.6 420.7,269.9 421.0,268.2 421.3,267.0 421.6,266.5 422.0,266.7 422.3,268.0 422.6,270.0 422.9,271.3 423.2,272.1 423.5,272.9 423.8,273.7 424.1,274.5 424.5,275.3 424.8,275.9 425.1,276.1 425.4,276.0 425.7,275.1 426.0,273.8 426.3,272.1 426.6,270.2 426.9,268.7 427.3,268.0 427.6,267.5 427.9,267.4 428.2,268.3 428.5,269.5 428.8,269.8 429.1,270.1 429.4,270.3 429.7,270.3 430.1,270.3 430.4,270.0 430.7,270.1 431.0,270.9 431.3,271.3 431.6,271.4 431.9,271.6 432.2,271.3 432.5,270.5 432.9,269.4 433.2,268.3 433.5,268.1 433.8,268.9 434.1,270.0 434.4,271.3 434.7,272.2 435.0,272.7 435.3,272.7 435.7,272.8 436.0,272.8 436.3,272.8 436.6,272.7 436.9,272.7 437.2,273.0 437.5,273.4 437.8,273.6 438.2,272.9 438.5,271.6 438.8,270.3 439.1,268.8 439.4,267.1 439.7,265.7 440.0,264.9 440.3,264.7 440.6,265.3 441.0,266.6 441.3,267.8 441.6,268.8 441.9,269.8 442.2,270.6 442.5,271.6 442.8,272.1 443.1,272.5 443.4,273.0 443.8,273.3 444.1,273.3 444.4,273.4 444.7,273.8 445.0,273.8 445.3,272.3 445.6,269.8 445.9,267.2 446.2,265.2 446.6,264.6 446.9,265.3 447.2,266.9 447.5,269.0 447.8,270.7 448.1,272.5 448.4,273.8 448.7,274.2 449.0,273.5 449.4,272.4 449.7,271.8 450.0,271.5 450.3,271.7 450.6,271.9 450.9,272.2 451.2,273.0 451.5,273.9 451.8,274.4 452.2,275.0 452.5,275.6 452.8,275.1 453.1,273.8 453.4,272.7 453.7,271.7 454.0,270.6 454.3,269.5 454.7,269.0 455.0,269.0 455.3,269.3 455.6,270.0 455.9,270.7 456.2,270.6 456.5,270.8 456.8,270.8 457.1,270.4 457.5,269.8 457.8,269.6 458.1,269.5 458.4,269.2 458.7,269.2 459.0,270.1 459.3,271.3 459.6,272.0 459.9,271.9 460.3,269.7 460.6,265.4 460.9,260.9 461.2,256.8 461.5,254.7 461.8,255.4 462.1,258.4 462.4,262.8 462.7,267.2 463.1,270.9 463.4,273.9 463.7,276.4 464.0,278.2 464.3,278.5 464.6,278.3 464.9,278.1 465.2,277.6 465.5,276.7 465.9,274.9 466.2,273.2 466.5,271.7 466.8,270.3 467.1,269.0 467.4,267.9 467.7,267.0 468.0,266.2 468.4,266.5 468.7,268.0 469.0,269.9 469.3,272.2 469.6,274.1 469.9,275.1 470.2,275.5 470.5,275.9 470.8,276.0 471.2,274.8 471.5,273.4 471.8,273.1 472.1,273.1 472.4,272.6 472.7,271.9 473.0,271.7 473.3,271.8 473.6,272.1 474.0,272.5 474.3,273.2 474.6,274.0 474.9,274.2 475.2,274.8 475.5,275.7 475.8,275.7 476.1,275.1 476.4,274.6 476.8,274.2 477.1,273.5 477.4,272.9 477.7,272.9 478.0,273.5 478.3,274.5 478.6,275.7 478.9,276.7 479.2,277.4 479.6,277.4 479.9,276.5 480.2,275.7 480.5,275.2 480.8,273.7 481.1,271.6 481.4,269.3 481.7,266.7 482.0,265.1 482.4,264.9 482.7,265.7 483.0,267.1 483.3,268.7 483.6,270.6 483.9,272.5 484.2,274.1 484.5,275.2 484.9,276.3 485.2,277.0 485.5,276.7 485.8,275.6 486.1,273.8 486.4,272.0 486.7,271.4 487.0,272.1 487.3,273.7 487.7,275.5 488.0,276.9 488.3,277.3 488.6,276.9 488.9,276.1 489.2,275.3 489.5,274.2 489.8,272.8 490.1,271.7 490.5,271.0 490.8,269.9 491.1,268.2 491.4,266.4 491.7,265.4 492.0,265.5 492.3,266.2 492.6,267.4 492.9,268.8 493.3,270.2 493.6,271.4 493.9,273.0 494.2,274.5 494.5,274.9 494.8,274.5 495.1,274.2 495.4,273.8 495.7,273.3 496.1,273.0 496.4,272.8 496.7,272.4 497.0,272.2 497.3,271.6 497.6,270.8 497.9,270.4 498.2,270.1 498.5,270.0 498.9,269.4 499.2,268.6 499.5,268.2 499.8,268.1 500.1,267.8 500.4,266.8 500.7,266.2 501.0,266.6 501.4,266.4 501.7,266.2 502.0,266.2 502.3,266.4 502.6,266.5 502.9,266.9 503.2,268.4 503.5,270.4 503.8,272.1 504.2,273.6 504.5,274.5 504.8,274.3 505.1,273.4 505.4,271.6 505.7,269.4 506.0,267.4 506.3,265.4 506.6,264.2 507.0,264.4 507.3,265.7 507.6,267.8 507.9,270.1 508.2,272.7 508.5,274.3 508.8,274.8 509.1,274.4 509.4,273.0 509.8,271.2 510.1,269.4 510.4,267.9 510.7,267.0 511.0,266.6 511.3,267.2 511.6,268.2 511.9,269.2 512.2,270.4 512.6,271.1 512.9,271.7 513.2,272.7 513.5,273.7 513.8,273.9 514.1,273.8 514.4,274.1 514.7,274.1 515.0,274.1 515.4,273.7 515.7,272.4 516.0,271.1 516.3,270.5 516.6,269.9 516.9,269.6 517.2,270.3 517.5,271.6 517.9,272.6 518.2,273.7 518.5,275.0 518.8,275.8 519.1,276.3 519.4,276.2 519.7,275.3 520.0,274.1 520.3,273.0 520.7,272.8 521.0,272.8 521.3,272.0 521.6,270.4 521.9,268.7 522.2,267.5 522.5,267.0 522.8,267.6 523.1,269.4 523.5,271.2 523.8,271.9 524.1,272.0 524.4,271.7 524.7,270.7 525.0,270.3 525.3,270.5 525.6,270.3 525.9,269.2 526.3,267.8 526.6,267.4 526.9,268.5 527.2,269.9 527.5,271.5 527.8,272.7 528.1,273.5 528.4,273.9 528.7,274.2 529.1,274.7 529.4,274.9 529.7,274.4 530.0,272.6 530.3,270.1 530.6,267.8 530.9,266.0 531.2,264.6 531.6,264.0 531.9,264.0 532.2,265.4 532.5,267.4 532.8,268.9 533.1,270.7 533.4,272.1 533.7,272.7 534.0,272.8 534.4,273.2 534.7,273.2 535.0,272.5 535.3,272.2 535.6,272.7 535.9,273.3 536.2,273.2 536.5,272.5 536.8,271.5 537.2,270.2 537.5,269.4 537.8,269.1 538.1,269.1 538.4,269.8" stroke="#efa63c"/><polyline points="351.6,338.2 351.9,330.5 352.2,322.8 352.5,315.0 352.8,310.3 353.2,305.6 353.5,300.8 353.8,296.1 354.1,291.4 354.4,286.6 354.7,281.9 355.0,277.1 355.3,272.4 355.6,267.7 356.0,262.9 356.3,262.0 356.6,261.0 356.9,260.0 357.2,260.3 357.5,260.5 357.8,260.7 358.1,260.9 358.4,261.1 358.8,261.4 359.1,261.6 359.4,261.8 359.7,262.0 360.0,262.0 360.3,262.0 360.6,262.0 360.9,262.0 361.3,262.0 361.6,262.0 361.9,262.0 362.2,262.0 362.5,262.0 362.8,262.2 363.1,262.5 363.4,262.7 363.7,263.0 364.1,263.3 364.4,263.5 364.7,263.8 365.0,264.0 365.3,264.3 365.6,264.6 365.9,265.0 366.2,265.5 366.5,266.0 366.9,266.4 367.2,266.9 367.5,267.4 367.8,267.8 368.1,268.9 368.4,269.9 368.7,270.9 369.0,271.9 369.3,272.9 369.7,274.0 370.0,275.3 370.3,276.6 370.6,277.9 370.9,279.2 371.2,280.5 371.5,279.9 371.8,279.4 372.1,278.8 372.5,278.3 372.8,277.7 373.1,275.9 373.4,274.7 373.7,274.1 374.0,273.6 374.3,272.8 374.6,271.4 375.0,269.3 375.3,267.3 375.6,265.7 375.9,264.5 376.2,264.5 376.5,265.2 376.8,266.3 377.1,267.2 377.4,267.3 377.8,266.7 378.1,266.0 378.4,265.3 378.7,265.0 379.0,265.1 379.3,265.7 379.6,266.9 379.9,268.4 380.2,269.6 380.6,269.8 380.9,269.5 381.2,269.5 381.5,269.4 381.8,269.1 382.1,268.5 382.4,267.9 382.7,268.2 383.0,268.7 383.4,268.6 383.7,268.4 384.0,268.1 384.3,267.5 384.6,266.3 384.9,264.4 385.2,263.1 385.5,263.2 385.8,264.7 386.2,266.3 386.5,267.7 386.8,269.2 387.1,270.7 387.4,272.0 387.7,272.7 388.0,273.1 388.3,274.0 388.6,274.7 389.0,274.9 389.3,274.7 389.6,273.8 389.9,271.5 390.2,269.0 390.5,267.3 390.8,265.5 391.1,264.8 391.5,264.9 391.8,265.3 392.1,266.4 392.4,267.8 392.7,269.1 393.0,270.8 393.3,272.1 393.6,272.1 393.9,272.0 394.3,272.3 394.6,272.1 394.9,271.4 395.2,271.0 395.5,270.6 395.8,270.2 396.1,270.1 396.4,269.4 396.7,267.9 397.1,266.9 397.4,266.9 397.7,267.3 398.0,267.5 398.3,267.8 398.6,268.1 398.9,268.1 399.2,268.0 399.5,268.4 399.9,269.6 400.2,270.7 400.5,271.6 400.8,272.3 401.1,272.3 401.4,271.1 401.7,268.7 402.0,266.5 402.3,264.6 402.7,263.0 403.0,262.0 403.3,262.7 403.6,264.9 403.9,267.8 404.2,270.6 404.5,272.7 404.8,273.7 405.1,274.0 405.5,273.6 405.8,272.4 406.1,270.7 406.4,268.9 406.7,267.3 407.0,266.2 407.3,266.0 407.6,266.4 408.0,266.6 408.3,267.0 408.6,268.2 408.9,269.4 409.2,270.5 409.5,271.2 409.8,271.4 410.1,271.4 410.4,270.8 410.8,269.8 411.1,268.9 411.4,269.0 411.7,269.2 412.0,269.1 412.3,269.4 412.6,269.8 412.9,270.1 413.2,269.8 413.6,269.2 413.9,268.8 414.2,267.8 414.5,266.9 414.8,266.5 415.1,266.3 415.4,267.0 415.7,268.1 416.0,269.2 416.4,269.4 416.7,269.4 417.0,270.0 417.3,270.6 417.6,271.3 417.9,272.2 418.2,273.2 418.5,274.4 418.8,275.3 419.2,276.3 419.5,277.2 419.8,277.2 420.1,276.1 420.4,273.5 420.7,270.8 421.0,268.5 421.3,266.7 421.6,265.8 422.0,265.9 422.3,266.5 422.6,267.3 422.9,268.7 423.2,269.9 423.5,270.7 423.8,271.6 424.1,272.6 424.5,273.8 424.8,274.5 425.1,274.6 425.4,274.2 425.7,273.6 426.0,272.7 426.3,271.9 426.6,270.8 426.9,269.8 427.3,268.6 427.6,268.0 427.9,268.2 428.2,268.8 428.5,269.7 428.8,270.2 429.1,270.8 429.4,271.1 429.7,271.3 430.1,271.5 430.4,271.2 430.7,270.3 431.0,269.4 431.3,269.0 431.6,269.2 431.9,269.8 432.2,270.1 432.5,270.3 432.9,270.3 433.2,269.6 433.5,268.8 433.8,268.7 434.1,269.2 434.4,270.1 434.7,271.2 435.0,271.7 435.3,271.8 435.7,271.3 436.0,270.7 436.3,270.9 436.6,271.5 436.9,272.1 437.2,272.9 437.5,272.9 437.8,272.5 438.2,271.5 438.5,270.1 438.8,269.1 439.1,268.1 439.4,266.7 439.7,264.9 440.0,263.6 440.3,263.3 440.6,263.1 441.0,263.7 441.3,265.2 441.6,266.8 441.9,268.1 442.2,268.8 442.5,269.9 442.8,270.8 443.1,271.3 443.4,271.5 443.8,272.0 444.1,272.4 444.4,272.6 444.7,272.8 445.0,272.2 445.3,270.8 445.6,268.6 445.9,265.9 446.2,263.9 446.6,263.3 446.9,263.7 447.2,264.7 447.5,266.5 447.8,267.9 448.1,268.5 448.4,268.9 448.7,269.4 449.0,269.7 449.4,270.0 449.7,270.4 450.0,270.8 450.3,271.1 450.6,271.0 450.9,270.8 451.2,271.0 451.5,271.4 451.8,271.9 452.2,272.4 452.5,272.5 452.8,272.0 453.1,271.2 453.4,270.1 453.7,269.0 454.0,268.4 454.3,268.2 454.7,268.0 455.0,267.9 455.3,267.8 455.6,267.9 455.9,268.8 456.2,270.0 456.5,270.0 456.8,269.2 457.1,268.7 457.5,268.0 457.8,267.5 458.1,267.3 458.4,267.0 458.7,267.2 459.0,268.6 459.3,269.9 459.6,270.4 459.9,269.9 460.3,267.3 460.6,262.9 460.9,258.2 461.2,254.8 461.5,253.9 461.8,255.6 462.1,259.2 462.4,263.4 462.7,267.0 463.1,269.5 463.4,271.5 463.7,273.2 464.0,274.5 464.3,275.7 464.6,276.1 464.9,275.6 465.2,274.8 465.5,274.0 465.9,272.4 466.2,270.5 466.5,268.7 466.8,266.9 467.1,265.2 467.4,264.3 467.7,264.1 468.0,264.1 468.4,264.6 468.7,266.1 469.0,267.5 469.3,268.7 469.6,270.4 469.9,272.5 470.2,274.4 470.5,275.0 470.8,274.6 471.2,274.4 471.5,274.1 471.8,273.0 472.1,271.2 472.4,269.6 472.7,268.4 473.0,267.4 473.3,266.5 473.6,266.4 474.0,267.3 474.3,268.5 474.6,270.1 474.9,271.7 475.2,272.2 475.5,272.5 475.8,273.5 476.1,274.3 476.4,274.4 476.8,274.4 477.1,274.3 477.4,273.6 477.7,272.6 478.0,272.3 478.3,272.8 478.6,273.3 478.9,274.0 479.2,274.8 479.6,275.2 479.9,275.4 480.2,275.1 480.5,273.9 480.8,272.4 481.1,270.6 481.4,268.6 481.7,266.2 482.0,264.0 482.4,262.6 482.7,262.5 483.0,263.3 483.3,265.3 483.6,268.5 483.9,272.1 484.2,274.7 484.5,275.3 484.9,275.1 485.2,274.2 485.5,272.3 485.8,270.2 486.1,268.6 486.4,268.1 486.7,268.3 487.0,269.2 487.3,270.7 487.7,272.4 488.0,273.7 488.3,274.3 488.6,274.2 488.9,273.5 489.2,273.0 489.5,272.3 489.8,271.2 490.1,269.7 490.5,268.2 490.8,266.6 491.1,265.2 491.4,264.3 491.7,264.2 492.0,264.5 492.3,265.5 492.6,266.7 492.9,267.5 493.3,267.8 493.6,268.6 493.9,269.8 494.2,270.8 494.5,271.2 494.8,271.5 495.1,271.5 495.4,271.1 495.7,270.5 496.1,269.8 496.4,269.0 496.7,268.4 497.0,268.0 497.3,267.3 497.6,266.4 497.9,266.1 498.2,266.2 498.5,266.6 498.9,266.8 499.2,266.2 499.5,265.8 499.8,265.1 500.1,264.3 500.4,264.0 500.7,264.2 501.0,264.7 501.4,264.9 501.7,264.4 502.0,263.8 502.3,263.3 502.6,263.6 502.9,264.5 503.2,265.7 503.5,267.5 503.8,269.8 504.2,272.0 504.5,273.8 504.8,274.2 505.1,273.3 505.4,271.8 505.7,270.0 506.0,268.1 506.3,266.8 506.6,266.0 507.0,266.4 507.3,267.9 507.6,269.6 507.9,271.2 508.2,273.2 508.5,274.5 508.8,274.3 509.1,273.3 509.4,271.8 509.8,269.9 510.1,268.8 510.4,268.3 510.7,268.0 511.0,268.8 511.3,269.9 511.6,270.6 511.9,270.8 512.2,270.3 512.6,269.8 512.9,270.0 513.2,270.8 513.5,271.1 513.8,271.1 514.1,271.5 514.4,271.8 514.7,271.6 515.0,271.0 515.4,270.2 515.7,269.2 516.0,267.7 516.3,266.7 516.6,266.2 516.9,266.3 517.2,266.8 517.5,267.8 517.9,269.3 518.2,270.7 518.5,271.9 518.8,272.9 519.1,273.2 519.4,272.7 519.7,272.1 520.0,271.5 520.3,270.5 520.7,269.4 521.0,268.7 521.3,267.8 521.6,266.8 521.9,265.9 522.2,264.8 522.5,264.8 522.8,265.9 523.1,267.9 523.5,270.1 523.8,271.4 524.1,271.6 524.4,271.1 524.7,270.7 525.0,270.3 525.3,269.8 525.6,269.7 525.9,269.4 526.3,268.4 526.6,267.4 526.9,266.8 527.2,267.1 527.5,268.4 527.8,269.9 528.1,271.8 528.4,273.4 528.7,274.1 529.1,274.1 529.4,273.6 529.7,272.3 530.0,270.1 530.3,267.7 530.6,265.4 530.9,262.6 531.2,260.7 531.6,260.2 531.9,261.2 532.2,263.5 532.5,266.1 532.8,268.6 533.1,270.5 533.4,271.9 533.7,272.7 534.0,272.5 534.4,271.9 534.7,271.9 535.0,272.1 535.3,271.8 535.6,271.1 535.9,271.0 536.2,271.4 536.5,271.4 536.8,270.6 537.2,269.3 537.5,268.2 537.8,268.0 538.1,268.6 538.4,269.7" stroke="#3cd4d4"/><polyline points="351.6,338.2 351.9,329.5 352.2,320.8 352.5,312.1 352.8,308.8 353.2,305.4 353.5,302.1 353.8,298.8 354.1,295.4 354.4,292.1 354.7,288.8 355.0,285.4 355.3,282.1 355.6,278.8 356.0,275.4 356.3,272.1 356.6,268.8 356.9,265.4 357.2,262.1 357.5,261.8 357.8,261.5 358.1,261.2 358.4,261.5 358.8,261.7 359.1,261.9 359.4,262.2 359.7,262.4 360.0,262.4 360.3,262.4 360.6,262.4 360.9,262.4 361.3,262.4 361.6,262.4 361.9,262.4 362.2,262.4 362.5,262.4 362.8,262.8 363.1,263.1 363.4,263.4 363.7,263.7 364.1,264.1 364.4,264.4 364.7,264.7 365.0,265.0 365.3,265.3 365.6,265.7 365.9,266.1 366.2,266.6 366.5,267.1 366.9,267.5 367.2,268.0 367.5,268.4 367.8,268.9 368.1,269.8 368.4,270.6 368.7,271.5 369.0,272.4 369.3,273.2 369.7,274.1 370.0,275.0 370.3,275.9 370.6,276.9 370.9,277.8 371.2,278.7 371.5,278.5 371.8,278.3 372.1,278.1 372.5,277.9 372.8,277.7 373.1,276.0 373.4,274.7 373.7,274.0 374.0,273.5 374.3,272.9 374.6,271.3 375.0,269.0 375.3,267.0 375.6,265.6 375.9,265.3 376.2,266.2 376.5,268.2 376.8,269.8 377.1,270.0 377.4,269.2 377.8,268.9 378.1,268.5 378.4,267.8 378.7,267.1 379.0,266.8 379.3,267.2 379.6,267.8 379.9,268.8 380.2,270.0 380.6,270.8 380.9,270.9 381.2,270.3 381.5,269.6 381.8,269.5 382.1,270.0 382.4,270.2 382.7,270.0 383.0,269.9 383.4,269.6 383.7,269.4 384.0,269.9 384.3,270.1 384.6,269.7 384.9,269.0 385.2,268.5 385.5,268.5 385.8,269.6 386.2,270.7 386.5,271.7 386.8,272.2 387.1,272.9 387.4,274.2 387.7,275.2 388.0,275.7 388.3,276.0 388.6,276.5 389.0,276.9 389.3,276.9 389.6,276.1 389.9,274.5 390.2,272.4 390.5,270.7 390.8,269.6 391.1,269.0 391.5,269.2 391.8,269.8 392.1,270.8 392.4,272.4 392.7,274.1 393.0,275.5 393.3,276.8 393.6,277.5 393.9,277.3 394.3,276.2 394.6,275.1 394.9,274.9 395.2,274.9 395.5,274.5 395.8,273.8 396.1,272.5 396.4,271.3 396.7,270.7 397.1,270.6 397.4,271.3 397.7,272.1 398.0,272.3 398.3,271.6 398.6,271.0 398.9,270.6 399.2,270.8 399.5,272.0 399.9,273.4 400.2,274.5 400.5,274.8 400.8,274.0 401.1,272.7 401.4,271.1 401.7,269.5 402.0,267.9 402.3,266.9 402.7,266.4 403.0,266.3 403.3,267.0 403.6,268.4 403.9,269.8 404.2,271.4 404.5,273.2 404.8,274.0 405.1,273.7 405.5,273.1 405.8,272.4 406.1,271.8 406.4,271.0 406.7,269.3 407.0,267.9 407.3,267.5 407.6,267.4 408.0,267.3 408.3,267.3 408.6,268.1 408.9,269.5 409.2,270.8 409.5,271.8 409.8,272.0 410.1,272.4 410.4,272.9 410.8,273.3 411.1,273.1 411.4,272.3 411.7,271.5 412.0,270.8 412.3,270.2 412.6,270.1 412.9,270.2 413.2,270.6 413.6,270.8 413.9,271.2 414.2,271.2 414.5,270.0 414.8,269.2 415.1,269.3 415.4,269.1 415.7,269.5 416.0,270.7 416.4,271.8 416.7,272.3 417.0,272.2 417.3,272.3 417.6,273.1 417.9,273.9 418.2,274.7 418.5,275.4 418.8,276.0 419.2,277.1 419.5,277.7 419.8,276.8 420.1,275.3 420.4,273.5 420.7,271.9 421.0,270.1 421.3,268.4 421.6,267.4 422.0,267.6 422.3,268.8 422.6,270.2 422.9,270.9 423.2,271.4 423.5,272.2 423.8,273.4 424.1,274.5 424.5,275.4 424.8,276.4 425.1,276.5 425.4,275.6 425.7,274.1 426.0,272.5 426.3,270.8 426.6,269.7 426.9,268.8 427.3,268.3 427.6,268.5 427.9,269.5 428.2,270.7 428.5,271.6 428.8,272.5 429.1,273.3 429.4,273.5 429.7,273.3 430.1,273.2 430.4,273.1 430.7,272.8 431.0,272.9 431.3,273.2 431.6,273.9 431.9,274.6 432.2,274.7 432.5,273.6 432.9,272.1 433.2,271.2 433.5,270.4 433.8,270.5 434.1,272.2 434.4,273.4 434.7,273.9 435.0,274.4 435.3,274.2 435.7,273.6 436.0,272.9 436.3,272.2 436.6,272.2 436.9,273.1 437.2,274.6 437.5,275.1 437.8,275.1 438.2,274.2 438.5,272.9 438.8,271.4 439.1,269.2 439.4,267.3 439.7,265.9 440.0,264.9 440.3,264.4 440.6,264.4 441.0,264.8 441.3,265.4 441.6,266.6 441.9,268.5 442.2,269.8 442.5,270.7 442.8,271.5 443.1,271.9 443.4,272.4 443.8,273.2 444.1,273.6 444.4,274.0 444.7,273.7 445.0,273.2 445.3,272.3 445.6,270.1 445.9,267.7 446.2,265.5 446.6,264.8 446.9,265.9 447.2,267.8 447.5,269.8 447.8,271.8 448.1,273.1 448.4,274.4 448.7,275.6 449.0,275.9 449.4,275.7 449.7,275.2 450.0,275.0 450.3,275.3 450.6,275.4 450.9,275.4 451.2,275.9 451.5,276.5 451.8,276.5 452.2,276.8 452.5,277.1 452.8,276.8 453.1,275.4 453.4,273.6 453.7,272.8 454.0,272.3 454.3,271.7 454.7,271.6 455.0,270.8 455.3,269.9 455.6,269.7 455.9,269.8 456.2,270.6 456.5,272.0 456.8,272.3 457.1,271.6 457.5,271.1 457.8,270.8 458.1,270.2 458.4,269.9 458.7,270.6 459.0,271.9 459.3,273.1 459.6,273.2 459.9,271.7 460.3,268.7 460.6,264.1 460.9,259.5 461.2,256.4 461.5,256.0 461.8,257.7 462.1,260.3 462.4,263.3 462.7,267.0 463.1,270.3 463.4,272.4 463.7,274.1 464.0,275.6 464.3,276.7 464.6,277.4 464.9,277.6 465.2,277.2 465.5,276.1 465.9,274.8 466.2,273.7 466.5,272.4 466.8,271.4 467.1,270.5 467.4,269.6 467.7,268.4 468.0,267.7 468.4,267.8 468.7,268.6 469.0,269.9 469.3,271.9 469.6,274.1 469.9,276.0 470.2,277.0 470.5,277.0 470.8,276.5 471.2,275.7 471.5,274.5 471.8,274.0 472.1,273.9 472.4,273.1 472.7,272.3 473.0,272.4 473.3,272.3 473.6,272.7 474.0,273.4 474.3,274.0 474.6,274.3 474.9,274.6 475.2,275.2 475.5,275.9 475.8,276.5 476.1,276.2 476.4,275.8 476.8,275.4 477.1,274.8 477.4,273.6 477.7,272.0 478.0,271.0 478.3,270.9 478.6,271.7 478.9,273.0 479.2,274.2 479.6,275.2 479.9,275.6 480.2,275.3 480.5,274.0 480.8,271.8 481.1,269.7 481.4,267.4 481.7,265.3 482.0,263.7 482.4,263.5 482.7,264.2 483.0,265.7 483.3,267.6 483.6,269.8 483.9,271.8 484.2,274.2 484.5,276.6 484.9,278.0 485.2,278.2 485.5,277.2 485.8,275.0 486.1,273.0 486.4,272.1 486.7,272.3 487.0,272.4 487.3,273.2 487.7,274.8 488.0,276.2 488.3,276.7 488.6,276.6 488.9,275.9 489.2,274.8 489.5,274.1 489.8,273.4 490.1,271.8 490.5,269.8 490.8,268.2 491.1,266.9 491.4,265.9 491.7,265.8 492.0,266.0 492.3,266.2 492.6,266.8 492.9,267.6 493.3,268.8 493.6,270.1 493.9,271.5 494.2,272.9 494.5,273.6 494.8,273.1 495.1,272.1 495.4,271.6 495.7,271.1 496.1,270.8 496.4,270.3 496.7,270.3 497.0,271.0 497.3,271.4 497.6,271.5 497.9,271.9 498.2,272.5 498.5,272.5 498.9,271.9 499.2,270.9 499.5,269.8 499.8,269.1 500.1,268.7 500.4,268.6 500.7,268.7 501.0,269.1 501.4,269.3 501.7,269.1 502.0,268.8 502.3,268.1 502.6,267.6 502.9,267.1 503.2,267.6 503.5,268.7 503.8,269.9 504.2,271.5 504.5,273.1 504.8,273.8 505.1,273.4 505.4,272.3 505.7,270.3 506.0,268.4 506.3,267.1 506.6,266.3 507.0,266.1 507.3,267.3 507.6,269.9 507.9,272.5 508.2,274.0 508.5,275.2 508.8,275.8 509.1,275.0 509.4,273.3 509.8,271.7 510.1,269.7 510.4,267.9 510.7,267.2 511.0,267.6 511.3,268.2 511.6,269.0 511.9,270.1 512.2,271.6 512.6,273.1 512.9,274.0 513.2,274.5 513.5,274.8 513.8,274.6 514.1,274.6 514.4,274.7 514.7,274.1 515.0,273.1 515.4,272.1 515.7,271.1 516.0,270.3 516.3,270.2 516.6,270.5 516.9,270.4 517.2,270.3 517.5,270.5 517.9,271.1 518.2,272.5 518.5,273.8 518.8,274.2 519.1,274.5 519.4,274.0 519.7,272.6 520.0,271.8 520.3,271.3 520.7,271.3 521.0,271.3 521.3,270.5 521.6,268.8 521.9,266.8 522.2,265.6 522.5,266.1 522.8,267.8 523.1,270.5 523.5,273.2 523.8,274.7 524.1,275.5 524.4,275.8 524.7,275.4 525.0,274.8 525.3,274.3 525.6,274.1 525.9,273.5 526.3,272.4 526.6,271.3 526.9,270.2 527.2,269.8 527.5,270.9 527.8,272.4 528.1,273.7 528.4,274.6 528.7,275.1 529.1,275.4 529.4,275.3 529.7,274.9 530.0,274.6 530.3,273.8 530.6,272.0 530.9,269.6 531.2,267.6 531.6,266.6 531.9,266.3 532.2,266.5 532.5,267.9 532.8,270.2 533.1,272.0 533.4,272.8 533.7,273.4 534.0,274.5 534.4,275.0 534.7,274.5 535.0,274.0 535.3,273.8 535.6,273.6 535.9,273.3 536.2,273.5 536.5,273.5 536.8,272.9 537.2,272.2 537.5,271.7 537.8,271.3 538.1,270.9 538.4,271.5" stroke="#a86c6c"/><polyline points="351.6,338.2 351.9,331.3 352.2,324.4 352.5,317.5 352.8,313.4 353.2,309.3 353.5,305.3 353.8,301.2 354.1,297.1 354.4,293.1 354.7,289.0 355.0,284.9 355.3,280.9 355.6,276.8 356.0,272.7 356.3,268.7 356.6,264.6 356.9,262.7 357.2,260.7 357.5,258.8 357.8,259.3 358.1,259.8 358.4,260.4 358.8,260.9 359.1,261.5 359.4,262.0 359.7,262.5 360.0,262.6 360.3,262.7 360.6,262.8 360.9,262.9 361.3,263.0 361.6,263.1 361.9,263.2 362.2,263.3 362.5,263.4 362.8,263.9 363.1,264.3 363.4,264.8 363.7,265.2 364.1,265.7 364.4,266.1 364.7,266.6 365.0,267.0 365.3,267.5 365.6,267.9 365.9,268.2 366.2,268.5 366.5,268.8 366.9,269.0 367.2,269.3 367.5,269.6 367.8,269.9 368.1,270.5 368.4,271.1 368.7,271.7 369.0,272.3 369.3,273.0 369.7,273.6 370.0,274.9 370.3,276.2 370.6,277.5 370.9,278.8 371.2,280.1 371.5,279.5 371.8,278.9 372.1,278.3 372.5,277.7 372.8,277.1 373.1,276.1 373.4,275.8 373.7,276.0 374.0,276.0 374.3,275.8 374.6,275.1 375.0,274.1 375.3,272.7 375.6,271.0 375.9,270.1 376.2,270.2 376.5,271.1 376.8,272.5 377.1,273.4 377.4,273.3 377.8,272.7 378.1,271.9 378.4,270.5 378.7,269.2 379.0,268.6 379.3,268.7 379.6,268.7 379.9,268.9 380.2,269.6 380.6,269.9 380.9,270.3 381.2,271.8 381.5,273.2 381.8,273.6 382.1,273.4 382.4,272.9 382.7,272.0 383.0,271.3 383.4,270.8 383.7,270.0 384.0,269.2 384.3,267.7 384.6,266.3 384.9,265.7 385.2,265.8 385.5,266.9 385.8,269.0 386.2,271.8 386.5,274.6 386.8,276.0 387.1,276.3 387.4,276.4 387.7,276.3 388.0,276.2 388.3,276.7 388.6,277.5 389.0,277.7 389.3,276.8 389.6,276.1 389.9,275.0 390.2,273.6 390.5,272.2 390.8,270.6 391.1,270.2 391.5,270.8 391.8,271.2 392.1,271.9 392.4,272.8 392.7,274.5 393.0,276.1 393.3,277.0 393.6,276.9 393.9,276.8 394.3,276.6 394.6,276.0 394.9,275.7 395.2,275.6 395.5,275.5 395.8,274.2 396.1,271.9 396.4,270.4 396.7,269.7 397.1,269.8 397.4,270.9 397.7,272.4 398.0,273.3 398.3,272.8 398.6,271.9 398.9,271.8 399.2,272.2 399.5,272.9 399.9,274.0 400.2,275.0 400.5,275.5 400.8,275.0 401.1,274.0 401.4,272.6 401.7,269.8 402.0,267.2 402.3,265.7 402.7,265.2 403.0,265.9 403.3,267.5 403.6,270.0 403.9,272.8 404.2,274.8 404.5,276.5 404.8,277.8 405.1,277.7 405.5,276.5 405.8,274.9 406.1,273.5 406.4,272.8 406.7,272.0 407.0,271.7 407.3,271.7 407.6,272.0 408.0,272.0 408.3,271.9 408.6,272.9 408.9,274.7 409.2,275.7 409.5,276.6 409.8,277.0 410.1,276.4 410.4,275.2 410.8,274.2 411.1,273.5 411.4,272.9 411.7,272.4 412.0,271.8 412.3,271.2 412.6,271.1 412.9,271.5 413.2,272.1 413.6,272.2 413.9,272.9 414.2,273.1 414.5,272.7 414.8,272.4 415.1,272.8 415.4,273.6 415.7,274.0 416.0,273.7 416.4,273.2 416.7,272.9 417.0,273.2 417.3,273.6 417.6,274.0 417.9,274.8 418.2,275.7 418.5,276.8 418.8,278.1 419.2,279.2 419.5,279.6 419.8,278.9 420.1,277.2 420.4,275.3 420.7,274.0 421.0,273.0 421.3,272.3 421.6,272.1 422.0,272.1 422.3,272.6 422.6,273.1 422.9,273.8 423.2,274.6 423.5,274.8 423.8,274.8 424.1,274.9 424.5,275.1 424.8,275.7 425.1,276.5 425.4,276.8 425.7,276.9 426.0,276.1 426.3,275.0 426.6,273.6 426.9,272.5 427.3,271.9 427.6,271.6 427.9,271.2 428.2,271.4 428.5,272.4 428.8,273.4 429.1,274.1 429.4,274.5 429.7,274.4 430.1,274.3 430.4,274.0 430.7,272.8 431.0,271.5 431.3,271.3 431.6,271.8 431.9,272.7 432.2,274.1 432.5,274.7 432.9,273.9 433.2,273.1 433.5,273.0 433.8,272.8 434.1,273.3 434.4,275.2 434.7,276.4 435.0,276.5 435.3,275.8 435.7,275.1 436.0,274.8 436.3,275.6 436.6,276.7 436.9,277.5 437.2,278.1 437.5,278.4 437.8,277.7 438.2,276.2 438.5,274.4 438.8,273.0 439.1,271.6 439.4,270.3 439.7,269.2 440.0,268.0 440.3,266.9 440.6,266.8 441.0,267.2 441.3,268.2 441.6,269.9 441.9,271.6 442.2,273.2 442.5,274.4 442.8,275.0 443.1,275.7 443.4,276.0 443.8,275.8 444.1,275.6 444.4,275.3 444.7,275.6 445.0,275.6 445.3,275.1 445.6,273.9 445.9,272.1 446.2,270.3 446.6,269.5 446.9,269.8 447.2,270.7 447.5,272.0 447.8,273.5 448.1,274.4 448.4,274.7 448.7,274.6 449.0,274.3 449.4,274.2 449.7,274.9 450.0,276.3 450.3,276.4 450.6,275.6 450.9,274.6 451.2,273.7 451.5,273.6 451.8,274.4 452.2,275.3 452.5,275.3 452.8,275.2 453.1,275.1 453.4,274.7 453.7,274.3 454.0,273.7 454.3,273.1 454.7,273.2 455.0,273.8 455.3,274.5 455.6,274.5 455.9,274.5 456.2,274.9 456.5,275.0 456.8,274.5 457.1,273.5 457.5,272.8 457.8,272.4 458.1,272.2 458.4,272.3 458.7,272.5 459.0,273.0 459.3,274.0 459.6,275.1 459.9,275.3 460.3,273.7 460.6,270.3 460.9,265.9 461.2,261.7 461.5,258.8 461.8,257.7 462.1,258.4 462.4,261.1 462.7,264.9 463.1,268.9 463.4,272.7 463.7,275.4 464.0,277.3 464.3,278.2 464.6,278.8 464.9,279.5 465.2,279.2 465.5,278.0 465.9,276.5 466.2,274.9 466.5,273.4 466.8,272.0 467.1,271.1 467.4,270.5 467.7,269.9 468.0,269.7 468.4,270.2 468.7,271.1 469.0,272.1 469.3,273.2 469.6,274.6 469.9,275.5 470.2,276.3 470.5,276.7 470.8,276.5 471.2,276.3 471.5,276.1 471.8,275.3 472.1,273.9 472.4,272.3 472.7,271.3 473.0,270.9 473.3,271.2 473.6,271.9 474.0,272.3 474.3,272.6 474.6,273.3 474.9,273.5 475.2,273.3 475.5,273.7 475.8,274.5 476.1,274.7 476.4,274.8 476.8,275.2 477.1,275.6 477.4,275.5 477.7,274.7 478.0,274.1 478.3,274.7 478.6,275.9 478.9,276.8 479.2,276.9 479.6,276.8 479.9,276.8 480.2,276.3 480.5,275.7 480.8,275.0 481.1,273.5 481.4,271.7 481.7,269.7 482.0,267.5 482.4,266.4 482.7,266.2 483.0,267.0 483.3,269.0 483.6,271.4 483.9,273.8 484.2,275.9 484.5,277.4 484.9,278.4 485.2,278.6 485.5,278.7 485.8,277.7 486.1,275.7 486.4,273.8 486.7,272.6 487.0,272.5 487.3,273.6 487.7,275.4 488.0,277.2 488.3,277.8 488.6,277.3 488.9,276.1 489.2,275.0 489.5,273.9 489.8,273.0 490.1,272.6 490.5,272.2 490.8,271.6 491.1,271.0 491.4,270.6 491.7,270.6 492.0,270.8 492.3,271.0 492.6,270.8 492.9,270.8 493.3,271.8 493.6,273.1 493.9,274.1 494.2,275.2 494.5,276.1 494.8,276.0 495.1,275.3 495.4,274.5 495.7,274.4 496.1,274.3 496.4,273.5 496.7,272.8 497.0,272.4 497.3,272.2 497.6,271.9 497.9,271.8 498.2,272.1 498.5,272.4 498.9,272.2 499.2,271.5 499.5,271.0 499.8,271.2 500.1,270.8 500.4,269.9 500.7,269.6 501.0,269.9 501.4,270.5 501.7,270.4 502.0,270.1 502.3,270.2 502.6,270.7 502.9,271.5 503.2,272.9 503.5,274.7 503.8,276.6 504.2,277.9 504.5,278.1 504.8,277.3 505.1,276.1 505.4,274.8 505.7,273.2 506.0,271.4 506.3,269.7 506.6,269.0 507.0,269.9 507.3,271.0 507.6,271.8 507.9,273.0 508.2,274.2 508.5,275.2 508.8,276.0 509.1,276.3 509.4,275.6 509.8,274.1 510.1,272.8 510.4,271.9 510.7,271.8 511.0,272.3 511.3,272.9 511.6,273.8 511.9,274.9 512.2,275.3 512.6,275.0 512.9,274.9 513.2,275.3 513.5,275.9 513.8,275.8 514.1,275.5 514.4,275.6 514.7,275.4 515.0,275.1 515.4,274.8 515.7,274.0 516.0,272.5 516.3,271.0 516.6,270.2 516.9,270.3 517.2,270.6 517.5,271.0 517.9,272.4 518.2,274.4 518.5,275.9 518.8,276.5 519.1,276.9 519.4,276.9 519.7,276.0 520.0,275.0 520.3,274.1 520.7,273.4 521.0,272.9 521.3,272.0 521.6,270.7 521.9,269.7 522.2,269.3 522.5,269.8 522.8,271.4 523.1,273.1 523.5,274.5 523.8,275.8 524.1,276.0 524.4,275.4 524.7,274.3 525.0,273.3 525.3,272.8 525.6,272.4 525.9,271.5 526.3,270.9 526.6,270.7 526.9,270.8 527.2,271.7 527.5,273.4 527.8,275.0 528.1,276.2 528.4,277.6 528.7,278.4 529.1,278.7 529.4,278.6 529.7,277.4 530.0,275.6 530.3,273.3 530.6,270.7 530.9,267.9 531.2,265.9 531.6,264.6 531.9,264.6 532.2,266.1 532.5,268.1 532.8,270.4 533.1,272.8 533.4,274.8 533.7,276.4 534.0,277.9 534.4,279.2 534.7,279.1 535.0,278.7 535.3,278.2 535.6,277.8 535.9,277.7 536.2,277.2 536.5,276.2 536.8,275.4 537.2,274.1 537.5,272.7 537.8,271.9 538.1,272.3 538.4,273.4" stroke="#8e8e22"/></g>
<path d="M351.60,204.40V338.20H538.40" fill="none" stroke="#626262" stroke-width="1"/><path d="M351.60,338.20h5.2M351.60,329.84h2.6M351.60,321.47h5.2M351.60,313.11h2.6M351.60,304.75h5.2M351.60,296.39h2.6M351.60,288.02h5.2M351.60,279.66h2.6M351.60,271.30h5.2M351.60,262.94h2.6M351.60,254.57h5.2M351.60,246.21h2.6M351.60,237.85h5.2M351.60,229.49h2.6M351.60,221.12h5.2M351.60,212.76h2.6M351.60,204.40h5.2M351.60,338.20v-5.2M367.17,338.20v-2.6M382.73,338.20v-5.2M398.30,338.20v-2.6M413.87,338.20v-5.2M429.43,338.20v-2.6M445.00,338.20v-5.2M460.57,338.20v-2.6M476.13,338.20v-5.2M491.70,338.20v-2.6M507.27,338.20v-5.2M522.83,338.20v-2.6M538.40,338.20v-5.2" fill="none" stroke="#626262" stroke-width="0.9"/><g class="tk"><text x="346.20" y="340.90" text-anchor="end">0</text><text x="346.20" y="324.17" text-anchor="end">100</text><text x="346.20" y="307.45" text-anchor="end">200</text><text x="346.20" y="290.72" text-anchor="end">300</text><text x="346.20" y="274.00" text-anchor="end">400</text><text x="346.20" y="257.27" text-anchor="end">500</text><text x="346.20" y="240.55" text-anchor="end">600</text><text x="346.20" y="223.82" text-anchor="end">700</text><text x="346.20" y="207.10" text-anchor="end">800</text><text x="351.60" y="350.70" text-anchor="middle">0</text><text x="382.73" y="350.70" text-anchor="middle">100</text><text x="413.87" y="350.70" text-anchor="middle">200</text><text x="445.00" y="350.70" text-anchor="middle">300</text><text x="476.13" y="350.70" text-anchor="middle">400</text><text x="507.27" y="350.70" text-anchor="middle">500</text><text x="538.40" y="350.70" text-anchor="middle">600</text></g><text class="ti" x="445.20" y="363.70" text-anchor="middle">t/(s)</text><text class="ti" transform="translate(329.10,276.30) rotate(-90)" text-anchor="middle">T/(°C)</text><text class="pl" x="428.80" y="389.20" text-anchor="middle">(<tspan font-weight="bold">d</tspan>)</text><g><path d="M479.70,290.10h16.2" stroke="#9a9a9a" stroke-width="1.05"/><text class="lg" x="497.70" y="292.80">T1</text><path d="M479.70,299.35h16.2" stroke="#f47878" stroke-width="1.05"/><text class="lg" x="497.70" y="302.05">T2</text><path d="M479.70,308.60h16.2" stroke="#5a94f0" stroke-width="1.05"/><text class="lg" x="497.70" y="311.30">T3</text><path d="M479.70,317.85h16.2" stroke="#6acaa2" stroke-width="1.05"/><text class="lg" x="497.70" y="320.55">T4</text><path d="M479.70,327.10h16.2" stroke="#e0a4f2" stroke-width="1.05"/><text class="lg" x="497.70" y="329.80">T5</text><path d="M508.10,290.10h16.2" stroke="#f2c474" stroke-width="1.05"/><text class="lg" x="526.10" y="292.80">T6</text><path d="M508.10,299.35h16.2" stroke="#66dede" stroke-width="1.05"/><text class="lg" x="526.10" y="302.05">T7</text><path d="M508.10,308.60h16.2" stroke="#b47a7a" stroke-width="1.05"/><text class="lg" x="526.10" y="311.30">T8</text><path d="M508.10,317.85h16.2" stroke="#a8a85a" stroke-width="1.05"/><text class="lg" x="526.10" y="320.55">T9</text></g>
</svg>
</body></html>
